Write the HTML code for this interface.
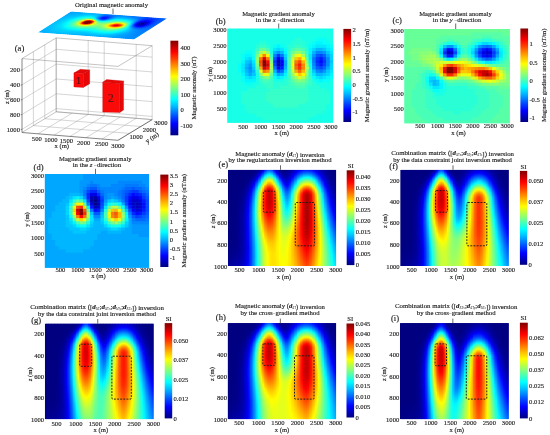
<!DOCTYPE html>
<html lang="en"><head><meta charset="utf-8"><title>Figure</title>
<style>html,body{margin:0;padding:0;background:#fff}svg{display:block}text{stroke:#222;stroke-width:.14px;stroke-linejoin:round}</style></head>
<body>
<svg width="550" height="435" viewBox="0 0 550 435" font-family='"Liberation Serif", "DejaVu Serif", serif' fill="#1a1a1a">
<defs><clipPath id="cp1"><rect x="0" y="0" width="100" height="100"/></clipPath><linearGradient id="g2" x2="0" y2="1"><stop offset="0" stop-color="#00a1ff"/><stop offset=".52" stop-color="#00bfff"/><stop offset=".72" stop-color="#00bbff"/><stop offset="1" stop-color="#00aaff"/></linearGradient><linearGradient id="g3" x2="0" y2="1"><stop offset="0" stop-color="#00a2ff"/><stop offset=".36" stop-color="#00beff"/><stop offset=".51" stop-color="#00c4ff"/><stop offset=".71" stop-color="#00bfff"/><stop offset="1" stop-color="#00acff"/></linearGradient><linearGradient id="g4" x2="0" y2="1"><stop offset="0" stop-color="#00a3ff"/><stop offset=".35" stop-color="#00c4ff"/><stop offset=".49" stop-color="#00caff"/><stop offset=".68" stop-color="#00c6ff"/><stop offset="1" stop-color="#00aeff"/></linearGradient><linearGradient id="g5" x2="0" y2="1"><stop offset="0" stop-color="#00a4ff"/><stop offset=".35" stop-color="#00cbff"/><stop offset=".48" stop-color="#00d3ff"/><stop offset=".65" stop-color="#00cdff"/><stop offset="1" stop-color="#00b0ff"/></linearGradient><linearGradient id="g6" x2="0" y2="1"><stop offset="0" stop-color="#00a5ff"/><stop offset=".35" stop-color="#00d5ff"/><stop offset=".47" stop-color="#00ddff"/><stop offset=".59" stop-color="#00d8ff"/><stop offset="1" stop-color="#00b2ff"/></linearGradient><linearGradient id="g7" x2="0" y2="1"><stop offset="0" stop-color="#00a6ff"/><stop offset=".14" stop-color="#00b8ff"/><stop offset=".35" stop-color="#00e2ff"/><stop offset=".46" stop-color="#00ebff"/><stop offset=".56" stop-color="#00e6ff"/><stop offset="1" stop-color="#00b4ff"/></linearGradient><linearGradient id="g8" x2="0" y2="1"><stop offset="0" stop-color="#00a7ff"/><stop offset=".14" stop-color="#00bcff"/><stop offset=".35" stop-color="#00f3ff"/><stop offset=".45" stop-color="#00fdff"/><stop offset=".54" stop-color="#00f7ff"/><stop offset=".78" stop-color="#00ceff"/><stop offset="1" stop-color="#00b5ff"/></linearGradient><linearGradient id="g9" x2="0" y2="1"><stop offset="0" stop-color="#00a8ff"/><stop offset=".14" stop-color="#00c2ff"/><stop offset=".33" stop-color="#03fffc"/><stop offset=".4" stop-color="#11ffee"/><stop offset=".46" stop-color="#15ffea"/><stop offset=".59" stop-color="#00feff"/><stop offset=".78" stop-color="#00d2ff"/><stop offset="1" stop-color="#00b6ff"/></linearGradient><linearGradient id="g10" x2="0" y2="1"><stop offset="0" stop-color="#00a9ff"/><stop offset=".12" stop-color="#00c4ff"/><stop offset=".27" stop-color="#00ffff"/><stop offset=".36" stop-color="#24ffdb"/><stop offset=".45" stop-color="#31ffce"/><stop offset=".52" stop-color="#27ffd8"/><stop offset=".65" stop-color="#00feff"/><stop offset=".8" stop-color="#00d2ff"/><stop offset="1" stop-color="#00b7ff"/></linearGradient><linearGradient id="g11" x2="0" y2="1"><stop offset="0" stop-color="#00aaff"/><stop offset=".11" stop-color="#00c6ff"/><stop offset=".24" stop-color="#03fffc"/><stop offset=".35" stop-color="#3fffc0"/><stop offset=".4" stop-color="#4cffb3"/><stop offset=".44" stop-color="#52ffad"/><stop offset=".52" stop-color="#43ffbc"/><stop offset=".68" stop-color="#00ffff"/><stop offset=".81" stop-color="#00d4ff"/><stop offset="1" stop-color="#00b7ff"/></linearGradient><linearGradient id="g12" x2="0" y2="1"><stop offset="0" stop-color="#00abff"/><stop offset=".1" stop-color="#00c7ff"/><stop offset=".21" stop-color="#00ffff"/><stop offset=".35" stop-color="#64ff9b"/><stop offset=".4" stop-color="#77ff88"/><stop offset=".44" stop-color="#7cff83"/><stop offset=".48" stop-color="#74ff8b"/><stop offset=".52" stop-color="#64ff9b"/><stop offset=".7" stop-color="#02fffd"/><stop offset=".82" stop-color="#00d4ff"/><stop offset="1" stop-color="#00b8ff"/></linearGradient><linearGradient id="g13" x2="0" y2="1"><stop offset="0" stop-color="#00abff"/><stop offset=".09" stop-color="#00c7ff"/><stop offset=".19" stop-color="#00fdff"/><stop offset=".25" stop-color="#32ffcd"/><stop offset=".36" stop-color="#a4ff5b"/><stop offset=".4" stop-color="#b8ff47"/><stop offset=".43" stop-color="#beff41"/><stop offset=".48" stop-color="#aaff55"/><stop offset=".64" stop-color="#34ffcb"/><stop offset=".72" stop-color="#00ffff"/><stop offset=".83" stop-color="#00d4ff"/><stop offset="1" stop-color="#00b7ff"/></linearGradient><linearGradient id="g14" x2="0" y2="1"><stop offset="0" stop-color="#00aaff"/><stop offset=".08" stop-color="#00c4ff"/><stop offset=".14" stop-color="#00e0ff"/><stop offset=".18" stop-color="#00fdff"/><stop offset=".19" stop-color="#07fff8"/><stop offset=".23" stop-color="#2fffd0"/><stop offset=".27" stop-color="#63ff9c"/><stop offset=".3" stop-color="#95ff6a"/><stop offset=".35" stop-color="#f3ff0c"/><stop offset=".36" stop-color="#fffa00"/><stop offset=".4" stop-color="#ffd500"/><stop offset=".42" stop-color="#ffce00"/><stop offset=".45" stop-color="#ffdc00"/><stop offset=".48" stop-color="#fcff03"/><stop offset=".54" stop-color="#a4ff5b"/><stop offset=".58" stop-color="#75ff8a"/><stop offset=".66" stop-color="#34ffcb"/><stop offset=".73" stop-color="#02fffd"/><stop offset=".84" stop-color="#00d2ff"/><stop offset="1" stop-color="#00b7ff"/></linearGradient><linearGradient id="g15" x2="0" y2="1"><stop offset="0" stop-color="#00a9ff"/><stop offset=".09" stop-color="#00c8ff"/><stop offset=".14" stop-color="#00dfff"/><stop offset=".18" stop-color="#00ffff"/><stop offset=".22" stop-color="#2cffd3"/><stop offset=".25" stop-color="#5bffa4"/><stop offset=".28" stop-color="#9cff63"/><stop offset=".31" stop-color="#f3ff0c"/><stop offset=".32" stop-color="#ffe900"/><stop offset=".35" stop-color="#ff8400"/><stop offset=".38" stop-color="#ff4a00"/><stop offset=".4" stop-color="#ff2400"/><stop offset=".42" stop-color="#ff1900"/><stop offset=".43" stop-color="#ff1e00"/><stop offset=".45" stop-color="#ff3b00"/><stop offset=".47" stop-color="#ff6b00"/><stop offset=".52" stop-color="#fff900"/><stop offset=".53" stop-color="#ecff13"/><stop offset=".55" stop-color="#c1ff3e"/><stop offset=".57" stop-color="#9fff60"/><stop offset=".61" stop-color="#69ff96"/><stop offset=".68" stop-color="#2effd1"/><stop offset=".74" stop-color="#01fffe"/><stop offset=".8" stop-color="#00e1ff"/><stop offset=".85" stop-color="#00d0ff"/><stop offset="1" stop-color="#00b6ff"/></linearGradient><linearGradient id="g16" x2="0" y2="1"><stop offset="0" stop-color="#00a6ff"/><stop offset=".1" stop-color="#00c6ff"/><stop offset=".15" stop-color="#00deff"/><stop offset=".19" stop-color="#02fffd"/><stop offset=".22" stop-color="#29ffd6"/><stop offset=".25" stop-color="#65ff9a"/><stop offset=".27" stop-color="#9dff62"/><stop offset=".29" stop-color="#e7ff18"/><stop offset=".3" stop-color="#ffeb00"/><stop offset=".34" stop-color="#ff1e00"/><stop offset=".35" stop-color="#ea0000"/><stop offset=".38" stop-color="#8f0000"/><stop offset=".39" stop-color="#800000"/><stop offset=".45" stop-color="#800000"/><stop offset=".46" stop-color="#a40000"/><stop offset=".48" stop-color="#fc0000"/><stop offset=".51" stop-color="#ff8600"/><stop offset=".53" stop-color="#ffd400"/><stop offset=".54" stop-color="#fff600"/><stop offset=".55" stop-color="#ebff14"/><stop offset=".58" stop-color="#a7ff58"/><stop offset=".62" stop-color="#6bff94"/><stop offset=".68" stop-color="#36ffc9"/><stop offset=".74" stop-color="#05fffa"/><stop offset=".75" stop-color="#00fdff"/><stop offset=".8" stop-color="#00e3ff"/><stop offset=".85" stop-color="#00d0ff"/><stop offset="1" stop-color="#00b5ff"/></linearGradient><linearGradient id="g17" x2="0" y2="1"><stop offset="0" stop-color="#00a2ff"/><stop offset=".07" stop-color="#00aeff"/><stop offset=".12" stop-color="#00beff"/><stop offset=".17" stop-color="#00d6ff"/><stop offset=".21" stop-color="#03fffc"/><stop offset=".23" stop-color="#27ffd8"/><stop offset=".25" stop-color="#59ffa6"/><stop offset=".27" stop-color="#9dff62"/><stop offset=".29" stop-color="#f9ff06"/><stop offset=".3" stop-color="#ffcf00"/><stop offset=".33" stop-color="#ff1000"/><stop offset=".34" stop-color="#cb0000"/><stop offset=".35" stop-color="#890000"/><stop offset=".36" stop-color="#800000"/><stop offset=".47" stop-color="#800000"/><stop offset=".48" stop-color="#9e0000"/><stop offset=".49" stop-color="#d90000"/><stop offset=".5" stop-color="#ff1400"/><stop offset=".52" stop-color="#ff7e00"/><stop offset=".54" stop-color="#ffd400"/><stop offset=".55" stop-color="#fff800"/><stop offset=".56" stop-color="#e8ff17"/><stop offset=".59" stop-color="#a3ff5c"/><stop offset=".64" stop-color="#67ff98"/><stop offset=".69" stop-color="#31ffce"/><stop offset=".75" stop-color="#00ffff"/><stop offset=".8" stop-color="#00e3ff"/><stop offset=".85" stop-color="#00d0ff"/><stop offset="1" stop-color="#00b4ff"/></linearGradient><linearGradient id="g18" x2="0" y2="1"><stop offset="0" stop-color="#009cff"/><stop offset=".1" stop-color="#009eff"/><stop offset=".16" stop-color="#00a9ff"/><stop offset=".2" stop-color="#00c8ff"/><stop offset=".23" stop-color="#00f9ff"/><stop offset=".24" stop-color="#11ffee"/><stop offset=".26" stop-color="#4effb1"/><stop offset=".28" stop-color="#a1ff5e"/><stop offset=".29" stop-color="#d3ff2c"/><stop offset=".3" stop-color="#fff200"/><stop offset=".33" stop-color="#ff2e00"/><stop offset=".34" stop-color="#e80000"/><stop offset=".35" stop-color="#a50000"/><stop offset=".36" stop-color="#800000"/><stop offset=".47" stop-color="#800000"/><stop offset=".48" stop-color="#a70000"/><stop offset=".49" stop-color="#e00000"/><stop offset=".5" stop-color="#ff1900"/><stop offset=".52" stop-color="#ff8000"/><stop offset=".54" stop-color="#ffd400"/><stop offset=".55" stop-color="#fff700"/><stop offset=".56" stop-color="#e9ff16"/><stop offset=".59" stop-color="#a4ff5b"/><stop offset=".64" stop-color="#69ff96"/><stop offset=".69" stop-color="#32ffcd"/><stop offset=".75" stop-color="#01fffe"/><stop offset=".8" stop-color="#00e3ff"/><stop offset=".85" stop-color="#00cfff"/><stop offset="1" stop-color="#00b3ff"/></linearGradient><linearGradient id="g19" x2="0" y2="1"><stop offset="0" stop-color="#0093ff"/><stop offset=".14" stop-color="#0077ff"/><stop offset=".18" stop-color="#007dff"/><stop offset=".2" stop-color="#008cff"/><stop offset=".22" stop-color="#00a5ff"/><stop offset=".24" stop-color="#00ccff"/><stop offset=".26" stop-color="#05fffa"/><stop offset=".28" stop-color="#50ffaf"/><stop offset=".29" stop-color="#7dff82"/><stop offset=".31" stop-color="#e4ff1b"/><stop offset=".32" stop-color="#ffe100"/><stop offset=".35" stop-color="#ff3400"/><stop offset=".36" stop-color="#fe0000"/><stop offset=".38" stop-color="#d00000"/><stop offset=".39" stop-color="#a90000"/><stop offset=".4" stop-color="#8c0000"/><stop offset=".41" stop-color="#800000"/><stop offset=".43" stop-color="#800000"/><stop offset=".44" stop-color="#870000"/><stop offset=".45" stop-color="#9f0000"/><stop offset=".47" stop-color="#e50000"/><stop offset=".48" stop-color="#ff0e00"/><stop offset=".51" stop-color="#ff8b00"/><stop offset=".53" stop-color="#ffd400"/><stop offset=".54" stop-color="#fff300"/><stop offset=".55" stop-color="#efff10"/><stop offset=".58" stop-color="#aeff51"/><stop offset=".62" stop-color="#72ff8d"/><stop offset=".69" stop-color="#31ffce"/><stop offset=".75" stop-color="#00ffff"/><stop offset=".8" stop-color="#00e2ff"/><stop offset=".85" stop-color="#00ceff"/><stop offset="1" stop-color="#00b2ff"/></linearGradient><linearGradient id="g20" x2="0" y2="1"><stop offset="0" stop-color="#008bff"/><stop offset=".05" stop-color="#007aff"/><stop offset=".15" stop-color="#0046ff"/><stop offset=".17" stop-color="#0042ff"/><stop offset=".19" stop-color="#0046ff"/><stop offset=".22" stop-color="#0061ff"/><stop offset=".24" stop-color="#0083ff"/><stop offset=".26" stop-color="#00b4ff"/><stop offset=".28" stop-color="#00f3ff"/><stop offset=".29" stop-color="#19ffe6"/><stop offset=".3" stop-color="#41ffbe"/><stop offset=".34" stop-color="#f0ff0f"/><stop offset=".35" stop-color="#ffe300"/><stop offset=".38" stop-color="#ff9800"/><stop offset=".4" stop-color="#ff6300"/><stop offset=".41" stop-color="#ff5200"/><stop offset=".43" stop-color="#ff4700"/><stop offset=".44" stop-color="#ff4c00"/><stop offset=".46" stop-color="#ff6800"/><stop offset=".52" stop-color="#fff400"/><stop offset=".53" stop-color="#f4ff0b"/><stop offset=".57" stop-color="#acff53"/><stop offset=".61" stop-color="#76ff89"/><stop offset=".68" stop-color="#37ffc8"/><stop offset=".74" stop-color="#05fffa"/><stop offset=".75" stop-color="#00fdff"/><stop offset=".8" stop-color="#00e1ff"/><stop offset=".85" stop-color="#00cdff"/><stop offset="1" stop-color="#00b0ff"/></linearGradient><linearGradient id="g21" x2="0" y2="1"><stop offset="0" stop-color="#0084ff"/><stop offset=".05" stop-color="#006bff"/><stop offset=".15" stop-color="#0022ff"/><stop offset=".17" stop-color="#0019ff"/><stop offset=".19" stop-color="#0018ff"/><stop offset=".22" stop-color="#002cff"/><stop offset=".24" stop-color="#004aff"/><stop offset=".27" stop-color="#008fff"/><stop offset=".3" stop-color="#00ebff"/><stop offset=".31" stop-color="#0dfff2"/><stop offset=".35" stop-color="#94ff6b"/><stop offset=".38" stop-color="#ccff33"/><stop offset=".4" stop-color="#f7ff08"/><stop offset=".41" stop-color="#fff800"/><stop offset=".42" stop-color="#ffed00"/><stop offset=".44" stop-color="#ffe400"/><stop offset=".46" stop-color="#ffea00"/><stop offset=".48" stop-color="#fffb00"/><stop offset=".49" stop-color="#f8ff07"/><stop offset=".56" stop-color="#a2ff5d"/><stop offset=".61" stop-color="#6cff93"/><stop offset=".68" stop-color="#32ffcd"/><stop offset=".74" stop-color="#03fffc"/><stop offset=".85" stop-color="#00ccff"/><stop offset="1" stop-color="#00afff"/></linearGradient><linearGradient id="g22" x2="0" y2="1"><stop offset="0" stop-color="#007fff"/><stop offset=".05" stop-color="#0065ff"/><stop offset=".16" stop-color="#000eff"/><stop offset=".18" stop-color="#0007ff"/><stop offset=".2" stop-color="#0009ff"/><stop offset=".22" stop-color="#0018ff"/><stop offset=".25" stop-color="#0044ff"/><stop offset=".28" stop-color="#0089ff"/><stop offset=".32" stop-color="#00f8ff"/><stop offset=".33" stop-color="#15ffea"/><stop offset=".36" stop-color="#62ff9d"/><stop offset=".4" stop-color="#9cff63"/><stop offset=".43" stop-color="#beff41"/><stop offset=".46" stop-color="#c8ff37"/><stop offset=".49" stop-color="#c1ff3e"/><stop offset=".52" stop-color="#afff50"/><stop offset=".68" stop-color="#2effd1"/><stop offset=".74" stop-color="#01fffe"/><stop offset=".85" stop-color="#00cbff"/><stop offset="1" stop-color="#00aeff"/></linearGradient><linearGradient id="g23" x2="0" y2="1"><stop offset="0" stop-color="#007eff"/><stop offset=".05" stop-color="#0066ff"/><stop offset=".16" stop-color="#001bff"/><stop offset=".18" stop-color="#0016ff"/><stop offset=".2" stop-color="#0019ff"/><stop offset=".22" stop-color="#0026ff"/><stop offset=".25" stop-color="#004eff"/><stop offset=".28" stop-color="#008bff"/><stop offset=".33" stop-color="#03fffc"/><stop offset=".38" stop-color="#57ffa8"/><stop offset=".41" stop-color="#83ff7c"/><stop offset=".44" stop-color="#9cff63"/><stop offset=".47" stop-color="#a5ff5a"/><stop offset=".51" stop-color="#9dff62"/><stop offset=".55" stop-color="#88ff77"/><stop offset=".74" stop-color="#01fffe"/><stop offset=".85" stop-color="#00cbff"/><stop offset="1" stop-color="#00adff"/></linearGradient><linearGradient id="g24" x2="0" y2="1"><stop offset="0" stop-color="#007eff"/><stop offset=".05" stop-color="#006eff"/><stop offset=".15" stop-color="#0041ff"/><stop offset=".19" stop-color="#003eff"/><stop offset=".22" stop-color="#0050ff"/><stop offset=".24" stop-color="#0066ff"/><stop offset=".27" stop-color="#0095ff"/><stop offset=".32" stop-color="#00f7ff"/><stop offset=".33" stop-color="#0cfff3"/><stop offset=".38" stop-color="#51ffae"/><stop offset=".41" stop-color="#75ff8a"/><stop offset=".44" stop-color="#8cff73"/><stop offset=".48" stop-color="#95ff6a"/><stop offset=".52" stop-color="#8dff72"/><stop offset=".56" stop-color="#78ff87"/><stop offset=".74" stop-color="#02fffd"/><stop offset=".86" stop-color="#00c9ff"/><stop offset="1" stop-color="#00acff"/></linearGradient><linearGradient id="g25" x2="0" y2="1"><stop offset="0" stop-color="#0080ff"/><stop offset=".14" stop-color="#006aff"/><stop offset=".19" stop-color="#0071ff"/><stop offset=".21" stop-color="#007cff"/><stop offset=".24" stop-color="#0098ff"/><stop offset=".27" stop-color="#00c0ff"/><stop offset=".31" stop-color="#01fffe"/><stop offset=".35" stop-color="#3effc1"/><stop offset=".4" stop-color="#6dff92"/><stop offset=".44" stop-color="#88ff77"/><stop offset=".48" stop-color="#90ff6f"/><stop offset=".52" stop-color="#88ff77"/><stop offset=".56" stop-color="#75ff8a"/><stop offset=".75" stop-color="#00fdff"/><stop offset=".86" stop-color="#00caff"/><stop offset="1" stop-color="#00abff"/></linearGradient><linearGradient id="g26" x2="0" y2="1"><stop offset="0" stop-color="#0082ff"/><stop offset=".1" stop-color="#0086ff"/><stop offset=".17" stop-color="#0095ff"/><stop offset=".22" stop-color="#00b5ff"/><stop offset=".28" stop-color="#00f7ff"/><stop offset=".29" stop-color="#04fffb"/><stop offset=".35" stop-color="#50ffaf"/><stop offset=".4" stop-color="#78ff87"/><stop offset=".44" stop-color="#90ff6f"/><stop offset=".47" stop-color="#96ff69"/><stop offset=".51" stop-color="#90ff6f"/><stop offset=".55" stop-color="#7eff81"/><stop offset=".75" stop-color="#02fffd"/><stop offset=".88" stop-color="#00c8ff"/><stop offset="1" stop-color="#00abff"/></linearGradient><linearGradient id="g27" x2="0" y2="1"><stop offset="0" stop-color="#0082ff"/><stop offset=".07" stop-color="#008eff"/><stop offset=".14" stop-color="#00a5ff"/><stop offset=".2" stop-color="#00caff"/><stop offset=".26" stop-color="#02fffd"/><stop offset=".35" stop-color="#66ff99"/><stop offset=".4" stop-color="#8dff72"/><stop offset=".44" stop-color="#a5ff5a"/><stop offset=".47" stop-color="#abff54"/><stop offset=".5" stop-color="#a5ff5a"/><stop offset=".54" stop-color="#90ff6f"/><stop offset=".76" stop-color="#00ffff"/><stop offset=".88" stop-color="#00c9ff"/><stop offset="1" stop-color="#00aaff"/></linearGradient><linearGradient id="g28" x2="0" y2="1"><stop offset="0" stop-color="#0082ff"/><stop offset=".05" stop-color="#008dff"/><stop offset=".1" stop-color="#00a2ff"/><stop offset=".17" stop-color="#00c9ff"/><stop offset=".23" stop-color="#00fbff"/><stop offset=".28" stop-color="#2effd1"/><stop offset=".41" stop-color="#b8ff47"/><stop offset=".44" stop-color="#cdff32"/><stop offset=".46" stop-color="#d3ff2c"/><stop offset=".48" stop-color="#d0ff2f"/><stop offset=".51" stop-color="#c1ff3e"/><stop offset=".65" stop-color="#53ffac"/><stop offset=".77" stop-color="#00feff"/><stop offset=".89" stop-color="#00c7ff"/><stop offset="1" stop-color="#00aaff"/></linearGradient><linearGradient id="g29" x2="0" y2="1"><stop offset="0" stop-color="#0081ff"/><stop offset=".04" stop-color="#008aff"/><stop offset=".09" stop-color="#00a1ff"/><stop offset=".15" stop-color="#00c4ff"/><stop offset=".22" stop-color="#01fffe"/><stop offset=".3" stop-color="#57ffa8"/><stop offset=".4" stop-color="#e0ff1f"/><stop offset=".42" stop-color="#faff05"/><stop offset=".43" stop-color="#fffa00"/><stop offset=".46" stop-color="#ffec00"/><stop offset=".48" stop-color="#fff000"/><stop offset=".5" stop-color="#feff01"/><stop offset=".58" stop-color="#99ff66"/><stop offset=".62" stop-color="#6fff90"/><stop offset=".69" stop-color="#3dffc2"/><stop offset=".77" stop-color="#04fffb"/><stop offset=".89" stop-color="#00c9ff"/><stop offset="1" stop-color="#00aaff"/></linearGradient><linearGradient id="g30" x2="0" y2="1"><stop offset="0" stop-color="#007fff"/><stop offset=".04" stop-color="#0089ff"/><stop offset=".09" stop-color="#00a2ff"/><stop offset=".15" stop-color="#00c7ff"/><stop offset=".21" stop-color="#00feff"/><stop offset=".26" stop-color="#33ffcc"/><stop offset=".3" stop-color="#68ff97"/><stop offset=".33" stop-color="#9dff62"/><stop offset=".38" stop-color="#f3ff0c"/><stop offset=".39" stop-color="#fff500"/><stop offset=".41" stop-color="#ffcb00"/><stop offset=".43" stop-color="#ffab00"/><stop offset=".45" stop-color="#ff9a00"/><stop offset=".46" stop-color="#ff9700"/><stop offset=".47" stop-color="#ff9a00"/><stop offset=".49" stop-color="#ffaa00"/><stop offset=".51" stop-color="#ffc800"/><stop offset=".54" stop-color="#fdff02"/><stop offset=".59" stop-color="#a3ff5c"/><stop offset=".64" stop-color="#71ff8e"/><stop offset=".7" stop-color="#3bffc4"/><stop offset=".78" stop-color="#01fffe"/><stop offset=".89" stop-color="#00caff"/><stop offset="1" stop-color="#00aaff"/></linearGradient><linearGradient id="g31" x2="0" y2="1"><stop offset="0" stop-color="#007cff"/><stop offset=".04" stop-color="#0087ff"/><stop offset=".09" stop-color="#00a1ff"/><stop offset=".21" stop-color="#01fffe"/><stop offset=".26" stop-color="#39ffc6"/><stop offset=".29" stop-color="#65ff9a"/><stop offset=".32" stop-color="#a0ff5f"/><stop offset=".35" stop-color="#edff12"/><stop offset=".36" stop-color="#fff400"/><stop offset=".4" stop-color="#ff9c00"/><stop offset=".42" stop-color="#ff6a00"/><stop offset=".44" stop-color="#ff4800"/><stop offset=".46" stop-color="#ff3d00"/><stop offset=".48" stop-color="#ff4900"/><stop offset=".5" stop-color="#ff6b00"/><stop offset=".55" stop-color="#ffea00"/><stop offset=".56" stop-color="#faff05"/><stop offset=".59" stop-color="#b8ff47"/><stop offset=".64" stop-color="#7bff84"/><stop offset=".69" stop-color="#48ffb7"/><stop offset=".78" stop-color="#03fffc"/><stop offset=".9" stop-color="#00c6ff"/><stop offset="1" stop-color="#00a9ff"/></linearGradient><linearGradient id="g32" x2="0" y2="1"><stop offset="0" stop-color="#0079ff"/><stop offset=".04" stop-color="#0084ff"/><stop offset=".09" stop-color="#009fff"/><stop offset=".15" stop-color="#00c6ff"/><stop offset=".21" stop-color="#01fffe"/><stop offset=".26" stop-color="#3cffc3"/><stop offset=".29" stop-color="#6cff93"/><stop offset=".32" stop-color="#afff50"/><stop offset=".34" stop-color="#eaff15"/><stop offset=".35" stop-color="#fff300"/><stop offset=".41" stop-color="#ff4600"/><stop offset=".43" stop-color="#ff1200"/><stop offset=".44" stop-color="#ff0100"/><stop offset=".46" stop-color="#f20000"/><stop offset=".48" stop-color="#ff0300"/><stop offset=".49" stop-color="#ff1500"/><stop offset=".51" stop-color="#ff4900"/><stop offset=".56" stop-color="#ffe800"/><stop offset=".57" stop-color="#f9ff06"/><stop offset=".6" stop-color="#b2ff4d"/><stop offset=".65" stop-color="#74ff8b"/><stop offset=".7" stop-color="#42ffbd"/><stop offset=".78" stop-color="#04fffb"/><stop offset=".9" stop-color="#00c6ff"/><stop offset="1" stop-color="#00a9ff"/></linearGradient><linearGradient id="g33" x2="0" y2="1"><stop offset="0" stop-color="#0076ff"/><stop offset=".04" stop-color="#0081ff"/><stop offset=".09" stop-color="#009bff"/><stop offset=".15" stop-color="#00c3ff"/><stop offset=".21" stop-color="#00fcff"/><stop offset=".25" stop-color="#2bffd4"/><stop offset=".28" stop-color="#59ffa6"/><stop offset=".31" stop-color="#98ff67"/><stop offset=".34" stop-color="#f2ff0d"/><stop offset=".35" stop-color="#ffe900"/><stop offset=".41" stop-color="#ff2e00"/><stop offset=".42" stop-color="#ff0f00"/><stop offset=".43" stop-color="#f40000"/><stop offset=".45" stop-color="#d60000"/><stop offset=".46" stop-color="#d30000"/><stop offset=".47" stop-color="#d80000"/><stop offset=".49" stop-color="#f80000"/><stop offset=".5" stop-color="#ff1300"/><stop offset=".51" stop-color="#ff3100"/><stop offset=".57" stop-color="#fffd00"/><stop offset=".6" stop-color="#b5ff4a"/><stop offset=".62" stop-color="#90ff6f"/><stop offset=".65" stop-color="#74ff8b"/><stop offset=".7" stop-color="#41ffbe"/><stop offset=".78" stop-color="#03fffc"/><stop offset=".9" stop-color="#00c5ff"/><stop offset="1" stop-color="#00a8ff"/></linearGradient><linearGradient id="g34" x2="0" y2="1"><stop offset="0" stop-color="#0073ff"/><stop offset=".04" stop-color="#007cff"/><stop offset=".09" stop-color="#0096ff"/><stop offset=".15" stop-color="#00bdff"/><stop offset=".22" stop-color="#01fffe"/><stop offset=".26" stop-color="#31ffce"/><stop offset=".29" stop-color="#62ff9d"/><stop offset=".32" stop-color="#a7ff58"/><stop offset=".34" stop-color="#e4ff1b"/><stop offset=".35" stop-color="#fff800"/><stop offset=".41" stop-color="#ff4300"/><stop offset=".43" stop-color="#ff0c00"/><stop offset=".44" stop-color="#f90000"/><stop offset=".46" stop-color="#eb0000"/><stop offset=".48" stop-color="#fb0000"/><stop offset=".49" stop-color="#ff0f00"/><stop offset=".51" stop-color="#ff4400"/><stop offset=".56" stop-color="#ffea00"/><stop offset=".57" stop-color="#f6ff09"/><stop offset=".6" stop-color="#adff52"/><stop offset=".62" stop-color="#89ff76"/><stop offset=".65" stop-color="#6eff91"/><stop offset=".7" stop-color="#3cffc3"/><stop offset=".78" stop-color="#00ffff"/><stop offset=".89" stop-color="#00c7ff"/><stop offset="1" stop-color="#00a7ff"/></linearGradient><linearGradient id="g35" x2="0" y2="1"><stop offset="0" stop-color="#006fff"/><stop offset=".05" stop-color="#007bff"/><stop offset=".1" stop-color="#0097ff"/><stop offset=".17" stop-color="#00c6ff"/><stop offset=".23" stop-color="#00ffff"/><stop offset=".26" stop-color="#23ffdc"/><stop offset=".29" stop-color="#4fffb0"/><stop offset=".32" stop-color="#8dff72"/><stop offset=".34" stop-color="#c2ff3d"/><stop offset=".36" stop-color="#ffff00"/><stop offset=".38" stop-color="#ffdf00"/><stop offset=".41" stop-color="#ff8200"/><stop offset=".43" stop-color="#ff5300"/><stop offset=".45" stop-color="#ff3900"/><stop offset=".46" stop-color="#ff3600"/><stop offset=".47" stop-color="#ff3900"/><stop offset=".49" stop-color="#ff5200"/><stop offset=".51" stop-color="#ff7f00"/><stop offset=".55" stop-color="#fff100"/><stop offset=".56" stop-color="#f2ff0d"/><stop offset=".59" stop-color="#acff53"/><stop offset=".64" stop-color="#6dff92"/><stop offset=".69" stop-color="#3cffc3"/><stop offset=".77" stop-color="#01fffe"/><stop offset=".89" stop-color="#00c4ff"/><stop offset="1" stop-color="#00a5ff"/></linearGradient><linearGradient id="g36" x2="0" y2="1"><stop offset="0" stop-color="#006bff"/><stop offset=".05" stop-color="#0076ff"/><stop offset=".1" stop-color="#008fff"/><stop offset=".17" stop-color="#00baff"/><stop offset=".25" stop-color="#03fffc"/><stop offset=".28" stop-color="#26ffd9"/><stop offset=".31" stop-color="#53ffac"/><stop offset=".34" stop-color="#90ff6f"/><stop offset=".39" stop-color="#f3ff0c"/><stop offset=".4" stop-color="#fff200"/><stop offset=".43" stop-color="#ffb600"/><stop offset=".45" stop-color="#ffa100"/><stop offset=".46" stop-color="#ff9e00"/><stop offset=".47" stop-color="#ffa000"/><stop offset=".49" stop-color="#ffb200"/><stop offset=".51" stop-color="#ffd200"/><stop offset=".53" stop-color="#fffb00"/><stop offset=".58" stop-color="#9eff61"/><stop offset=".62" stop-color="#65ff9a"/><stop offset=".68" stop-color="#37ffc8"/><stop offset=".76" stop-color="#00feff"/><stop offset=".88" stop-color="#00c4ff"/><stop offset="1" stop-color="#00a4ff"/></linearGradient><linearGradient id="g37" x2="0" y2="1"><stop offset="0" stop-color="#0066ff"/><stop offset=".05" stop-color="#006fff"/><stop offset=".11" stop-color="#008aff"/><stop offset=".2" stop-color="#00c0ff"/><stop offset=".28" stop-color="#04fffb"/><stop offset=".33" stop-color="#45ffba"/><stop offset=".42" stop-color="#cfff30"/><stop offset=".45" stop-color="#ecff13"/><stop offset=".47" stop-color="#f0ff0f"/><stop offset=".49" stop-color="#e7ff18"/><stop offset=".51" stop-color="#d3ff2c"/><stop offset=".57" stop-color="#82ff7d"/><stop offset=".61" stop-color="#56ffa9"/><stop offset=".67" stop-color="#2effd1"/><stop offset=".74" stop-color="#01fffe"/><stop offset=".88" stop-color="#00c0ff"/><stop offset="1" stop-color="#00a2ff"/></linearGradient><linearGradient id="g38" x2="0" y2="1"><stop offset="0" stop-color="#0061ff"/><stop offset=".06" stop-color="#006aff"/><stop offset=".14" stop-color="#0086ff"/><stop offset=".26" stop-color="#00c8ff"/><stop offset=".32" stop-color="#00faff"/><stop offset=".33" stop-color="#06fff9"/><stop offset=".43" stop-color="#75ff8a"/><stop offset=".46" stop-color="#88ff77"/><stop offset=".48" stop-color="#8aff75"/><stop offset=".51" stop-color="#80ff7f"/><stop offset=".61" stop-color="#38ffc7"/><stop offset=".72" stop-color="#00feff"/><stop offset=".86" stop-color="#00bdff"/><stop offset="1" stop-color="#00a0ff"/></linearGradient><linearGradient id="g39" x2="0" y2="1"><stop offset="0" stop-color="#005cff"/><stop offset=".08" stop-color="#0064ff"/><stop offset=".27" stop-color="#0099ff"/><stop offset=".32" stop-color="#00b6ff"/><stop offset=".41" stop-color="#04fffb"/><stop offset=".46" stop-color="#2cffd3"/><stop offset=".51" stop-color="#38ffc7"/><stop offset=".56" stop-color="#2dffd2"/><stop offset=".69" stop-color="#00fcff"/><stop offset=".85" stop-color="#00baff"/><stop offset="1" stop-color="#009eff"/></linearGradient><linearGradient id="g40" x2="0" y2="1"><stop offset="0" stop-color="#0057ff"/><stop offset=".25" stop-color="#0056ff"/><stop offset=".3" stop-color="#005eff"/><stop offset=".35" stop-color="#007bff"/><stop offset=".47" stop-color="#00e2ff"/><stop offset=".51" stop-color="#00f8ff"/><stop offset=".54" stop-color="#01fffe"/><stop offset=".62" stop-color="#00fbff"/><stop offset=".85" stop-color="#00b3ff"/><stop offset="1" stop-color="#009cff"/></linearGradient><linearGradient id="g41" x2="0" y2="1"><stop offset="0" stop-color="#0053ff"/><stop offset=".14" stop-color="#0040ff"/><stop offset=".27" stop-color="#0011ff"/><stop offset=".31" stop-color="#0012ff"/><stop offset=".34" stop-color="#0020ff"/><stop offset=".38" stop-color="#0038ff"/><stop offset=".47" stop-color="#009eff"/><stop offset=".51" stop-color="#00c1ff"/><stop offset=".55" stop-color="#00d7ff"/><stop offset=".59" stop-color="#00e0ff"/><stop offset=".66" stop-color="#00ddff"/><stop offset=".85" stop-color="#00acff"/><stop offset="1" stop-color="#009aff"/></linearGradient><linearGradient id="g42" x2="0" y2="1"><stop offset="0" stop-color="#004fff"/><stop offset=".11" stop-color="#0033ff"/><stop offset=".2" stop-color="#0003ff"/><stop offset=".26" stop-color="#0000d8"/><stop offset=".3" stop-color="#0000cb"/><stop offset=".34" stop-color="#0000d7"/><stop offset=".39" stop-color="#0000fa"/><stop offset=".4" stop-color="#0007ff"/><stop offset=".47" stop-color="#0065ff"/><stop offset=".51" stop-color="#0094ff"/><stop offset=".55" stop-color="#00b3ff"/><stop offset=".59" stop-color="#00c4ff"/><stop offset=".67" stop-color="#00c7ff"/><stop offset=".86" stop-color="#00a4ff"/><stop offset="1" stop-color="#0098ff"/></linearGradient><linearGradient id="g43" x2="0" y2="1"><stop offset="0" stop-color="#004dff"/><stop offset=".09" stop-color="#0032ff"/><stop offset=".17" stop-color="#0005ff"/><stop offset=".18" stop-color="#0000fb"/><stop offset=".26" stop-color="#0000b3"/><stop offset=".29" stop-color="#0000a3"/><stop offset=".31" stop-color="#0000a0"/><stop offset=".33" stop-color="#0000a4"/><stop offset=".36" stop-color="#0000b7"/><stop offset=".42" stop-color="#0000f4"/><stop offset=".43" stop-color="#0003ff"/><stop offset=".48" stop-color="#004dff"/><stop offset=".52" stop-color="#007dff"/><stop offset=".56" stop-color="#009dff"/><stop offset=".6" stop-color="#00afff"/><stop offset=".68" stop-color="#00b5ff"/><stop offset=".88" stop-color="#009eff"/><stop offset="1" stop-color="#0096ff"/></linearGradient><linearGradient id="g44" x2="0" y2="1"><stop offset="0" stop-color="#004cff"/><stop offset=".09" stop-color="#002fff"/><stop offset=".17" stop-color="#0000ff"/><stop offset=".26" stop-color="#0000ac"/><stop offset=".29" stop-color="#00009b"/><stop offset=".31" stop-color="#000097"/><stop offset=".33" stop-color="#00009a"/><stop offset=".36" stop-color="#0000ab"/><stop offset=".4" stop-color="#0000ca"/><stop offset=".43" stop-color="#0000f2"/><stop offset=".44" stop-color="#0001ff"/><stop offset=".49" stop-color="#0047ff"/><stop offset=".53" stop-color="#0073ff"/><stop offset=".57" stop-color="#0090ff"/><stop offset=".61" stop-color="#00a0ff"/><stop offset=".7" stop-color="#00a6ff"/><stop offset="1" stop-color="#0095ff"/></linearGradient><linearGradient id="g45" x2="0" y2="1"><stop offset="0" stop-color="#004eff"/><stop offset=".1" stop-color="#002dff"/><stop offset=".18" stop-color="#0001ff"/><stop offset=".26" stop-color="#0000bf"/><stop offset=".31" stop-color="#0000ad"/><stop offset=".33" stop-color="#0000af"/><stop offset=".36" stop-color="#0000be"/><stop offset=".43" stop-color="#0000fa"/><stop offset=".44" stop-color="#0008ff"/><stop offset=".49" stop-color="#0044ff"/><stop offset=".53" stop-color="#006aff"/><stop offset=".57" stop-color="#0084ff"/><stop offset=".61" stop-color="#0093ff"/><stop offset=".7" stop-color="#009bff"/><stop offset="1" stop-color="#0094ff"/></linearGradient><linearGradient id="g46" x2="0" y2="1"><stop offset="0" stop-color="#0050ff"/><stop offset=".11" stop-color="#0032ff"/><stop offset=".21" stop-color="#0001ff"/><stop offset=".27" stop-color="#0000df"/><stop offset=".31" stop-color="#0000d6"/><stop offset=".35" stop-color="#0000df"/><stop offset=".4" stop-color="#0000f8"/><stop offset=".41" stop-color="#0001ff"/><stop offset=".52" stop-color="#0062ff"/><stop offset=".56" stop-color="#0079ff"/><stop offset=".6" stop-color="#0088ff"/><stop offset=".71" stop-color="#0093ff"/><stop offset="1" stop-color="#0093ff"/></linearGradient><linearGradient id="g47" x2="0" y2="1"><stop offset="0" stop-color="#0054ff"/><stop offset=".12" stop-color="#003aff"/><stop offset=".27" stop-color="#0009ff"/><stop offset=".32" stop-color="#0005ff"/><stop offset=".39" stop-color="#0018ff"/><stop offset=".53" stop-color="#006bff"/><stop offset=".6" stop-color="#0082ff"/><stop offset=".72" stop-color="#008eff"/><stop offset="1" stop-color="#0092ff"/></linearGradient><linearGradient id="g48" x2="0" y2="1"><stop offset="0" stop-color="#0059ff"/><stop offset=".25" stop-color="#002fff"/><stop offset=".31" stop-color="#002aff"/><stop offset=".38" stop-color="#0035ff"/><stop offset=".52" stop-color="#006bff"/><stop offset=".61" stop-color="#0080ff"/><stop offset=".74" stop-color="#008aff"/><stop offset="1" stop-color="#0092ff"/></linearGradient><linearGradient id="g49" x2="0" y2="1"><stop offset="0" stop-color="#005eff"/><stop offset=".22" stop-color="#0048ff"/><stop offset=".31" stop-color="#0045ff"/><stop offset=".38" stop-color="#004cff"/><stop offset=".53" stop-color="#0071ff"/><stop offset=".62" stop-color="#007fff"/><stop offset="1" stop-color="#0091ff"/></linearGradient><linearGradient id="g50" x2="0" y2="1"><stop offset="0" stop-color="#0063ff"/><stop offset=".12" stop-color="#0058ff"/><stop offset=".31" stop-color="#0055ff"/><stop offset=".66" stop-color="#0081ff"/><stop offset="1" stop-color="#0091ff"/></linearGradient><linearGradient id="g51" x2="0" y2="1"><stop offset="0" stop-color="#0068ff"/><stop offset=".12" stop-color="#005fff"/><stop offset=".31" stop-color="#0060ff"/><stop offset=".7" stop-color="#0084ff"/><stop offset="1" stop-color="#0091ff"/></linearGradient><linearGradient id="cb52" x1="0" y1="0" x2="0" y2="1"><stop offset="0" stop-color="#800000"/><stop offset="0.06" stop-color="#bf0000"/><stop offset="0.12" stop-color="#ff0000"/><stop offset="0.19" stop-color="#ff4000"/><stop offset="0.25" stop-color="#ff8000"/><stop offset="0.31" stop-color="#ffbf00"/><stop offset="0.38" stop-color="#ffff00"/><stop offset="0.44" stop-color="#bfff40"/><stop offset="0.5" stop-color="#80ff80"/><stop offset="0.56" stop-color="#40ffbf"/><stop offset="0.62" stop-color="#00ffff"/><stop offset="0.69" stop-color="#00bfff"/><stop offset="0.75" stop-color="#0080ff"/><stop offset="0.81" stop-color="#0040ff"/><stop offset="0.88" stop-color="#0000ff"/><stop offset="0.94" stop-color="#0000bf"/><stop offset="1" stop-color="#000080"/></linearGradient><clipPath id="cp53"><rect x="227.2" y="28.5" width="106.1" height="94.4"/></clipPath><linearGradient id="cb54" x1="0" y1="0" x2="0" y2="1"><stop offset="0" stop-color="#800000"/><stop offset="0.06" stop-color="#bf0000"/><stop offset="0.12" stop-color="#ff0000"/><stop offset="0.19" stop-color="#ff4000"/><stop offset="0.25" stop-color="#ff8000"/><stop offset="0.31" stop-color="#ffbf00"/><stop offset="0.38" stop-color="#ffff00"/><stop offset="0.44" stop-color="#bfff40"/><stop offset="0.5" stop-color="#80ff80"/><stop offset="0.56" stop-color="#40ffbf"/><stop offset="0.62" stop-color="#00ffff"/><stop offset="0.69" stop-color="#00bfff"/><stop offset="0.75" stop-color="#0080ff"/><stop offset="0.81" stop-color="#0040ff"/><stop offset="0.88" stop-color="#0000ff"/><stop offset="0.94" stop-color="#0000bf"/><stop offset="1" stop-color="#000080"/></linearGradient><clipPath id="cp55"><rect x="404.4" y="29" width="105.3" height="94.3"/></clipPath><linearGradient id="cb56" x1="0" y1="0" x2="0" y2="1"><stop offset="0" stop-color="#800000"/><stop offset="0.06" stop-color="#bf0000"/><stop offset="0.12" stop-color="#ff0000"/><stop offset="0.19" stop-color="#ff4000"/><stop offset="0.25" stop-color="#ff8000"/><stop offset="0.31" stop-color="#ffbf00"/><stop offset="0.38" stop-color="#ffff00"/><stop offset="0.44" stop-color="#bfff40"/><stop offset="0.5" stop-color="#80ff80"/><stop offset="0.56" stop-color="#40ffbf"/><stop offset="0.62" stop-color="#00ffff"/><stop offset="0.69" stop-color="#00bfff"/><stop offset="0.75" stop-color="#0080ff"/><stop offset="0.81" stop-color="#0040ff"/><stop offset="0.88" stop-color="#0000ff"/><stop offset="0.94" stop-color="#0000bf"/><stop offset="1" stop-color="#000080"/></linearGradient><clipPath id="cp57"><rect x="44.8" y="174" width="104.3" height="93.9"/></clipPath><linearGradient id="cb58" x1="0" y1="0" x2="0" y2="1"><stop offset="0" stop-color="#800000"/><stop offset="0.06" stop-color="#bf0000"/><stop offset="0.12" stop-color="#ff0000"/><stop offset="0.19" stop-color="#ff4000"/><stop offset="0.25" stop-color="#ff8000"/><stop offset="0.31" stop-color="#ffbf00"/><stop offset="0.38" stop-color="#ffff00"/><stop offset="0.44" stop-color="#bfff40"/><stop offset="0.5" stop-color="#80ff80"/><stop offset="0.56" stop-color="#40ffbf"/><stop offset="0.62" stop-color="#00ffff"/><stop offset="0.69" stop-color="#00bfff"/><stop offset="0.75" stop-color="#0080ff"/><stop offset="0.81" stop-color="#0040ff"/><stop offset="0.88" stop-color="#0000ff"/><stop offset="0.94" stop-color="#0000bf"/><stop offset="1" stop-color="#000080"/></linearGradient><clipPath id="cp59"><rect x="227.9" y="169.8" width="108.2" height="96.3"/></clipPath><linearGradient id="g60" x2="0" y2="1"><stop offset="0" stop-color="#000080"/><stop offset=".75" stop-color="#000081"/><stop offset=".89" stop-color="#00008a"/><stop offset="1" stop-color="#00009b"/></linearGradient><linearGradient id="g61" x2="0" y2="1"><stop offset="0" stop-color="#000080"/><stop offset=".75" stop-color="#000082"/><stop offset=".89" stop-color="#00008b"/><stop offset="1" stop-color="#00009e"/></linearGradient><linearGradient id="g62" x2="0" y2="1"><stop offset="0" stop-color="#000080"/><stop offset=".76" stop-color="#000083"/><stop offset=".89" stop-color="#00008d"/><stop offset="1" stop-color="#0000a1"/></linearGradient><linearGradient id="g63" x2="0" y2="1"><stop offset="0" stop-color="#000080"/><stop offset=".76" stop-color="#000084"/><stop offset=".89" stop-color="#00008f"/><stop offset="1" stop-color="#0000a4"/></linearGradient><linearGradient id="g64" x2="0" y2="1"><stop offset="0" stop-color="#000080"/><stop offset=".77" stop-color="#000086"/><stop offset=".89" stop-color="#000091"/><stop offset="1" stop-color="#0000a7"/></linearGradient><linearGradient id="g65" x2="0" y2="1"><stop offset="0" stop-color="#000080"/><stop offset=".78" stop-color="#000089"/><stop offset=".89" stop-color="#000094"/><stop offset="1" stop-color="#0000ab"/></linearGradient><linearGradient id="g66" x2="0" y2="1"><stop offset="0" stop-color="#000080"/><stop offset=".79" stop-color="#00008e"/><stop offset=".9" stop-color="#000099"/><stop offset="1" stop-color="#0000b0"/></linearGradient><linearGradient id="g67" x2="0" y2="1"><stop offset="0" stop-color="#000080"/><stop offset=".18" stop-color="#000081"/><stop offset=".49" stop-color="#000091"/><stop offset=".8" stop-color="#000094"/><stop offset=".9" stop-color="#00009e"/><stop offset="1" stop-color="#0000b5"/></linearGradient><linearGradient id="g68" x2="0" y2="1"><stop offset="0" stop-color="#000080"/><stop offset=".17" stop-color="#000081"/><stop offset=".48" stop-color="#000099"/><stop offset=".81" stop-color="#00009c"/><stop offset=".91" stop-color="#0000a7"/><stop offset="1" stop-color="#0000bc"/></linearGradient><linearGradient id="g69" x2="0" y2="1"><stop offset="0" stop-color="#000080"/><stop offset=".16" stop-color="#000082"/><stop offset=".48" stop-color="#0000a4"/><stop offset=".83" stop-color="#0000a8"/><stop offset=".92" stop-color="#0000b2"/><stop offset="1" stop-color="#0000c5"/></linearGradient><linearGradient id="g70" x2="0" y2="1"><stop offset="0" stop-color="#000080"/><stop offset=".15" stop-color="#000083"/><stop offset=".45" stop-color="#0000b2"/><stop offset=".83" stop-color="#0000b5"/><stop offset=".92" stop-color="#0000be"/><stop offset="1" stop-color="#0000d0"/></linearGradient><linearGradient id="g71" x2="0" y2="1"><stop offset="0" stop-color="#000080"/><stop offset=".14" stop-color="#000085"/><stop offset=".34" stop-color="#0000b7"/><stop offset=".45" stop-color="#0000c7"/><stop offset=".55" stop-color="#0000cb"/><stop offset=".83" stop-color="#0000c7"/><stop offset=".92" stop-color="#0000ce"/><stop offset="1" stop-color="#0000df"/></linearGradient><linearGradient id="g72" x2="0" y2="1"><stop offset="0" stop-color="#000080"/><stop offset=".12" stop-color="#000087"/><stop offset=".33" stop-color="#0000cb"/><stop offset=".45" stop-color="#0000e1"/><stop offset=".55" stop-color="#0000e6"/><stop offset=".83" stop-color="#0000dd"/><stop offset=".92" stop-color="#0000e3"/><stop offset="1" stop-color="#0000f2"/></linearGradient><linearGradient id="g73" x2="0" y2="1"><stop offset="0" stop-color="#000080"/><stop offset=".06" stop-color="#000081"/><stop offset=".11" stop-color="#00008a"/><stop offset=".29" stop-color="#0000da"/><stop offset=".42" stop-color="#0000ff"/><stop offset=".53" stop-color="#0008ff"/><stop offset=".81" stop-color="#0000f8"/><stop offset=".93" stop-color="#0000fe"/><stop offset="1" stop-color="#000bff"/></linearGradient><linearGradient id="g74" x2="0" y2="1"><stop offset="0" stop-color="#000080"/><stop offset=".06" stop-color="#000083"/><stop offset=".11" stop-color="#000092"/><stop offset=".24" stop-color="#0000e3"/><stop offset=".3" stop-color="#0003ff"/><stop offset=".39" stop-color="#0022ff"/><stop offset=".48" stop-color="#0031ff"/><stop offset=".56" stop-color="#0030ff"/><stop offset=".82" stop-color="#001aff"/><stop offset=".91" stop-color="#001cff"/><stop offset="1" stop-color="#0029ff"/></linearGradient><linearGradient id="g75" x2="0" y2="1"><stop offset="0" stop-color="#000080"/><stop offset=".06" stop-color="#000086"/><stop offset=".1" stop-color="#000098"/><stop offset=".15" stop-color="#0000b7"/><stop offset=".22" stop-color="#0000fb"/><stop offset=".23" stop-color="#0004ff"/><stop offset=".34" stop-color="#0045ff"/><stop offset=".4" stop-color="#0057ff"/><stop offset=".46" stop-color="#0061ff"/><stop offset=".55" stop-color="#0060ff"/><stop offset=".82" stop-color="#0040ff"/><stop offset=".91" stop-color="#0041ff"/><stop offset="1" stop-color="#004cff"/></linearGradient><linearGradient id="g76" x2="0" y2="1"><stop offset="0" stop-color="#000080"/><stop offset=".04" stop-color="#000085"/><stop offset=".08" stop-color="#000098"/><stop offset=".12" stop-color="#0000bc"/><stop offset=".18" stop-color="#0000fa"/><stop offset=".19" stop-color="#0008ff"/><stop offset=".24" stop-color="#003fff"/><stop offset=".3" stop-color="#0069ff"/><stop offset=".36" stop-color="#0088ff"/><stop offset=".44" stop-color="#0099ff"/><stop offset=".54" stop-color="#0097ff"/><stop offset=".81" stop-color="#006cff"/><stop offset=".91" stop-color="#006aff"/><stop offset="1" stop-color="#0073ff"/></linearGradient><linearGradient id="g77" x2="0" y2="1"><stop offset="0" stop-color="#000081"/><stop offset=".04" stop-color="#00008b"/><stop offset=".07" stop-color="#00009f"/><stop offset=".1" stop-color="#0000c0"/><stop offset=".15" stop-color="#0000fb"/><stop offset=".16" stop-color="#000cff"/><stop offset=".21" stop-color="#005aff"/><stop offset=".25" stop-color="#0086ff"/><stop offset=".33" stop-color="#00bdff"/><stop offset=".42" stop-color="#00d9ff"/><stop offset=".47" stop-color="#00dcff"/><stop offset=".52" stop-color="#00d8ff"/><stop offset=".73" stop-color="#00a8ff"/><stop offset=".81" stop-color="#009bff"/><stop offset=".91" stop-color="#0098ff"/><stop offset="1" stop-color="#009fff"/></linearGradient><linearGradient id="g78" x2="0" y2="1"><stop offset="0" stop-color="#000082"/><stop offset=".03" stop-color="#00008e"/><stop offset=".06" stop-color="#0000a8"/><stop offset=".08" stop-color="#0000c2"/><stop offset=".11" stop-color="#0000f4"/><stop offset=".12" stop-color="#0007ff"/><stop offset=".19" stop-color="#007eff"/><stop offset=".23" stop-color="#00bcff"/><stop offset=".28" stop-color="#00e8ff"/><stop offset=".32" stop-color="#04fffb"/><stop offset=".39" stop-color="#1effe1"/><stop offset=".45" stop-color="#25ffda"/><stop offset=".52" stop-color="#1cffe3"/><stop offset=".62" stop-color="#00fdff"/><stop offset=".73" stop-color="#00deff"/><stop offset=".81" stop-color="#00ceff"/><stop offset=".91" stop-color="#00c8ff"/><stop offset="1" stop-color="#00ceff"/></linearGradient><linearGradient id="g79" x2="0" y2="1"><stop offset="0" stop-color="#000087"/><stop offset=".04" stop-color="#0000a6"/><stop offset=".06" stop-color="#0000c2"/><stop offset=".09" stop-color="#0000f9"/><stop offset=".1" stop-color="#000fff"/><stop offset=".19" stop-color="#00caff"/><stop offset=".22" stop-color="#02fffd"/><stop offset=".25" stop-color="#24ffdb"/><stop offset=".32" stop-color="#56ffa9"/><stop offset=".38" stop-color="#6bff94"/><stop offset=".43" stop-color="#72ff8d"/><stop offset=".52" stop-color="#63ff9c"/><stop offset=".7" stop-color="#21ffde"/><stop offset=".79" stop-color="#06fff9"/><stop offset=".83" stop-color="#00ffff"/><stop offset=".92" stop-color="#00faff"/><stop offset="1" stop-color="#00feff"/></linearGradient><linearGradient id="g80" x2="0" y2="1"><stop offset="0" stop-color="#00008f"/><stop offset=".03" stop-color="#0000b0"/><stop offset=".05" stop-color="#0000d1"/><stop offset=".07" stop-color="#0000fb"/><stop offset=".08" stop-color="#0014ff"/><stop offset=".1" stop-color="#0047ff"/><stop offset=".17" stop-color="#00eeff"/><stop offset=".18" stop-color="#09fff6"/><stop offset=".2" stop-color="#37ffc8"/><stop offset=".22" stop-color="#5cffa3"/><stop offset=".25" stop-color="#7fff80"/><stop offset=".33" stop-color="#b1ff4e"/><stop offset=".41" stop-color="#c2ff3d"/><stop offset=".45" stop-color="#bfff40"/><stop offset=".5" stop-color="#b2ff4d"/><stop offset=".7" stop-color="#5affa5"/><stop offset=".79" stop-color="#3bffc4"/><stop offset=".89" stop-color="#2dffd2"/><stop offset="1" stop-color="#30ffcf"/></linearGradient><linearGradient id="g81" x2="0" y2="1"><stop offset="0" stop-color="#00009e"/><stop offset=".02" stop-color="#0000bc"/><stop offset=".05" stop-color="#0000fa"/><stop offset=".06" stop-color="#0014ff"/><stop offset=".08" stop-color="#004cff"/><stop offset=".14" stop-color="#00e9ff"/><stop offset=".15" stop-color="#0afff5"/><stop offset=".19" stop-color="#7dff82"/><stop offset=".22" stop-color="#bbff44"/><stop offset=".25" stop-color="#dcff23"/><stop offset=".31" stop-color="#ffff00"/><stop offset=".35" stop-color="#fff000"/><stop offset=".4" stop-color="#ffeb00"/><stop offset=".44" stop-color="#fff000"/><stop offset=".49" stop-color="#fdff02"/><stop offset=".69" stop-color="#96ff69"/><stop offset=".77" stop-color="#74ff8b"/><stop offset=".88" stop-color="#5effa1"/><stop offset="1" stop-color="#5effa1"/></linearGradient><linearGradient id="g82" x2="0" y2="1"><stop offset="0" stop-color="#0000b7"/><stop offset=".03" stop-color="#0000f6"/><stop offset=".04" stop-color="#0011ff"/><stop offset=".07" stop-color="#006aff"/><stop offset=".11" stop-color="#00f4ff"/><stop offset=".12" stop-color="#19ffe6"/><stop offset=".16" stop-color="#80ff7f"/><stop offset=".18" stop-color="#beff41"/><stop offset=".2" stop-color="#f2ff0d"/><stop offset=".21" stop-color="#fff700"/><stop offset=".23" stop-color="#ffd700"/><stop offset=".25" stop-color="#ffc700"/><stop offset=".32" stop-color="#ffa700"/><stop offset=".38" stop-color="#ff9e00"/><stop offset=".42" stop-color="#ffa200"/><stop offset=".47" stop-color="#ffb300"/><stop offset=".6" stop-color="#fcff03"/><stop offset=".71" stop-color="#bfff40"/><stop offset=".8" stop-color="#9aff65"/><stop offset=".9" stop-color="#89ff76"/><stop offset="1" stop-color="#89ff76"/></linearGradient><linearGradient id="g83" x2="0" y2="1"><stop offset="0" stop-color="#0000d9"/><stop offset=".01" stop-color="#0000f0"/><stop offset=".02" stop-color="#000bff"/><stop offset=".05" stop-color="#0064ff"/><stop offset=".09" stop-color="#00f3ff"/><stop offset=".1" stop-color="#1bffe4"/><stop offset=".15" stop-color="#b2ff4d"/><stop offset=".17" stop-color="#f7ff08"/><stop offset=".18" stop-color="#ffe800"/><stop offset=".21" stop-color="#ff9e00"/><stop offset=".23" stop-color="#ff8000"/><stop offset=".24" stop-color="#ff7800"/><stop offset=".31" stop-color="#ff5f00"/><stop offset=".36" stop-color="#ff5700"/><stop offset=".42" stop-color="#ff6000"/><stop offset=".47" stop-color="#ff7600"/><stop offset=".68" stop-color="#feff01"/><stop offset=".76" stop-color="#d2ff2d"/><stop offset=".83" stop-color="#baff45"/><stop offset=".91" stop-color="#afff50"/><stop offset="1" stop-color="#afff50"/></linearGradient><linearGradient id="g84" x2="0" y2="1"><stop offset="0" stop-color="#0003ff"/><stop offset=".03" stop-color="#0059ff"/><stop offset=".07" stop-color="#00e6ff"/><stop offset=".08" stop-color="#0efff1"/><stop offset=".15" stop-color="#fcff03"/><stop offset=".17" stop-color="#ffbb00"/><stop offset=".19" stop-color="#ff7f00"/><stop offset=".21" stop-color="#ff5200"/><stop offset=".22" stop-color="#ff4100"/><stop offset=".24" stop-color="#ff2e00"/><stop offset=".34" stop-color="#ff1b00"/><stop offset=".4" stop-color="#ff2200"/><stop offset=".46" stop-color="#ff3d00"/><stop offset=".66" stop-color="#ffcc00"/><stop offset=".74" stop-color="#ffff00"/><stop offset=".79" stop-color="#e8ff17"/><stop offset=".85" stop-color="#d7ff28"/><stop offset=".93" stop-color="#ceff31"/><stop offset="1" stop-color="#cfff30"/></linearGradient><linearGradient id="g85" x2="0" y2="1"><stop offset="0" stop-color="#002bff"/><stop offset=".03" stop-color="#0086ff"/><stop offset=".06" stop-color="#00f2ff"/><stop offset=".07" stop-color="#1affe5"/><stop offset=".12" stop-color="#e8ff17"/><stop offset=".14" stop-color="#ffee00"/><stop offset=".16" stop-color="#ffa200"/><stop offset=".18" stop-color="#ff6000"/><stop offset=".2" stop-color="#ff2b00"/><stop offset=".22" stop-color="#ff0700"/><stop offset=".23" stop-color="#fb0000"/><stop offset=".25" stop-color="#f30000"/><stop offset=".33" stop-color="#ec0000"/><stop offset=".41" stop-color="#fb0000"/><stop offset=".42" stop-color="#ff0000"/><stop offset=".47" stop-color="#ff1e00"/><stop offset=".67" stop-color="#ffb600"/><stop offset=".77" stop-color="#fff200"/><stop offset=".8" stop-color="#ffff00"/><stop offset=".9" stop-color="#ebff14"/><stop offset="1" stop-color="#e8ff17"/></linearGradient><linearGradient id="g86" x2="0" y2="1"><stop offset="0" stop-color="#004aff"/><stop offset=".02" stop-color="#0085ff"/><stop offset=".05" stop-color="#00edff"/><stop offset=".06" stop-color="#14ffeb"/><stop offset=".11" stop-color="#e4ff1b"/><stop offset=".12" stop-color="#fff100"/><stop offset=".15" stop-color="#ffa100"/><stop offset=".17" stop-color="#ff5900"/><stop offset=".2" stop-color="#ff0500"/><stop offset=".22" stop-color="#e10000"/><stop offset=".24" stop-color="#d20000"/><stop offset=".32" stop-color="#cf0000"/><stop offset=".39" stop-color="#d90000"/><stop offset=".46" stop-color="#ff0000"/><stop offset=".66" stop-color="#ff9b00"/><stop offset=".76" stop-color="#ffda00"/><stop offset=".81" stop-color="#ffef00"/><stop offset=".88" stop-color="#fffd00"/><stop offset="1" stop-color="#fcff03"/></linearGradient><linearGradient id="g87" x2="0" y2="1"><stop offset="0" stop-color="#0056ff"/><stop offset=".02" stop-color="#0091ff"/><stop offset=".05" stop-color="#00faff"/><stop offset=".07" stop-color="#49ffb6"/><stop offset=".11" stop-color="#f1ff0e"/><stop offset=".12" stop-color="#ffe300"/><stop offset=".15" stop-color="#ff9300"/><stop offset=".17" stop-color="#ff4b00"/><stop offset=".19" stop-color="#ff1000"/><stop offset=".2" stop-color="#f70000"/><stop offset=".22" stop-color="#d40000"/><stop offset=".24" stop-color="#c50000"/><stop offset=".32" stop-color="#c40000"/><stop offset=".4" stop-color="#d40000"/><stop offset=".47" stop-color="#fe0000"/><stop offset=".66" stop-color="#ff9100"/><stop offset=".76" stop-color="#ffce00"/><stop offset=".86" stop-color="#ffee00"/><stop offset="1" stop-color="#fff400"/></linearGradient><linearGradient id="g88" x2="0" y2="1"><stop offset="0" stop-color="#004cff"/><stop offset=".02" stop-color="#0087ff"/><stop offset=".05" stop-color="#00f0ff"/><stop offset=".06" stop-color="#17ffe8"/><stop offset=".11" stop-color="#e7ff18"/><stop offset=".12" stop-color="#ffed00"/><stop offset=".16" stop-color="#ff7800"/><stop offset=".18" stop-color="#ff3600"/><stop offset=".2" stop-color="#ff0200"/><stop offset=".21" stop-color="#ed0000"/><stop offset=".23" stop-color="#d40000"/><stop offset=".24" stop-color="#cf0000"/><stop offset=".33" stop-color="#cc0000"/><stop offset=".4" stop-color="#db0000"/><stop offset=".46" stop-color="#fc0000"/><stop offset=".65" stop-color="#ff8700"/><stop offset=".76" stop-color="#ffc800"/><stop offset=".86" stop-color="#ffe500"/><stop offset="1" stop-color="#ffe900"/></linearGradient><linearGradient id="g89" x2="0" y2="1"><stop offset="0" stop-color="#0030ff"/><stop offset=".03" stop-color="#008bff"/><stop offset=".06" stop-color="#00f7ff"/><stop offset=".07" stop-color="#20ffdf"/><stop offset=".12" stop-color="#eeff11"/><stop offset=".14" stop-color="#ffe700"/><stop offset=".17" stop-color="#ff7900"/><stop offset=".19" stop-color="#ff3d00"/><stop offset=".21" stop-color="#ff1100"/><stop offset=".22" stop-color="#ff0100"/><stop offset=".23" stop-color="#f50000"/><stop offset=".25" stop-color="#ed0000"/><stop offset=".34" stop-color="#e70000"/><stop offset=".39" stop-color="#ef0000"/><stop offset=".43" stop-color="#ff0000"/><stop offset=".65" stop-color="#ff8d00"/><stop offset=".76" stop-color="#ffc700"/><stop offset=".86" stop-color="#ffe100"/><stop offset="1" stop-color="#ffe300"/></linearGradient><linearGradient id="g90" x2="0" y2="1"><stop offset="0" stop-color="#0008ff"/><stop offset=".03" stop-color="#005fff"/><stop offset=".07" stop-color="#00edff"/><stop offset=".08" stop-color="#16ffe9"/><stop offset=".14" stop-color="#dfff20"/><stop offset=".15" stop-color="#fff900"/><stop offset=".17" stop-color="#ffb200"/><stop offset=".19" stop-color="#ff7600"/><stop offset=".21" stop-color="#ff4900"/><stop offset=".22" stop-color="#ff3900"/><stop offset=".24" stop-color="#ff2600"/><stop offset=".34" stop-color="#ff1400"/><stop offset=".39" stop-color="#ff1800"/><stop offset=".44" stop-color="#ff2a00"/><stop offset=".64" stop-color="#ff9700"/><stop offset=".77" stop-color="#ffd000"/><stop offset=".88" stop-color="#ffe300"/><stop offset="1" stop-color="#ffe100"/></linearGradient><linearGradient id="g91" x2="0" y2="1"><stop offset="0" stop-color="#0000de"/><stop offset=".01" stop-color="#0000f6"/><stop offset=".02" stop-color="#0011ff"/><stop offset=".05" stop-color="#006cff"/><stop offset=".09" stop-color="#00fcff"/><stop offset=".1" stop-color="#24ffdb"/><stop offset=".15" stop-color="#bcff43"/><stop offset=".17" stop-color="#fffd00"/><stop offset=".2" stop-color="#ffa900"/><stop offset=".22" stop-color="#ff8200"/><stop offset=".23" stop-color="#ff7600"/><stop offset=".28" stop-color="#ff5e00"/><stop offset=".35" stop-color="#ff4e00"/><stop offset=".4" stop-color="#ff5100"/><stop offset=".44" stop-color="#ff5b00"/><stop offset=".61" stop-color="#ffa600"/><stop offset=".77" stop-color="#ffdb00"/><stop offset=".88" stop-color="#ffe800"/><stop offset="1" stop-color="#ffe400"/></linearGradient><linearGradient id="g92" x2="0" y2="1"><stop offset="0" stop-color="#0000bb"/><stop offset=".03" stop-color="#0000fc"/><stop offset=".06" stop-color="#0052ff"/><stop offset=".11" stop-color="#00feff"/><stop offset=".17" stop-color="#acff53"/><stop offset=".2" stop-color="#feff01"/><stop offset=".22" stop-color="#ffd900"/><stop offset=".24" stop-color="#ffc100"/><stop offset=".32" stop-color="#ff9c00"/><stop offset=".38" stop-color="#ff9200"/><stop offset=".44" stop-color="#ff9800"/><stop offset=".58" stop-color="#ffc000"/><stop offset=".78" stop-color="#ffea00"/><stop offset=".88" stop-color="#fff000"/><stop offset="1" stop-color="#ffe900"/></linearGradient><linearGradient id="g93" x2="0" y2="1"><stop offset="0" stop-color="#0000a1"/><stop offset=".02" stop-color="#0000c0"/><stop offset=".05" stop-color="#0001ff"/><stop offset=".08" stop-color="#0054ff"/><stop offset=".14" stop-color="#00f4ff"/><stop offset=".15" stop-color="#15ffea"/><stop offset=".19" stop-color="#89ff76"/><stop offset=".22" stop-color="#c8ff37"/><stop offset=".24" stop-color="#e1ff1e"/><stop offset=".29" stop-color="#fffd00"/><stop offset=".35" stop-color="#ffe200"/><stop offset=".41" stop-color="#ffdc00"/><stop offset=".81" stop-color="#fffa00"/><stop offset="1" stop-color="#fff000"/></linearGradient><linearGradient id="g94" x2="0" y2="1"><stop offset="0" stop-color="#000091"/><stop offset=".03" stop-color="#0000b3"/><stop offset=".07" stop-color="#0002ff"/><stop offset=".1" stop-color="#004fff"/><stop offset=".17" stop-color="#00f9ff"/><stop offset=".18" stop-color="#15ffea"/><stop offset=".21" stop-color="#58ffa7"/><stop offset=".24" stop-color="#84ff7b"/><stop offset=".31" stop-color="#b6ff49"/><stop offset=".38" stop-color="#d0ff2f"/><stop offset=".69" stop-color="#fbff04"/><stop offset=".8" stop-color="#f9ff06"/><stop offset=".91" stop-color="#ffff00"/><stop offset="1" stop-color="#fff700"/></linearGradient><linearGradient id="g95" x2="0" y2="1"><stop offset="0" stop-color="#000088"/><stop offset=".02" stop-color="#000094"/><stop offset=".04" stop-color="#0000a9"/><stop offset=".06" stop-color="#0000c6"/><stop offset=".09" stop-color="#0000ff"/><stop offset=".18" stop-color="#00c0ff"/><stop offset=".21" stop-color="#00feff"/><stop offset=".23" stop-color="#1fffe0"/><stop offset=".25" stop-color="#34ffcb"/><stop offset=".34" stop-color="#75ff8a"/><stop offset=".4" stop-color="#8aff75"/><stop offset=".53" stop-color="#b1ff4e"/><stop offset=".66" stop-color="#e0ff1f"/><stop offset=".71" stop-color="#ebff14"/><stop offset="1" stop-color="#fffc00"/></linearGradient><linearGradient id="g96" x2="0" y2="1"><stop offset="0" stop-color="#000084"/><stop offset=".03" stop-color="#000091"/><stop offset=".05" stop-color="#0000a1"/><stop offset=".08" stop-color="#0000c7"/><stop offset=".11" stop-color="#0000fb"/><stop offset=".21" stop-color="#00b0ff"/><stop offset=".24" stop-color="#00daff"/><stop offset=".28" stop-color="#00ffff"/><stop offset=".35" stop-color="#32ffcd"/><stop offset=".5" stop-color="#75ff8a"/><stop offset=".68" stop-color="#d8ff27"/><stop offset=".72" stop-color="#e2ff1d"/><stop offset="1" stop-color="#ffff00"/></linearGradient><linearGradient id="g97" x2="0" y2="1"><stop offset="0" stop-color="#000085"/><stop offset=".04" stop-color="#000090"/><stop offset=".07" stop-color="#0000a6"/><stop offset=".1" stop-color="#0000ca"/><stop offset=".14" stop-color="#0000f8"/><stop offset=".15" stop-color="#000aff"/><stop offset=".2" stop-color="#0062ff"/><stop offset=".24" stop-color="#009aff"/><stop offset=".3" stop-color="#00d1ff"/><stop offset=".36" stop-color="#00fdff"/><stop offset=".47" stop-color="#3cffc3"/><stop offset=".62" stop-color="#b1ff4e"/><stop offset=".69" stop-color="#d5ff2a"/><stop offset=".81" stop-color="#ecff13"/><stop offset="1" stop-color="#ffff00"/></linearGradient><linearGradient id="g98" x2="0" y2="1"><stop offset="0" stop-color="#000088"/><stop offset=".04" stop-color="#000092"/><stop offset=".08" stop-color="#0000a9"/><stop offset=".11" stop-color="#0000c7"/><stop offset=".16" stop-color="#0000fd"/><stop offset=".22" stop-color="#0058ff"/><stop offset=".26" stop-color="#0086ff"/><stop offset=".33" stop-color="#00c2ff"/><stop offset=".42" stop-color="#00fcff"/><stop offset=".48" stop-color="#2cffd3"/><stop offset=".62" stop-color="#aeff51"/><stop offset=".69" stop-color="#d7ff28"/><stop offset=".72" stop-color="#e2ff1d"/><stop offset=".83" stop-color="#f4ff0b"/><stop offset="1" stop-color="#fffc00"/></linearGradient><linearGradient id="g99" x2="0" y2="1"><stop offset="0" stop-color="#00008d"/><stop offset=".04" stop-color="#000099"/><stop offset=".08" stop-color="#0000af"/><stop offset=".11" stop-color="#0000c9"/><stop offset=".16" stop-color="#0000f9"/><stop offset=".17" stop-color="#0008ff"/><stop offset=".22" stop-color="#004eff"/><stop offset=".26" stop-color="#007cff"/><stop offset=".43" stop-color="#00fdff"/><stop offset=".48" stop-color="#2affd5"/><stop offset=".61" stop-color="#adff52"/><stop offset=".69" stop-color="#e0ff1f"/><stop offset=".73" stop-color="#edff12"/><stop offset=".84" stop-color="#ffff00"/><stop offset="1" stop-color="#fff700"/></linearGradient><linearGradient id="g100" x2="0" y2="1"><stop offset="0" stop-color="#000093"/><stop offset=".07" stop-color="#0000b8"/><stop offset=".1" stop-color="#0000d2"/><stop offset=".15" stop-color="#0001ff"/><stop offset=".22" stop-color="#0063ff"/><stop offset=".26" stop-color="#0091ff"/><stop offset=".41" stop-color="#00feff"/><stop offset=".48" stop-color="#3cffc3"/><stop offset=".61" stop-color="#beff41"/><stop offset=".69" stop-color="#efff10"/><stop offset=".75" stop-color="#fffe00"/><stop offset=".86" stop-color="#fff100"/><stop offset="1" stop-color="#ffef00"/></linearGradient><linearGradient id="g101" x2="0" y2="1"><stop offset="0" stop-color="#00009b"/><stop offset=".05" stop-color="#0000ba"/><stop offset=".11" stop-color="#0000f9"/><stop offset=".12" stop-color="#0007ff"/><stop offset=".22" stop-color="#008eff"/><stop offset=".25" stop-color="#00b3ff"/><stop offset=".35" stop-color="#00feff"/><stop offset=".46" stop-color="#4bffb4"/><stop offset=".61" stop-color="#d7ff28"/><stop offset=".68" stop-color="#fffe00"/><stop offset=".72" stop-color="#fff000"/><stop offset=".8" stop-color="#ffe500"/><stop offset="1" stop-color="#ffe500"/></linearGradient><linearGradient id="g102" x2="0" y2="1"><stop offset="0" stop-color="#0000a6"/><stop offset=".05" stop-color="#0000ce"/><stop offset=".09" stop-color="#0000ff"/><stop offset=".12" stop-color="#002eff"/><stop offset=".22" stop-color="#00c8ff"/><stop offset=".25" stop-color="#00f0ff"/><stop offset=".27" stop-color="#03fffc"/><stop offset=".44" stop-color="#6bff94"/><stop offset=".62" stop-color="#feff01"/><stop offset=".69" stop-color="#ffe000"/><stop offset=".75" stop-color="#ffd400"/><stop offset=".86" stop-color="#ffd100"/><stop offset="1" stop-color="#ffda00"/></linearGradient><linearGradient id="g103" x2="0" y2="1"><stop offset="0" stop-color="#0000b2"/><stop offset=".03" stop-color="#0000ce"/><stop offset=".07" stop-color="#0002ff"/><stop offset=".11" stop-color="#0047ff"/><stop offset=".21" stop-color="#00faff"/><stop offset=".22" stop-color="#0dfff2"/><stop offset=".25" stop-color="#37ffc8"/><stop offset=".27" stop-color="#49ffb6"/><stop offset=".44" stop-color="#a5ff5a"/><stop offset=".57" stop-color="#fffd00"/><stop offset=".66" stop-color="#ffce00"/><stop offset=".72" stop-color="#ffbd00"/><stop offset=".84" stop-color="#ffbc00"/><stop offset="1" stop-color="#ffce00"/></linearGradient><linearGradient id="g104" x2="0" y2="1"><stop offset="0" stop-color="#0000c0"/><stop offset=".05" stop-color="#0000ff"/><stop offset=".1" stop-color="#005fff"/><stop offset=".18" stop-color="#03fffc"/><stop offset=".22" stop-color="#57ffa8"/><stop offset=".24" stop-color="#77ff88"/><stop offset=".26" stop-color="#8eff71"/><stop offset=".49" stop-color="#ffff00"/><stop offset=".61" stop-color="#ffbb00"/><stop offset=".7" stop-color="#ffa100"/><stop offset=".82" stop-color="#ffa400"/><stop offset="1" stop-color="#ffc000"/></linearGradient><linearGradient id="g105" x2="0" y2="1"><stop offset="0" stop-color="#0000cf"/><stop offset=".03" stop-color="#0000f9"/><stop offset=".04" stop-color="#000aff"/><stop offset=".08" stop-color="#005bff"/><stop offset=".15" stop-color="#00f5ff"/><stop offset=".16" stop-color="#12ffed"/><stop offset=".21" stop-color="#8fff70"/><stop offset=".24" stop-color="#c6ff39"/><stop offset=".27" stop-color="#e5ff1a"/><stop offset=".33" stop-color="#fcff03"/><stop offset=".44" stop-color="#ffdb00"/><stop offset=".59" stop-color="#ff9800"/><stop offset=".68" stop-color="#ff8200"/><stop offset=".72" stop-color="#ff8000"/><stop offset=".8" stop-color="#ff8800"/><stop offset="1" stop-color="#ffb100"/></linearGradient><linearGradient id="g106" x2="0" y2="1"><stop offset="0" stop-color="#0000df"/><stop offset=".02" stop-color="#0000fe"/><stop offset=".04" stop-color="#0024ff"/><stop offset=".08" stop-color="#0081ff"/><stop offset=".12" stop-color="#00f3ff"/><stop offset=".14" stop-color="#13ffec"/><stop offset=".2" stop-color="#c2ff3d"/><stop offset=".22" stop-color="#f1ff0e"/><stop offset=".23" stop-color="#fffa00"/><stop offset=".25" stop-color="#ffdb00"/><stop offset=".27" stop-color="#ffca00"/><stop offset=".57" stop-color="#ff7000"/><stop offset=".65" stop-color="#ff6100"/><stop offset=".71" stop-color="#ff5f00"/><stop offset=".77" stop-color="#ff6800"/><stop offset="1" stop-color="#ffa100"/></linearGradient><linearGradient id="g107" x2="0" y2="1"><stop offset="0" stop-color="#0000ee"/><stop offset=".01" stop-color="#0000ff"/><stop offset=".04" stop-color="#003cff"/><stop offset=".07" stop-color="#0089ff"/><stop offset=".11" stop-color="#05fffa"/><stop offset=".18" stop-color="#cdff32"/><stop offset=".19" stop-color="#ebff14"/><stop offset=".2" stop-color="#fff600"/><stop offset=".22" stop-color="#ffc400"/><stop offset=".24" stop-color="#ff9e00"/><stop offset=".27" stop-color="#ff7f00"/><stop offset=".59" stop-color="#ff3f00"/><stop offset=".67" stop-color="#ff3a00"/><stop offset=".73" stop-color="#ff4100"/><stop offset=".83" stop-color="#ff5c00"/><stop offset="1" stop-color="#ff9100"/></linearGradient><linearGradient id="g108" x2="0" y2="1"><stop offset="0" stop-color="#0000fc"/><stop offset=".02" stop-color="#0024ff"/><stop offset=".04" stop-color="#0053ff"/><stop offset=".06" stop-color="#0089ff"/><stop offset=".09" stop-color="#00e8ff"/><stop offset=".1" stop-color="#0cfff3"/><stop offset=".17" stop-color="#e5ff1a"/><stop offset=".18" stop-color="#fff600"/><stop offset=".21" stop-color="#ff9b00"/><stop offset=".23" stop-color="#ff6c00"/><stop offset=".25" stop-color="#ff4b00"/><stop offset=".26" stop-color="#ff4100"/><stop offset=".28" stop-color="#ff3a00"/><stop offset=".56" stop-color="#ff1700"/><stop offset=".67" stop-color="#ff1800"/><stop offset=".78" stop-color="#ff3200"/><stop offset="1" stop-color="#ff7f00"/></linearGradient><linearGradient id="g109" x2="0" y2="1"><stop offset="0" stop-color="#0008ff"/><stop offset=".02" stop-color="#0032ff"/><stop offset=".04" stop-color="#0065ff"/><stop offset=".08" stop-color="#00e3ff"/><stop offset=".09" stop-color="#07fff8"/><stop offset=".16" stop-color="#efff10"/><stop offset=".17" stop-color="#ffe900"/><stop offset=".2" stop-color="#ff8200"/><stop offset=".22" stop-color="#ff4a00"/><stop offset=".24" stop-color="#ff2000"/><stop offset=".25" stop-color="#ff1200"/><stop offset=".27" stop-color="#ff0200"/><stop offset=".57" stop-color="#ef0000"/><stop offset=".71" stop-color="#ff0100"/><stop offset=".81" stop-color="#ff2300"/><stop offset="1" stop-color="#ff6e00"/></linearGradient><linearGradient id="g110" x2="0" y2="1"><stop offset="0" stop-color="#0010ff"/><stop offset=".02" stop-color="#003dff"/><stop offset=".04" stop-color="#0073ff"/><stop offset=".08" stop-color="#00f7ff"/><stop offset=".09" stop-color="#1effe1"/><stop offset=".15" stop-color="#e8ff17"/><stop offset=".16" stop-color="#ffed00"/><stop offset=".19" stop-color="#ff7b00"/><stop offset=".21" stop-color="#ff3b00"/><stop offset=".23" stop-color="#ff0800"/><stop offset=".24" stop-color="#f30000"/><stop offset=".26" stop-color="#da0000"/><stop offset=".27" stop-color="#d50000"/><stop offset=".55" stop-color="#ce0000"/><stop offset=".66" stop-color="#da0000"/><stop offset=".77" stop-color="#fc0000"/><stop offset="1" stop-color="#ff5e00"/></linearGradient><linearGradient id="g111" x2="0" y2="1"><stop offset="0" stop-color="#0015ff"/><stop offset=".02" stop-color="#0043ff"/><stop offset=".04" stop-color="#007aff"/><stop offset=".08" stop-color="#04fffb"/><stop offset=".15" stop-color="#fcff03"/><stop offset=".16" stop-color="#ffd800"/><stop offset=".19" stop-color="#ff6300"/><stop offset=".21" stop-color="#ff2000"/><stop offset=".22" stop-color="#ff0400"/><stop offset=".23" stop-color="#eb0000"/><stop offset=".25" stop-color="#c80000"/><stop offset=".27" stop-color="#b80000"/><stop offset=".54" stop-color="#b70000"/><stop offset=".67" stop-color="#c80000"/><stop offset=".82" stop-color="#ff0100"/><stop offset="1" stop-color="#ff4f00"/></linearGradient><linearGradient id="g112" x2="0" y2="1"><stop offset="0" stop-color="#0016ff"/><stop offset=".03" stop-color="#0060ff"/><stop offset=".05" stop-color="#009cff"/><stop offset=".07" stop-color="#00e2ff"/><stop offset=".08" stop-color="#08fff7"/><stop offset=".15" stop-color="#fffb00"/><stop offset=".19" stop-color="#ff5a00"/><stop offset=".21" stop-color="#ff1700"/><stop offset=".22" stop-color="#fa0000"/><stop offset=".24" stop-color="#cd0000"/><stop offset=".25" stop-color="#be0000"/><stop offset=".27" stop-color="#ae0000"/><stop offset=".52" stop-color="#ac0000"/><stop offset=".59" stop-color="#b00000"/><stop offset=".67" stop-color="#bf0000"/><stop offset=".84" stop-color="#ff0100"/><stop offset="1" stop-color="#ff4600"/></linearGradient><linearGradient id="g113" x2="0" y2="1"><stop offset="0" stop-color="#0015ff"/><stop offset=".02" stop-color="#0044ff"/><stop offset=".04" stop-color="#007bff"/><stop offset=".07" stop-color="#00dfff"/><stop offset=".08" stop-color="#05fffa"/><stop offset=".15" stop-color="#feff01"/><stop offset=".19" stop-color="#ff6000"/><stop offset=".22" stop-color="#ff0100"/><stop offset=".24" stop-color="#d40000"/><stop offset=".25" stop-color="#c50000"/><stop offset=".27" stop-color="#b50000"/><stop offset=".51" stop-color="#b40000"/><stop offset=".58" stop-color="#b90000"/><stop offset=".66" stop-color="#c60000"/><stop offset=".81" stop-color="#fd0000"/><stop offset="1" stop-color="#ff5100"/></linearGradient><linearGradient id="g114" x2="0" y2="1"><stop offset="0" stop-color="#0011ff"/><stop offset=".02" stop-color="#003eff"/><stop offset=".04" stop-color="#0074ff"/><stop offset=".06" stop-color="#00b3ff"/><stop offset=".08" stop-color="#00faff"/><stop offset=".09" stop-color="#21ffde"/><stop offset=".15" stop-color="#edff12"/><stop offset=".16" stop-color="#ffe900"/><stop offset=".19" stop-color="#ff7600"/><stop offset=".21" stop-color="#ff3500"/><stop offset=".23" stop-color="#ff0200"/><stop offset=".24" stop-color="#ed0000"/><stop offset=".26" stop-color="#d40000"/><stop offset=".27" stop-color="#cf0000"/><stop offset=".53" stop-color="#cc0000"/><stop offset=".65" stop-color="#da0000"/><stop offset=".76" stop-color="#fd0000"/><stop offset="1" stop-color="#ff6300"/></linearGradient><linearGradient id="g115" x2="0" y2="1"><stop offset="0" stop-color="#000aff"/><stop offset=".02" stop-color="#0034ff"/><stop offset=".04" stop-color="#0068ff"/><stop offset=".08" stop-color="#00e7ff"/><stop offset=".09" stop-color="#0cfff3"/><stop offset=".16" stop-color="#f6ff09"/><stop offset=".17" stop-color="#ffe200"/><stop offset=".2" stop-color="#ff7a00"/><stop offset=".22" stop-color="#ff4100"/><stop offset=".24" stop-color="#ff1800"/><stop offset=".26" stop-color="#fe0000"/><stop offset=".28" stop-color="#f70000"/><stop offset=".53" stop-color="#ed0000"/><stop offset=".6" stop-color="#f20000"/><stop offset=".68" stop-color="#ff0000"/><stop offset=".79" stop-color="#ff2400"/><stop offset="1" stop-color="#ff7900"/></linearGradient><linearGradient id="g116" x2="0" y2="1"><stop offset="0" stop-color="#0000fe"/><stop offset=".02" stop-color="#0027ff"/><stop offset=".04" stop-color="#0056ff"/><stop offset=".06" stop-color="#008eff"/><stop offset=".09" stop-color="#00eeff"/><stop offset=".1" stop-color="#12ffed"/><stop offset=".17" stop-color="#eeff11"/><stop offset=".18" stop-color="#ffed00"/><stop offset=".21" stop-color="#ff9100"/><stop offset=".23" stop-color="#ff6100"/><stop offset=".25" stop-color="#ff4100"/><stop offset=".26" stop-color="#ff3700"/><stop offset=".28" stop-color="#ff2f00"/><stop offset=".53" stop-color="#ff1900"/><stop offset=".64" stop-color="#ff1d00"/><stop offset=".77" stop-color="#ff3d00"/><stop offset="1" stop-color="#ff9100"/></linearGradient><linearGradient id="g117" x2="0" y2="1"><stop offset="0" stop-color="#0000f1"/><stop offset=".01" stop-color="#0003ff"/><stop offset=".04" stop-color="#0040ff"/><stop offset=".07" stop-color="#008fff"/><stop offset=".1" stop-color="#00ebff"/><stop offset=".11" stop-color="#0dfff2"/><stop offset=".19" stop-color="#f6ff09"/><stop offset=".2" stop-color="#ffeb00"/><stop offset=".22" stop-color="#ffb800"/><stop offset=".24" stop-color="#ff9100"/><stop offset=".27" stop-color="#ff7300"/><stop offset=".54" stop-color="#ff4900"/><stop offset=".64" stop-color="#ff4800"/><stop offset=".73" stop-color="#ff5600"/><stop offset=".83" stop-color="#ff7200"/><stop offset="1" stop-color="#ffaa00"/></linearGradient><linearGradient id="g118" x2="0" y2="1"><stop offset="0" stop-color="#0000e2"/><stop offset=".02" stop-color="#0002ff"/><stop offset=".03" stop-color="#0014ff"/><stop offset=".07" stop-color="#006dff"/><stop offset=".12" stop-color="#00fcff"/><stop offset=".14" stop-color="#1cffe3"/><stop offset=".19" stop-color="#b3ff4c"/><stop offset=".22" stop-color="#feff01"/><stop offset=".25" stop-color="#ffce00"/><stop offset=".27" stop-color="#ffbd00"/><stop offset=".48" stop-color="#ff8a00"/><stop offset=".58" stop-color="#ff7800"/><stop offset=".67" stop-color="#ff7800"/><stop offset=".75" stop-color="#ff8200"/><stop offset="1" stop-color="#ffc400"/></linearGradient><linearGradient id="g119" x2="0" y2="1"><stop offset="0" stop-color="#0000d2"/><stop offset=".03" stop-color="#0000fd"/><stop offset=".04" stop-color="#000fff"/><stop offset=".08" stop-color="#0062ff"/><stop offset=".15" stop-color="#00ffff"/><stop offset=".2" stop-color="#85ff7a"/><stop offset=".23" stop-color="#c4ff3b"/><stop offset=".26" stop-color="#ebff14"/><stop offset=".3" stop-color="#feff01"/><stop offset=".53" stop-color="#ffb800"/><stop offset=".65" stop-color="#ffa700"/><stop offset=".79" stop-color="#ffb000"/><stop offset="1" stop-color="#ffdf00"/></linearGradient><linearGradient id="g120" x2="0" y2="1"><stop offset="0" stop-color="#0000c3"/><stop offset=".04" stop-color="#0000f4"/><stop offset=".05" stop-color="#0005ff"/><stop offset=".1" stop-color="#0066ff"/><stop offset=".17" stop-color="#00f5ff"/><stop offset=".18" stop-color="#0efff1"/><stop offset=".22" stop-color="#63ff9c"/><stop offset=".24" stop-color="#84ff7b"/><stop offset=".26" stop-color="#9bff64"/><stop offset=".49" stop-color="#fcff03"/><stop offset=".61" stop-color="#ffde00"/><stop offset=".72" stop-color="#ffd400"/><stop offset=".83" stop-color="#ffdc00"/><stop offset="1" stop-color="#fffb00"/></linearGradient><linearGradient id="g121" x2="0" y2="1"><stop offset="0" stop-color="#0000b4"/><stop offset=".03" stop-color="#0000d1"/><stop offset=".06" stop-color="#0000f7"/><stop offset=".07" stop-color="#0008ff"/><stop offset=".11" stop-color="#004eff"/><stop offset=".2" stop-color="#00f3ff"/><stop offset=".21" stop-color="#07fff8"/><stop offset=".24" stop-color="#36ffc9"/><stop offset=".27" stop-color="#55ffaa"/><stop offset=".49" stop-color="#beff41"/><stop offset=".6" stop-color="#e9ff16"/><stop offset=".7" stop-color="#fbff04"/><stop offset=".79" stop-color="#ffff00"/><stop offset="1" stop-color="#e8ff17"/></linearGradient><linearGradient id="g122" x2="0" y2="1"><stop offset="0" stop-color="#0000a8"/><stop offset=".04" stop-color="#0000c7"/><stop offset=".08" stop-color="#0000f6"/><stop offset=".09" stop-color="#0005ff"/><stop offset=".22" stop-color="#00d1ff"/><stop offset=".24" stop-color="#00ecff"/><stop offset=".26" stop-color="#03fffc"/><stop offset=".52" stop-color="#91ff6e"/><stop offset=".65" stop-color="#c1ff3e"/><stop offset=".72" stop-color="#d0ff2f"/><stop offset=".8" stop-color="#d8ff27"/><stop offset="1" stop-color="#ccff33"/></linearGradient><linearGradient id="g123" x2="0" y2="1"><stop offset="0" stop-color="#00009d"/><stop offset=".06" stop-color="#0000c6"/><stop offset=".11" stop-color="#0000fe"/><stop offset=".21" stop-color="#0083ff"/><stop offset=".25" stop-color="#00b4ff"/><stop offset=".36" stop-color="#00fdff"/><stop offset=".56" stop-color="#6dff92"/><stop offset=".69" stop-color="#9cff63"/><stop offset=".82" stop-color="#b3ff4c"/><stop offset="1" stop-color="#b1ff4e"/></linearGradient><linearGradient id="g124" x2="0" y2="1"><stop offset="0" stop-color="#000094"/><stop offset=".07" stop-color="#0000bb"/><stop offset=".15" stop-color="#0002ff"/><stop offset=".22" stop-color="#0059ff"/><stop offset=".26" stop-color="#0081ff"/><stop offset=".47" stop-color="#02fffd"/><stop offset=".6" stop-color="#4dffb2"/><stop offset=".72" stop-color="#78ff87"/><stop offset=".84" stop-color="#90ff6f"/><stop offset="1" stop-color="#96ff69"/></linearGradient><linearGradient id="g125" x2="0" y2="1"><stop offset="0" stop-color="#00008e"/><stop offset=".08" stop-color="#0000b0"/><stop offset=".12" stop-color="#0000ce"/><stop offset=".18" stop-color="#0000fe"/><stop offset=".26" stop-color="#004cff"/><stop offset=".54" stop-color="#00f9ff"/><stop offset=".55" stop-color="#00ffff"/><stop offset=".68" stop-color="#3fffc0"/><stop offset=".77" stop-color="#5effa1"/><stop offset=".88" stop-color="#72ff8d"/><stop offset="1" stop-color="#7bff84"/></linearGradient><linearGradient id="g126" x2="0" y2="1"><stop offset="0" stop-color="#000089"/><stop offset=".05" stop-color="#000095"/><stop offset=".1" stop-color="#0000ab"/><stop offset=".16" stop-color="#0000cd"/><stop offset=".22" stop-color="#0000ff"/><stop offset=".26" stop-color="#001fff"/><stop offset=".64" stop-color="#00ffff"/><stop offset=".72" stop-color="#26ffd9"/><stop offset=".8" stop-color="#42ffbd"/><stop offset=".9" stop-color="#56ffa9"/><stop offset="1" stop-color="#61ff9e"/></linearGradient><linearGradient id="g127" x2="0" y2="1"><stop offset="0" stop-color="#000085"/><stop offset=".06" stop-color="#000090"/><stop offset=".11" stop-color="#0000a2"/><stop offset=".26" stop-color="#0000f9"/><stop offset=".28" stop-color="#0004ff"/><stop offset=".4" stop-color="#0043ff"/><stop offset=".61" stop-color="#00caff"/><stop offset=".72" stop-color="#00ffff"/><stop offset=".85" stop-color="#2effd1"/><stop offset="1" stop-color="#48ffb7"/></linearGradient><linearGradient id="g128" x2="0" y2="1"><stop offset="0" stop-color="#000083"/><stop offset=".07" stop-color="#00008c"/><stop offset=".14" stop-color="#00009e"/><stop offset=".34" stop-color="#0003ff"/><stop offset=".65" stop-color="#00b5ff"/><stop offset=".78" stop-color="#00f6ff"/><stop offset=".81" stop-color="#02fffd"/><stop offset=".91" stop-color="#1dffe2"/><stop offset="1" stop-color="#2fffd0"/></linearGradient><linearGradient id="g129" x2="0" y2="1"><stop offset="0" stop-color="#000082"/><stop offset=".08" stop-color="#000089"/><stop offset=".16" stop-color="#00009a"/><stop offset=".31" stop-color="#0000d7"/><stop offset=".4" stop-color="#0000fe"/><stop offset=".67" stop-color="#009dff"/><stop offset=".78" stop-color="#00d5ff"/><stop offset=".9" stop-color="#00feff"/><stop offset="1" stop-color="#17ffe8"/></linearGradient><linearGradient id="g130" x2="0" y2="1"><stop offset="0" stop-color="#000081"/><stop offset=".1" stop-color="#000088"/><stop offset=".19" stop-color="#000099"/><stop offset=".33" stop-color="#0000c9"/><stop offset=".45" stop-color="#0000fe"/><stop offset=".68" stop-color="#0083ff"/><stop offset=".77" stop-color="#00b2ff"/><stop offset=".89" stop-color="#00e0ff"/><stop offset="1" stop-color="#00ffff"/></linearGradient><linearGradient id="g131" x2="0" y2="1"><stop offset="0" stop-color="#000080"/><stop offset=".12" stop-color="#000087"/><stop offset=".23" stop-color="#00009a"/><stop offset=".36" stop-color="#0000c2"/><stop offset=".5" stop-color="#0001ff"/><stop offset=".79" stop-color="#009fff"/><stop offset=".9" stop-color="#00caff"/><stop offset="1" stop-color="#00e9ff"/></linearGradient><linearGradient id="cb132" x1="0" y1="0" x2="0" y2="1"><stop offset="0" stop-color="#800000"/><stop offset="0.06" stop-color="#bf0000"/><stop offset="0.12" stop-color="#ff0000"/><stop offset="0.19" stop-color="#ff4000"/><stop offset="0.25" stop-color="#ff8000"/><stop offset="0.31" stop-color="#ffbf00"/><stop offset="0.38" stop-color="#ffff00"/><stop offset="0.44" stop-color="#bfff40"/><stop offset="0.5" stop-color="#80ff80"/><stop offset="0.56" stop-color="#40ffbf"/><stop offset="0.62" stop-color="#00ffff"/><stop offset="0.69" stop-color="#00bfff"/><stop offset="0.75" stop-color="#0080ff"/><stop offset="0.81" stop-color="#0040ff"/><stop offset="0.88" stop-color="#0000ff"/><stop offset="0.94" stop-color="#0000bf"/><stop offset="1" stop-color="#000080"/></linearGradient><clipPath id="cp133"><rect x="400.2" y="169.8" width="108.6" height="96.3"/></clipPath><linearGradient id="g134" x2="0" y2="1"><stop offset="0" stop-color="#000080"/><stop offset=".78" stop-color="#000080"/><stop offset="1" stop-color="#00008e"/></linearGradient><linearGradient id="g135" x2="0" y2="1"><stop offset="0" stop-color="#000080"/><stop offset=".77" stop-color="#000080"/><stop offset="1" stop-color="#000090"/></linearGradient><linearGradient id="g136" x2="0" y2="1"><stop offset="0" stop-color="#000080"/><stop offset=".77" stop-color="#000081"/><stop offset="1" stop-color="#000092"/></linearGradient><linearGradient id="g137" x2="0" y2="1"><stop offset="0" stop-color="#000080"/><stop offset=".77" stop-color="#000081"/><stop offset=".9" stop-color="#000087"/><stop offset="1" stop-color="#000094"/></linearGradient><linearGradient id="g138" x2="0" y2="1"><stop offset="0" stop-color="#000080"/><stop offset=".77" stop-color="#000082"/><stop offset=".9" stop-color="#000088"/><stop offset="1" stop-color="#000096"/></linearGradient><linearGradient id="g139" x2="0" y2="1"><stop offset="0" stop-color="#000080"/><stop offset=".78" stop-color="#000083"/><stop offset=".9" stop-color="#00008a"/><stop offset="1" stop-color="#000098"/></linearGradient><linearGradient id="g140" x2="0" y2="1"><stop offset="0" stop-color="#000080"/><stop offset=".79" stop-color="#000084"/><stop offset=".9" stop-color="#00008b"/><stop offset="1" stop-color="#00009b"/></linearGradient><linearGradient id="g141" x2="0" y2="1"><stop offset="0" stop-color="#000080"/><stop offset=".8" stop-color="#000087"/><stop offset=".91" stop-color="#00008f"/><stop offset="1" stop-color="#00009e"/></linearGradient><linearGradient id="g142" x2="0" y2="1"><stop offset="0" stop-color="#000080"/><stop offset=".81" stop-color="#00008b"/><stop offset=".91" stop-color="#000092"/><stop offset="1" stop-color="#0000a2"/></linearGradient><linearGradient id="g143" x2="0" y2="1"><stop offset="0" stop-color="#000080"/><stop offset=".19" stop-color="#000081"/><stop offset=".49" stop-color="#000091"/><stop offset=".83" stop-color="#000091"/><stop offset="1" stop-color="#0000a7"/></linearGradient><linearGradient id="g144" x2="0" y2="1"><stop offset="0" stop-color="#000080"/><stop offset=".17" stop-color="#000081"/><stop offset=".48" stop-color="#00009a"/><stop offset=".85" stop-color="#00009a"/><stop offset="1" stop-color="#0000ad"/></linearGradient><linearGradient id="g145" x2="0" y2="1"><stop offset="0" stop-color="#000080"/><stop offset=".16" stop-color="#000082"/><stop offset=".46" stop-color="#0000a8"/><stop offset=".84" stop-color="#0000a4"/><stop offset="1" stop-color="#0000b6"/></linearGradient><linearGradient id="g146" x2="0" y2="1"><stop offset="0" stop-color="#000080"/><stop offset=".15" stop-color="#000083"/><stop offset=".34" stop-color="#0000ad"/><stop offset=".45" stop-color="#0000bb"/><stop offset=".55" stop-color="#0000bd"/><stop offset=".84" stop-color="#0000b3"/><stop offset="1" stop-color="#0000c3"/></linearGradient><linearGradient id="g147" x2="0" y2="1"><stop offset="0" stop-color="#000080"/><stop offset=".14" stop-color="#000085"/><stop offset=".33" stop-color="#0000c1"/><stop offset=".45" stop-color="#0000d5"/><stop offset=".55" stop-color="#0000d7"/><stop offset=".84" stop-color="#0000c8"/><stop offset="1" stop-color="#0000d4"/></linearGradient><linearGradient id="g148" x2="0" y2="1"><stop offset="0" stop-color="#000080"/><stop offset=".08" stop-color="#000081"/><stop offset=".12" stop-color="#000088"/><stop offset=".32" stop-color="#0000dd"/><stop offset=".44" stop-color="#0000f7"/><stop offset=".54" stop-color="#0000f9"/><stop offset=".84" stop-color="#0000e1"/><stop offset="1" stop-color="#0000eb"/></linearGradient><linearGradient id="g149" x2="0" y2="1"><stop offset="0" stop-color="#000080"/><stop offset=".07" stop-color="#000082"/><stop offset=".11" stop-color="#00008c"/><stop offset=".16" stop-color="#0000a2"/><stop offset=".24" stop-color="#0000db"/><stop offset=".31" stop-color="#0002ff"/><stop offset=".4" stop-color="#001eff"/><stop offset=".48" stop-color="#0027ff"/><stop offset=".56" stop-color="#0023ff"/><stop offset=".82" stop-color="#0003ff"/><stop offset=".92" stop-color="#0002ff"/><stop offset="1" stop-color="#0009ff"/></linearGradient><linearGradient id="g150" x2="0" y2="1"><stop offset="0" stop-color="#000080"/><stop offset=".06" stop-color="#000082"/><stop offset=".1" stop-color="#000091"/><stop offset=".15" stop-color="#0000af"/><stop offset=".23" stop-color="#0000ff"/><stop offset=".29" stop-color="#002aff"/><stop offset=".34" stop-color="#0045ff"/><stop offset=".4" stop-color="#0055ff"/><stop offset=".45" stop-color="#005cff"/><stop offset=".54" stop-color="#0058ff"/><stop offset=".82" stop-color="#002aff"/><stop offset=".91" stop-color="#0027ff"/><stop offset="1" stop-color="#002cff"/></linearGradient><linearGradient id="g151" x2="0" y2="1"><stop offset="0" stop-color="#000080"/><stop offset=".05" stop-color="#000083"/><stop offset=".09" stop-color="#000097"/><stop offset=".12" stop-color="#0000b5"/><stop offset=".18" stop-color="#0000f8"/><stop offset=".19" stop-color="#0007ff"/><stop offset=".23" stop-color="#0038ff"/><stop offset=".3" stop-color="#0070ff"/><stop offset=".36" stop-color="#008fff"/><stop offset=".43" stop-color="#009cff"/><stop offset=".53" stop-color="#0096ff"/><stop offset=".72" stop-color="#0068ff"/><stop offset=".81" stop-color="#0058ff"/><stop offset=".91" stop-color="#0051ff"/><stop offset="1" stop-color="#0055ff"/></linearGradient><linearGradient id="g152" x2="0" y2="1"><stop offset="0" stop-color="#000080"/><stop offset=".04" stop-color="#000085"/><stop offset=".07" stop-color="#000096"/><stop offset=".1" stop-color="#0000b8"/><stop offset=".15" stop-color="#0000fa"/><stop offset=".16" stop-color="#000dff"/><stop offset=".21" stop-color="#0065ff"/><stop offset=".25" stop-color="#0094ff"/><stop offset=".33" stop-color="#00cfff"/><stop offset=".41" stop-color="#00e6ff"/><stop offset=".46" stop-color="#00e7ff"/><stop offset=".51" stop-color="#00dfff"/><stop offset=".72" stop-color="#009eff"/><stop offset=".81" stop-color="#0089ff"/><stop offset=".91" stop-color="#0080ff"/><stop offset="1" stop-color="#0082ff"/></linearGradient><linearGradient id="g153" x2="0" y2="1"><stop offset="0" stop-color="#000080"/><stop offset=".03" stop-color="#000087"/><stop offset=".06" stop-color="#00009f"/><stop offset=".08" stop-color="#0000ba"/><stop offset=".11" stop-color="#0000f2"/><stop offset=".12" stop-color="#0009ff"/><stop offset=".18" stop-color="#007cff"/><stop offset=".21" stop-color="#00b8ff"/><stop offset=".24" stop-color="#00e1ff"/><stop offset=".27" stop-color="#00fcff"/><stop offset=".28" stop-color="#06fff9"/><stop offset=".35" stop-color="#30ffcf"/><stop offset=".43" stop-color="#3cffc3"/><stop offset=".5" stop-color="#2fffd0"/><stop offset=".62" stop-color="#00fdff"/><stop offset=".73" stop-color="#00d4ff"/><stop offset=".81" stop-color="#00beff"/><stop offset=".91" stop-color="#00b2ff"/><stop offset="1" stop-color="#00b3ff"/></linearGradient><linearGradient id="g154" x2="0" y2="1"><stop offset="0" stop-color="#000081"/><stop offset=".02" stop-color="#000089"/><stop offset=".04" stop-color="#00009c"/><stop offset=".06" stop-color="#0000ba"/><stop offset=".09" stop-color="#0000f9"/><stop offset=".1" stop-color="#0013ff"/><stop offset=".18" stop-color="#00d5ff"/><stop offset=".2" stop-color="#05fffa"/><stop offset=".23" stop-color="#39ffc6"/><stop offset=".29" stop-color="#6eff91"/><stop offset=".34" stop-color="#8aff75"/><stop offset=".41" stop-color="#95ff6a"/><stop offset=".45" stop-color="#90ff6f"/><stop offset=".5" stop-color="#7fff80"/><stop offset=".69" stop-color="#22ffdd"/><stop offset=".77" stop-color="#01fffe"/><stop offset=".89" stop-color="#00e7ff"/><stop offset="1" stop-color="#00e5ff"/></linearGradient><linearGradient id="g155" x2="0" y2="1"><stop offset="0" stop-color="#000086"/><stop offset=".03" stop-color="#0000a6"/><stop offset=".05" stop-color="#0000cc"/><stop offset=".07" stop-color="#0000fd"/><stop offset=".1" stop-color="#0057ff"/><stop offset=".16" stop-color="#00fdff"/><stop offset=".2" stop-color="#6eff91"/><stop offset=".23" stop-color="#a3ff5c"/><stop offset=".26" stop-color="#beff41"/><stop offset=".31" stop-color="#deff21"/><stop offset=".34" stop-color="#eaff15"/><stop offset=".39" stop-color="#f0ff0f"/><stop offset=".44" stop-color="#e8ff17"/><stop offset=".49" stop-color="#d4ff2b"/><stop offset=".68" stop-color="#64ff9b"/><stop offset=".78" stop-color="#34ffcb"/><stop offset=".89" stop-color="#1bffe4"/><stop offset="1" stop-color="#17ffe8"/></linearGradient><linearGradient id="g156" x2="0" y2="1"><stop offset="0" stop-color="#000093"/><stop offset=".02" stop-color="#0000b3"/><stop offset=".05" stop-color="#0000fd"/><stop offset=".08" stop-color="#005fff"/><stop offset=".12" stop-color="#00f4ff"/><stop offset=".14" stop-color="#1affe5"/><stop offset=".17" stop-color="#85ff7a"/><stop offset=".19" stop-color="#c1ff3e"/><stop offset=".21" stop-color="#f0ff0f"/><stop offset=".22" stop-color="#fffd00"/><stop offset=".24" stop-color="#ffe700"/><stop offset=".28" stop-color="#ffce00"/><stop offset=".32" stop-color="#ffbc00"/><stop offset=".36" stop-color="#ffb400"/><stop offset=".44" stop-color="#ffc300"/><stop offset=".54" stop-color="#fdff02"/><stop offset=".68" stop-color="#9dff62"/><stop offset=".78" stop-color="#66ff99"/><stop offset=".89" stop-color="#4affb5"/><stop offset="1" stop-color="#44ffbb"/></linearGradient><linearGradient id="g157" x2="0" y2="1"><stop offset="0" stop-color="#0000ae"/><stop offset=".03" stop-color="#0000fb"/><stop offset=".04" stop-color="#001bff"/><stop offset=".06" stop-color="#0060ff"/><stop offset=".1" stop-color="#00feff"/><stop offset=".16" stop-color="#c8ff37"/><stop offset=".17" stop-color="#ebff14"/><stop offset=".18" stop-color="#fff200"/><stop offset=".2" stop-color="#ffbc00"/><stop offset=".21" stop-color="#ffa700"/><stop offset=".23" stop-color="#ff8a00"/><stop offset=".3" stop-color="#ff6a00"/><stop offset=".35" stop-color="#ff6200"/><stop offset=".41" stop-color="#ff6c00"/><stop offset=".46" stop-color="#ff8600"/><stop offset=".61" stop-color="#feff01"/><stop offset=".72" stop-color="#b3ff4c"/><stop offset=".8" stop-color="#8aff75"/><stop offset=".9" stop-color="#71ff8e"/><stop offset="1" stop-color="#6cff93"/></linearGradient><linearGradient id="g158" x2="0" y2="1"><stop offset="0" stop-color="#0000da"/><stop offset=".01" stop-color="#0000f7"/><stop offset=".02" stop-color="#0017ff"/><stop offset=".05" stop-color="#0080ff"/><stop offset=".08" stop-color="#00f9ff"/><stop offset=".09" stop-color="#25ffda"/><stop offset=".15" stop-color="#fbff04"/><stop offset=".16" stop-color="#ffdd00"/><stop offset=".19" stop-color="#ff7b00"/><stop offset=".21" stop-color="#ff4d00"/><stop offset=".22" stop-color="#ff3e00"/><stop offset=".23" stop-color="#ff3400"/><stop offset=".25" stop-color="#ff2c00"/><stop offset=".34" stop-color="#ff1d00"/><stop offset=".4" stop-color="#ff2900"/><stop offset=".46" stop-color="#ff4d00"/><stop offset=".67" stop-color="#ffff00"/><stop offset=".75" stop-color="#c6ff39"/><stop offset=".82" stop-color="#a5ff5a"/><stop offset=".91" stop-color="#91ff6e"/><stop offset="1" stop-color="#8dff72"/></linearGradient><linearGradient id="g159" x2="0" y2="1"><stop offset="0" stop-color="#0010ff"/><stop offset=".03" stop-color="#0071ff"/><stop offset=".06" stop-color="#00e4ff"/><stop offset=".07" stop-color="#0ffff0"/><stop offset=".12" stop-color="#ebff14"/><stop offset=".14" stop-color="#ffe800"/><stop offset=".16" stop-color="#ff9800"/><stop offset=".18" stop-color="#ff5300"/><stop offset=".2" stop-color="#ff1e00"/><stop offset=".21" stop-color="#ff0a00"/><stop offset=".22" stop-color="#fb0000"/><stop offset=".24" stop-color="#ef0000"/><stop offset=".32" stop-color="#e80000"/><stop offset=".35" stop-color="#ec0000"/><stop offset=".4" stop-color="#fb0000"/><stop offset=".42" stop-color="#ff0700"/><stop offset=".46" stop-color="#ff2500"/><stop offset=".64" stop-color="#ffc800"/><stop offset=".71" stop-color="#fdff02"/><stop offset=".78" stop-color="#d1ff2e"/><stop offset=".84" stop-color="#b8ff47"/><stop offset=".92" stop-color="#aaff55"/><stop offset="1" stop-color="#a6ff59"/></linearGradient><linearGradient id="g160" x2="0" y2="1"><stop offset="0" stop-color="#0039ff"/><stop offset=".02" stop-color="#0076ff"/><stop offset=".05" stop-color="#00e2ff"/><stop offset=".06" stop-color="#0bfff4"/><stop offset=".11" stop-color="#e6ff19"/><stop offset=".12" stop-color="#ffeb00"/><stop offset=".15" stop-color="#ff9700"/><stop offset=".17" stop-color="#ff4c00"/><stop offset=".19" stop-color="#ff0f00"/><stop offset=".2" stop-color="#f60000"/><stop offset=".22" stop-color="#d60000"/><stop offset=".23" stop-color="#ce0000"/><stop offset=".31" stop-color="#cb0000"/><stop offset=".38" stop-color="#d80000"/><stop offset=".44" stop-color="#fd0000"/><stop offset=".49" stop-color="#ff2b00"/><stop offset=".64" stop-color="#ffb600"/><stop offset=".73" stop-color="#fffe00"/><stop offset=".79" stop-color="#ddff22"/><stop offset=".85" stop-color="#c7ff38"/><stop offset=".93" stop-color="#baff45"/><stop offset="1" stop-color="#b7ff48"/></linearGradient><linearGradient id="g161" x2="0" y2="1"><stop offset="0" stop-color="#0042ff"/><stop offset=".02" stop-color="#007dff"/><stop offset=".05" stop-color="#00e9ff"/><stop offset=".06" stop-color="#12ffed"/><stop offset=".11" stop-color="#edff12"/><stop offset=".12" stop-color="#ffe500"/><stop offset=".15" stop-color="#ff9000"/><stop offset=".17" stop-color="#ff4500"/><stop offset=".19" stop-color="#ff0900"/><stop offset=".2" stop-color="#f00000"/><stop offset=".22" stop-color="#d00000"/><stop offset=".23" stop-color="#c80000"/><stop offset=".31" stop-color="#c60000"/><stop offset=".38" stop-color="#d40000"/><stop offset=".44" stop-color="#fa0000"/><stop offset=".47" stop-color="#ff1500"/><stop offset=".64" stop-color="#ffb000"/><stop offset=".74" stop-color="#fffc00"/><stop offset=".81" stop-color="#deff21"/><stop offset=".86" stop-color="#ceff31"/><stop offset=".93" stop-color="#c5ff3a"/><stop offset="1" stop-color="#c3ff3c"/></linearGradient><linearGradient id="g162" x2="0" y2="1"><stop offset="0" stop-color="#0024ff"/><stop offset=".03" stop-color="#0084ff"/><stop offset=".06" stop-color="#00f7ff"/><stop offset=".07" stop-color="#22ffdd"/><stop offset=".12" stop-color="#ffff00"/><stop offset=".16" stop-color="#ff8400"/><stop offset=".18" stop-color="#ff3f00"/><stop offset=".2" stop-color="#ff0a00"/><stop offset=".21" stop-color="#f60000"/><stop offset=".23" stop-color="#e00000"/><stop offset=".24" stop-color="#dd0000"/><stop offset=".32" stop-color="#d90000"/><stop offset=".38" stop-color="#e50000"/><stop offset=".43" stop-color="#ff0200"/><stop offset=".62" stop-color="#ffad00"/><stop offset=".69" stop-color="#ffda00"/><stop offset=".75" stop-color="#fdff02"/><stop offset=".8" stop-color="#e5ff1a"/><stop offset=".86" stop-color="#d3ff2c"/><stop offset=".93" stop-color="#cbff34"/><stop offset="1" stop-color="#cbff34"/></linearGradient><linearGradient id="g163" x2="0" y2="1"><stop offset="0" stop-color="#0000f0"/><stop offset=".01" stop-color="#000fff"/><stop offset=".02" stop-color="#002fff"/><stop offset=".04" stop-color="#0074ff"/><stop offset=".07" stop-color="#00ebff"/><stop offset=".08" stop-color="#17ffe8"/><stop offset=".14" stop-color="#f1ff0e"/><stop offset=".15" stop-color="#ffe400"/><stop offset=".17" stop-color="#ff9900"/><stop offset=".19" stop-color="#ff5b00"/><stop offset=".21" stop-color="#ff2f00"/><stop offset=".22" stop-color="#ff2000"/><stop offset=".24" stop-color="#ff1200"/><stop offset=".33" stop-color="#ff0500"/><stop offset=".38" stop-color="#ff0c00"/><stop offset=".43" stop-color="#ff2500"/><stop offset=".61" stop-color="#ffb700"/><stop offset=".73" stop-color="#fffc00"/><stop offset=".8" stop-color="#e1ff1e"/><stop offset=".85" stop-color="#d3ff2c"/><stop offset=".92" stop-color="#ccff33"/><stop offset="1" stop-color="#ccff33"/></linearGradient><linearGradient id="g164" x2="0" y2="1"><stop offset="0" stop-color="#0000be"/><stop offset=".02" stop-color="#0000f4"/><stop offset=".03" stop-color="#0014ff"/><stop offset=".06" stop-color="#007eff"/><stop offset=".09" stop-color="#00f7ff"/><stop offset=".1" stop-color="#22ffdd"/><stop offset=".16" stop-color="#eeff11"/><stop offset=".17" stop-color="#ffec00"/><stop offset=".2" stop-color="#ff9400"/><stop offset=".22" stop-color="#ff6f00"/><stop offset=".23" stop-color="#ff6400"/><stop offset=".29" stop-color="#ff4c00"/><stop offset=".34" stop-color="#ff4300"/><stop offset=".39" stop-color="#ff4900"/><stop offset=".43" stop-color="#ff5a00"/><stop offset=".59" stop-color="#ffc900"/><stop offset=".7" stop-color="#fffe00"/><stop offset=".78" stop-color="#dcff23"/><stop offset=".84" stop-color="#cdff32"/><stop offset=".92" stop-color="#c6ff39"/><stop offset="1" stop-color="#c9ff36"/></linearGradient><linearGradient id="g165" x2="0" y2="1"><stop offset="0" stop-color="#00009c"/><stop offset=".02" stop-color="#0000c3"/><stop offset=".04" stop-color="#0000f7"/><stop offset=".05" stop-color="#0017ff"/><stop offset=".06" stop-color="#0037ff"/><stop offset=".11" stop-color="#00f3ff"/><stop offset=".12" stop-color="#1bffe4"/><stop offset=".17" stop-color="#b0ff4f"/><stop offset=".19" stop-color="#edff12"/><stop offset=".2" stop-color="#fff800"/><stop offset=".22" stop-color="#ffd100"/><stop offset=".24" stop-color="#ffbc00"/><stop offset=".31" stop-color="#ff9a00"/><stop offset=".36" stop-color="#ff9100"/><stop offset=".44" stop-color="#ffa300"/><stop offset=".61" stop-color="#fffe00"/><stop offset=".82" stop-color="#c2ff3d"/><stop offset=".91" stop-color="#bcff43"/><stop offset="1" stop-color="#c1ff3e"/></linearGradient><linearGradient id="g166" x2="0" y2="1"><stop offset="0" stop-color="#00008a"/><stop offset=".03" stop-color="#0000b2"/><stop offset=".06" stop-color="#0000f8"/><stop offset=".07" stop-color="#0016ff"/><stop offset=".08" stop-color="#0035ff"/><stop offset=".14" stop-color="#00e1ff"/><stop offset=".15" stop-color="#05fffa"/><stop offset=".17" stop-color="#47ffb8"/><stop offset=".19" stop-color="#81ff7e"/><stop offset=".22" stop-color="#c2ff3d"/><stop offset=".25" stop-color="#e1ff1e"/><stop offset=".3" stop-color="#fffd00"/><stop offset=".33" stop-color="#ffef00"/><stop offset=".38" stop-color="#ffe800"/><stop offset=".42" stop-color="#ffec00"/><stop offset=".47" stop-color="#fffd00"/><stop offset=".58" stop-color="#d8ff27"/><stop offset=".81" stop-color="#b3ff4c"/><stop offset=".9" stop-color="#b0ff4f"/><stop offset="1" stop-color="#b9ff46"/></linearGradient><linearGradient id="g167" x2="0" y2="1"><stop offset="0" stop-color="#000083"/><stop offset=".02" stop-color="#00008e"/><stop offset=".04" stop-color="#0000a6"/><stop offset=".06" stop-color="#0000c9"/><stop offset=".08" stop-color="#0000f7"/><stop offset=".09" stop-color="#0012ff"/><stop offset=".1" stop-color="#002eff"/><stop offset=".18" stop-color="#00fdff"/><stop offset=".21" stop-color="#44ffbb"/><stop offset=".24" stop-color="#6fff90"/><stop offset=".31" stop-color="#a4ff5b"/><stop offset=".36" stop-color="#b8ff47"/><stop offset=".43" stop-color="#baff45"/><stop offset=".57" stop-color="#a1ff5e"/><stop offset=".71" stop-color="#adff52"/><stop offset=".86" stop-color="#a3ff5c"/><stop offset="1" stop-color="#b0ff4f"/></linearGradient><linearGradient id="g168" x2="0" y2="1"><stop offset="0" stop-color="#000080"/><stop offset=".03" stop-color="#00008a"/><stop offset=".05" stop-color="#00009c"/><stop offset=".07" stop-color="#0000b7"/><stop offset=".1" stop-color="#0000f2"/><stop offset=".11" stop-color="#0009ff"/><stop offset=".19" stop-color="#00b6ff"/><stop offset=".21" stop-color="#00deff"/><stop offset=".23" stop-color="#00fdff"/><stop offset=".31" stop-color="#43ffbc"/><stop offset=".38" stop-color="#5effa1"/><stop offset=".42" stop-color="#64ff9b"/><stop offset=".54" stop-color="#62ff9d"/><stop offset=".71" stop-color="#96ff69"/><stop offset=".84" stop-color="#98ff67"/><stop offset="1" stop-color="#abff54"/></linearGradient><linearGradient id="g169" x2="0" y2="1"><stop offset="0" stop-color="#000080"/><stop offset=".04" stop-color="#000087"/><stop offset=".07" stop-color="#00009e"/><stop offset=".1" stop-color="#0000c6"/><stop offset=".14" stop-color="#0000fd"/><stop offset=".2" stop-color="#0075ff"/><stop offset=".23" stop-color="#00a2ff"/><stop offset=".29" stop-color="#00daff"/><stop offset=".35" stop-color="#00ffff"/><stop offset=".4" stop-color="#0efff1"/><stop offset=".5" stop-color="#1cffe3"/><stop offset=".54" stop-color="#28ffd7"/><stop offset=".67" stop-color="#73ff8c"/><stop offset=".71" stop-color="#85ff7a"/><stop offset="1" stop-color="#a9ff56"/></linearGradient><linearGradient id="g170" x2="0" y2="1"><stop offset="0" stop-color="#000080"/><stop offset=".05" stop-color="#000086"/><stop offset=".08" stop-color="#000096"/><stop offset=".12" stop-color="#0000c2"/><stop offset=".17" stop-color="#0000ff"/><stop offset=".23" stop-color="#0057ff"/><stop offset=".31" stop-color="#009bff"/><stop offset=".38" stop-color="#00bdff"/><stop offset=".49" stop-color="#00deff"/><stop offset=".54" stop-color="#00f9ff"/><stop offset=".55" stop-color="#01fffe"/><stop offset=".66" stop-color="#5cffa3"/><stop offset=".71" stop-color="#7dff82"/><stop offset="1" stop-color="#acff53"/></linearGradient><linearGradient id="g171" x2="0" y2="1"><stop offset="0" stop-color="#000081"/><stop offset=".06" stop-color="#000086"/><stop offset=".1" stop-color="#000098"/><stop offset=".15" stop-color="#0000bd"/><stop offset=".2" stop-color="#0000fb"/><stop offset=".26" stop-color="#0039ff"/><stop offset=".31" stop-color="#0060ff"/><stop offset=".38" stop-color="#0084ff"/><stop offset=".49" stop-color="#00b4ff"/><stop offset=".53" stop-color="#00d2ff"/><stop offset=".57" stop-color="#00faff"/><stop offset=".58" stop-color="#07fff8"/><stop offset=".67" stop-color="#5fffa0"/><stop offset=".72" stop-color="#81ff7e"/><stop offset="1" stop-color="#b2ff4d"/></linearGradient><linearGradient id="g172" x2="0" y2="1"><stop offset="0" stop-color="#000082"/><stop offset=".07" stop-color="#00008a"/><stop offset=".11" stop-color="#000098"/><stop offset=".16" stop-color="#0000b5"/><stop offset=".23" stop-color="#0000fb"/><stop offset=".33" stop-color="#004bff"/><stop offset=".49" stop-color="#00a1ff"/><stop offset=".53" stop-color="#00c6ff"/><stop offset=".57" stop-color="#00f5ff"/><stop offset=".58" stop-color="#03fffc"/><stop offset=".67" stop-color="#63ff9c"/><stop offset=".72" stop-color="#88ff77"/><stop offset=".85" stop-color="#a5ff5a"/><stop offset="1" stop-color="#bbff44"/></linearGradient><linearGradient id="g173" x2="0" y2="1"><stop offset="0" stop-color="#000084"/><stop offset=".07" stop-color="#00008f"/><stop offset=".12" stop-color="#0000a3"/><stop offset=".17" stop-color="#0000be"/><stop offset=".24" stop-color="#0000ff"/><stop offset=".3" stop-color="#0033ff"/><stop offset=".48" stop-color="#009eff"/><stop offset=".52" stop-color="#00c3ff"/><stop offset=".57" stop-color="#00ffff"/><stop offset=".66" stop-color="#65ff9a"/><stop offset=".69" stop-color="#82ff7d"/><stop offset=".72" stop-color="#95ff6a"/><stop offset=".84" stop-color="#b0ff4f"/><stop offset="1" stop-color="#c6ff39"/></linearGradient><linearGradient id="g174" x2="0" y2="1"><stop offset="0" stop-color="#000087"/><stop offset=".06" stop-color="#000094"/><stop offset=".11" stop-color="#0000aa"/><stop offset=".16" stop-color="#0000c7"/><stop offset=".22" stop-color="#0001ff"/><stop offset=".3" stop-color="#004cff"/><stop offset=".48" stop-color="#00b7ff"/><stop offset=".55" stop-color="#00fdff"/><stop offset=".66" stop-color="#77ff88"/><stop offset=".69" stop-color="#93ff6c"/><stop offset=".72" stop-color="#a6ff59"/><stop offset=".84" stop-color="#c0ff3f"/><stop offset="1" stop-color="#d1ff2e"/></linearGradient><linearGradient id="g175" x2="0" y2="1"><stop offset="0" stop-color="#00008a"/><stop offset=".05" stop-color="#000099"/><stop offset=".09" stop-color="#0000ae"/><stop offset=".14" stop-color="#0000cd"/><stop offset=".19" stop-color="#0002ff"/><stop offset=".25" stop-color="#0049ff"/><stop offset=".29" stop-color="#0070ff"/><stop offset=".45" stop-color="#00caff"/><stop offset=".51" stop-color="#00f8ff"/><stop offset=".53" stop-color="#0cfff3"/><stop offset=".66" stop-color="#8fff70"/><stop offset=".71" stop-color="#b5ff4a"/><stop offset=".83" stop-color="#cfff30"/><stop offset="1" stop-color="#ddff22"/></linearGradient><linearGradient id="g176" x2="0" y2="1"><stop offset="0" stop-color="#000090"/><stop offset=".04" stop-color="#00009f"/><stop offset=".08" stop-color="#0000b8"/><stop offset=".16" stop-color="#0002ff"/><stop offset=".24" stop-color="#0071ff"/><stop offset=".28" stop-color="#00a0ff"/><stop offset=".31" stop-color="#00b7ff"/><stop offset=".45" stop-color="#00feff"/><stop offset=".51" stop-color="#28ffd7"/><stop offset=".65" stop-color="#a2ff5d"/><stop offset=".71" stop-color="#ccff33"/><stop offset=".82" stop-color="#e0ff1f"/><stop offset="1" stop-color="#e9ff16"/></linearGradient><linearGradient id="g177" x2="0" y2="1"><stop offset="0" stop-color="#000096"/><stop offset=".06" stop-color="#0000ba"/><stop offset=".09" stop-color="#0000d6"/><stop offset=".12" stop-color="#0000fb"/><stop offset=".15" stop-color="#0019ff"/><stop offset=".26" stop-color="#00caff"/><stop offset=".29" stop-color="#00eaff"/><stop offset=".32" stop-color="#00fdff"/><stop offset=".49" stop-color="#4fffb0"/><stop offset=".66" stop-color="#caff35"/><stop offset=".71" stop-color="#e6ff19"/><stop offset=".82" stop-color="#f4ff0b"/><stop offset="1" stop-color="#f6ff09"/></linearGradient><linearGradient id="g178" x2="0" y2="1"><stop offset="0" stop-color="#00009e"/><stop offset=".05" stop-color="#0000c2"/><stop offset=".1" stop-color="#0000fe"/><stop offset=".15" stop-color="#0042ff"/><stop offset=".22" stop-color="#00cbff"/><stop offset=".25" stop-color="#01fffe"/><stop offset=".28" stop-color="#29ffd6"/><stop offset=".3" stop-color="#3affc5"/><stop offset=".49" stop-color="#89ff76"/><stop offset=".65" stop-color="#e7ff18"/><stop offset=".7" stop-color="#ffff00"/><stop offset=".81" stop-color="#fff400"/><stop offset="1" stop-color="#fffb00"/></linearGradient><linearGradient id="g179" x2="0" y2="1"><stop offset="0" stop-color="#0000a7"/><stop offset=".04" stop-color="#0000c8"/><stop offset=".08" stop-color="#0000fc"/><stop offset=".1" stop-color="#001eff"/><stop offset=".14" stop-color="#0059ff"/><stop offset=".21" stop-color="#00f7ff"/><stop offset=".22" stop-color="#0efff1"/><stop offset=".26" stop-color="#59ffa6"/><stop offset=".28" stop-color="#74ff8b"/><stop offset=".3" stop-color="#85ff7a"/><stop offset=".49" stop-color="#c5ff3a"/><stop offset=".61" stop-color="#feff01"/><stop offset=".68" stop-color="#ffe600"/><stop offset=".73" stop-color="#ffdc00"/><stop offset=".84" stop-color="#ffde00"/><stop offset="1" stop-color="#ffed00"/></linearGradient><linearGradient id="g180" x2="0" y2="1"><stop offset="0" stop-color="#0000b0"/><stop offset=".03" stop-color="#0000cd"/><stop offset=".06" stop-color="#0000f5"/><stop offset=".07" stop-color="#0006ff"/><stop offset=".11" stop-color="#0054ff"/><stop offset=".19" stop-color="#04fffb"/><stop offset=".23" stop-color="#67ff98"/><stop offset=".26" stop-color="#a3ff5c"/><stop offset=".29" stop-color="#c9ff36"/><stop offset=".31" stop-color="#d3ff2c"/><stop offset=".49" stop-color="#fffe00"/><stop offset=".65" stop-color="#ffcb00"/><stop offset=".72" stop-color="#ffbf00"/><stop offset=".83" stop-color="#ffc600"/><stop offset="1" stop-color="#ffdd00"/></linearGradient><linearGradient id="g181" x2="0" y2="1"><stop offset="0" stop-color="#0000b9"/><stop offset=".03" stop-color="#0000db"/><stop offset=".05" stop-color="#0000f8"/><stop offset=".06" stop-color="#000aff"/><stop offset=".1" stop-color="#005dff"/><stop offset=".17" stop-color="#02fffd"/><stop offset=".21" stop-color="#75ff8a"/><stop offset=".24" stop-color="#c1ff3e"/><stop offset=".27" stop-color="#f9ff06"/><stop offset=".28" stop-color="#fff700"/><stop offset=".31" stop-color="#ffe400"/><stop offset=".69" stop-color="#ffa100"/><stop offset=".79" stop-color="#ffa800"/><stop offset="1" stop-color="#ffcd00"/></linearGradient><linearGradient id="g182" x2="0" y2="1"><stop offset="0" stop-color="#0000c1"/><stop offset=".04" stop-color="#0000f7"/><stop offset=".05" stop-color="#0009ff"/><stop offset=".09" stop-color="#0060ff"/><stop offset=".15" stop-color="#00eeff"/><stop offset=".16" stop-color="#0ffff0"/><stop offset=".21" stop-color="#acff53"/><stop offset=".24" stop-color="#feff01"/><stop offset=".27" stop-color="#ffc400"/><stop offset=".3" stop-color="#ffa700"/><stop offset=".62" stop-color="#ff8300"/><stop offset=".74" stop-color="#ff8600"/><stop offset="1" stop-color="#ffbc00"/></linearGradient><linearGradient id="g183" x2="0" y2="1"><stop offset="0" stop-color="#0000c8"/><stop offset=".04" stop-color="#0003ff"/><stop offset=".08" stop-color="#005aff"/><stop offset=".1" stop-color="#0090ff"/><stop offset=".14" stop-color="#00edff"/><stop offset=".15" stop-color="#0ffff0"/><stop offset=".22" stop-color="#f9ff06"/><stop offset=".23" stop-color="#ffe800"/><stop offset=".25" stop-color="#ffb500"/><stop offset=".27" stop-color="#ff8f00"/><stop offset=".29" stop-color="#ff7700"/><stop offset=".31" stop-color="#ff6f00"/><stop offset=".59" stop-color="#ff6200"/><stop offset=".69" stop-color="#ff6400"/><stop offset=".79" stop-color="#ff7700"/><stop offset="1" stop-color="#ffab00"/></linearGradient><linearGradient id="g184" x2="0" y2="1"><stop offset="0" stop-color="#0000cc"/><stop offset=".03" stop-color="#0000f8"/><stop offset=".04" stop-color="#000bff"/><stop offset=".08" stop-color="#0067ff"/><stop offset=".14" stop-color="#03fffc"/><stop offset=".21" stop-color="#fbff04"/><stop offset=".22" stop-color="#ffe300"/><stop offset=".25" stop-color="#ff9000"/><stop offset=".27" stop-color="#ff6800"/><stop offset=".29" stop-color="#ff4f00"/><stop offset=".31" stop-color="#ff4800"/><stop offset=".57" stop-color="#ff4500"/><stop offset=".68" stop-color="#ff4b00"/><stop offset=".78" stop-color="#ff6000"/><stop offset="1" stop-color="#ff9b00"/></linearGradient><linearGradient id="g185" x2="0" y2="1"><stop offset="0" stop-color="#0000cf"/><stop offset=".03" stop-color="#0000fc"/><stop offset=".04" stop-color="#000fff"/><stop offset=".08" stop-color="#006eff"/><stop offset=".12" stop-color="#00eaff"/><stop offset=".14" stop-color="#0efff1"/><stop offset=".2" stop-color="#eaff15"/><stop offset=".21" stop-color="#fff100"/><stop offset=".24" stop-color="#ff9400"/><stop offset=".26" stop-color="#ff6500"/><stop offset=".28" stop-color="#ff4300"/><stop offset=".29" stop-color="#ff3900"/><stop offset=".31" stop-color="#ff3100"/><stop offset=".55" stop-color="#ff3100"/><stop offset=".67" stop-color="#ff3a00"/><stop offset=".78" stop-color="#ff5100"/><stop offset="1" stop-color="#ff8f00"/></linearGradient><linearGradient id="g186" x2="0" y2="1"><stop offset="0" stop-color="#0000cf"/><stop offset=".03" stop-color="#0000fc"/><stop offset=".04" stop-color="#0010ff"/><stop offset=".08" stop-color="#006fff"/><stop offset=".12" stop-color="#00ebff"/><stop offset=".14" stop-color="#0ffff0"/><stop offset=".2" stop-color="#ecff13"/><stop offset=".21" stop-color="#ffef00"/><stop offset=".24" stop-color="#ff9200"/><stop offset=".26" stop-color="#ff6200"/><stop offset=".28" stop-color="#ff4000"/><stop offset=".29" stop-color="#ff3600"/><stop offset=".31" stop-color="#ff2e00"/><stop offset=".55" stop-color="#ff2e00"/><stop offset=".66" stop-color="#ff3700"/><stop offset=".77" stop-color="#ff4e00"/><stop offset="1" stop-color="#ff8e00"/></linearGradient><linearGradient id="g187" x2="0" y2="1"><stop offset="0" stop-color="#0000cd"/><stop offset=".03" stop-color="#0000fa"/><stop offset=".04" stop-color="#000dff"/><stop offset=".08" stop-color="#006aff"/><stop offset=".12" stop-color="#00e4ff"/><stop offset=".14" stop-color="#07fff8"/><stop offset=".2" stop-color="#e0ff1f"/><stop offset=".21" stop-color="#fffc00"/><stop offset=".24" stop-color="#ffa100"/><stop offset=".26" stop-color="#ff7200"/><stop offset=".28" stop-color="#ff5100"/><stop offset=".29" stop-color="#ff4700"/><stop offset=".31" stop-color="#ff3f00"/><stop offset=".54" stop-color="#ff3f00"/><stop offset=".66" stop-color="#ff4800"/><stop offset=".77" stop-color="#ff5f00"/><stop offset="1" stop-color="#ff9f00"/></linearGradient><linearGradient id="g188" x2="0" y2="1"><stop offset="0" stop-color="#0000c9"/><stop offset=".03" stop-color="#0000f4"/><stop offset=".04" stop-color="#0006ff"/><stop offset=".08" stop-color="#005fff"/><stop offset=".1" stop-color="#0096ff"/><stop offset=".14" stop-color="#00f4ff"/><stop offset=".15" stop-color="#17ffe8"/><stop offset=".2" stop-color="#c4ff3b"/><stop offset=".22" stop-color="#fff900"/><stop offset=".25" stop-color="#ffa900"/><stop offset=".27" stop-color="#ff8200"/><stop offset=".29" stop-color="#ff6a00"/><stop offset=".31" stop-color="#ff6200"/><stop offset=".54" stop-color="#ff5c00"/><stop offset=".66" stop-color="#ff6400"/><stop offset=".78" stop-color="#ff7b00"/><stop offset="1" stop-color="#ffb400"/></linearGradient><linearGradient id="g189" x2="0" y2="1"><stop offset="0" stop-color="#0000c3"/><stop offset=".04" stop-color="#0000fb"/><stop offset=".05" stop-color="#000dff"/><stop offset=".09" stop-color="#0066ff"/><stop offset=".15" stop-color="#00f8ff"/><stop offset=".16" stop-color="#1affe5"/><stop offset=".22" stop-color="#d9ff26"/><stop offset=".23" stop-color="#f5ff0a"/><stop offset=".24" stop-color="#fff000"/><stop offset=".27" stop-color="#ffb300"/><stop offset=".3" stop-color="#ff9500"/><stop offset=".53" stop-color="#ff8400"/><stop offset=".62" stop-color="#ff8400"/><stop offset=".72" stop-color="#ff8e00"/><stop offset="1" stop-color="#ffcd00"/></linearGradient><linearGradient id="g190" x2="0" y2="1"><stop offset="0" stop-color="#0000bc"/><stop offset=".03" stop-color="#0000df"/><stop offset=".05" stop-color="#0000fd"/><stop offset=".06" stop-color="#0010ff"/><stop offset=".1" stop-color="#0066ff"/><stop offset=".16" stop-color="#00f1ff"/><stop offset=".17" stop-color="#10ffef"/><stop offset=".22" stop-color="#a2ff5d"/><stop offset=".24" stop-color="#d4ff2b"/><stop offset=".26" stop-color="#fdff02"/><stop offset=".29" stop-color="#ffd900"/><stop offset=".31" stop-color="#ffd000"/><stop offset=".59" stop-color="#ffaf00"/><stop offset=".76" stop-color="#ffb900"/><stop offset="1" stop-color="#ffe700"/></linearGradient><linearGradient id="g191" x2="0" y2="1"><stop offset="0" stop-color="#0000b3"/><stop offset=".03" stop-color="#0000d1"/><stop offset=".06" stop-color="#0000fb"/><stop offset=".07" stop-color="#000dff"/><stop offset=".11" stop-color="#005eff"/><stop offset=".18" stop-color="#00f9ff"/><stop offset=".19" stop-color="#15ffea"/><stop offset=".23" stop-color="#7bff84"/><stop offset=".26" stop-color="#b8ff47"/><stop offset=".29" stop-color="#dfff20"/><stop offset=".31" stop-color="#e9ff16"/><stop offset=".42" stop-color="#fffe00"/><stop offset=".56" stop-color="#ffe300"/><stop offset=".68" stop-color="#ffdc00"/><stop offset=".79" stop-color="#ffe200"/><stop offset="1" stop-color="#fcff03"/></linearGradient><linearGradient id="g192" x2="0" y2="1"><stop offset="0" stop-color="#0000a9"/><stop offset=".04" stop-color="#0000cd"/><stop offset=".08" stop-color="#0005ff"/><stop offset=".14" stop-color="#0065ff"/><stop offset=".2" stop-color="#00f2ff"/><stop offset=".21" stop-color="#0bfff4"/><stop offset=".25" stop-color="#5effa1"/><stop offset=".27" stop-color="#7eff81"/><stop offset=".29" stop-color="#94ff6b"/><stop offset=".31" stop-color="#a0ff5f"/><stop offset=".49" stop-color="#d4ff2b"/><stop offset=".6" stop-color="#edff12"/><stop offset=".72" stop-color="#f7ff08"/><stop offset=".83" stop-color="#f3ff0c"/><stop offset="1" stop-color="#e0ff1f"/></linearGradient><linearGradient id="g193" x2="0" y2="1"><stop offset="0" stop-color="#0000a0"/><stop offset=".04" stop-color="#0000bd"/><stop offset=".09" stop-color="#0000f8"/><stop offset=".1" stop-color="#0008ff"/><stop offset=".15" stop-color="#004fff"/><stop offset=".23" stop-color="#00f1ff"/><stop offset=".24" stop-color="#05fffa"/><stop offset=".27" stop-color="#33ffcc"/><stop offset=".3" stop-color="#50ffaf"/><stop offset=".47" stop-color="#90ff6f"/><stop offset=".58" stop-color="#b4ff4b"/><stop offset=".68" stop-color="#c6ff39"/><stop offset=".77" stop-color="#ceff31"/><stop offset="1" stop-color="#c4ff3b"/></linearGradient><linearGradient id="g194" x2="0" y2="1"><stop offset="0" stop-color="#000098"/><stop offset=".06" stop-color="#0000bf"/><stop offset=".11" stop-color="#0000f7"/><stop offset=".12" stop-color="#0006ff"/><stop offset=".24" stop-color="#00c0ff"/><stop offset=".27" stop-color="#00eaff"/><stop offset=".29" stop-color="#00ffff"/><stop offset=".51" stop-color="#63ff9c"/><stop offset=".65" stop-color="#90ff6f"/><stop offset=".8" stop-color="#a7ff58"/><stop offset="1" stop-color="#a8ff57"/></linearGradient><linearGradient id="g195" x2="0" y2="1"><stop offset="0" stop-color="#000091"/><stop offset=".07" stop-color="#0000b6"/><stop offset=".1" stop-color="#0000d0"/><stop offset=".15" stop-color="#0000ff"/><stop offset=".24" stop-color="#0082ff"/><stop offset=".28" stop-color="#00b2ff"/><stop offset=".31" stop-color="#00c8ff"/><stop offset=".43" stop-color="#02fffd"/><stop offset=".57" stop-color="#45ffba"/><stop offset=".7" stop-color="#6dff92"/><stop offset=".83" stop-color="#84ff7b"/><stop offset="1" stop-color="#8bff74"/></linearGradient><linearGradient id="g196" x2="0" y2="1"><stop offset="0" stop-color="#00008c"/><stop offset=".05" stop-color="#00009c"/><stop offset=".09" stop-color="#0000b3"/><stop offset=".14" stop-color="#0000d5"/><stop offset=".18" stop-color="#0001ff"/><stop offset=".25" stop-color="#0056ff"/><stop offset=".29" stop-color="#007dff"/><stop offset=".53" stop-color="#00fdff"/><stop offset=".66" stop-color="#33ffcc"/><stop offset=".76" stop-color="#52ffad"/><stop offset=".88" stop-color="#66ff99"/><stop offset="1" stop-color="#70ff8f"/></linearGradient><linearGradient id="g197" x2="0" y2="1"><stop offset="0" stop-color="#000088"/><stop offset=".05" stop-color="#000093"/><stop offset=".1" stop-color="#0000a9"/><stop offset=".16" stop-color="#0000cd"/><stop offset=".21" stop-color="#0000fc"/><stop offset=".22" stop-color="#0007ff"/><stop offset=".27" stop-color="#0038ff"/><stop offset=".3" stop-color="#004fff"/><stop offset=".54" stop-color="#00d0ff"/><stop offset=".64" stop-color="#00fcff"/><stop offset=".81" stop-color="#38ffc7"/><stop offset="1" stop-color="#54ffab"/></linearGradient><linearGradient id="g198" x2="0" y2="1"><stop offset="0" stop-color="#000085"/><stop offset=".06" stop-color="#00008f"/><stop offset=".12" stop-color="#0000a5"/><stop offset=".18" stop-color="#0000c4"/><stop offset=".25" stop-color="#0000fb"/><stop offset=".26" stop-color="#0004ff"/><stop offset=".3" stop-color="#0020ff"/><stop offset=".58" stop-color="#00b7ff"/><stop offset=".74" stop-color="#00fcff"/><stop offset=".88" stop-color="#24ffdb"/><stop offset="1" stop-color="#39ffc6"/></linearGradient><linearGradient id="g199" x2="0" y2="1"><stop offset="0" stop-color="#000083"/><stop offset=".07" stop-color="#00008b"/><stop offset=".14" stop-color="#00009c"/><stop offset=".19" stop-color="#0000b4"/><stop offset=".29" stop-color="#0000f4"/><stop offset=".32" stop-color="#0004ff"/><stop offset=".64" stop-color="#00a8ff"/><stop offset=".77" stop-color="#00e3ff"/><stop offset=".85" stop-color="#00feff"/><stop offset="1" stop-color="#1fffe0"/></linearGradient><linearGradient id="g200" x2="0" y2="1"><stop offset="0" stop-color="#000081"/><stop offset=".08" stop-color="#000088"/><stop offset=".16" stop-color="#000098"/><stop offset=".39" stop-color="#0000fe"/><stop offset=".65" stop-color="#0088ff"/><stop offset=".76" stop-color="#00bdff"/><stop offset=".91" stop-color="#00efff"/><stop offset=".97" stop-color="#00feff"/><stop offset="1" stop-color="#06fff9"/></linearGradient><linearGradient id="g201" x2="0" y2="1"><stop offset="0" stop-color="#000080"/><stop offset=".1" stop-color="#000087"/><stop offset=".19" stop-color="#000097"/><stop offset=".35" stop-color="#0000d5"/><stop offset=".45" stop-color="#0000fe"/><stop offset=".77" stop-color="#00a1ff"/><stop offset=".89" stop-color="#00cdff"/><stop offset="1" stop-color="#00edff"/></linearGradient><linearGradient id="g202" x2="0" y2="1"><stop offset="0" stop-color="#000080"/><stop offset=".12" stop-color="#000086"/><stop offset=".22" stop-color="#000096"/><stop offset=".38" stop-color="#0000c6"/><stop offset=".51" stop-color="#0002ff"/><stop offset=".79" stop-color="#008dff"/><stop offset=".9" stop-color="#00b5ff"/><stop offset="1" stop-color="#00d5ff"/></linearGradient><linearGradient id="g203" x2="0" y2="1"><stop offset="0" stop-color="#000080"/><stop offset=".15" stop-color="#000085"/><stop offset=".26" stop-color="#000097"/><stop offset=".41" stop-color="#0000be"/><stop offset=".56" stop-color="#0002ff"/><stop offset=".81" stop-color="#007bff"/><stop offset="1" stop-color="#00bfff"/></linearGradient><linearGradient id="g204" x2="0" y2="1"><stop offset="0" stop-color="#000080"/><stop offset=".19" stop-color="#000085"/><stop offset=".33" stop-color="#00009c"/><stop offset=".46" stop-color="#0000bf"/><stop offset=".6" stop-color="#0000fd"/><stop offset=".84" stop-color="#006fff"/><stop offset="1" stop-color="#00aaff"/></linearGradient><linearGradient id="g205" x2="0" y2="1"><stop offset="0" stop-color="#000080"/><stop offset=".21" stop-color="#000084"/><stop offset=".36" stop-color="#000099"/><stop offset=".5" stop-color="#0000be"/><stop offset=".66" stop-color="#0001ff"/><stop offset=".85" stop-color="#005dff"/><stop offset="1" stop-color="#0095ff"/></linearGradient><linearGradient id="cb206" x1="0" y1="0" x2="0" y2="1"><stop offset="0" stop-color="#800000"/><stop offset="0.06" stop-color="#bf0000"/><stop offset="0.12" stop-color="#ff0000"/><stop offset="0.19" stop-color="#ff4000"/><stop offset="0.25" stop-color="#ff8000"/><stop offset="0.31" stop-color="#ffbf00"/><stop offset="0.38" stop-color="#ffff00"/><stop offset="0.44" stop-color="#bfff40"/><stop offset="0.5" stop-color="#80ff80"/><stop offset="0.56" stop-color="#40ffbf"/><stop offset="0.62" stop-color="#00ffff"/><stop offset="0.69" stop-color="#00bfff"/><stop offset="0.75" stop-color="#0080ff"/><stop offset="0.81" stop-color="#0040ff"/><stop offset="0.88" stop-color="#0000ff"/><stop offset="0.94" stop-color="#0000bf"/><stop offset="1" stop-color="#000080"/></linearGradient><clipPath id="cp207"><rect x="44.8" y="323.5" width="108.9" height="95.8"/></clipPath><linearGradient id="g208" x2="0" y2="1"><stop offset="0" stop-color="#000080"/><stop offset=".77" stop-color="#000080"/><stop offset="1" stop-color="#00008d"/></linearGradient><linearGradient id="g209" x2="0" y2="1"><stop offset="0" stop-color="#000080"/><stop offset=".77" stop-color="#000080"/><stop offset="1" stop-color="#00008f"/></linearGradient><linearGradient id="g210" x2="0" y2="1"><stop offset="0" stop-color="#000080"/><stop offset=".77" stop-color="#000081"/><stop offset="1" stop-color="#000091"/></linearGradient><linearGradient id="g211" x2="0" y2="1"><stop offset="0" stop-color="#000080"/><stop offset=".77" stop-color="#000081"/><stop offset="1" stop-color="#000092"/></linearGradient><linearGradient id="g212" x2="0" y2="1"><stop offset="0" stop-color="#000080"/><stop offset=".77" stop-color="#000082"/><stop offset=".89" stop-color="#000087"/><stop offset="1" stop-color="#000094"/></linearGradient><linearGradient id="g213" x2="0" y2="1"><stop offset="0" stop-color="#000080"/><stop offset=".78" stop-color="#000083"/><stop offset=".9" stop-color="#000089"/><stop offset="1" stop-color="#000097"/></linearGradient><linearGradient id="g214" x2="0" y2="1"><stop offset="0" stop-color="#000080"/><stop offset=".79" stop-color="#000084"/><stop offset=".9" stop-color="#00008b"/><stop offset="1" stop-color="#000099"/></linearGradient><linearGradient id="g215" x2="0" y2="1"><stop offset="0" stop-color="#000080"/><stop offset=".8" stop-color="#000087"/><stop offset=".9" stop-color="#00008d"/><stop offset="1" stop-color="#00009c"/></linearGradient><linearGradient id="g216" x2="0" y2="1"><stop offset="0" stop-color="#000080"/><stop offset=".82" stop-color="#00008b"/><stop offset="1" stop-color="#0000a0"/></linearGradient><linearGradient id="g217" x2="0" y2="1"><stop offset="0" stop-color="#000080"/><stop offset=".19" stop-color="#000081"/><stop offset=".51" stop-color="#000091"/><stop offset=".84" stop-color="#000091"/><stop offset="1" stop-color="#0000a4"/></linearGradient><linearGradient id="g218" x2="0" y2="1"><stop offset="0" stop-color="#000080"/><stop offset=".18" stop-color="#000082"/><stop offset=".5" stop-color="#00009a"/><stop offset=".86" stop-color="#000099"/><stop offset="1" stop-color="#0000a9"/></linearGradient><linearGradient id="g219" x2="0" y2="1"><stop offset="0" stop-color="#000080"/><stop offset=".17" stop-color="#000083"/><stop offset=".48" stop-color="#0000a7"/><stop offset=".85" stop-color="#0000a3"/><stop offset="1" stop-color="#0000b1"/></linearGradient><linearGradient id="g220" x2="0" y2="1"><stop offset="0" stop-color="#000080"/><stop offset=".16" stop-color="#000084"/><stop offset=".36" stop-color="#0000ae"/><stop offset=".48" stop-color="#0000ba"/><stop offset=".6" stop-color="#0000bc"/><stop offset=".86" stop-color="#0000b2"/><stop offset="1" stop-color="#0000bc"/></linearGradient><linearGradient id="g221" x2="0" y2="1"><stop offset="0" stop-color="#000080"/><stop offset=".14" stop-color="#000085"/><stop offset=".34" stop-color="#0000bf"/><stop offset=".48" stop-color="#0000d4"/><stop offset=".6" stop-color="#0000d5"/><stop offset=".88" stop-color="#0000c4"/><stop offset="1" stop-color="#0000cb"/></linearGradient><linearGradient id="g222" x2="0" y2="1"><stop offset="0" stop-color="#000080"/><stop offset=".12" stop-color="#000087"/><stop offset=".33" stop-color="#0000da"/><stop offset=".47" stop-color="#0000f5"/><stop offset=".6" stop-color="#0000f6"/><stop offset=".89" stop-color="#0000dc"/><stop offset="1" stop-color="#0000de"/></linearGradient><linearGradient id="g223" x2="0" y2="1"><stop offset="0" stop-color="#000080"/><stop offset=".07" stop-color="#000081"/><stop offset=".12" stop-color="#00008e"/><stop offset=".25" stop-color="#0000da"/><stop offset=".33" stop-color="#0001ff"/><stop offset=".43" stop-color="#001bff"/><stop offset=".52" stop-color="#0023ff"/><stop offset=".62" stop-color="#001dff"/><stop offset=".82" stop-color="#0000ff"/><stop offset="1" stop-color="#0000f7"/></linearGradient><linearGradient id="g224" x2="0" y2="1"><stop offset="0" stop-color="#000080"/><stop offset=".06" stop-color="#000082"/><stop offset=".1" stop-color="#00008e"/><stop offset=".15" stop-color="#0000a9"/><stop offset=".23" stop-color="#0000f4"/><stop offset=".25" stop-color="#0004ff"/><stop offset=".31" stop-color="#0029ff"/><stop offset=".38" stop-color="#0043ff"/><stop offset=".44" stop-color="#0052ff"/><stop offset=".5" stop-color="#0057ff"/><stop offset=".61" stop-color="#004eff"/><stop offset=".88" stop-color="#001eff"/><stop offset="1" stop-color="#0016ff"/></linearGradient><linearGradient id="g225" x2="0" y2="1"><stop offset="0" stop-color="#000080"/><stop offset=".05" stop-color="#000082"/><stop offset=".09" stop-color="#000093"/><stop offset=".12" stop-color="#0000ad"/><stop offset=".19" stop-color="#0000f8"/><stop offset=".2" stop-color="#0006ff"/><stop offset=".24" stop-color="#0033ff"/><stop offset=".32" stop-color="#006bff"/><stop offset=".4" stop-color="#0088ff"/><stop offset=".47" stop-color="#0094ff"/><stop offset=".58" stop-color="#008cff"/><stop offset=".86" stop-color="#0049ff"/><stop offset="1" stop-color="#003aff"/></linearGradient><linearGradient id="g226" x2="0" y2="1"><stop offset="0" stop-color="#000080"/><stop offset=".04" stop-color="#000083"/><stop offset=".07" stop-color="#000092"/><stop offset=".11" stop-color="#0000bc"/><stop offset=".16" stop-color="#0000fb"/><stop offset=".17" stop-color="#000dff"/><stop offset=".22" stop-color="#005eff"/><stop offset=".27" stop-color="#0090ff"/><stop offset=".35" stop-color="#00c3ff"/><stop offset=".44" stop-color="#00d9ff"/><stop offset=".5" stop-color="#00daff"/><stop offset=".57" stop-color="#00cfff"/><stop offset=".85" stop-color="#007aff"/><stop offset="1" stop-color="#0062ff"/></linearGradient><linearGradient id="g227" x2="0" y2="1"><stop offset="0" stop-color="#000080"/><stop offset=".03" stop-color="#000085"/><stop offset=".06" stop-color="#000098"/><stop offset=".09" stop-color="#0000be"/><stop offset=".12" stop-color="#0000f5"/><stop offset=".14" stop-color="#000aff"/><stop offset=".2" stop-color="#008aff"/><stop offset=".23" stop-color="#00bbff"/><stop offset=".27" stop-color="#00e2ff"/><stop offset=".31" stop-color="#01fffe"/><stop offset=".39" stop-color="#21ffde"/><stop offset=".46" stop-color="#2affd5"/><stop offset=".54" stop-color="#1fffe0"/><stop offset=".64" stop-color="#02fffd"/><stop offset=".85" stop-color="#00adff"/><stop offset="1" stop-color="#008dff"/></linearGradient><linearGradient id="g228" x2="0" y2="1"><stop offset="0" stop-color="#000081"/><stop offset=".03" stop-color="#00008d"/><stop offset=".05" stop-color="#0000a1"/><stop offset=".07" stop-color="#0000be"/><stop offset=".1" stop-color="#0000fc"/><stop offset=".11" stop-color="#0015ff"/><stop offset=".19" stop-color="#00caff"/><stop offset=".21" stop-color="#00f5ff"/><stop offset=".22" stop-color="#09fff6"/><stop offset=".25" stop-color="#2effd1"/><stop offset=".32" stop-color="#62ff9d"/><stop offset=".38" stop-color="#77ff88"/><stop offset=".44" stop-color="#7fff80"/><stop offset=".5" stop-color="#77ff88"/><stop offset=".56" stop-color="#65ff9a"/><stop offset=".78" stop-color="#00ffff"/><stop offset=".9" stop-color="#00d2ff"/><stop offset="1" stop-color="#00b9ff"/></linearGradient><linearGradient id="g229" x2="0" y2="1"><stop offset="0" stop-color="#000084"/><stop offset=".02" stop-color="#000091"/><stop offset=".04" stop-color="#0000ab"/><stop offset=".06" stop-color="#0000d0"/><stop offset=".08" stop-color="#0001ff"/><stop offset=".11" stop-color="#0056ff"/><stop offset=".17" stop-color="#00f2ff"/><stop offset=".18" stop-color="#10ffef"/><stop offset=".2" stop-color="#44ffbb"/><stop offset=".22" stop-color="#6dff92"/><stop offset=".25" stop-color="#93ff6c"/><stop offset=".33" stop-color="#c5ff3a"/><stop offset=".38" stop-color="#d2ff2d"/><stop offset=".42" stop-color="#d6ff29"/><stop offset=".48" stop-color="#ceff31"/><stop offset=".55" stop-color="#b4ff4b"/><stop offset=".8" stop-color="#2dffd2"/><stop offset=".9" stop-color="#03fffc"/><stop offset="1" stop-color="#00e4ff"/></linearGradient><linearGradient id="g230" x2="0" y2="1"><stop offset="0" stop-color="#00008d"/><stop offset=".03" stop-color="#0000b9"/><stop offset=".06" stop-color="#0001ff"/><stop offset=".09" stop-color="#005eff"/><stop offset=".14" stop-color="#00ebff"/><stop offset=".15" stop-color="#10ffef"/><stop offset=".18" stop-color="#74ff8b"/><stop offset=".21" stop-color="#c2ff3d"/><stop offset=".23" stop-color="#e5ff1a"/><stop offset=".26" stop-color="#ffff00"/><stop offset=".33" stop-color="#ffdc00"/><stop offset=".4" stop-color="#ffd200"/><stop offset=".47" stop-color="#ffde00"/><stop offset=".55" stop-color="#fcff03"/><stop offset=".83" stop-color="#4fffb0"/><stop offset=".92" stop-color="#28ffd7"/><stop offset="1" stop-color="#0efff1"/></linearGradient><linearGradient id="g231" x2="0" y2="1"><stop offset="0" stop-color="#0000a1"/><stop offset=".02" stop-color="#0000c9"/><stop offset=".04" stop-color="#0000fd"/><stop offset=".07" stop-color="#005fff"/><stop offset=".11" stop-color="#00f6ff"/><stop offset=".12" stop-color="#1fffe0"/><stop offset=".16" stop-color="#92ff6d"/><stop offset=".18" stop-color="#d7ff28"/><stop offset=".19" stop-color="#f5ff0a"/><stop offset=".2" stop-color="#ffee00"/><stop offset=".22" stop-color="#ffc300"/><stop offset=".24" stop-color="#ffaa00"/><stop offset=".31" stop-color="#ff8b00"/><stop offset=".38" stop-color="#ff8200"/><stop offset=".43" stop-color="#ff8900"/><stop offset=".49" stop-color="#ff9f00"/><stop offset=".55" stop-color="#ffc100"/><stop offset=".64" stop-color="#fffa00"/><stop offset=".65" stop-color="#fcff03"/><stop offset=".77" stop-color="#a2ff5d"/><stop offset=".85" stop-color="#6eff91"/><stop offset=".93" stop-color="#4bffb4"/><stop offset="1" stop-color="#33ffcc"/></linearGradient><linearGradient id="g232" x2="0" y2="1"><stop offset="0" stop-color="#0000c4"/><stop offset=".02" stop-color="#0000f8"/><stop offset=".03" stop-color="#0017ff"/><stop offset=".06" stop-color="#007dff"/><stop offset=".09" stop-color="#00f3ff"/><stop offset=".1" stop-color="#1dffe2"/><stop offset=".16" stop-color="#eaff15"/><stop offset=".17" stop-color="#ffef00"/><stop offset=".2" stop-color="#ff9300"/><stop offset=".22" stop-color="#ff6a00"/><stop offset=".23" stop-color="#ff5c00"/><stop offset=".24" stop-color="#ff5400"/><stop offset=".28" stop-color="#ff4700"/><stop offset=".35" stop-color="#ff3c00"/><stop offset=".42" stop-color="#ff4600"/><stop offset=".49" stop-color="#ff6500"/><stop offset=".57" stop-color="#ff9b00"/><stop offset=".7" stop-color="#fffd00"/><stop offset=".86" stop-color="#8bff74"/><stop offset=".93" stop-color="#6cff93"/><stop offset="1" stop-color="#51ffae"/></linearGradient><linearGradient id="g233" x2="0" y2="1"><stop offset="0" stop-color="#0000f2"/><stop offset=".01" stop-color="#000fff"/><stop offset=".03" stop-color="#004dff"/><stop offset=".07" stop-color="#00e0ff"/><stop offset=".08" stop-color="#0afff5"/><stop offset=".14" stop-color="#e0ff1f"/><stop offset=".15" stop-color="#fff400"/><stop offset=".17" stop-color="#ffa700"/><stop offset=".19" stop-color="#ff6600"/><stop offset=".21" stop-color="#ff3500"/><stop offset=".22" stop-color="#ff2400"/><stop offset=".24" stop-color="#ff1000"/><stop offset=".33" stop-color="#ff0600"/><stop offset=".41" stop-color="#ff1200"/><stop offset=".49" stop-color="#ff3a00"/><stop offset=".57" stop-color="#ff7600"/><stop offset=".74" stop-color="#feff01"/><stop offset=".81" stop-color="#c7ff38"/><stop offset=".88" stop-color="#9fff60"/><stop offset=".94" stop-color="#80ff7f"/><stop offset="1" stop-color="#69ff96"/></linearGradient><linearGradient id="g234" x2="0" y2="1"><stop offset="0" stop-color="#001dff"/><stop offset=".03" stop-color="#0076ff"/><stop offset=".06" stop-color="#00e2ff"/><stop offset=".07" stop-color="#0bfff4"/><stop offset=".12" stop-color="#e3ff1c"/><stop offset=".14" stop-color="#fff000"/><stop offset=".16" stop-color="#ff9e00"/><stop offset=".18" stop-color="#ff5700"/><stop offset=".2" stop-color="#ff1e00"/><stop offset=".21" stop-color="#ff0800"/><stop offset=".22" stop-color="#f60000"/><stop offset=".24" stop-color="#e50000"/><stop offset=".31" stop-color="#e20000"/><stop offset=".36" stop-color="#e70000"/><stop offset=".43" stop-color="#fc0000"/><stop offset=".47" stop-color="#ff1300"/><stop offset=".53" stop-color="#ff3e00"/><stop offset=".76" stop-color="#fffd00"/><stop offset=".89" stop-color="#aaff55"/><stop offset="1" stop-color="#79ff86"/></linearGradient><linearGradient id="g235" x2="0" y2="1"><stop offset="0" stop-color="#002fff"/><stop offset=".03" stop-color="#0086ff"/><stop offset=".06" stop-color="#00f2ff"/><stop offset=".07" stop-color="#1bffe4"/><stop offset=".12" stop-color="#f3ff0c"/><stop offset=".14" stop-color="#ffdf00"/><stop offset=".16" stop-color="#ff8e00"/><stop offset=".18" stop-color="#ff4600"/><stop offset=".2" stop-color="#ff0e00"/><stop offset=".21" stop-color="#f70000"/><stop offset=".23" stop-color="#dc0000"/><stop offset=".24" stop-color="#d70000"/><stop offset=".31" stop-color="#d60000"/><stop offset=".38" stop-color="#df0000"/><stop offset=".45" stop-color="#fd0000"/><stop offset=".54" stop-color="#ff3e00"/><stop offset=".77" stop-color="#fffd00"/><stop offset=".89" stop-color="#b4ff4b"/><stop offset="1" stop-color="#83ff7c"/></linearGradient><linearGradient id="g236" x2="0" y2="1"><stop offset="0" stop-color="#001fff"/><stop offset=".03" stop-color="#0077ff"/><stop offset=".06" stop-color="#00e4ff"/><stop offset=".07" stop-color="#0dfff2"/><stop offset=".12" stop-color="#e5ff1a"/><stop offset=".14" stop-color="#ffee00"/><stop offset=".16" stop-color="#ff9c00"/><stop offset=".18" stop-color="#ff5500"/><stop offset=".2" stop-color="#ff1c00"/><stop offset=".21" stop-color="#ff0600"/><stop offset=".22" stop-color="#f40000"/><stop offset=".24" stop-color="#e30000"/><stop offset=".31" stop-color="#e00000"/><stop offset=".36" stop-color="#e50000"/><stop offset=".43" stop-color="#fb0000"/><stop offset=".46" stop-color="#ff0c00"/><stop offset=".52" stop-color="#ff3500"/><stop offset=".77" stop-color="#fffc00"/><stop offset=".9" stop-color="#b2ff4d"/><stop offset="1" stop-color="#89ff76"/></linearGradient><linearGradient id="g237" x2="0" y2="1"><stop offset="0" stop-color="#0000f5"/><stop offset=".01" stop-color="#0012ff"/><stop offset=".03" stop-color="#0050ff"/><stop offset=".07" stop-color="#00e3ff"/><stop offset=".08" stop-color="#0dfff2"/><stop offset=".14" stop-color="#e4ff1b"/><stop offset=".15" stop-color="#fff000"/><stop offset=".17" stop-color="#ffa300"/><stop offset=".19" stop-color="#ff6200"/><stop offset=".21" stop-color="#ff3100"/><stop offset=".22" stop-color="#ff2000"/><stop offset=".24" stop-color="#ff0d00"/><stop offset=".33" stop-color="#ff0300"/><stop offset=".41" stop-color="#ff0f00"/><stop offset=".48" stop-color="#ff3100"/><stop offset=".55" stop-color="#ff6200"/><stop offset=".76" stop-color="#fffd00"/><stop offset=".89" stop-color="#b4ff4b"/><stop offset="1" stop-color="#8aff75"/></linearGradient><linearGradient id="g238" x2="0" y2="1"><stop offset="0" stop-color="#0000c7"/><stop offset=".02" stop-color="#0000fc"/><stop offset=".03" stop-color="#001bff"/><stop offset=".06" stop-color="#0081ff"/><stop offset=".09" stop-color="#00f7ff"/><stop offset=".1" stop-color="#22ffdd"/><stop offset=".16" stop-color="#efff10"/><stop offset=".17" stop-color="#ffea00"/><stop offset=".2" stop-color="#ff8e00"/><stop offset=".22" stop-color="#ff6500"/><stop offset=".23" stop-color="#ff5700"/><stop offset=".24" stop-color="#ff4f00"/><stop offset=".28" stop-color="#ff4200"/><stop offset=".35" stop-color="#ff3800"/><stop offset=".42" stop-color="#ff4200"/><stop offset=".48" stop-color="#ff5c00"/><stop offset=".74" stop-color="#fcff03"/><stop offset=".88" stop-color="#afff50"/><stop offset="1" stop-color="#85ff7a"/></linearGradient><linearGradient id="g239" x2="0" y2="1"><stop offset="0" stop-color="#0000a3"/><stop offset=".02" stop-color="#0000cc"/><stop offset=".04" stop-color="#0002ff"/><stop offset=".07" stop-color="#0063ff"/><stop offset=".11" stop-color="#00fbff"/><stop offset=".16" stop-color="#98ff67"/><stop offset=".18" stop-color="#ddff22"/><stop offset=".19" stop-color="#fcff03"/><stop offset=".2" stop-color="#ffe700"/><stop offset=".22" stop-color="#ffbd00"/><stop offset=".24" stop-color="#ffa400"/><stop offset=".31" stop-color="#ff8600"/><stop offset=".38" stop-color="#ff7d00"/><stop offset=".43" stop-color="#ff8400"/><stop offset=".48" stop-color="#ff9500"/><stop offset=".68" stop-color="#fffe00"/><stop offset=".86" stop-color="#a3ff5c"/><stop offset="1" stop-color="#7cff83"/></linearGradient><linearGradient id="g240" x2="0" y2="1"><stop offset="0" stop-color="#00008e"/><stop offset=".03" stop-color="#0000bb"/><stop offset=".06" stop-color="#0005ff"/><stop offset=".09" stop-color="#0062ff"/><stop offset=".14" stop-color="#00f1ff"/><stop offset=".15" stop-color="#16ffe9"/><stop offset=".18" stop-color="#7aff85"/><stop offset=".2" stop-color="#b2ff4d"/><stop offset=".23" stop-color="#ecff13"/><stop offset=".25" stop-color="#ffff00"/><stop offset=".32" stop-color="#ffd900"/><stop offset=".4" stop-color="#ffcd00"/><stop offset=".47" stop-color="#ffd800"/><stop offset=".57" stop-color="#ffff00"/><stop offset=".85" stop-color="#91ff6e"/><stop offset="1" stop-color="#70ff8f"/></linearGradient><linearGradient id="g241" x2="0" y2="1"><stop offset="0" stop-color="#000084"/><stop offset=".02" stop-color="#000092"/><stop offset=".04" stop-color="#0000ad"/><stop offset=".08" stop-color="#0004ff"/><stop offset=".11" stop-color="#005bff"/><stop offset=".17" stop-color="#00f8ff"/><stop offset=".18" stop-color="#16ffe9"/><stop offset=".21" stop-color="#61ff9e"/><stop offset=".24" stop-color="#90ff6f"/><stop offset=".32" stop-color="#c7ff38"/><stop offset=".4" stop-color="#dbff24"/><stop offset=".48" stop-color="#d6ff29"/><stop offset=".86" stop-color="#78ff87"/><stop offset="1" stop-color="#63ff9c"/></linearGradient><linearGradient id="g242" x2="0" y2="1"><stop offset="0" stop-color="#000081"/><stop offset=".03" stop-color="#00008e"/><stop offset=".05" stop-color="#0000a2"/><stop offset=".07" stop-color="#0000c1"/><stop offset=".1" stop-color="#0000ff"/><stop offset=".19" stop-color="#00d0ff"/><stop offset=".21" stop-color="#00fcff"/><stop offset=".22" stop-color="#0ffff0"/><stop offset=".25" stop-color="#35ffca"/><stop offset=".31" stop-color="#63ff9c"/><stop offset=".36" stop-color="#7bff84"/><stop offset=".42" stop-color="#86ff79"/><stop offset=".47" stop-color="#87ff78"/><stop offset=".61" stop-color="#79ff86"/><stop offset=".74" stop-color="#78ff87"/><stop offset=".89" stop-color="#62ff9d"/><stop offset="1" stop-color="#59ffa6"/></linearGradient><linearGradient id="g243" x2="0" y2="1"><stop offset="0" stop-color="#000080"/><stop offset=".03" stop-color="#000085"/><stop offset=".06" stop-color="#000099"/><stop offset=".09" stop-color="#0000c0"/><stop offset=".12" stop-color="#0000f8"/><stop offset=".14" stop-color="#000eff"/><stop offset=".19" stop-color="#007bff"/><stop offset=".22" stop-color="#00b2ff"/><stop offset=".25" stop-color="#00d7ff"/><stop offset=".3" stop-color="#01fffe"/><stop offset=".35" stop-color="#1fffe0"/><stop offset=".42" stop-color="#33ffcc"/><stop offset=".59" stop-color="#41ffbe"/><stop offset=".73" stop-color="#5affa5"/><stop offset="1" stop-color="#52ffad"/></linearGradient><linearGradient id="g244" x2="0" y2="1"><stop offset="0" stop-color="#000080"/><stop offset=".04" stop-color="#000084"/><stop offset=".08" stop-color="#00009b"/><stop offset=".11" stop-color="#0000be"/><stop offset=".16" stop-color="#0000ff"/><stop offset=".22" stop-color="#0064ff"/><stop offset=".26" stop-color="#008fff"/><stop offset=".34" stop-color="#00caff"/><stop offset=".43" stop-color="#00eaff"/><stop offset=".54" stop-color="#02fffd"/><stop offset=".6" stop-color="#14ffeb"/><stop offset=".71" stop-color="#3effc1"/><stop offset=".76" stop-color="#4bffb4"/><stop offset="1" stop-color="#50ffaf"/></linearGradient><linearGradient id="g245" x2="0" y2="1"><stop offset="0" stop-color="#000080"/><stop offset=".05" stop-color="#000084"/><stop offset=".09" stop-color="#000095"/><stop offset=".14" stop-color="#0000bb"/><stop offset=".19" stop-color="#0000fd"/><stop offset=".2" stop-color="#000cff"/><stop offset=".25" stop-color="#0045ff"/><stop offset=".34" stop-color="#0089ff"/><stop offset=".42" stop-color="#00abff"/><stop offset=".54" stop-color="#00d6ff"/><stop offset=".62" stop-color="#01fffe"/><stop offset=".71" stop-color="#31ffce"/><stop offset=".76" stop-color="#44ffbb"/><stop offset="1" stop-color="#53ffac"/></linearGradient><linearGradient id="g246" x2="0" y2="1"><stop offset="0" stop-color="#000081"/><stop offset=".07" stop-color="#000088"/><stop offset=".11" stop-color="#000098"/><stop offset=".16" stop-color="#0000b9"/><stop offset=".22" stop-color="#0000fa"/><stop offset=".23" stop-color="#0006ff"/><stop offset=".29" stop-color="#003aff"/><stop offset=".34" stop-color="#005dff"/><stop offset=".53" stop-color="#00b9ff"/><stop offset=".64" stop-color="#00feff"/><stop offset=".71" stop-color="#30ffcf"/><stop offset=".76" stop-color="#47ffb8"/><stop offset="1" stop-color="#5bffa4"/></linearGradient><linearGradient id="g247" x2="0" y2="1"><stop offset="0" stop-color="#000082"/><stop offset=".07" stop-color="#00008b"/><stop offset=".12" stop-color="#00009d"/><stop offset=".17" stop-color="#0000b9"/><stop offset=".24" stop-color="#0000fc"/><stop offset=".25" stop-color="#0006ff"/><stop offset=".32" stop-color="#0040ff"/><stop offset=".52" stop-color="#00b1ff"/><stop offset=".62" stop-color="#00fcff"/><stop offset=".71" stop-color="#3affc5"/><stop offset=".76" stop-color="#52ffad"/><stop offset=".86" stop-color="#5fffa0"/><stop offset="1" stop-color="#66ff99"/></linearGradient><linearGradient id="g248" x2="0" y2="1"><stop offset="0" stop-color="#000084"/><stop offset=".07" stop-color="#000091"/><stop offset=".12" stop-color="#0000a6"/><stop offset=".17" stop-color="#0000c1"/><stop offset=".23" stop-color="#0000fb"/><stop offset=".24" stop-color="#0006ff"/><stop offset=".31" stop-color="#0046ff"/><stop offset=".51" stop-color="#00bdff"/><stop offset=".6" stop-color="#01fffe"/><stop offset=".7" stop-color="#46ffb9"/><stop offset=".76" stop-color="#64ff9b"/><stop offset=".86" stop-color="#70ff8f"/><stop offset="1" stop-color="#73ff8c"/></linearGradient><linearGradient id="g249" x2="0" y2="1"><stop offset="0" stop-color="#000087"/><stop offset=".05" stop-color="#000092"/><stop offset=".1" stop-color="#0000a8"/><stop offset=".15" stop-color="#0000c5"/><stop offset=".21" stop-color="#0002ff"/><stop offset=".27" stop-color="#0047ff"/><stop offset=".31" stop-color="#006bff"/><stop offset=".55" stop-color="#00fbff"/><stop offset=".56" stop-color="#03fffc"/><stop offset=".69" stop-color="#5affa5"/><stop offset=".75" stop-color="#77ff88"/><stop offset=".84" stop-color="#82ff7d"/><stop offset="1" stop-color="#82ff7d"/></linearGradient><linearGradient id="g250" x2="0" y2="1"><stop offset="0" stop-color="#00008b"/><stop offset=".05" stop-color="#00009b"/><stop offset=".09" stop-color="#0000b1"/><stop offset=".14" stop-color="#0000d3"/><stop offset=".18" stop-color="#0001ff"/><stop offset=".26" stop-color="#006cff"/><stop offset=".3" stop-color="#0097ff"/><stop offset=".48" stop-color="#00fbff"/><stop offset=".51" stop-color="#0efff1"/><stop offset=".68" stop-color="#74ff8b"/><stop offset=".74" stop-color="#90ff6f"/><stop offset=".83" stop-color="#99ff66"/><stop offset="1" stop-color="#91ff6e"/></linearGradient><linearGradient id="g251" x2="0" y2="1"><stop offset="0" stop-color="#000090"/><stop offset=".07" stop-color="#0000b3"/><stop offset=".1" stop-color="#0000cd"/><stop offset=".15" stop-color="#0000fc"/><stop offset=".17" stop-color="#0019ff"/><stop offset=".25" stop-color="#0097ff"/><stop offset=".28" stop-color="#00c0ff"/><stop offset=".31" stop-color="#00dcff"/><stop offset=".38" stop-color="#00fdff"/><stop offset=".66" stop-color="#90ff6f"/><stop offset=".73" stop-color="#acff53"/><stop offset=".82" stop-color="#b2ff4d"/><stop offset="1" stop-color="#a2ff5d"/></linearGradient><linearGradient id="g252" x2="0" y2="1"><stop offset="0" stop-color="#000096"/><stop offset=".06" stop-color="#0000bb"/><stop offset=".09" stop-color="#0000d9"/><stop offset=".12" stop-color="#0001ff"/><stop offset=".17" stop-color="#0043ff"/><stop offset=".25" stop-color="#00d7ff"/><stop offset=".27" stop-color="#00f6ff"/><stop offset=".28" stop-color="#05fffa"/><stop offset=".31" stop-color="#22ffdd"/><stop offset=".35" stop-color="#37ffc8"/><stop offset=".6" stop-color="#a5ff5a"/><stop offset=".71" stop-color="#c9ff36"/><stop offset=".75" stop-color="#d0ff2f"/><stop offset=".8" stop-color="#cfff30"/><stop offset="1" stop-color="#b3ff4c"/></linearGradient><linearGradient id="g253" x2="0" y2="1"><stop offset="0" stop-color="#00009d"/><stop offset=".05" stop-color="#0000c1"/><stop offset=".1" stop-color="#0001ff"/><stop offset=".16" stop-color="#005bff"/><stop offset=".23" stop-color="#00f3ff"/><stop offset=".24" stop-color="#09fff6"/><stop offset=".28" stop-color="#4dffb2"/><stop offset=".31" stop-color="#6cff93"/><stop offset=".53" stop-color="#bfff40"/><stop offset=".65" stop-color="#e2ff1d"/><stop offset=".71" stop-color="#efff10"/><stop offset=".77" stop-color="#f0ff0f"/><stop offset="1" stop-color="#c5ff3a"/></linearGradient><linearGradient id="g254" x2="0" y2="1"><stop offset="0" stop-color="#0000a5"/><stop offset=".04" stop-color="#0000c6"/><stop offset=".08" stop-color="#0000fa"/><stop offset=".09" stop-color="#000cff"/><stop offset=".14" stop-color="#005aff"/><stop offset=".2" stop-color="#00ecff"/><stop offset=".21" stop-color="#06fff9"/><stop offset=".26" stop-color="#77ff88"/><stop offset=".28" stop-color="#98ff67"/><stop offset=".3" stop-color="#afff50"/><stop offset=".32" stop-color="#bcff43"/><stop offset=".53" stop-color="#f8ff07"/><stop offset=".56" stop-color="#fffe00"/><stop offset=".71" stop-color="#ffe900"/><stop offset=".76" stop-color="#ffec00"/><stop offset=".84" stop-color="#fffe00"/><stop offset="1" stop-color="#d8ff27"/></linearGradient><linearGradient id="g255" x2="0" y2="1"><stop offset="0" stop-color="#0000ad"/><stop offset=".04" stop-color="#0000d4"/><stop offset=".07" stop-color="#0001ff"/><stop offset=".11" stop-color="#0050ff"/><stop offset=".15" stop-color="#009aff"/><stop offset=".18" stop-color="#00edff"/><stop offset=".19" stop-color="#0afff5"/><stop offset=".23" stop-color="#79ff86"/><stop offset=".26" stop-color="#beff41"/><stop offset=".29" stop-color="#efff10"/><stop offset=".31" stop-color="#fffd00"/><stop offset=".54" stop-color="#ffcc00"/><stop offset=".67" stop-color="#ffc200"/><stop offset=".76" stop-color="#ffcb00"/><stop offset=".93" stop-color="#fffd00"/><stop offset="1" stop-color="#ebff14"/></linearGradient><linearGradient id="g256" x2="0" y2="1"><stop offset="0" stop-color="#0000b4"/><stop offset=".03" stop-color="#0000d4"/><stop offset=".06" stop-color="#0002ff"/><stop offset=".08" stop-color="#0029ff"/><stop offset=".11" stop-color="#006eff"/><stop offset=".17" stop-color="#00feff"/><stop offset=".23" stop-color="#b7ff48"/><stop offset=".26" stop-color="#fffc00"/><stop offset=".29" stop-color="#ffc900"/><stop offset=".32" stop-color="#ffb500"/><stop offset=".52" stop-color="#ff9a00"/><stop offset=".6" stop-color="#ff9600"/><stop offset=".68" stop-color="#ff9b00"/><stop offset=".75" stop-color="#ffa900"/><stop offset="1" stop-color="#feff01"/></linearGradient><linearGradient id="g257" x2="0" y2="1"><stop offset="0" stop-color="#0000bb"/><stop offset=".03" stop-color="#0000de"/><stop offset=".05" stop-color="#0000fe"/><stop offset=".07" stop-color="#0026ff"/><stop offset=".09" stop-color="#0054ff"/><stop offset=".11" stop-color="#0088ff"/><stop offset=".15" stop-color="#00e3ff"/><stop offset=".16" stop-color="#05fffa"/><stop offset=".22" stop-color="#ceff31"/><stop offset=".23" stop-color="#edff12"/><stop offset=".24" stop-color="#fff400"/><stop offset=".26" stop-color="#ffc100"/><stop offset=".28" stop-color="#ff9a00"/><stop offset=".31" stop-color="#ff7b00"/><stop offset=".54" stop-color="#ff6a00"/><stop offset=".64" stop-color="#ff7000"/><stop offset=".73" stop-color="#ff8400"/><stop offset="1" stop-color="#ffee00"/></linearGradient><linearGradient id="g258" x2="0" y2="1"><stop offset="0" stop-color="#0000c0"/><stop offset=".04" stop-color="#0000f6"/><stop offset=".05" stop-color="#0009ff"/><stop offset=".09" stop-color="#0064ff"/><stop offset=".11" stop-color="#009dff"/><stop offset=".15" stop-color="#00feff"/><stop offset=".22" stop-color="#f7ff08"/><stop offset=".23" stop-color="#ffe600"/><stop offset=".25" stop-color="#ffac00"/><stop offset=".27" stop-color="#ff7c00"/><stop offset=".29" stop-color="#ff5b00"/><stop offset=".31" stop-color="#ff4a00"/><stop offset=".52" stop-color="#ff4300"/><stop offset=".61" stop-color="#ff4a00"/><stop offset=".71" stop-color="#ff6100"/><stop offset="1" stop-color="#ffdc00"/></linearGradient><linearGradient id="g259" x2="0" y2="1"><stop offset="0" stop-color="#0000c3"/><stop offset=".04" stop-color="#0000fc"/><stop offset=".05" stop-color="#0010ff"/><stop offset=".07" stop-color="#003bff"/><stop offset=".09" stop-color="#006fff"/><stop offset=".14" stop-color="#00edff"/><stop offset=".15" stop-color="#11ffee"/><stop offset=".21" stop-color="#f0ff0f"/><stop offset=".22" stop-color="#ffeb00"/><stop offset=".25" stop-color="#ff8c00"/><stop offset=".27" stop-color="#ff5b00"/><stop offset=".29" stop-color="#ff3900"/><stop offset=".3" stop-color="#ff2e00"/><stop offset=".32" stop-color="#ff2600"/><stop offset=".54" stop-color="#ff2600"/><stop offset=".65" stop-color="#ff3700"/><stop offset=".76" stop-color="#ff5e00"/><stop offset="1" stop-color="#ffcc00"/></linearGradient><linearGradient id="g260" x2="0" y2="1"><stop offset="0" stop-color="#0000c4"/><stop offset=".04" stop-color="#0000ff"/><stop offset=".06" stop-color="#0028ff"/><stop offset=".08" stop-color="#0058ff"/><stop offset=".1" stop-color="#0091ff"/><stop offset=".14" stop-color="#00f4ff"/><stop offset=".15" stop-color="#19ffe6"/><stop offset=".21" stop-color="#fcff03"/><stop offset=".24" stop-color="#ff9b00"/><stop offset=".27" stop-color="#ff4c00"/><stop offset=".29" stop-color="#ff2900"/><stop offset=".3" stop-color="#ff1e00"/><stop offset=".32" stop-color="#ff1500"/><stop offset=".53" stop-color="#ff1600"/><stop offset=".64" stop-color="#ff2500"/><stop offset=".75" stop-color="#ff4c00"/><stop offset="1" stop-color="#ffc100"/></linearGradient><linearGradient id="g261" x2="0" y2="1"><stop offset="0" stop-color="#0000c4"/><stop offset=".04" stop-color="#0000fe"/><stop offset=".06" stop-color="#0027ff"/><stop offset=".08" stop-color="#0057ff"/><stop offset=".1" stop-color="#0090ff"/><stop offset=".14" stop-color="#00f2ff"/><stop offset=".15" stop-color="#17ffe8"/><stop offset=".21" stop-color="#f9ff06"/><stop offset=".22" stop-color="#ffe100"/><stop offset=".25" stop-color="#ff8100"/><stop offset=".27" stop-color="#ff4f00"/><stop offset=".29" stop-color="#ff2d00"/><stop offset=".3" stop-color="#ff2200"/><stop offset=".32" stop-color="#ff1900"/><stop offset=".53" stop-color="#ff1a00"/><stop offset=".64" stop-color="#ff2a00"/><stop offset=".75" stop-color="#ff5100"/><stop offset="1" stop-color="#ffc600"/></linearGradient><linearGradient id="g262" x2="0" y2="1"><stop offset="0" stop-color="#0000c2"/><stop offset=".04" stop-color="#0000fb"/><stop offset=".05" stop-color="#000eff"/><stop offset=".09" stop-color="#006cff"/><stop offset=".14" stop-color="#00e8ff"/><stop offset=".15" stop-color="#0cfff3"/><stop offset=".21" stop-color="#e8ff17"/><stop offset=".22" stop-color="#fff300"/><stop offset=".25" stop-color="#ff9600"/><stop offset=".27" stop-color="#ff6500"/><stop offset=".29" stop-color="#ff4300"/><stop offset=".3" stop-color="#ff3900"/><stop offset=".32" stop-color="#ff3000"/><stop offset=".53" stop-color="#ff2f00"/><stop offset=".64" stop-color="#ff3e00"/><stop offset=".75" stop-color="#ff6500"/><stop offset="1" stop-color="#ffd700"/></linearGradient><linearGradient id="g263" x2="0" y2="1"><stop offset="0" stop-color="#0000be"/><stop offset=".04" stop-color="#0000f4"/><stop offset=".05" stop-color="#0006ff"/><stop offset=".09" stop-color="#005fff"/><stop offset=".11" stop-color="#0096ff"/><stop offset=".15" stop-color="#00f6ff"/><stop offset=".16" stop-color="#19ffe6"/><stop offset=".22" stop-color="#eaff15"/><stop offset=".23" stop-color="#fff400"/><stop offset=".25" stop-color="#ffbb00"/><stop offset=".27" stop-color="#ff8c00"/><stop offset=".29" stop-color="#ff6b00"/><stop offset=".31" stop-color="#ff5a00"/><stop offset=".52" stop-color="#ff5100"/><stop offset=".6" stop-color="#ff5700"/><stop offset=".7" stop-color="#ff6d00"/><stop offset="1" stop-color="#ffeb00"/></linearGradient><linearGradient id="g264" x2="0" y2="1"><stop offset="0" stop-color="#0000b9"/><stop offset=".03" stop-color="#0000db"/><stop offset=".05" stop-color="#0000fa"/><stop offset=".06" stop-color="#000cff"/><stop offset=".1" stop-color="#0065ff"/><stop offset=".12" stop-color="#009cff"/><stop offset=".16" stop-color="#00f8ff"/><stop offset=".17" stop-color="#19ffe6"/><stop offset=".23" stop-color="#daff25"/><stop offset=".24" stop-color="#f7ff08"/><stop offset=".25" stop-color="#ffed00"/><stop offset=".28" stop-color="#ffaf00"/><stop offset=".31" stop-color="#ff9000"/><stop offset=".56" stop-color="#ff7b00"/><stop offset=".64" stop-color="#ff8200"/><stop offset=".72" stop-color="#ff9600"/><stop offset="1" stop-color="#fdff02"/></linearGradient><linearGradient id="g265" x2="0" y2="1"><stop offset="0" stop-color="#0000b2"/><stop offset=".03" stop-color="#0000d0"/><stop offset=".06" stop-color="#0000fb"/><stop offset=".07" stop-color="#000eff"/><stop offset=".11" stop-color="#0064ff"/><stop offset=".17" stop-color="#00eeff"/><stop offset=".18" stop-color="#0dfff2"/><stop offset=".23" stop-color="#a1ff5e"/><stop offset=".25" stop-color="#d4ff2b"/><stop offset=".27" stop-color="#feff01"/><stop offset=".3" stop-color="#ffd700"/><stop offset=".32" stop-color="#ffcd00"/><stop offset=".52" stop-color="#ffae00"/><stop offset=".58" stop-color="#ffaa00"/><stop offset=".65" stop-color="#ffae00"/><stop offset=".72" stop-color="#ffbb00"/><stop offset=".92" stop-color="#fffc00"/><stop offset="1" stop-color="#e5ff1a"/></linearGradient><linearGradient id="g266" x2="0" y2="1"><stop offset="0" stop-color="#0000aa"/><stop offset=".04" stop-color="#0000cf"/><stop offset=".07" stop-color="#0000f9"/><stop offset=".08" stop-color="#000aff"/><stop offset=".12" stop-color="#005bff"/><stop offset=".19" stop-color="#00f6ff"/><stop offset=".2" stop-color="#12ffed"/><stop offset=".25" stop-color="#90ff6f"/><stop offset=".27" stop-color="#b8ff47"/><stop offset=".29" stop-color="#d5ff2a"/><stop offset=".32" stop-color="#ebff14"/><stop offset=".4" stop-color="#fdff02"/><stop offset=".53" stop-color="#ffe300"/><stop offset=".61" stop-color="#ffdb00"/><stop offset=".71" stop-color="#ffe300"/><stop offset=".83" stop-color="#feff01"/><stop offset="1" stop-color="#cbff34"/></linearGradient><linearGradient id="g267" x2="0" y2="1"><stop offset="0" stop-color="#0000a2"/><stop offset=".04" stop-color="#0000c1"/><stop offset=".09" stop-color="#0002ff"/><stop offset=".14" stop-color="#004cff"/><stop offset=".21" stop-color="#00efff"/><stop offset=".22" stop-color="#08fff7"/><stop offset=".25" stop-color="#4affb5"/><stop offset=".27" stop-color="#6eff91"/><stop offset=".29" stop-color="#8aff75"/><stop offset=".31" stop-color="#9cff63"/><stop offset=".55" stop-color="#e7ff18"/><stop offset=".64" stop-color="#f1ff0e"/><stop offset=".73" stop-color="#eeff11"/><stop offset=".83" stop-color="#dcff23"/><stop offset="1" stop-color="#b2ff4d"/></linearGradient><linearGradient id="g268" x2="0" y2="1"><stop offset="0" stop-color="#00009a"/><stop offset=".05" stop-color="#0000bc"/><stop offset=".1" stop-color="#0000f6"/><stop offset=".11" stop-color="#0006ff"/><stop offset=".16" stop-color="#004cff"/><stop offset=".23" stop-color="#00dcff"/><stop offset=".25" stop-color="#03fffc"/><stop offset=".28" stop-color="#33ffcc"/><stop offset=".31" stop-color="#51ffae"/><stop offset=".5" stop-color="#9dff62"/><stop offset=".59" stop-color="#b8ff47"/><stop offset=".68" stop-color="#c3ff3c"/><stop offset=".76" stop-color="#c1ff3e"/><stop offset="1" stop-color="#98ff67"/></linearGradient><linearGradient id="g269" x2="0" y2="1"><stop offset="0" stop-color="#000094"/><stop offset=".06" stop-color="#0000b5"/><stop offset=".09" stop-color="#0000d1"/><stop offset=".14" stop-color="#0004ff"/><stop offset=".25" stop-color="#00bfff"/><stop offset=".28" stop-color="#00eaff"/><stop offset=".3" stop-color="#01fffe"/><stop offset=".52" stop-color="#69ff96"/><stop offset=".65" stop-color="#8fff70"/><stop offset=".72" stop-color="#97ff68"/><stop offset=".79" stop-color="#98ff67"/><stop offset="1" stop-color="#7eff81"/></linearGradient><linearGradient id="g270" x2="0" y2="1"><stop offset="0" stop-color="#00008e"/><stop offset=".04" stop-color="#00009c"/><stop offset=".08" stop-color="#0000b5"/><stop offset=".11" stop-color="#0000cf"/><stop offset=".16" stop-color="#0000fd"/><stop offset=".25" stop-color="#0082ff"/><stop offset=".29" stop-color="#00b3ff"/><stop offset=".32" stop-color="#00caff"/><stop offset=".43" stop-color="#01fffe"/><stop offset=".57" stop-color="#47ffb8"/><stop offset=".7" stop-color="#69ff96"/><stop offset=".82" stop-color="#71ff8e"/><stop offset="1" stop-color="#64ff9b"/></linearGradient><linearGradient id="g271" x2="0" y2="1"><stop offset="0" stop-color="#000089"/><stop offset=".05" stop-color="#000097"/><stop offset=".09" stop-color="#0000ac"/><stop offset=".14" stop-color="#0000ca"/><stop offset=".19" stop-color="#0000ff"/><stop offset=".26" stop-color="#0057ff"/><stop offset=".3" stop-color="#007fff"/><stop offset=".53" stop-color="#00feff"/><stop offset=".64" stop-color="#2bffd4"/><stop offset=".74" stop-color="#45ffba"/><stop offset=".85" stop-color="#4fffb0"/><stop offset="1" stop-color="#4affb5"/></linearGradient><linearGradient id="g272" x2="0" y2="1"><stop offset="0" stop-color="#000086"/><stop offset=".06" stop-color="#000093"/><stop offset=".11" stop-color="#0000a9"/><stop offset=".17" stop-color="#0000cd"/><stop offset=".22" stop-color="#0000fc"/><stop offset=".23" stop-color="#0008ff"/><stop offset=".31" stop-color="#0051ff"/><stop offset=".54" stop-color="#00d1ff"/><stop offset=".64" stop-color="#00fcff"/><stop offset=".73" stop-color="#1bffe4"/><stop offset=".8" stop-color="#29ffd6"/><stop offset="1" stop-color="#31ffce"/></linearGradient><linearGradient id="g273" x2="0" y2="1"><stop offset="0" stop-color="#000084"/><stop offset=".07" stop-color="#00008f"/><stop offset=".12" stop-color="#0000a0"/><stop offset=".19" stop-color="#0000c4"/><stop offset=".26" stop-color="#0000fd"/><stop offset=".27" stop-color="#0007ff"/><stop offset=".31" stop-color="#0023ff"/><stop offset=".56" stop-color="#00aeff"/><stop offset=".7" stop-color="#00e9ff"/><stop offset=".77" stop-color="#00feff"/><stop offset=".88" stop-color="#11ffee"/><stop offset="1" stop-color="#19ffe6"/></linearGradient><linearGradient id="g274" x2="0" y2="1"><stop offset="0" stop-color="#000082"/><stop offset=".08" stop-color="#00008b"/><stop offset=".15" stop-color="#00009d"/><stop offset=".2" stop-color="#0000b5"/><stop offset=".32" stop-color="#0002ff"/><stop offset=".59" stop-color="#0094ff"/><stop offset=".71" stop-color="#00c7ff"/><stop offset=".84" stop-color="#00edff"/><stop offset="1" stop-color="#01fffe"/></linearGradient><linearGradient id="g275" x2="0" y2="1"><stop offset="0" stop-color="#000081"/><stop offset=".09" stop-color="#000088"/><stop offset=".17" stop-color="#000099"/><stop offset=".39" stop-color="#0000fe"/><stop offset=".62" stop-color="#007eff"/><stop offset=".73" stop-color="#00acff"/><stop offset=".85" stop-color="#00d1ff"/><stop offset="1" stop-color="#00e9ff"/></linearGradient><linearGradient id="g276" x2="0" y2="1"><stop offset="0" stop-color="#000080"/><stop offset=".1" stop-color="#000086"/><stop offset=".19" stop-color="#000095"/><stop offset=".35" stop-color="#0000d4"/><stop offset=".45" stop-color="#0000fe"/><stop offset=".65" stop-color="#0067ff"/><stop offset=".75" stop-color="#0094ff"/><stop offset=".86" stop-color="#00b8ff"/><stop offset="1" stop-color="#00d2ff"/></linearGradient><linearGradient id="g277" x2="0" y2="1"><stop offset="0" stop-color="#000080"/><stop offset=".12" stop-color="#000085"/><stop offset=".22" stop-color="#000095"/><stop offset=".38" stop-color="#0000c6"/><stop offset=".5" stop-color="#0000fd"/><stop offset=".77" stop-color="#007fff"/><stop offset=".88" stop-color="#00a1ff"/><stop offset="1" stop-color="#00bdff"/></linearGradient><linearGradient id="g278" x2="0" y2="1"><stop offset="0" stop-color="#000080"/><stop offset=".15" stop-color="#000084"/><stop offset=".25" stop-color="#000093"/><stop offset=".41" stop-color="#0000bf"/><stop offset=".55" stop-color="#0000fd"/><stop offset=".8" stop-color="#0070ff"/><stop offset=".9" stop-color="#008fff"/><stop offset="1" stop-color="#00a8ff"/></linearGradient><linearGradient id="g279" x2="0" y2="1"><stop offset="0" stop-color="#000080"/><stop offset=".19" stop-color="#000085"/><stop offset=".33" stop-color="#00009c"/><stop offset=".46" stop-color="#0000c0"/><stop offset=".6" stop-color="#0000ff"/><stop offset=".81" stop-color="#005cff"/><stop offset="1" stop-color="#0095ff"/></linearGradient><linearGradient id="g280" x2="0" y2="1"><stop offset="0" stop-color="#000080"/><stop offset=".2" stop-color="#000083"/><stop offset=".35" stop-color="#000097"/><stop offset=".49" stop-color="#0000bc"/><stop offset=".65" stop-color="#0000fc"/><stop offset=".84" stop-color="#0052ff"/><stop offset="1" stop-color="#0082ff"/></linearGradient><linearGradient id="cb281" x1="0" y1="0" x2="0" y2="1"><stop offset="0" stop-color="#800000"/><stop offset="0.06" stop-color="#bf0000"/><stop offset="0.12" stop-color="#ff0000"/><stop offset="0.19" stop-color="#ff4000"/><stop offset="0.25" stop-color="#ff8000"/><stop offset="0.31" stop-color="#ffbf00"/><stop offset="0.38" stop-color="#ffff00"/><stop offset="0.44" stop-color="#bfff40"/><stop offset="0.5" stop-color="#80ff80"/><stop offset="0.56" stop-color="#40ffbf"/><stop offset="0.62" stop-color="#00ffff"/><stop offset="0.69" stop-color="#00bfff"/><stop offset="0.75" stop-color="#0080ff"/><stop offset="0.81" stop-color="#0040ff"/><stop offset="0.88" stop-color="#0000ff"/><stop offset="0.94" stop-color="#0000bf"/><stop offset="1" stop-color="#000080"/></linearGradient><clipPath id="cp282"><rect x="227.6" y="323.1" width="108.5" height="96.2"/></clipPath><linearGradient id="g283" x2="0" y2="1"><stop offset="0" stop-color="#000080"/><stop offset=".75" stop-color="#000081"/><stop offset=".89" stop-color="#000089"/><stop offset="1" stop-color="#000099"/></linearGradient><linearGradient id="g284" x2="0" y2="1"><stop offset="0" stop-color="#000080"/><stop offset=".75" stop-color="#000082"/><stop offset=".88" stop-color="#00008a"/><stop offset="1" stop-color="#00009c"/></linearGradient><linearGradient id="g285" x2="0" y2="1"><stop offset="0" stop-color="#000080"/><stop offset=".75" stop-color="#000083"/><stop offset=".88" stop-color="#00008b"/><stop offset="1" stop-color="#00009e"/></linearGradient><linearGradient id="g286" x2="0" y2="1"><stop offset="0" stop-color="#000080"/><stop offset=".75" stop-color="#000084"/><stop offset=".88" stop-color="#00008d"/><stop offset="1" stop-color="#0000a1"/></linearGradient><linearGradient id="g287" x2="0" y2="1"><stop offset="0" stop-color="#000080"/><stop offset=".76" stop-color="#000086"/><stop offset=".88" stop-color="#00008f"/><stop offset="1" stop-color="#0000a4"/></linearGradient><linearGradient id="g288" x2="0" y2="1"><stop offset="0" stop-color="#000080"/><stop offset=".77" stop-color="#000089"/><stop offset=".89" stop-color="#000093"/><stop offset="1" stop-color="#0000a8"/></linearGradient><linearGradient id="g289" x2="0" y2="1"><stop offset="0" stop-color="#000080"/><stop offset=".78" stop-color="#00008d"/><stop offset=".89" stop-color="#000096"/><stop offset="1" stop-color="#0000ac"/></linearGradient><linearGradient id="g290" x2="0" y2="1"><stop offset="0" stop-color="#000080"/><stop offset=".18" stop-color="#000081"/><stop offset=".49" stop-color="#000091"/><stop offset=".79" stop-color="#000092"/><stop offset=".9" stop-color="#00009c"/><stop offset="1" stop-color="#0000b1"/></linearGradient><linearGradient id="g291" x2="0" y2="1"><stop offset="0" stop-color="#000080"/><stop offset=".17" stop-color="#000081"/><stop offset=".48" stop-color="#000099"/><stop offset=".81" stop-color="#00009b"/><stop offset=".91" stop-color="#0000a4"/><stop offset="1" stop-color="#0000b7"/></linearGradient><linearGradient id="g292" x2="0" y2="1"><stop offset="0" stop-color="#000080"/><stop offset=".16" stop-color="#000082"/><stop offset=".47" stop-color="#0000a4"/><stop offset=".83" stop-color="#0000a5"/><stop offset="1" stop-color="#0000be"/></linearGradient><linearGradient id="g293" x2="0" y2="1"><stop offset="0" stop-color="#000080"/><stop offset=".15" stop-color="#000084"/><stop offset=".45" stop-color="#0000b2"/><stop offset=".82" stop-color="#0000b1"/><stop offset=".91" stop-color="#0000b8"/><stop offset="1" stop-color="#0000c8"/></linearGradient><linearGradient id="g294" x2="0" y2="1"><stop offset="0" stop-color="#000080"/><stop offset=".14" stop-color="#000085"/><stop offset=".34" stop-color="#0000b7"/><stop offset=".45" stop-color="#0000c7"/><stop offset=".55" stop-color="#0000ca"/><stop offset=".83" stop-color="#0000c2"/><stop offset="1" stop-color="#0000d6"/></linearGradient><linearGradient id="g295" x2="0" y2="1"><stop offset="0" stop-color="#000080"/><stop offset=".12" stop-color="#000087"/><stop offset=".33" stop-color="#0000cc"/><stop offset=".45" stop-color="#0000e2"/><stop offset=".55" stop-color="#0000e5"/><stop offset=".83" stop-color="#0000d6"/><stop offset="1" stop-color="#0000e7"/></linearGradient><linearGradient id="g296" x2="0" y2="1"><stop offset="0" stop-color="#000080"/><stop offset=".06" stop-color="#000081"/><stop offset=".11" stop-color="#00008a"/><stop offset=".29" stop-color="#0000dc"/><stop offset=".41" stop-color="#0000fe"/><stop offset=".51" stop-color="#0008ff"/><stop offset=".62" stop-color="#0001ff"/><stop offset=".84" stop-color="#0000ef"/><stop offset="1" stop-color="#0000fc"/></linearGradient><linearGradient id="g297" x2="0" y2="1"><stop offset="0" stop-color="#000080"/><stop offset=".06" stop-color="#000083"/><stop offset=".11" stop-color="#000092"/><stop offset=".23" stop-color="#0000de"/><stop offset=".29" stop-color="#0001ff"/><stop offset=".39" stop-color="#0024ff"/><stop offset=".48" stop-color="#0030ff"/><stop offset=".56" stop-color="#002dff"/><stop offset=".82" stop-color="#000fff"/><stop offset=".91" stop-color="#000fff"/><stop offset="1" stop-color="#0017ff"/></linearGradient><linearGradient id="g298" x2="0" y2="1"><stop offset="0" stop-color="#000080"/><stop offset=".05" stop-color="#000084"/><stop offset=".09" stop-color="#000093"/><stop offset=".14" stop-color="#0000af"/><stop offset=".22" stop-color="#0000fd"/><stop offset=".23" stop-color="#0007ff"/><stop offset=".28" stop-color="#0028ff"/><stop offset=".34" stop-color="#0048ff"/><stop offset=".4" stop-color="#0058ff"/><stop offset=".46" stop-color="#0061ff"/><stop offset=".55" stop-color="#005cff"/><stop offset=".82" stop-color="#0032ff"/><stop offset=".91" stop-color="#0030ff"/><stop offset="1" stop-color="#0036ff"/></linearGradient><linearGradient id="g299" x2="0" y2="1"><stop offset="0" stop-color="#000080"/><stop offset=".04" stop-color="#000085"/><stop offset=".08" stop-color="#000099"/><stop offset=".12" stop-color="#0000be"/><stop offset=".18" stop-color="#0000fd"/><stop offset=".24" stop-color="#0042ff"/><stop offset=".3" stop-color="#006cff"/><stop offset=".36" stop-color="#008aff"/><stop offset=".44" stop-color="#0099ff"/><stop offset=".54" stop-color="#0093ff"/><stop offset=".81" stop-color="#005aff"/><stop offset=".91" stop-color="#0055ff"/><stop offset="1" stop-color="#005aff"/></linearGradient><linearGradient id="g300" x2="0" y2="1"><stop offset="0" stop-color="#000081"/><stop offset=".04" stop-color="#00008b"/><stop offset=".07" stop-color="#0000a0"/><stop offset=".1" stop-color="#0000c2"/><stop offset=".15" stop-color="#0000fe"/><stop offset=".21" stop-color="#005eff"/><stop offset=".25" stop-color="#008aff"/><stop offset=".33" stop-color="#00c1ff"/><stop offset=".42" stop-color="#00daff"/><stop offset=".47" stop-color="#00dbff"/><stop offset=".53" stop-color="#00d2ff"/><stop offset=".73" stop-color="#0098ff"/><stop offset=".81" stop-color="#0086ff"/><stop offset=".91" stop-color="#007eff"/><stop offset="1" stop-color="#0080ff"/></linearGradient><linearGradient id="g301" x2="0" y2="1"><stop offset="0" stop-color="#000082"/><stop offset=".03" stop-color="#00008f"/><stop offset=".05" stop-color="#00009f"/><stop offset=".08" stop-color="#0000c3"/><stop offset=".11" stop-color="#0000f6"/><stop offset=".12" stop-color="#000aff"/><stop offset=".19" stop-color="#0082ff"/><stop offset=".22" stop-color="#00b3ff"/><stop offset=".26" stop-color="#00ddff"/><stop offset=".31" stop-color="#02fffd"/><stop offset=".38" stop-color="#1dffe2"/><stop offset=".44" stop-color="#24ffdb"/><stop offset=".5" stop-color="#1cffe3"/><stop offset=".59" stop-color="#00fdff"/><stop offset=".72" stop-color="#00ceff"/><stop offset=".81" stop-color="#00b5ff"/><stop offset=".91" stop-color="#00a9ff"/><stop offset="1" stop-color="#00aaff"/></linearGradient><linearGradient id="g302" x2="0" y2="1"><stop offset="0" stop-color="#000087"/><stop offset=".04" stop-color="#0000a7"/><stop offset=".06" stop-color="#0000c3"/><stop offset=".09" stop-color="#0000fb"/><stop offset=".11" stop-color="#0029ff"/><stop offset=".19" stop-color="#00ceff"/><stop offset=".21" stop-color="#00f5ff"/><stop offset=".22" stop-color="#07fff8"/><stop offset=".25" stop-color="#29ffd6"/><stop offset=".32" stop-color="#5bffa4"/><stop offset=".36" stop-color="#6bff94"/><stop offset=".42" stop-color="#72ff8d"/><stop offset=".47" stop-color="#6cff93"/><stop offset=".52" stop-color="#5cffa3"/><stop offset=".73" stop-color="#00ffff"/><stop offset=".85" stop-color="#00dcff"/><stop offset="1" stop-color="#00d5ff"/></linearGradient><linearGradient id="g303" x2="0" y2="1"><stop offset="0" stop-color="#000090"/><stop offset=".03" stop-color="#0000b1"/><stop offset=".05" stop-color="#0000d3"/><stop offset=".07" stop-color="#0000fd"/><stop offset=".1" stop-color="#004aff"/><stop offset=".17" stop-color="#00f3ff"/><stop offset=".18" stop-color="#0dfff2"/><stop offset=".2" stop-color="#3cffc3"/><stop offset=".22" stop-color="#61ff9e"/><stop offset=".25" stop-color="#84ff7b"/><stop offset=".33" stop-color="#b6ff49"/><stop offset=".41" stop-color="#c2ff3d"/><stop offset=".46" stop-color="#baff45"/><stop offset=".51" stop-color="#a7ff58"/><stop offset=".7" stop-color="#43ffbc"/><stop offset=".79" stop-color="#1cffe3"/><stop offset=".89" stop-color="#06fff9"/><stop offset="1" stop-color="#01fffe"/></linearGradient><linearGradient id="g304" x2="0" y2="1"><stop offset="0" stop-color="#00009f"/><stop offset=".02" stop-color="#0000bd"/><stop offset=".05" stop-color="#0000fc"/><stop offset=".08" stop-color="#004fff"/><stop offset=".14" stop-color="#00edff"/><stop offset=".15" stop-color="#0efff1"/><stop offset=".19" stop-color="#82ff7d"/><stop offset=".22" stop-color="#c0ff3f"/><stop offset=".24" stop-color="#d9ff26"/><stop offset=".3" stop-color="#ffff00"/><stop offset=".34" stop-color="#ffef00"/><stop offset=".39" stop-color="#ffeb00"/><stop offset=".43" stop-color="#fff000"/><stop offset=".47" stop-color="#fffe00"/><stop offset=".53" stop-color="#e0ff1f"/><stop offset=".7" stop-color="#77ff88"/><stop offset=".78" stop-color="#4fffb0"/><stop offset=".89" stop-color="#32ffcd"/><stop offset="1" stop-color="#2affd5"/></linearGradient><linearGradient id="g305" x2="0" y2="1"><stop offset="0" stop-color="#0000b9"/><stop offset=".03" stop-color="#0000f9"/><stop offset=".04" stop-color="#0014ff"/><stop offset=".07" stop-color="#006eff"/><stop offset=".11" stop-color="#00f8ff"/><stop offset=".12" stop-color="#1dffe2"/><stop offset=".16" stop-color="#85ff7a"/><stop offset=".18" stop-color="#c3ff3c"/><stop offset=".2" stop-color="#f7ff08"/><stop offset=".21" stop-color="#fff100"/><stop offset=".23" stop-color="#ffd200"/><stop offset=".25" stop-color="#ffc200"/><stop offset=".31" stop-color="#ffa600"/><stop offset=".36" stop-color="#ff9d00"/><stop offset=".41" stop-color="#ffa100"/><stop offset=".45" stop-color="#ffaf00"/><stop offset=".5" stop-color="#ffcb00"/><stop offset=".57" stop-color="#fffd00"/><stop offset=".58" stop-color="#faff05"/><stop offset=".7" stop-color="#a8ff57"/><stop offset=".79" stop-color="#76ff89"/><stop offset=".89" stop-color="#5affa5"/><stop offset="1" stop-color="#50ffaf"/></linearGradient><linearGradient id="g306" x2="0" y2="1"><stop offset="0" stop-color="#0000db"/><stop offset=".01" stop-color="#0000f3"/><stop offset=".02" stop-color="#000eff"/><stop offset=".05" stop-color="#0068ff"/><stop offset=".09" stop-color="#00f7ff"/><stop offset=".1" stop-color="#1fffe0"/><stop offset=".15" stop-color="#b7ff48"/><stop offset=".17" stop-color="#fcff03"/><stop offset=".18" stop-color="#ffe300"/><stop offset=".21" stop-color="#ff9900"/><stop offset=".23" stop-color="#ff7b00"/><stop offset=".24" stop-color="#ff7300"/><stop offset=".31" stop-color="#ff5a00"/><stop offset=".35" stop-color="#ff5500"/><stop offset=".41" stop-color="#ff5f00"/><stop offset=".46" stop-color="#ff7700"/><stop offset=".52" stop-color="#ffa100"/><stop offset=".64" stop-color="#fffc00"/><stop offset=".65" stop-color="#f9ff06"/><stop offset=".73" stop-color="#beff41"/><stop offset=".81" stop-color="#94ff6b"/><stop offset=".9" stop-color="#7cff83"/><stop offset="1" stop-color="#72ff8d"/></linearGradient><linearGradient id="g307" x2="0" y2="1"><stop offset="0" stop-color="#0005ff"/><stop offset=".03" stop-color="#005bff"/><stop offset=".07" stop-color="#00e9ff"/><stop offset=".08" stop-color="#11ffee"/><stop offset=".15" stop-color="#fffe00"/><stop offset=".17" stop-color="#ffb700"/><stop offset=".19" stop-color="#ff7b00"/><stop offset=".21" stop-color="#ff4e00"/><stop offset=".22" stop-color="#ff3d00"/><stop offset=".24" stop-color="#ff2a00"/><stop offset=".33" stop-color="#ff1900"/><stop offset=".4" stop-color="#ff2400"/><stop offset=".46" stop-color="#ff4500"/><stop offset=".52" stop-color="#ff7300"/><stop offset=".69" stop-color="#feff01"/><stop offset=".76" stop-color="#cdff32"/><stop offset=".83" stop-color="#acff53"/><stop offset=".91" stop-color="#99ff66"/><stop offset="1" stop-color="#90ff6f"/></linearGradient><linearGradient id="g308" x2="0" y2="1"><stop offset="0" stop-color="#002dff"/><stop offset=".03" stop-color="#0088ff"/><stop offset=".06" stop-color="#00f4ff"/><stop offset=".07" stop-color="#1dffe2"/><stop offset=".12" stop-color="#ebff14"/><stop offset=".14" stop-color="#ffea00"/><stop offset=".16" stop-color="#ff9e00"/><stop offset=".18" stop-color="#ff5c00"/><stop offset=".2" stop-color="#ff2800"/><stop offset=".22" stop-color="#ff0400"/><stop offset=".24" stop-color="#f20000"/><stop offset=".32" stop-color="#ea0000"/><stop offset=".36" stop-color="#ef0000"/><stop offset=".41" stop-color="#ff0000"/><stop offset=".49" stop-color="#ff3700"/><stop offset=".66" stop-color="#ffca00"/><stop offset=".72" stop-color="#fffb00"/><stop offset=".79" stop-color="#d7ff28"/><stop offset=".85" stop-color="#beff41"/><stop offset=".93" stop-color="#aeff51"/><stop offset="1" stop-color="#a8ff57"/></linearGradient><linearGradient id="g309" x2="0" y2="1"><stop offset="0" stop-color="#004bff"/><stop offset=".02" stop-color="#0086ff"/><stop offset=".05" stop-color="#00eeff"/><stop offset=".06" stop-color="#16ffe9"/><stop offset=".11" stop-color="#e6ff19"/><stop offset=".12" stop-color="#ffef00"/><stop offset=".15" stop-color="#ff9f00"/><stop offset=".17" stop-color="#ff5700"/><stop offset=".2" stop-color="#ff0300"/><stop offset=".23" stop-color="#d50000"/><stop offset=".24" stop-color="#cf0000"/><stop offset=".29" stop-color="#cd0000"/><stop offset=".36" stop-color="#d50000"/><stop offset=".44" stop-color="#f90000"/><stop offset=".45" stop-color="#ff0100"/><stop offset=".49" stop-color="#ff2100"/><stop offset=".68" stop-color="#ffc800"/><stop offset=".75" stop-color="#fffd00"/><stop offset=".86" stop-color="#ceff31"/><stop offset=".93" stop-color="#c1ff3e"/><stop offset="1" stop-color="#bbff44"/></linearGradient><linearGradient id="g310" x2="0" y2="1"><stop offset="0" stop-color="#0056ff"/><stop offset=".02" stop-color="#0091ff"/><stop offset=".05" stop-color="#00faff"/><stop offset=".07" stop-color="#4affb5"/><stop offset=".11" stop-color="#f2ff0d"/><stop offset=".12" stop-color="#ffe200"/><stop offset=".15" stop-color="#ff9200"/><stop offset=".17" stop-color="#ff4a00"/><stop offset=".19" stop-color="#ff0f00"/><stop offset=".2" stop-color="#f60000"/><stop offset=".22" stop-color="#d30000"/><stop offset=".24" stop-color="#c40000"/><stop offset=".31" stop-color="#c30000"/><stop offset=".38" stop-color="#d00000"/><stop offset=".45" stop-color="#f80000"/><stop offset=".46" stop-color="#ff0100"/><stop offset=".5" stop-color="#ff2100"/><stop offset=".69" stop-color="#ffc400"/><stop offset=".77" stop-color="#fffc00"/><stop offset=".89" stop-color="#d7ff28"/><stop offset="1" stop-color="#c9ff36"/></linearGradient><linearGradient id="g311" x2="0" y2="1"><stop offset="0" stop-color="#004cff"/><stop offset=".02" stop-color="#0087ff"/><stop offset=".05" stop-color="#00efff"/><stop offset=".06" stop-color="#17ffe8"/><stop offset=".11" stop-color="#e6ff19"/><stop offset=".12" stop-color="#ffee00"/><stop offset=".15" stop-color="#ff9e00"/><stop offset=".17" stop-color="#ff5600"/><stop offset=".2" stop-color="#ff0200"/><stop offset=".22" stop-color="#de0000"/><stop offset=".24" stop-color="#cf0000"/><stop offset=".31" stop-color="#cc0000"/><stop offset=".38" stop-color="#d80000"/><stop offset=".45" stop-color="#fe0000"/><stop offset=".52" stop-color="#ff3500"/><stop offset=".7" stop-color="#ffc600"/><stop offset=".79" stop-color="#fffd00"/><stop offset=".9" stop-color="#e0ff1f"/><stop offset="1" stop-color="#d6ff29"/></linearGradient><linearGradient id="g312" x2="0" y2="1"><stop offset="0" stop-color="#002eff"/><stop offset=".03" stop-color="#0089ff"/><stop offset=".06" stop-color="#00f5ff"/><stop offset=".07" stop-color="#1effe1"/><stop offset=".12" stop-color="#edff12"/><stop offset=".14" stop-color="#ffe900"/><stop offset=".16" stop-color="#ff9d00"/><stop offset=".18" stop-color="#ff5b00"/><stop offset=".2" stop-color="#ff2600"/><stop offset=".22" stop-color="#ff0200"/><stop offset=".24" stop-color="#f00000"/><stop offset=".32" stop-color="#e80000"/><stop offset=".36" stop-color="#ee0000"/><stop offset=".41" stop-color="#fc0000"/><stop offset=".48" stop-color="#ff2600"/><stop offset=".7" stop-color="#ffc500"/><stop offset=".78" stop-color="#fff400"/><stop offset=".81" stop-color="#fdff02"/><stop offset=".9" stop-color="#e8ff17"/><stop offset="1" stop-color="#dfff20"/></linearGradient><linearGradient id="g313" x2="0" y2="1"><stop offset="0" stop-color="#0006ff"/><stop offset=".03" stop-color="#005dff"/><stop offset=".07" stop-color="#00ebff"/><stop offset=".08" stop-color="#13ffec"/><stop offset=".14" stop-color="#dcff23"/><stop offset=".15" stop-color="#fffc00"/><stop offset=".17" stop-color="#ffb500"/><stop offset=".19" stop-color="#ff7900"/><stop offset=".21" stop-color="#ff4c00"/><stop offset=".22" stop-color="#ff3b00"/><stop offset=".24" stop-color="#ff2800"/><stop offset=".33" stop-color="#ff1700"/><stop offset=".39" stop-color="#ff1e00"/><stop offset=".46" stop-color="#ff3b00"/><stop offset=".58" stop-color="#ff8000"/><stop offset=".72" stop-color="#ffd800"/><stop offset=".8" stop-color="#fffd00"/><stop offset=".9" stop-color="#ebff14"/><stop offset="1" stop-color="#e4ff1b"/></linearGradient><linearGradient id="g314" x2="0" y2="1"><stop offset="0" stop-color="#0000dc"/><stop offset=".01" stop-color="#0000f4"/><stop offset=".02" stop-color="#000fff"/><stop offset=".05" stop-color="#0069ff"/><stop offset=".09" stop-color="#00f9ff"/><stop offset=".1" stop-color="#21ffde"/><stop offset=".15" stop-color="#b9ff46"/><stop offset=".17" stop-color="#feff01"/><stop offset=".2" stop-color="#ffac00"/><stop offset=".22" stop-color="#ff8600"/><stop offset=".23" stop-color="#ff7900"/><stop offset=".25" stop-color="#ff6c00"/><stop offset=".29" stop-color="#ff5d00"/><stop offset=".35" stop-color="#ff5200"/><stop offset=".43" stop-color="#ff5f00"/><stop offset=".54" stop-color="#ff8700"/><stop offset=".61" stop-color="#ffa700"/><stop offset=".72" stop-color="#ffe100"/><stop offset=".79" stop-color="#fffd00"/><stop offset=".9" stop-color="#ebff14"/><stop offset="1" stop-color="#e6ff19"/></linearGradient><linearGradient id="g315" x2="0" y2="1"><stop offset="0" stop-color="#0000b9"/><stop offset=".03" stop-color="#0000fa"/><stop offset=".04" stop-color="#0015ff"/><stop offset=".07" stop-color="#006fff"/><stop offset=".11" stop-color="#00fbff"/><stop offset=".12" stop-color="#20ffdf"/><stop offset=".16" stop-color="#88ff77"/><stop offset=".18" stop-color="#c6ff39"/><stop offset=".2" stop-color="#faff05"/><stop offset=".21" stop-color="#ffef00"/><stop offset=".24" stop-color="#ffc500"/><stop offset=".27" stop-color="#ffb400"/><stop offset=".33" stop-color="#ff9c00"/><stop offset=".39" stop-color="#ff9800"/><stop offset=".59" stop-color="#ffba00"/><stop offset=".77" stop-color="#ffff00"/><stop offset=".88" stop-color="#ebff14"/><stop offset="1" stop-color="#e6ff19"/></linearGradient><linearGradient id="g316" x2="0" y2="1"><stop offset="0" stop-color="#0000a0"/><stop offset=".02" stop-color="#0000be"/><stop offset=".05" stop-color="#0000fe"/><stop offset=".08" stop-color="#0051ff"/><stop offset=".14" stop-color="#00f0ff"/><stop offset=".15" stop-color="#11ffee"/><stop offset=".19" stop-color="#85ff7a"/><stop offset=".22" stop-color="#c4ff3b"/><stop offset=".24" stop-color="#ddff22"/><stop offset=".29" stop-color="#feff01"/><stop offset=".33" stop-color="#ffed00"/><stop offset=".38" stop-color="#ffe300"/><stop offset=".57" stop-color="#ffd800"/><stop offset=".62" stop-color="#ffdd00"/><stop offset=".73" stop-color="#ffff00"/><stop offset=".85" stop-color="#e9ff16"/><stop offset="1" stop-color="#e4ff1b"/></linearGradient><linearGradient id="g317" x2="0" y2="1"><stop offset="0" stop-color="#000090"/><stop offset=".03" stop-color="#0000b2"/><stop offset=".05" stop-color="#0000d4"/><stop offset=".07" stop-color="#0000ff"/><stop offset=".1" stop-color="#004cff"/><stop offset=".17" stop-color="#00f6ff"/><stop offset=".18" stop-color="#11ffee"/><stop offset=".21" stop-color="#54ffab"/><stop offset=".23" stop-color="#74ff8b"/><stop offset=".29" stop-color="#a7ff58"/><stop offset=".35" stop-color="#c6ff39"/><stop offset=".55" stop-color="#feff01"/><stop offset=".61" stop-color="#fff500"/><stop offset=".68" stop-color="#fdff02"/><stop offset=".83" stop-color="#e6ff19"/><stop offset="1" stop-color="#e3ff1c"/></linearGradient><linearGradient id="g318" x2="0" y2="1"><stop offset="0" stop-color="#000087"/><stop offset=".04" stop-color="#0000a8"/><stop offset=".06" stop-color="#0000c5"/><stop offset=".09" stop-color="#0000fd"/><stop offset=".19" stop-color="#00d3ff"/><stop offset=".21" stop-color="#00fbff"/><stop offset=".22" stop-color="#0dfff2"/><stop offset=".25" stop-color="#31ffce"/><stop offset=".32" stop-color="#67ff98"/><stop offset=".6" stop-color="#f0ff0f"/><stop offset=".64" stop-color="#f4ff0b"/><stop offset=".8" stop-color="#e5ff1a"/><stop offset="1" stop-color="#e2ff1d"/></linearGradient><linearGradient id="g319" x2="0" y2="1"><stop offset="0" stop-color="#000085"/><stop offset=".03" stop-color="#000091"/><stop offset=".05" stop-color="#0000a1"/><stop offset=".08" stop-color="#0000c7"/><stop offset=".11" stop-color="#0000fa"/><stop offset=".12" stop-color="#000fff"/><stop offset=".19" stop-color="#008bff"/><stop offset=".22" stop-color="#00bfff"/><stop offset=".24" stop-color="#00d9ff"/><stop offset=".28" stop-color="#00feff"/><stop offset=".45" stop-color="#6bff94"/><stop offset=".57" stop-color="#cdff32"/><stop offset=".61" stop-color="#e2ff1d"/><stop offset=".65" stop-color="#e7ff18"/><stop offset="1" stop-color="#e2ff1d"/></linearGradient><linearGradient id="g320" x2="0" y2="1"><stop offset="0" stop-color="#000087"/><stop offset=".04" stop-color="#000093"/><stop offset=".07" stop-color="#0000a8"/><stop offset=".1" stop-color="#0000cb"/><stop offset=".14" stop-color="#0000fa"/><stop offset=".15" stop-color="#000cff"/><stop offset=".21" stop-color="#0074ff"/><stop offset=".24" stop-color="#009dff"/><stop offset=".3" stop-color="#00d4ff"/><stop offset=".36" stop-color="#02fffd"/><stop offset=".45" stop-color="#43ffbc"/><stop offset=".57" stop-color="#beff41"/><stop offset=".62" stop-color="#ddff22"/><stop offset=".75" stop-color="#e5ff1a"/><stop offset="1" stop-color="#e3ff1c"/></linearGradient><linearGradient id="g321" x2="0" y2="1"><stop offset="0" stop-color="#00008b"/><stop offset=".04" stop-color="#000097"/><stop offset=".08" stop-color="#0000af"/><stop offset=".11" stop-color="#0000cd"/><stop offset=".15" stop-color="#0000f6"/><stop offset=".16" stop-color="#0006ff"/><stop offset=".22" stop-color="#0061ff"/><stop offset=".25" stop-color="#0084ff"/><stop offset=".4" stop-color="#00faff"/><stop offset=".41" stop-color="#04fffb"/><stop offset=".45" stop-color="#2dffd2"/><stop offset=".56" stop-color="#b0ff4f"/><stop offset=".59" stop-color="#cbff34"/><stop offset=".62" stop-color="#ddff22"/><stop offset=".76" stop-color="#eaff15"/><stop offset="1" stop-color="#e6ff19"/></linearGradient><linearGradient id="g322" x2="0" y2="1"><stop offset="0" stop-color="#000091"/><stop offset=".07" stop-color="#0000b2"/><stop offset=".1" stop-color="#0000cc"/><stop offset=".15" stop-color="#0000fa"/><stop offset=".16" stop-color="#0009ff"/><stop offset=".22" stop-color="#005eff"/><stop offset=".25" stop-color="#0081ff"/><stop offset=".41" stop-color="#01fffe"/><stop offset=".45" stop-color="#2cffd3"/><stop offset=".56" stop-color="#b6ff49"/><stop offset=".59" stop-color="#d2ff2d"/><stop offset=".62" stop-color="#e5ff1a"/><stop offset=".68" stop-color="#eeff11"/><stop offset=".77" stop-color="#f3ff0c"/><stop offset="1" stop-color="#eaff15"/></linearGradient><linearGradient id="g323" x2="0" y2="1"><stop offset="0" stop-color="#000099"/><stop offset=".06" stop-color="#0000bc"/><stop offset=".12" stop-color="#0000fa"/><stop offset=".14" stop-color="#0008ff"/><stop offset=".21" stop-color="#006bff"/><stop offset=".25" stop-color="#009bff"/><stop offset=".39" stop-color="#02fffd"/><stop offset=".45" stop-color="#3fffc0"/><stop offset=".56" stop-color="#c5ff3a"/><stop offset=".59" stop-color="#e0ff1f"/><stop offset=".62" stop-color="#f2ff0d"/><stop offset=".68" stop-color="#fbff04"/><stop offset=".76" stop-color="#ffff00"/><stop offset="1" stop-color="#eeff11"/></linearGradient><linearGradient id="g324" x2="0" y2="1"><stop offset="0" stop-color="#0000a2"/><stop offset=".05" stop-color="#0000c7"/><stop offset=".1" stop-color="#0001ff"/><stop offset=".23" stop-color="#00b5ff"/><stop offset=".26" stop-color="#00d4ff"/><stop offset=".32" stop-color="#00fdff"/><stop offset=".36" stop-color="#19ffe6"/><stop offset=".42" stop-color="#43ffbc"/><stop offset=".55" stop-color="#d3ff2c"/><stop offset=".6" stop-color="#fcff03"/><stop offset=".65" stop-color="#fff300"/><stop offset=".72" stop-color="#fff000"/><stop offset=".91" stop-color="#ffff00"/><stop offset="1" stop-color="#f3ff0c"/></linearGradient><linearGradient id="g325" x2="0" y2="1"><stop offset="0" stop-color="#0000af"/><stop offset=".04" stop-color="#0000d2"/><stop offset=".07" stop-color="#0000f7"/><stop offset=".08" stop-color="#0006ff"/><stop offset=".12" stop-color="#0048ff"/><stop offset=".2" stop-color="#00c6ff"/><stop offset=".24" stop-color="#00ffff"/><stop offset=".26" stop-color="#13ffec"/><stop offset=".41" stop-color="#6cff93"/><stop offset=".54" stop-color="#e9ff16"/><stop offset=".57" stop-color="#fffb00"/><stop offset=".62" stop-color="#ffe000"/><stop offset=".69" stop-color="#ffdb00"/><stop offset=".79" stop-color="#ffe300"/><stop offset=".96" stop-color="#ffff00"/><stop offset="1" stop-color="#f8ff07"/></linearGradient><linearGradient id="g326" x2="0" y2="1"><stop offset="0" stop-color="#0000bd"/><stop offset=".05" stop-color="#0000f7"/><stop offset=".06" stop-color="#0008ff"/><stop offset=".1" stop-color="#004fff"/><stop offset=".19" stop-color="#00f5ff"/><stop offset=".2" stop-color="#09fff6"/><stop offset=".23" stop-color="#3affc5"/><stop offset=".26" stop-color="#5affa5"/><stop offset=".41" stop-color="#a6ff59"/><stop offset=".52" stop-color="#ffff00"/><stop offset=".59" stop-color="#ffce00"/><stop offset=".65" stop-color="#ffc200"/><stop offset=".76" stop-color="#ffcd00"/><stop offset="1" stop-color="#feff01"/></linearGradient><linearGradient id="g327" x2="0" y2="1"><stop offset="0" stop-color="#0000cc"/><stop offset=".04" stop-color="#0004ff"/><stop offset=".09" stop-color="#0065ff"/><stop offset=".16" stop-color="#00f4ff"/><stop offset=".17" stop-color="#0dfff2"/><stop offset=".21" stop-color="#64ff9b"/><stop offset=".23" stop-color="#85ff7a"/><stop offset=".25" stop-color="#9dff62"/><stop offset=".39" stop-color="#daff25"/><stop offset=".45" stop-color="#fdff02"/><stop offset=".56" stop-color="#ffb900"/><stop offset=".6" stop-color="#ffa900"/><stop offset=".64" stop-color="#ffa500"/><stop offset=".75" stop-color="#ffb600"/><stop offset="1" stop-color="#fff900"/></linearGradient><linearGradient id="g328" x2="0" y2="1"><stop offset="0" stop-color="#0000dd"/><stop offset=".02" stop-color="#0000fa"/><stop offset=".03" stop-color="#000cff"/><stop offset=".07" stop-color="#005fff"/><stop offset=".14" stop-color="#00fcff"/><stop offset=".15" stop-color="#19ffe6"/><stop offset=".2" stop-color="#9aff65"/><stop offset=".23" stop-color="#d2ff2d"/><stop offset=".26" stop-color="#f3ff0c"/><stop offset=".29" stop-color="#feff01"/><stop offset=".41" stop-color="#ffd900"/><stop offset=".55" stop-color="#ff9500"/><stop offset=".62" stop-color="#ff8500"/><stop offset=".74" stop-color="#ff9d00"/><stop offset="1" stop-color="#fff200"/></linearGradient><linearGradient id="g329" x2="0" y2="1"><stop offset="0" stop-color="#0000ee"/><stop offset=".01" stop-color="#0000fe"/><stop offset=".04" stop-color="#0039ff"/><stop offset=".07" stop-color="#0083ff"/><stop offset=".11" stop-color="#00f6ff"/><stop offset=".12" stop-color="#16ffe9"/><stop offset=".19" stop-color="#c8ff37"/><stop offset=".21" stop-color="#f8ff07"/><stop offset=".22" stop-color="#fff100"/><stop offset=".24" stop-color="#ffd200"/><stop offset=".26" stop-color="#ffc000"/><stop offset=".41" stop-color="#ff9b00"/><stop offset=".54" stop-color="#ff6d00"/><stop offset=".6" stop-color="#ff6300"/><stop offset=".65" stop-color="#ff6800"/><stop offset=".72" stop-color="#ff7d00"/><stop offset="1" stop-color="#ffea00"/></linearGradient><linearGradient id="g330" x2="0" y2="1"><stop offset="0" stop-color="#0000fd"/><stop offset=".02" stop-color="#0025ff"/><stop offset=".04" stop-color="#0053ff"/><stop offset=".06" stop-color="#0087ff"/><stop offset=".1" stop-color="#04fffb"/><stop offset=".17" stop-color="#ceff31"/><stop offset=".18" stop-color="#edff12"/><stop offset=".19" stop-color="#fff400"/><stop offset=".21" stop-color="#ffc100"/><stop offset=".23" stop-color="#ff9900"/><stop offset=".26" stop-color="#ff7900"/><stop offset=".57" stop-color="#ff4000"/><stop offset=".62" stop-color="#ff4400"/><stop offset=".69" stop-color="#ff5800"/><stop offset="1" stop-color="#ffe000"/></linearGradient><linearGradient id="g331" x2="0" y2="1"><stop offset="0" stop-color="#000cff"/><stop offset=".04" stop-color="#0069ff"/><stop offset=".08" stop-color="#00e3ff"/><stop offset=".09" stop-color="#06fff9"/><stop offset=".16" stop-color="#e0ff1f"/><stop offset=".17" stop-color="#fffb00"/><stop offset=".2" stop-color="#ff9e00"/><stop offset=".22" stop-color="#ff6e00"/><stop offset=".24" stop-color="#ff4c00"/><stop offset=".26" stop-color="#ff3a00"/><stop offset=".53" stop-color="#ff1b00"/><stop offset=".59" stop-color="#ff1e00"/><stop offset=".66" stop-color="#ff3000"/><stop offset="1" stop-color="#ffd600"/></linearGradient><linearGradient id="g332" x2="0" y2="1"><stop offset="0" stop-color="#0017ff"/><stop offset=".02" stop-color="#0044ff"/><stop offset=".04" stop-color="#007aff"/><stop offset=".08" stop-color="#00fdff"/><stop offset=".15" stop-color="#e4ff1b"/><stop offset=".16" stop-color="#fff400"/><stop offset=".19" stop-color="#ff8c00"/><stop offset=".22" stop-color="#ff3b00"/><stop offset=".24" stop-color="#ff1800"/><stop offset=".25" stop-color="#ff0d00"/><stop offset=".27" stop-color="#ff0500"/><stop offset=".4" stop-color="#ff0000"/><stop offset=".51" stop-color="#f70000"/><stop offset=".6" stop-color="#ff0300"/><stop offset=".7" stop-color="#ff2a00"/><stop offset=".91" stop-color="#ff9e00"/><stop offset="1" stop-color="#ffcb00"/></linearGradient><linearGradient id="g333" x2="0" y2="1"><stop offset="0" stop-color="#001eff"/><stop offset=".03" stop-color="#0069ff"/><stop offset=".05" stop-color="#00a6ff"/><stop offset=".07" stop-color="#00eaff"/><stop offset=".08" stop-color="#10ffef"/><stop offset=".15" stop-color="#fffe00"/><stop offset=".18" stop-color="#ff8c00"/><stop offset=".2" stop-color="#ff4b00"/><stop offset=".23" stop-color="#ff0200"/><stop offset=".24" stop-color="#f20000"/><stop offset=".26" stop-color="#e00000"/><stop offset=".27" stop-color="#de0000"/><stop offset=".5" stop-color="#da0000"/><stop offset=".57" stop-color="#e30000"/><stop offset=".66" stop-color="#ff0200"/><stop offset=".91" stop-color="#ff9100"/><stop offset="1" stop-color="#ffc100"/></linearGradient><linearGradient id="g334" x2="0" y2="1"><stop offset="0" stop-color="#0022ff"/><stop offset=".03" stop-color="#006fff"/><stop offset=".05" stop-color="#00adff"/><stop offset=".07" stop-color="#00f3ff"/><stop offset=".08" stop-color="#1affe5"/><stop offset=".14" stop-color="#e6ff19"/><stop offset=".15" stop-color="#ffee00"/><stop offset=".18" stop-color="#ff7a00"/><stop offset=".2" stop-color="#ff3700"/><stop offset=".22" stop-color="#ff0200"/><stop offset=".23" stop-color="#ec0000"/><stop offset=".25" stop-color="#d10000"/><stop offset=".27" stop-color="#c90000"/><stop offset=".49" stop-color="#c70000"/><stop offset=".58" stop-color="#d50000"/><stop offset=".68" stop-color="#fd0000"/><stop offset=".91" stop-color="#ff8700"/><stop offset="1" stop-color="#ffb900"/></linearGradient><linearGradient id="g335" x2="0" y2="1"><stop offset="0" stop-color="#0023ff"/><stop offset=".03" stop-color="#0070ff"/><stop offset=".05" stop-color="#00aeff"/><stop offset=".07" stop-color="#00f5ff"/><stop offset=".08" stop-color="#1cffe3"/><stop offset=".14" stop-color="#e9ff16"/><stop offset=".15" stop-color="#ffeb00"/><stop offset=".19" stop-color="#ff5300"/><stop offset=".21" stop-color="#ff1700"/><stop offset=".22" stop-color="#fd0000"/><stop offset=".24" stop-color="#d80000"/><stop offset=".26" stop-color="#c60000"/><stop offset=".48" stop-color="#c30000"/><stop offset=".57" stop-color="#d00000"/><stop offset=".69" stop-color="#ff0200"/><stop offset=".9" stop-color="#ff8000"/><stop offset="1" stop-color="#ffb800"/></linearGradient><linearGradient id="g336" x2="0" y2="1"><stop offset="0" stop-color="#0021ff"/><stop offset=".03" stop-color="#006dff"/><stop offset=".05" stop-color="#00aaff"/><stop offset=".07" stop-color="#00f0ff"/><stop offset=".08" stop-color="#16ffe9"/><stop offset=".14" stop-color="#e1ff1e"/><stop offset=".15" stop-color="#fff400"/><stop offset=".18" stop-color="#ff8100"/><stop offset=".2" stop-color="#ff3f00"/><stop offset=".22" stop-color="#ff0a00"/><stop offset=".23" stop-color="#f50000"/><stop offset=".25" stop-color="#d90000"/><stop offset=".27" stop-color="#d10000"/><stop offset=".48" stop-color="#d00000"/><stop offset=".56" stop-color="#dc0000"/><stop offset=".66" stop-color="#ff0100"/><stop offset=".91" stop-color="#ff9400"/><stop offset="1" stop-color="#ffc600"/></linearGradient><linearGradient id="g337" x2="0" y2="1"><stop offset="0" stop-color="#001bff"/><stop offset=".03" stop-color="#0064ff"/><stop offset=".07" stop-color="#00e3ff"/><stop offset=".08" stop-color="#08fff7"/><stop offset=".15" stop-color="#f4ff0b"/><stop offset=".16" stop-color="#ffe300"/><stop offset=".19" stop-color="#ff7900"/><stop offset=".21" stop-color="#ff3f00"/><stop offset=".23" stop-color="#ff1300"/><stop offset=".24" stop-color="#ff0300"/><stop offset=".25" stop-color="#f70000"/><stop offset=".27" stop-color="#ef0000"/><stop offset=".48" stop-color="#eb0000"/><stop offset=".53" stop-color="#f00000"/><stop offset=".59" stop-color="#ff0000"/><stop offset=".7" stop-color="#ff2e00"/><stop offset=".91" stop-color="#ffa700"/><stop offset="1" stop-color="#ffd700"/></linearGradient><linearGradient id="g338" x2="0" y2="1"><stop offset="0" stop-color="#0012ff"/><stop offset=".02" stop-color="#003eff"/><stop offset=".04" stop-color="#0072ff"/><stop offset=".08" stop-color="#00f1ff"/><stop offset=".09" stop-color="#16ffe9"/><stop offset=".16" stop-color="#f7ff08"/><stop offset=".17" stop-color="#ffe300"/><stop offset=".19" stop-color="#ffa100"/><stop offset=".21" stop-color="#ff6a00"/><stop offset=".23" stop-color="#ff3f00"/><stop offset=".25" stop-color="#ff2500"/><stop offset=".27" stop-color="#ff1c00"/><stop offset=".48" stop-color="#ff1100"/><stop offset=".56" stop-color="#ff1900"/><stop offset=".65" stop-color="#ff3300"/><stop offset="1" stop-color="#ffeb00"/></linearGradient><linearGradient id="g339" x2="0" y2="1"><stop offset="0" stop-color="#0006ff"/><stop offset=".04" stop-color="#005eff"/><stop offset=".06" stop-color="#0096ff"/><stop offset=".09" stop-color="#00f5ff"/><stop offset=".1" stop-color="#18ffe7"/><stop offset=".17" stop-color="#eaff15"/><stop offset=".18" stop-color="#fff400"/><stop offset=".2" stop-color="#ffba00"/><stop offset=".22" stop-color="#ff8b00"/><stop offset=".24" stop-color="#ff6a00"/><stop offset=".26" stop-color="#ff5800"/><stop offset=".51" stop-color="#ff3e00"/><stop offset=".58" stop-color="#ff4600"/><stop offset=".67" stop-color="#ff6000"/><stop offset="1" stop-color="#feff01"/></linearGradient><linearGradient id="g340" x2="0" y2="1"><stop offset="0" stop-color="#0000f6"/><stop offset=".01" stop-color="#0008ff"/><stop offset=".04" stop-color="#0046ff"/><stop offset=".07" stop-color="#0094ff"/><stop offset=".1" stop-color="#00eeff"/><stop offset=".11" stop-color="#0ffff0"/><stop offset=".17" stop-color="#b0ff4f"/><stop offset=".19" stop-color="#eaff15"/><stop offset=".2" stop-color="#fffa00"/><stop offset=".23" stop-color="#ffbc00"/><stop offset=".26" stop-color="#ff9b00"/><stop offset=".47" stop-color="#ff7400"/><stop offset=".53" stop-color="#ff6f00"/><stop offset=".6" stop-color="#ff7700"/><stop offset=".68" stop-color="#ff8b00"/><stop offset=".94" stop-color="#fffd00"/><stop offset="1" stop-color="#e8ff17"/></linearGradient><linearGradient id="g341" x2="0" y2="1"><stop offset="0" stop-color="#0000e5"/><stop offset=".02" stop-color="#0006ff"/><stop offset=".03" stop-color="#0018ff"/><stop offset=".07" stop-color="#0071ff"/><stop offset=".12" stop-color="#00fbff"/><stop offset=".14" stop-color="#19ffe6"/><stop offset=".17" stop-color="#70ff8f"/><stop offset=".2" stop-color="#beff41"/><stop offset=".23" stop-color="#f9ff06"/><stop offset=".24" stop-color="#fff700"/><stop offset=".27" stop-color="#ffe100"/><stop offset=".38" stop-color="#ffc500"/><stop offset=".49" stop-color="#ffa900"/><stop offset=".56" stop-color="#ffa300"/><stop offset=".62" stop-color="#ffa900"/><stop offset=".69" stop-color="#ffb700"/><stop offset=".88" stop-color="#fffd00"/><stop offset="1" stop-color="#d1ff2e"/></linearGradient><linearGradient id="g342" x2="0" y2="1"><stop offset="0" stop-color="#0000d5"/><stop offset=".03" stop-color="#0000ff"/><stop offset=".04" stop-color="#0011ff"/><stop offset=".08" stop-color="#0063ff"/><stop offset=".15" stop-color="#00faff"/><stop offset=".16" stop-color="#15ffea"/><stop offset=".21" stop-color="#89ff76"/><stop offset=".23" stop-color="#acff53"/><stop offset=".25" stop-color="#c4ff3b"/><stop offset=".27" stop-color="#d1ff2e"/><stop offset=".41" stop-color="#fffe00"/><stop offset=".51" stop-color="#ffdf00"/><stop offset=".59" stop-color="#ffd700"/><stop offset=".69" stop-color="#ffe100"/><stop offset=".79" stop-color="#fffe00"/><stop offset="1" stop-color="#baff45"/></linearGradient><linearGradient id="g343" x2="0" y2="1"><stop offset="0" stop-color="#0000c4"/><stop offset=".04" stop-color="#0000f6"/><stop offset=".05" stop-color="#0006ff"/><stop offset=".09" stop-color="#0050ff"/><stop offset=".18" stop-color="#03fffc"/><stop offset=".22" stop-color="#50ffaf"/><stop offset=".24" stop-color="#6cff93"/><stop offset=".26" stop-color="#7eff81"/><stop offset=".47" stop-color="#d7ff28"/><stop offset=".55" stop-color="#eeff11"/><stop offset=".64" stop-color="#f5ff0a"/><stop offset=".72" stop-color="#edff12"/><stop offset="1" stop-color="#a2ff5d"/></linearGradient><linearGradient id="g344" x2="0" y2="1"><stop offset="0" stop-color="#0000b5"/><stop offset=".03" stop-color="#0000d2"/><stop offset=".06" stop-color="#0000f8"/><stop offset=".07" stop-color="#0008ff"/><stop offset=".11" stop-color="#004cff"/><stop offset=".2" stop-color="#00e5ff"/><stop offset=".22" stop-color="#07fff8"/><stop offset=".26" stop-color="#33ffcc"/><stop offset=".34" stop-color="#5effa1"/><stop offset=".5" stop-color="#a6ff59"/><stop offset=".59" stop-color="#c0ff3f"/><stop offset=".67" stop-color="#c6ff39"/><stop offset=".75" stop-color="#c0ff3f"/><stop offset="1" stop-color="#8bff74"/></linearGradient><linearGradient id="g345" x2="0" y2="1"><stop offset="0" stop-color="#0000a8"/><stop offset=".04" stop-color="#0000c8"/><stop offset=".09" stop-color="#0004ff"/><stop offset=".22" stop-color="#00c2ff"/><stop offset=".25" stop-color="#00e3ff"/><stop offset=".29" stop-color="#00fdff"/><stop offset=".5" stop-color="#6dff92"/><stop offset=".56" stop-color="#84ff7b"/><stop offset=".62" stop-color="#93ff6c"/><stop offset=".7" stop-color="#9aff65"/><stop offset=".77" stop-color="#98ff67"/><stop offset="1" stop-color="#73ff8c"/></linearGradient><linearGradient id="g346" x2="0" y2="1"><stop offset="0" stop-color="#00009d"/><stop offset=".06" stop-color="#0000c6"/><stop offset=".11" stop-color="#0000fc"/><stop offset=".21" stop-color="#0078ff"/><stop offset=".25" stop-color="#00a3ff"/><stop offset=".41" stop-color="#00ffff"/><stop offset=".54" stop-color="#48ffb7"/><stop offset=".6" stop-color="#5effa1"/><stop offset=".67" stop-color="#6cff93"/><stop offset=".79" stop-color="#72ff8d"/><stop offset="1" stop-color="#5cffa3"/></linearGradient><linearGradient id="g347" x2="0" y2="1"><stop offset="0" stop-color="#000094"/><stop offset=".07" stop-color="#0000ba"/><stop offset=".15" stop-color="#0000fd"/><stop offset=".25" stop-color="#006aff"/><stop offset=".5" stop-color="#00ffff"/><stop offset=".61" stop-color="#33ffcc"/><stop offset=".72" stop-color="#4bffb4"/><stop offset=".83" stop-color="#50ffaf"/><stop offset="1" stop-color="#45ffba"/></linearGradient><linearGradient id="g348" x2="0" y2="1"><stop offset="0" stop-color="#00008e"/><stop offset=".08" stop-color="#0000af"/><stop offset=".19" stop-color="#0004ff"/><stop offset=".26" stop-color="#003fff"/><stop offset=".51" stop-color="#00d4ff"/><stop offset=".59" stop-color="#00fdff"/><stop offset=".69" stop-color="#1effe1"/><stop offset=".77" stop-color="#2cffd3"/><stop offset=".86" stop-color="#32ffcd"/><stop offset="1" stop-color="#2fffd0"/></linearGradient><linearGradient id="g349" x2="0" y2="1"><stop offset="0" stop-color="#000089"/><stop offset=".05" stop-color="#000095"/><stop offset=".1" stop-color="#0000ab"/><stop offset=".23" stop-color="#0001ff"/><stop offset=".54" stop-color="#00b8ff"/><stop offset=".68" stop-color="#00f3ff"/><stop offset=".72" stop-color="#00ffff"/><stop offset=".83" stop-color="#13ffec"/><stop offset="1" stop-color="#19ffe6"/></linearGradient><linearGradient id="g350" x2="0" y2="1"><stop offset="0" stop-color="#000085"/><stop offset=".06" stop-color="#000090"/><stop offset=".11" stop-color="#0000a1"/><stop offset=".29" stop-color="#0001ff"/><stop offset=".56" stop-color="#009aff"/><stop offset=".68" stop-color="#00ceff"/><stop offset=".82" stop-color="#00f3ff"/><stop offset=".93" stop-color="#00feff"/><stop offset="1" stop-color="#03fffc"/></linearGradient><linearGradient id="g351" x2="0" y2="1"><stop offset="0" stop-color="#000083"/><stop offset=".07" stop-color="#00008c"/><stop offset=".14" stop-color="#00009d"/><stop offset=".35" stop-color="#0000ff"/><stop offset=".58" stop-color="#0080ff"/><stop offset=".7" stop-color="#00b4ff"/><stop offset=".83" stop-color="#00d9ff"/><stop offset="1" stop-color="#00edff"/></linearGradient><linearGradient id="g352" x2="0" y2="1"><stop offset="0" stop-color="#000082"/><stop offset=".08" stop-color="#000089"/><stop offset=".16" stop-color="#000099"/><stop offset=".31" stop-color="#0000d2"/><stop offset=".41" stop-color="#0000fc"/><stop offset=".61" stop-color="#006fff"/><stop offset=".72" stop-color="#009cff"/><stop offset=".84" stop-color="#00c1ff"/><stop offset="1" stop-color="#00d9ff"/></linearGradient><linearGradient id="g353" x2="0" y2="1"><stop offset="0" stop-color="#000081"/><stop offset=".1" stop-color="#000088"/><stop offset=".2" stop-color="#00009b"/><stop offset=".33" stop-color="#0000c5"/><stop offset=".46" stop-color="#0000fd"/><stop offset=".65" stop-color="#0060ff"/><stop offset=".75" stop-color="#008bff"/><stop offset=".86" stop-color="#00adff"/><stop offset="1" stop-color="#00c6ff"/></linearGradient><linearGradient id="g354" x2="0" y2="1"><stop offset="0" stop-color="#000080"/><stop offset=".15" stop-color="#000089"/><stop offset=".28" stop-color="#0000a5"/><stop offset=".4" stop-color="#0000ca"/><stop offset=".51" stop-color="#0000ff"/><stop offset=".66" stop-color="#0049ff"/><stop offset=".76" stop-color="#0075ff"/><stop offset=".88" stop-color="#0099ff"/><stop offset="1" stop-color="#00b3ff"/></linearGradient><linearGradient id="cb355" x1="0" y1="0" x2="0" y2="1"><stop offset="0" stop-color="#800000"/><stop offset="0.06" stop-color="#bf0000"/><stop offset="0.12" stop-color="#ff0000"/><stop offset="0.19" stop-color="#ff4000"/><stop offset="0.25" stop-color="#ff8000"/><stop offset="0.31" stop-color="#ffbf00"/><stop offset="0.38" stop-color="#ffff00"/><stop offset="0.44" stop-color="#bfff40"/><stop offset="0.5" stop-color="#80ff80"/><stop offset="0.56" stop-color="#40ffbf"/><stop offset="0.62" stop-color="#00ffff"/><stop offset="0.69" stop-color="#00bfff"/><stop offset="0.75" stop-color="#0080ff"/><stop offset="0.81" stop-color="#0040ff"/><stop offset="0.88" stop-color="#0000ff"/><stop offset="0.94" stop-color="#0000bf"/><stop offset="1" stop-color="#000080"/></linearGradient><clipPath id="cp356"><rect x="399.9" y="323.1" width="108.9" height="96.2"/></clipPath><linearGradient id="g357" x2="0" y2="1"><stop offset="0" stop-color="#000080"/><stop offset=".81" stop-color="#000080"/><stop offset="1" stop-color="#000085"/></linearGradient><linearGradient id="g358" x2="0" y2="1"><stop offset="0" stop-color="#000080"/><stop offset=".81" stop-color="#000080"/><stop offset="1" stop-color="#000086"/></linearGradient><linearGradient id="g359" x2="0" y2="1"><stop offset="0" stop-color="#000080"/><stop offset=".8" stop-color="#000080"/><stop offset="1" stop-color="#000087"/></linearGradient><linearGradient id="g360" x2="0" y2="1"><stop offset="0" stop-color="#000080"/><stop offset=".8" stop-color="#000080"/><stop offset="1" stop-color="#000088"/></linearGradient><linearGradient id="g361" x2="0" y2="1"><stop offset="0" stop-color="#000080"/><stop offset=".79" stop-color="#000080"/><stop offset="1" stop-color="#000089"/></linearGradient><linearGradient id="g362" x2="0" y2="1"><stop offset="0" stop-color="#000080"/><stop offset=".79" stop-color="#000080"/><stop offset="1" stop-color="#00008b"/></linearGradient><linearGradient id="g363" x2="0" y2="1"><stop offset="0" stop-color="#000080"/><stop offset=".79" stop-color="#000080"/><stop offset="1" stop-color="#00008c"/></linearGradient><linearGradient id="g364" x2="0" y2="1"><stop offset="0" stop-color="#000080"/><stop offset=".8" stop-color="#000081"/><stop offset="1" stop-color="#00008e"/></linearGradient><linearGradient id="g365" x2="0" y2="1"><stop offset="0" stop-color="#000080"/><stop offset=".81" stop-color="#000082"/><stop offset="1" stop-color="#000090"/></linearGradient><linearGradient id="g366" x2="0" y2="1"><stop offset="0" stop-color="#000080"/><stop offset=".82" stop-color="#000083"/><stop offset="1" stop-color="#000092"/></linearGradient><linearGradient id="g367" x2="0" y2="1"><stop offset="0" stop-color="#000080"/><stop offset=".83" stop-color="#000086"/><stop offset="1" stop-color="#000095"/></linearGradient><linearGradient id="g368" x2="0" y2="1"><stop offset="0" stop-color="#000080"/><stop offset=".53" stop-color="#00008b"/><stop offset=".85" stop-color="#00008b"/><stop offset="1" stop-color="#000098"/></linearGradient><linearGradient id="g369" x2="0" y2="1"><stop offset="0" stop-color="#000080"/><stop offset=".19" stop-color="#000081"/><stop offset=".52" stop-color="#000093"/><stop offset=".89" stop-color="#000092"/><stop offset="1" stop-color="#00009d"/></linearGradient><linearGradient id="g370" x2="0" y2="1"><stop offset="0" stop-color="#000080"/><stop offset=".18" stop-color="#000082"/><stop offset=".5" stop-color="#0000a0"/><stop offset=".89" stop-color="#00009c"/><stop offset="1" stop-color="#0000a5"/></linearGradient><linearGradient id="g371" x2="0" y2="1"><stop offset="0" stop-color="#000080"/><stop offset=".17" stop-color="#000083"/><stop offset=".38" stop-color="#0000a7"/><stop offset=".5" stop-color="#0000b3"/><stop offset=".64" stop-color="#0000b5"/><stop offset=".9" stop-color="#0000ab"/><stop offset="1" stop-color="#0000b1"/></linearGradient><linearGradient id="g372" x2="0" y2="1"><stop offset="0" stop-color="#000080"/><stop offset=".16" stop-color="#000085"/><stop offset=".35" stop-color="#0000bb"/><stop offset=".5" stop-color="#0000d0"/><stop offset=".64" stop-color="#0000d1"/><stop offset=".91" stop-color="#0000c0"/><stop offset="1" stop-color="#0000c2"/></linearGradient><linearGradient id="g373" x2="0" y2="1"><stop offset="0" stop-color="#000080"/><stop offset=".09" stop-color="#000081"/><stop offset=".15" stop-color="#000089"/><stop offset=".33" stop-color="#0000d7"/><stop offset=".41" stop-color="#0000eb"/><stop offset=".48" stop-color="#0000f6"/><stop offset=".61" stop-color="#0000f9"/><stop offset=".9" stop-color="#0000dd"/><stop offset="1" stop-color="#0000db"/></linearGradient><linearGradient id="g374" x2="0" y2="1"><stop offset="0" stop-color="#000080"/><stop offset=".08" stop-color="#000081"/><stop offset=".14" stop-color="#00008e"/><stop offset=".18" stop-color="#0000a4"/><stop offset=".27" stop-color="#0000e8"/><stop offset=".32" stop-color="#0003ff"/><stop offset=".43" stop-color="#0024ff"/><stop offset=".54" stop-color="#002fff"/><stop offset=".66" stop-color="#0028ff"/><stop offset=".92" stop-color="#0002ff"/><stop offset="1" stop-color="#0000fc"/></linearGradient><linearGradient id="g375" x2="0" y2="1"><stop offset="0" stop-color="#000080"/><stop offset=".07" stop-color="#000083"/><stop offset=".11" stop-color="#000090"/><stop offset=".16" stop-color="#0000ad"/><stop offset=".23" stop-color="#0000f9"/><stop offset=".24" stop-color="#0005ff"/><stop offset=".28" stop-color="#0028ff"/><stop offset=".36" stop-color="#0054ff"/><stop offset=".43" stop-color="#0067ff"/><stop offset=".5" stop-color="#0071ff"/><stop offset=".62" stop-color="#006aff"/><stop offset=".89" stop-color="#0035ff"/><stop offset="1" stop-color="#0026ff"/></linearGradient><linearGradient id="g376" x2="0" y2="1"><stop offset="0" stop-color="#000080"/><stop offset=".06" stop-color="#000084"/><stop offset=".1" stop-color="#000098"/><stop offset=".15" stop-color="#0000c1"/><stop offset=".19" stop-color="#0000fa"/><stop offset=".25" stop-color="#0055ff"/><stop offset=".29" stop-color="#007cff"/><stop offset=".38" stop-color="#00a9ff"/><stop offset=".47" stop-color="#00c0ff"/><stop offset=".54" stop-color="#00c0ff"/><stop offset=".61" stop-color="#00b6ff"/><stop offset=".89" stop-color="#006cff"/><stop offset="1" stop-color="#0057ff"/></linearGradient><linearGradient id="g377" x2="0" y2="1"><stop offset="0" stop-color="#000080"/><stop offset=".04" stop-color="#000084"/><stop offset=".08" stop-color="#00009a"/><stop offset=".11" stop-color="#0000bb"/><stop offset=".16" stop-color="#0000ff"/><stop offset=".23" stop-color="#008dff"/><stop offset=".26" stop-color="#00bdff"/><stop offset=".3" stop-color="#00e2ff"/><stop offset=".35" stop-color="#01fffe"/><stop offset=".42" stop-color="#17ffe8"/><stop offset=".49" stop-color="#1fffe0"/><stop offset=".56" stop-color="#17ffe8"/><stop offset=".65" stop-color="#01fffe"/><stop offset=".89" stop-color="#00aaff"/><stop offset="1" stop-color="#008dff"/></linearGradient><linearGradient id="g378" x2="0" y2="1"><stop offset="0" stop-color="#000080"/><stop offset=".03" stop-color="#000086"/><stop offset=".06" stop-color="#00009a"/><stop offset=".09" stop-color="#0000c1"/><stop offset=".12" stop-color="#0000fa"/><stop offset=".15" stop-color="#0029ff"/><stop offset=".22" stop-color="#00dbff"/><stop offset=".23" stop-color="#00f2ff"/><stop offset=".24" stop-color="#08fff7"/><stop offset=".27" stop-color="#37ffc8"/><stop offset=".33" stop-color="#63ff9c"/><stop offset=".4" stop-color="#7cff83"/><stop offset=".47" stop-color="#84ff7b"/><stop offset=".53" stop-color="#7dff82"/><stop offset=".6" stop-color="#67ff98"/><stop offset=".83" stop-color="#01fffe"/><stop offset="1" stop-color="#00c6ff"/></linearGradient><linearGradient id="g379" x2="0" y2="1"><stop offset="0" stop-color="#000082"/><stop offset=".03" stop-color="#000091"/><stop offset=".05" stop-color="#0000a6"/><stop offset=".07" stop-color="#0000c5"/><stop offset=".1" stop-color="#0005ff"/><stop offset=".14" stop-color="#0056ff"/><stop offset=".19" stop-color="#00f2ff"/><stop offset=".2" stop-color="#12ffed"/><stop offset=".22" stop-color="#4bffb4"/><stop offset=".24" stop-color="#7cff83"/><stop offset=".27" stop-color="#aeff51"/><stop offset=".3" stop-color="#c5ff3a"/><stop offset=".35" stop-color="#deff21"/><stop offset=".44" stop-color="#edff12"/><stop offset=".51" stop-color="#e4ff1b"/><stop offset=".58" stop-color="#cbff34"/><stop offset=".88" stop-color="#30ffcf"/><stop offset="1" stop-color="#00feff"/></linearGradient><linearGradient id="g380" x2="0" y2="1"><stop offset="0" stop-color="#000088"/><stop offset=".03" stop-color="#0000a6"/><stop offset=".05" stop-color="#0000c7"/><stop offset=".07" stop-color="#0000f1"/><stop offset=".08" stop-color="#000bff"/><stop offset=".11" stop-color="#0063ff"/><stop offset=".16" stop-color="#00efff"/><stop offset=".17" stop-color="#14ffeb"/><stop offset=".2" stop-color="#7fff80"/><stop offset=".22" stop-color="#beff41"/><stop offset=".24" stop-color="#f3ff0c"/><stop offset=".25" stop-color="#fff600"/><stop offset=".27" stop-color="#ffd800"/><stop offset=".3" stop-color="#ffc500"/><stop offset=".36" stop-color="#ffaf00"/><stop offset=".42" stop-color="#ffaa00"/><stop offset=".47" stop-color="#ffb000"/><stop offset=".52" stop-color="#ffc000"/><stop offset=".65" stop-color="#fdff02"/><stop offset=".86" stop-color="#71ff8e"/><stop offset="1" stop-color="#32ffcd"/></linearGradient><linearGradient id="g381" x2="0" y2="1"><stop offset="0" stop-color="#000099"/><stop offset=".02" stop-color="#0000b6"/><stop offset=".05" stop-color="#0000f3"/><stop offset=".06" stop-color="#000dff"/><stop offset=".09" stop-color="#0066ff"/><stop offset=".14" stop-color="#00f9ff"/><stop offset=".15" stop-color="#22ffdd"/><stop offset=".2" stop-color="#e7ff18"/><stop offset=".21" stop-color="#fff300"/><stop offset=".24" stop-color="#ff9c00"/><stop offset=".26" stop-color="#ff7600"/><stop offset=".27" stop-color="#ff6a00"/><stop offset=".33" stop-color="#ff5400"/><stop offset=".39" stop-color="#ff4d00"/><stop offset=".46" stop-color="#ff5800"/><stop offset=".53" stop-color="#ff7500"/><stop offset=".61" stop-color="#ffa800"/><stop offset=".73" stop-color="#fffb00"/><stop offset=".89" stop-color="#96ff69"/><stop offset="1" stop-color="#5effa1"/></linearGradient><linearGradient id="g382" x2="0" y2="1"><stop offset="0" stop-color="#0000b6"/><stop offset=".03" stop-color="#0000f0"/><stop offset=".04" stop-color="#0008ff"/><stop offset=".07" stop-color="#005dff"/><stop offset=".09" stop-color="#00a2ff"/><stop offset=".11" stop-color="#00efff"/><stop offset=".12" stop-color="#18ffe7"/><stop offset=".18" stop-color="#eeff11"/><stop offset=".19" stop-color="#ffe700"/><stop offset=".21" stop-color="#ff9b00"/><stop offset=".23" stop-color="#ff5c00"/><stop offset=".25" stop-color="#ff2d00"/><stop offset=".26" stop-color="#ff1d00"/><stop offset=".28" stop-color="#ff0d00"/><stop offset=".36" stop-color="#ff0300"/><stop offset=".45" stop-color="#ff1200"/><stop offset=".53" stop-color="#ff3a00"/><stop offset=".61" stop-color="#ff7300"/><stop offset=".79" stop-color="#feff01"/><stop offset=".91" stop-color="#aeff51"/><stop offset="1" stop-color="#7eff81"/></linearGradient><linearGradient id="g383" x2="0" y2="1"><stop offset="0" stop-color="#0000d5"/><stop offset=".02" stop-color="#0000fc"/><stop offset=".03" stop-color="#0013ff"/><stop offset=".06" stop-color="#0065ff"/><stop offset=".08" stop-color="#00a8ff"/><stop offset=".1" stop-color="#00f4ff"/><stop offset=".11" stop-color="#1effe1"/><stop offset=".17" stop-color="#faff05"/><stop offset=".18" stop-color="#ffd900"/><stop offset=".2" stop-color="#ff8700"/><stop offset=".22" stop-color="#ff4000"/><stop offset=".24" stop-color="#ff0800"/><stop offset=".25" stop-color="#f30000"/><stop offset=".27" stop-color="#d90000"/><stop offset=".28" stop-color="#d40000"/><stop offset=".35" stop-color="#d20000"/><stop offset=".42" stop-color="#dd0000"/><stop offset=".49" stop-color="#fc0000"/><stop offset=".52" stop-color="#ff0f00"/><stop offset=".58" stop-color="#ff3a00"/><stop offset=".82" stop-color="#ffff00"/><stop offset=".92" stop-color="#beff41"/><stop offset="1" stop-color="#93ff6c"/></linearGradient><linearGradient id="g384" x2="0" y2="1"><stop offset="0" stop-color="#0000e4"/><stop offset=".01" stop-color="#0000f6"/><stop offset=".02" stop-color="#000bff"/><stop offset=".04" stop-color="#003aff"/><stop offset=".07" stop-color="#0094ff"/><stop offset=".1" stop-color="#06fff9"/><stop offset=".16" stop-color="#e0ff1f"/><stop offset=".17" stop-color="#fff100"/><stop offset=".19" stop-color="#ff9b00"/><stop offset=".21" stop-color="#ff4e00"/><stop offset=".23" stop-color="#ff0e00"/><stop offset=".24" stop-color="#f30000"/><stop offset=".26" stop-color="#cf0000"/><stop offset=".27" stop-color="#c60000"/><stop offset=".34" stop-color="#c20000"/><stop offset=".43" stop-color="#d20000"/><stop offset=".51" stop-color="#fb0000"/><stop offset=".52" stop-color="#ff0300"/><stop offset=".58" stop-color="#ff3000"/><stop offset=".83" stop-color="#fffe00"/><stop offset=".93" stop-color="#c1ff3e"/><stop offset="1" stop-color="#9dff62"/></linearGradient><linearGradient id="g385" x2="0" y2="1"><stop offset="0" stop-color="#0000d7"/><stop offset=".02" stop-color="#0000fd"/><stop offset=".03" stop-color="#0015ff"/><stop offset=".06" stop-color="#0067ff"/><stop offset=".08" stop-color="#00aaff"/><stop offset=".1" stop-color="#00f6ff"/><stop offset=".11" stop-color="#20ffdf"/><stop offset=".17" stop-color="#fcff03"/><stop offset=".18" stop-color="#ffd600"/><stop offset=".21" stop-color="#ff5f00"/><stop offset=".23" stop-color="#ff2000"/><stop offset=".24" stop-color="#ff0600"/><stop offset=".25" stop-color="#f00000"/><stop offset=".27" stop-color="#d70000"/><stop offset=".33" stop-color="#d00000"/><stop offset=".41" stop-color="#d90000"/><stop offset=".49" stop-color="#fa0000"/><stop offset=".51" stop-color="#ff0700"/><stop offset=".57" stop-color="#ff3100"/><stop offset=".76" stop-color="#ffca00"/><stop offset=".83" stop-color="#fdff02"/><stop offset=".92" stop-color="#c7ff38"/><stop offset="1" stop-color="#9fff60"/></linearGradient><linearGradient id="g386" x2="0" y2="1"><stop offset="0" stop-color="#0000b8"/><stop offset=".03" stop-color="#0000f2"/><stop offset=".04" stop-color="#000bff"/><stop offset=".07" stop-color="#0060ff"/><stop offset=".09" stop-color="#00a5ff"/><stop offset=".11" stop-color="#00f2ff"/><stop offset=".12" stop-color="#1cffe3"/><stop offset=".18" stop-color="#f2ff0d"/><stop offset=".19" stop-color="#ffe300"/><stop offset=".21" stop-color="#ff9700"/><stop offset=".23" stop-color="#ff5800"/><stop offset=".25" stop-color="#ff2900"/><stop offset=".26" stop-color="#ff1900"/><stop offset=".28" stop-color="#ff0800"/><stop offset=".38" stop-color="#ff0000"/><stop offset=".45" stop-color="#ff0f00"/><stop offset=".53" stop-color="#ff3700"/><stop offset=".59" stop-color="#ff6000"/><stop offset=".8" stop-color="#fffd00"/><stop offset=".92" stop-color="#baff45"/><stop offset="1" stop-color="#96ff69"/></linearGradient><linearGradient id="g387" x2="0" y2="1"><stop offset="0" stop-color="#00009a"/><stop offset=".03" stop-color="#0000ca"/><stop offset=".05" stop-color="#0000f6"/><stop offset=".06" stop-color="#0010ff"/><stop offset=".09" stop-color="#006aff"/><stop offset=".14" stop-color="#00feff"/><stop offset=".2" stop-color="#eeff11"/><stop offset=".21" stop-color="#ffed00"/><stop offset=".24" stop-color="#ff9600"/><stop offset=".26" stop-color="#ff7000"/><stop offset=".27" stop-color="#ff6400"/><stop offset=".33" stop-color="#ff4e00"/><stop offset=".39" stop-color="#ff4800"/><stop offset=".46" stop-color="#ff5300"/><stop offset=".53" stop-color="#ff7100"/><stop offset=".59" stop-color="#ff9500"/><stop offset=".75" stop-color="#feff01"/><stop offset=".9" stop-color="#acff53"/><stop offset="1" stop-color="#84ff7b"/></linearGradient><linearGradient id="g388" x2="0" y2="1"><stop offset="0" stop-color="#000089"/><stop offset=".03" stop-color="#0000a8"/><stop offset=".05" stop-color="#0000c9"/><stop offset=".07" stop-color="#0000f5"/><stop offset=".08" stop-color="#000fff"/><stop offset=".11" stop-color="#0068ff"/><stop offset=".16" stop-color="#00f5ff"/><stop offset=".17" stop-color="#1affe5"/><stop offset=".2" stop-color="#86ff79"/><stop offset=".22" stop-color="#c6ff39"/><stop offset=".24" stop-color="#faff05"/><stop offset=".25" stop-color="#ffee00"/><stop offset=".27" stop-color="#ffd000"/><stop offset=".3" stop-color="#ffbe00"/><stop offset=".36" stop-color="#ffa800"/><stop offset=".42" stop-color="#ffa400"/><stop offset=".47" stop-color="#ffaa00"/><stop offset=".52" stop-color="#ffba00"/><stop offset=".66" stop-color="#fdff02"/><stop offset=".75" stop-color="#c9ff36"/><stop offset=".88" stop-color="#92ff6d"/><stop offset="1" stop-color="#6bff94"/></linearGradient><linearGradient id="g389" x2="0" y2="1"><stop offset="0" stop-color="#000082"/><stop offset=".03" stop-color="#000092"/><stop offset=".05" stop-color="#0000a8"/><stop offset=".07" stop-color="#0000c7"/><stop offset=".09" stop-color="#0000f0"/><stop offset=".1" stop-color="#0009ff"/><stop offset=".14" stop-color="#005bff"/><stop offset=".19" stop-color="#00f9ff"/><stop offset=".2" stop-color="#18ffe7"/><stop offset=".22" stop-color="#52ffad"/><stop offset=".24" stop-color="#83ff7c"/><stop offset=".27" stop-color="#b6ff49"/><stop offset=".34" stop-color="#e1ff1e"/><stop offset=".42" stop-color="#f3ff0c"/><stop offset=".47" stop-color="#f2ff0d"/><stop offset=".52" stop-color="#e8ff17"/><stop offset=".75" stop-color="#8cff73"/><stop offset=".92" stop-color="#5dffa2"/><stop offset="1" stop-color="#4effb1"/></linearGradient><linearGradient id="g390" x2="0" y2="1"><stop offset="0" stop-color="#000080"/><stop offset=".03" stop-color="#000087"/><stop offset=".06" stop-color="#00009c"/><stop offset=".09" stop-color="#0000c3"/><stop offset=".12" stop-color="#0000fd"/><stop offset=".15" stop-color="#002dff"/><stop offset=".22" stop-color="#00e2ff"/><stop offset=".23" stop-color="#00f9ff"/><stop offset=".24" stop-color="#0ffff0"/><stop offset=".27" stop-color="#3effc1"/><stop offset=".32" stop-color="#64ff9b"/><stop offset=".39" stop-color="#80ff7f"/><stop offset=".45" stop-color="#8bff74"/><stop offset=".54" stop-color="#82ff7d"/><stop offset=".73" stop-color="#4effb1"/><stop offset="1" stop-color="#34ffcb"/></linearGradient><linearGradient id="g391" x2="0" y2="1"><stop offset="0" stop-color="#000080"/><stop offset=".04" stop-color="#000084"/><stop offset=".08" stop-color="#00009b"/><stop offset=".11" stop-color="#0000be"/><stop offset=".16" stop-color="#0003ff"/><stop offset=".23" stop-color="#0093ff"/><stop offset=".26" stop-color="#00c3ff"/><stop offset=".29" stop-color="#00e1ff"/><stop offset=".34" stop-color="#03fffc"/><stop offset=".41" stop-color="#1cffe3"/><stop offset=".48" stop-color="#27ffd8"/><stop offset=".54" stop-color="#24ffdb"/><stop offset=".71" stop-color="#0dfff2"/><stop offset=".84" stop-color="#1cffe3"/><stop offset="1" stop-color="#20ffdf"/></linearGradient><linearGradient id="g392" x2="0" y2="1"><stop offset="0" stop-color="#000080"/><stop offset=".05" stop-color="#000082"/><stop offset=".09" stop-color="#000092"/><stop offset=".14" stop-color="#0000b6"/><stop offset=".19" stop-color="#0000fe"/><stop offset=".24" stop-color="#004dff"/><stop offset=".27" stop-color="#0071ff"/><stop offset=".34" stop-color="#00a1ff"/><stop offset=".41" stop-color="#00bbff"/><stop offset=".5" stop-color="#00ccff"/><stop offset=".69" stop-color="#00cdff"/><stop offset=".84" stop-color="#01fffe"/><stop offset="1" stop-color="#16ffe9"/></linearGradient><linearGradient id="g393" x2="0" y2="1"><stop offset="0" stop-color="#000080"/><stop offset=".07" stop-color="#000083"/><stop offset=".11" stop-color="#000091"/><stop offset=".17" stop-color="#0000b8"/><stop offset=".23" stop-color="#0000fc"/><stop offset=".24" stop-color="#0009ff"/><stop offset=".27" stop-color="#0026ff"/><stop offset=".3" stop-color="#003aff"/><stop offset=".41" stop-color="#006bff"/><stop offset=".49" stop-color="#007fff"/><stop offset=".68" stop-color="#009bff"/><stop offset=".73" stop-color="#00b3ff"/><stop offset=".82" stop-color="#00eaff"/><stop offset=".86" stop-color="#00f9ff"/><stop offset=".9" stop-color="#01fffe"/><stop offset="1" stop-color="#17ffe8"/></linearGradient><linearGradient id="g394" x2="0" y2="1"><stop offset="0" stop-color="#000080"/><stop offset=".08" stop-color="#000082"/><stop offset=".14" stop-color="#00008f"/><stop offset=".18" stop-color="#0000a6"/><stop offset=".26" stop-color="#0000e6"/><stop offset=".3" stop-color="#0000fe"/><stop offset=".42" stop-color="#0031ff"/><stop offset=".66" stop-color="#0078ff"/><stop offset=".71" stop-color="#0095ff"/><stop offset=".8" stop-color="#00dcff"/><stop offset=".85" stop-color="#00f9ff"/><stop offset=".88" stop-color="#01fffe"/><stop offset="1" stop-color="#21ffde"/></linearGradient><linearGradient id="g395" x2="0" y2="1"><stop offset="0" stop-color="#000080"/><stop offset=".1" stop-color="#000082"/><stop offset=".16" stop-color="#00008d"/><stop offset=".39" stop-color="#0001ff"/><stop offset=".66" stop-color="#0074ff"/><stop offset=".7" stop-color="#0090ff"/><stop offset=".83" stop-color="#00fcff"/><stop offset="1" stop-color="#31ffce"/></linearGradient><linearGradient id="g396" x2="0" y2="1"><stop offset="0" stop-color="#000080"/><stop offset=".11" stop-color="#000083"/><stop offset=".19" stop-color="#000092"/><stop offset=".25" stop-color="#0000ae"/><stop offset=".4" stop-color="#0000ff"/><stop offset=".66" stop-color="#0086ff"/><stop offset=".71" stop-color="#00acff"/><stop offset=".8" stop-color="#00fcff"/><stop offset=".86" stop-color="#21ffde"/><stop offset="1" stop-color="#45ffba"/></linearGradient><linearGradient id="g397" x2="0" y2="1"><stop offset="0" stop-color="#000080"/><stop offset=".11" stop-color="#000086"/><stop offset=".19" stop-color="#000096"/><stop offset=".25" stop-color="#0000b4"/><stop offset=".36" stop-color="#0003ff"/><stop offset=".65" stop-color="#00a0ff"/><stop offset=".7" stop-color="#00c3ff"/><stop offset=".77" stop-color="#00ffff"/><stop offset=".82" stop-color="#26ffd9"/><stop offset=".85" stop-color="#36ffc9"/><stop offset="1" stop-color="#5cffa3"/></linearGradient><linearGradient id="g398" x2="0" y2="1"><stop offset="0" stop-color="#000080"/><stop offset=".09" stop-color="#000087"/><stop offset=".17" stop-color="#000098"/><stop offset=".23" stop-color="#0000b8"/><stop offset=".31" stop-color="#0000fc"/><stop offset=".32" stop-color="#0007ff"/><stop offset=".39" stop-color="#0036ff"/><stop offset=".65" stop-color="#00caff"/><stop offset=".73" stop-color="#02fffd"/><stop offset=".8" stop-color="#37ffc8"/><stop offset=".84" stop-color="#4fffb0"/><stop offset="1" stop-color="#74ff8b"/></linearGradient><linearGradient id="g399" x2="0" y2="1"><stop offset="0" stop-color="#000081"/><stop offset=".09" stop-color="#00008b"/><stop offset=".16" stop-color="#00009f"/><stop offset=".21" stop-color="#0000bf"/><stop offset=".27" stop-color="#0000fa"/><stop offset=".28" stop-color="#0006ff"/><stop offset=".33" stop-color="#003eff"/><stop offset=".38" stop-color="#0063ff"/><stop offset=".65" stop-color="#00faff"/><stop offset=".67" stop-color="#07fff8"/><stop offset=".79" stop-color="#54ffab"/><stop offset=".84" stop-color="#6eff91"/><stop offset="1" stop-color="#8eff71"/></linearGradient><linearGradient id="g400" x2="0" y2="1"><stop offset="0" stop-color="#000082"/><stop offset=".07" stop-color="#00008c"/><stop offset=".14" stop-color="#0000a2"/><stop offset=".19" stop-color="#0000c6"/><stop offset=".24" stop-color="#0000fc"/><stop offset=".33" stop-color="#0077ff"/><stop offset=".36" stop-color="#0097ff"/><stop offset=".54" stop-color="#00fdff"/><stop offset=".83" stop-color="#8dff72"/><stop offset="1" stop-color="#a8ff57"/></linearGradient><linearGradient id="g401" x2="0" y2="1"><stop offset="0" stop-color="#000084"/><stop offset=".06" stop-color="#00008f"/><stop offset=".11" stop-color="#0000a4"/><stop offset=".17" stop-color="#0000cb"/><stop offset=".21" stop-color="#0000fa"/><stop offset=".23" stop-color="#0018ff"/><stop offset=".31" stop-color="#009bff"/><stop offset=".34" stop-color="#00c6ff"/><stop offset=".38" stop-color="#00e5ff"/><stop offset=".42" stop-color="#00fdff"/><stop offset=".57" stop-color="#4bffb4"/><stop offset=".81" stop-color="#acff53"/><stop offset=".86" stop-color="#b8ff47"/><stop offset="1" stop-color="#c4ff3b"/></linearGradient><linearGradient id="g402" x2="0" y2="1"><stop offset="0" stop-color="#000086"/><stop offset=".05" stop-color="#000091"/><stop offset=".1" stop-color="#0000aa"/><stop offset=".15" stop-color="#0000cd"/><stop offset=".19" stop-color="#0001ff"/><stop offset=".23" stop-color="#0045ff"/><stop offset=".31" stop-color="#00e0ff"/><stop offset=".33" stop-color="#03fffc"/><stop offset=".36" stop-color="#2affd5"/><stop offset=".39" stop-color="#3affc5"/><stop offset=".6" stop-color="#96ff69"/><stop offset=".83" stop-color="#d8ff27"/><stop offset="1" stop-color="#e0ff1f"/></linearGradient><linearGradient id="g403" x2="0" y2="1"><stop offset="0" stop-color="#000089"/><stop offset=".05" stop-color="#000098"/><stop offset=".09" stop-color="#0000b0"/><stop offset=".12" stop-color="#0000cc"/><stop offset=".17" stop-color="#0002ff"/><stop offset=".22" stop-color="#0061ff"/><stop offset=".29" stop-color="#02fffd"/><stop offset=".33" stop-color="#52ffad"/><stop offset=".36" stop-color="#7cff83"/><stop offset=".39" stop-color="#8bff74"/><stop offset=".49" stop-color="#b2ff4d"/><stop offset=".61" stop-color="#d8ff27"/><stop offset=".8" stop-color="#fdff02"/><stop offset="1" stop-color="#feff01"/></linearGradient><linearGradient id="g404" x2="0" y2="1"><stop offset="0" stop-color="#00008c"/><stop offset=".04" stop-color="#00009a"/><stop offset=".08" stop-color="#0000b4"/><stop offset=".11" stop-color="#0000d2"/><stop offset=".15" stop-color="#0000fd"/><stop offset=".17" stop-color="#0021ff"/><stop offset=".2" stop-color="#0061ff"/><stop offset=".26" stop-color="#00fbff"/><stop offset=".27" stop-color="#17ffe8"/><stop offset=".3" stop-color="#63ff9c"/><stop offset=".33" stop-color="#a4ff5b"/><stop offset=".36" stop-color="#cfff30"/><stop offset=".39" stop-color="#deff21"/><stop offset=".51" stop-color="#fffd00"/><stop offset=".62" stop-color="#ffe700"/><stop offset=".79" stop-color="#ffd600"/><stop offset=".86" stop-color="#ffd600"/><stop offset="1" stop-color="#ffe200"/></linearGradient><linearGradient id="g405" x2="0" y2="1"><stop offset="0" stop-color="#00008f"/><stop offset=".04" stop-color="#0000a0"/><stop offset=".07" stop-color="#0000b6"/><stop offset=".1" stop-color="#0000d6"/><stop offset=".14" stop-color="#0004ff"/><stop offset=".16" stop-color="#002aff"/><stop offset=".19" stop-color="#006fff"/><stop offset=".24" stop-color="#00fcff"/><stop offset=".25" stop-color="#1bffe4"/><stop offset=".28" stop-color="#75ff8a"/><stop offset=".31" stop-color="#c6ff39"/><stop offset=".33" stop-color="#f3ff0c"/><stop offset=".34" stop-color="#fff900"/><stop offset=".36" stop-color="#ffde00"/><stop offset=".39" stop-color="#ffd000"/><stop offset=".59" stop-color="#ffaf00"/><stop offset=".81" stop-color="#ffac00"/><stop offset="1" stop-color="#ffc300"/></linearGradient><linearGradient id="g406" x2="0" y2="1"><stop offset="0" stop-color="#000091"/><stop offset=".03" stop-color="#00009f"/><stop offset=".06" stop-color="#0000b5"/><stop offset=".09" stop-color="#0000d6"/><stop offset=".11" stop-color="#0000f3"/><stop offset=".12" stop-color="#0005ff"/><stop offset=".17" stop-color="#005cff"/><stop offset=".19" stop-color="#0091ff"/><stop offset=".22" stop-color="#00edff"/><stop offset=".23" stop-color="#0efff1"/><stop offset=".29" stop-color="#d2ff2d"/><stop offset=".3" stop-color="#f0ff0f"/><stop offset=".31" stop-color="#fff300"/><stop offset=".33" stop-color="#ffc400"/><stop offset=".35" stop-color="#ffa100"/><stop offset=".38" stop-color="#ff8c00"/><stop offset=".4" stop-color="#ff8600"/><stop offset=".55" stop-color="#ff7800"/><stop offset=".67" stop-color="#ff7800"/><stop offset=".82" stop-color="#ff8600"/><stop offset="1" stop-color="#ffa500"/></linearGradient><linearGradient id="g407" x2="0" y2="1"><stop offset="0" stop-color="#000093"/><stop offset=".03" stop-color="#0000a3"/><stop offset=".06" stop-color="#0000bb"/><stop offset=".08" stop-color="#0000d2"/><stop offset=".11" stop-color="#0001ff"/><stop offset=".16" stop-color="#0058ff"/><stop offset=".18" stop-color="#008fff"/><stop offset=".21" stop-color="#00eeff"/><stop offset=".22" stop-color="#11ffee"/><stop offset=".28" stop-color="#e6ff19"/><stop offset=".29" stop-color="#fff600"/><stop offset=".32" stop-color="#ff9f00"/><stop offset=".34" stop-color="#ff7400"/><stop offset=".36" stop-color="#ff5700"/><stop offset=".39" stop-color="#ff4b00"/><stop offset=".54" stop-color="#ff4500"/><stop offset=".66" stop-color="#ff4b00"/><stop offset=".81" stop-color="#ff6100"/><stop offset="1" stop-color="#ff8900"/></linearGradient><linearGradient id="g408" x2="0" y2="1"><stop offset="0" stop-color="#000095"/><stop offset=".05" stop-color="#0000b5"/><stop offset=".08" stop-color="#0000d7"/><stop offset=".1" stop-color="#0000f6"/><stop offset=".11" stop-color="#0009ff"/><stop offset=".14" stop-color="#0033ff"/><stop offset=".16" stop-color="#0066ff"/><stop offset=".2" stop-color="#00e1ff"/><stop offset=".21" stop-color="#05fffa"/><stop offset=".27" stop-color="#e6ff19"/><stop offset=".28" stop-color="#fff400"/><stop offset=".31" stop-color="#ff9200"/><stop offset=".33" stop-color="#ff5e00"/><stop offset=".35" stop-color="#ff3800"/><stop offset=".36" stop-color="#ff2b00"/><stop offset=".39" stop-color="#ff1f00"/><stop offset=".55" stop-color="#ff1f00"/><stop offset=".66" stop-color="#ff2800"/><stop offset=".8" stop-color="#ff4200"/><stop offset="1" stop-color="#ff7100"/></linearGradient><linearGradient id="g409" x2="0" y2="1"><stop offset="0" stop-color="#000095"/><stop offset=".05" stop-color="#0000b7"/><stop offset=".08" stop-color="#0000da"/><stop offset=".1" stop-color="#0000f9"/><stop offset=".11" stop-color="#000dff"/><stop offset=".15" stop-color="#0051ff"/><stop offset=".17" stop-color="#0089ff"/><stop offset=".2" stop-color="#00ebff"/><stop offset=".21" stop-color="#10ffef"/><stop offset=".27" stop-color="#f6ff09"/><stop offset=".28" stop-color="#ffe300"/><stop offset=".31" stop-color="#ff7e00"/><stop offset=".33" stop-color="#ff4900"/><stop offset=".35" stop-color="#ff2200"/><stop offset=".36" stop-color="#ff1500"/><stop offset=".39" stop-color="#ff0900"/><stop offset=".55" stop-color="#ff0a00"/><stop offset=".66" stop-color="#ff1400"/><stop offset=".79" stop-color="#ff2c00"/><stop offset="1" stop-color="#ff5e00"/></linearGradient><linearGradient id="g410" x2="0" y2="1"><stop offset="0" stop-color="#000095"/><stop offset=".05" stop-color="#0000b6"/><stop offset=".08" stop-color="#0000d9"/><stop offset=".1" stop-color="#0000f9"/><stop offset=".11" stop-color="#000cff"/><stop offset=".14" stop-color="#0037ff"/><stop offset=".16" stop-color="#006bff"/><stop offset=".2" stop-color="#00e9ff"/><stop offset=".21" stop-color="#0efff1"/><stop offset=".27" stop-color="#f3ff0c"/><stop offset=".28" stop-color="#ffe600"/><stop offset=".31" stop-color="#ff8300"/><stop offset=".33" stop-color="#ff4e00"/><stop offset=".35" stop-color="#ff2700"/><stop offset=".36" stop-color="#ff1a00"/><stop offset=".39" stop-color="#ff0e00"/><stop offset=".55" stop-color="#ff0f00"/><stop offset=".66" stop-color="#ff1900"/><stop offset=".79" stop-color="#ff3200"/><stop offset="1" stop-color="#ff6500"/></linearGradient><linearGradient id="g411" x2="0" y2="1"><stop offset="0" stop-color="#000094"/><stop offset=".05" stop-color="#0000b4"/><stop offset=".08" stop-color="#0000d6"/><stop offset=".1" stop-color="#0000f4"/><stop offset=".11" stop-color="#0007ff"/><stop offset=".16" stop-color="#0062ff"/><stop offset=".18" stop-color="#009bff"/><stop offset=".21" stop-color="#00feff"/><stop offset=".22" stop-color="#22ffdd"/><stop offset=".28" stop-color="#ffff00"/><stop offset=".31" stop-color="#ff9e00"/><stop offset=".33" stop-color="#ff6b00"/><stop offset=".35" stop-color="#ff4500"/><stop offset=".36" stop-color="#ff3900"/><stop offset=".39" stop-color="#ff2d00"/><stop offset=".55" stop-color="#ff2b00"/><stop offset=".66" stop-color="#ff3400"/><stop offset=".79" stop-color="#ff4b00"/><stop offset="1" stop-color="#ff7b00"/></linearGradient><linearGradient id="g412" x2="0" y2="1"><stop offset="0" stop-color="#000093"/><stop offset=".03" stop-color="#0000a2"/><stop offset=".06" stop-color="#0000b9"/><stop offset=".09" stop-color="#0000dc"/><stop offset=".11" stop-color="#0000fc"/><stop offset=".14" stop-color="#0023ff"/><stop offset=".16" stop-color="#0051ff"/><stop offset=".18" stop-color="#0087ff"/><stop offset=".21" stop-color="#00e3ff"/><stop offset=".22" stop-color="#06fff9"/><stop offset=".29" stop-color="#f6ff09"/><stop offset=".3" stop-color="#ffe900"/><stop offset=".32" stop-color="#ffb300"/><stop offset=".34" stop-color="#ff8800"/><stop offset=".36" stop-color="#ff6b00"/><stop offset=".39" stop-color="#ff5f00"/><stop offset=".54" stop-color="#ff5600"/><stop offset=".66" stop-color="#ff5a00"/><stop offset=".79" stop-color="#ff6d00"/><stop offset="1" stop-color="#ff9700"/></linearGradient><linearGradient id="g413" x2="0" y2="1"><stop offset="0" stop-color="#000090"/><stop offset=".04" stop-color="#0000a3"/><stop offset=".07" stop-color="#0000bb"/><stop offset=".1" stop-color="#0000df"/><stop offset=".12" stop-color="#0000fe"/><stop offset=".15" stop-color="#0025ff"/><stop offset=".18" stop-color="#006bff"/><stop offset=".23" stop-color="#00fdff"/><stop offset=".24" stop-color="#1effe1"/><stop offset=".3" stop-color="#d9ff26"/><stop offset=".31" stop-color="#f4ff0b"/><stop offset=".32" stop-color="#fff200"/><stop offset=".35" stop-color="#ffba00"/><stop offset=".38" stop-color="#ffa500"/><stop offset=".54" stop-color="#ff8d00"/><stop offset=".64" stop-color="#ff8900"/><stop offset=".73" stop-color="#ff8e00"/><stop offset="1" stop-color="#ffb700"/></linearGradient><linearGradient id="g414" x2="0" y2="1"><stop offset="0" stop-color="#00008e"/><stop offset=".04" stop-color="#00009e"/><stop offset=".07" stop-color="#0000b2"/><stop offset=".1" stop-color="#0000d1"/><stop offset=".14" stop-color="#0000fb"/><stop offset=".15" stop-color="#000eff"/><stop offset=".18" stop-color="#004bff"/><stop offset=".21" stop-color="#0095ff"/><stop offset=".24" stop-color="#00e9ff"/><stop offset=".25" stop-color="#07fff8"/><stop offset=".29" stop-color="#79ff86"/><stop offset=".32" stop-color="#c2ff3d"/><stop offset=".34" stop-color="#e9ff16"/><stop offset=".36" stop-color="#fffa00"/><stop offset=".39" stop-color="#ffec00"/><stop offset=".48" stop-color="#ffd700"/><stop offset=".65" stop-color="#ffc000"/><stop offset=".79" stop-color="#ffc100"/><stop offset="1" stop-color="#ffd800"/></linearGradient><linearGradient id="g415" x2="0" y2="1"><stop offset="0" stop-color="#00008b"/><stop offset=".04" stop-color="#000098"/><stop offset=".08" stop-color="#0000b0"/><stop offset=".11" stop-color="#0000cc"/><stop offset=".16" stop-color="#0005ff"/><stop offset=".21" stop-color="#0068ff"/><stop offset=".27" stop-color="#00feff"/><stop offset=".3" stop-color="#48ffb7"/><stop offset=".33" stop-color="#87ff78"/><stop offset=".36" stop-color="#b1ff4e"/><stop offset=".39" stop-color="#c0ff3f"/><stop offset=".53" stop-color="#edff12"/><stop offset=".61" stop-color="#fffe00"/><stop offset=".78" stop-color="#fff000"/><stop offset="1" stop-color="#fffa00"/></linearGradient><linearGradient id="g416" x2="0" y2="1"><stop offset="0" stop-color="#000088"/><stop offset=".05" stop-color="#000095"/><stop offset=".09" stop-color="#0000ab"/><stop offset=".14" stop-color="#0000cf"/><stop offset=".17" stop-color="#0000f6"/><stop offset=".18" stop-color="#0007ff"/><stop offset=".22" stop-color="#0050ff"/><stop offset=".3" stop-color="#00fcff"/><stop offset=".31" stop-color="#11ffee"/><stop offset=".35" stop-color="#53ffac"/><stop offset=".39" stop-color="#6eff91"/><stop offset=".58" stop-color="#b9ff46"/><stop offset=".68" stop-color="#d0ff2f"/><stop offset=".77" stop-color="#ddff22"/><stop offset="1" stop-color="#e1ff1e"/></linearGradient><linearGradient id="g417" x2="0" y2="1"><stop offset="0" stop-color="#000085"/><stop offset=".05" stop-color="#00008f"/><stop offset=".1" stop-color="#0000a6"/><stop offset=".15" stop-color="#0000c5"/><stop offset=".2" stop-color="#0003ff"/><stop offset=".24" stop-color="#0045ff"/><stop offset=".31" stop-color="#00c7ff"/><stop offset=".34" stop-color="#00f5ff"/><stop offset=".35" stop-color="#03fffc"/><stop offset=".39" stop-color="#1effe1"/><stop offset=".48" stop-color="#4bffb4"/><stop offset=".57" stop-color="#74ff8b"/><stop offset=".66" stop-color="#91ff6e"/><stop offset=".81" stop-color="#b1ff4e"/><stop offset="1" stop-color="#beff41"/></linearGradient><linearGradient id="g418" x2="0" y2="1"><stop offset="0" stop-color="#000083"/><stop offset=".07" stop-color="#00008f"/><stop offset=".12" stop-color="#0000a5"/><stop offset=".18" stop-color="#0000cc"/><stop offset=".22" stop-color="#0000fa"/><stop offset=".23" stop-color="#0009ff"/><stop offset=".31" stop-color="#0083ff"/><stop offset=".35" stop-color="#00b8ff"/><stop offset=".39" stop-color="#00d2ff"/><stop offset=".47" stop-color="#00ffff"/><stop offset=".6" stop-color="#42ffbd"/><stop offset=".73" stop-color="#6fff90"/><stop offset=".85" stop-color="#8bff74"/><stop offset="1" stop-color="#9bff64"/></linearGradient><linearGradient id="g419" x2="0" y2="1"><stop offset="0" stop-color="#000082"/><stop offset=".07" stop-color="#00008a"/><stop offset=".14" stop-color="#00009e"/><stop offset=".19" stop-color="#0000be"/><stop offset=".25" stop-color="#0000fb"/><stop offset=".26" stop-color="#0008ff"/><stop offset=".33" stop-color="#0061ff"/><stop offset=".38" stop-color="#0088ff"/><stop offset=".58" stop-color="#00fdff"/><stop offset=".69" stop-color="#2dffd2"/><stop offset=".78" stop-color="#4effb1"/><stop offset=".89" stop-color="#67ff98"/><stop offset="1" stop-color="#79ff86"/></linearGradient><linearGradient id="g420" x2="0" y2="1"><stop offset="0" stop-color="#000081"/><stop offset=".09" stop-color="#000089"/><stop offset=".16" stop-color="#00009b"/><stop offset=".22" stop-color="#0000bf"/><stop offset=".29" stop-color="#0002ff"/><stop offset=".34" stop-color="#0035ff"/><stop offset=".39" stop-color="#0055ff"/><stop offset=".58" stop-color="#00c6ff"/><stop offset=".7" stop-color="#00feff"/><stop offset=".84" stop-color="#35ffca"/><stop offset="1" stop-color="#58ffa7"/></linearGradient><linearGradient id="g421" x2="0" y2="1"><stop offset="0" stop-color="#000080"/><stop offset=".1" stop-color="#000087"/><stop offset=".18" stop-color="#000098"/><stop offset=".25" stop-color="#0000be"/><stop offset=".33" stop-color="#0000ff"/><stop offset=".39" stop-color="#0024ff"/><stop offset=".62" stop-color="#00abff"/><stop offset=".8" stop-color="#00fdff"/><stop offset="1" stop-color="#38ffc7"/></linearGradient><linearGradient id="g422" x2="0" y2="1"><stop offset="0" stop-color="#000080"/><stop offset=".11" stop-color="#000085"/><stop offset=".2" stop-color="#000095"/><stop offset=".26" stop-color="#0000af"/><stop offset=".4" stop-color="#0001ff"/><stop offset=".68" stop-color="#009aff"/><stop offset=".8" stop-color="#00d5ff"/><stop offset=".92" stop-color="#01fffe"/><stop offset="1" stop-color="#19ffe6"/></linearGradient><linearGradient id="g423" x2="0" y2="1"><stop offset="0" stop-color="#000080"/><stop offset=".14" stop-color="#000084"/><stop offset=".22" stop-color="#000092"/><stop offset=".28" stop-color="#0000a8"/><stop offset=".47" stop-color="#0002ff"/><stop offset=".78" stop-color="#00a7ff"/><stop offset=".89" stop-color="#00d3ff"/><stop offset="1" stop-color="#00faff"/></linearGradient><linearGradient id="g424" x2="0" y2="1"><stop offset="0" stop-color="#000080"/><stop offset=".16" stop-color="#000083"/><stop offset=".25" stop-color="#000091"/><stop offset=".42" stop-color="#0000cd"/><stop offset=".53" stop-color="#0002ff"/><stop offset=".81" stop-color="#0093ff"/><stop offset="1" stop-color="#00deff"/></linearGradient><linearGradient id="g425" x2="0" y2="1"><stop offset="0" stop-color="#000080"/><stop offset=".18" stop-color="#000083"/><stop offset=".28" stop-color="#000090"/><stop offset=".45" stop-color="#0000c3"/><stop offset=".58" stop-color="#0000fe"/><stop offset=".83" stop-color="#007eff"/><stop offset="1" stop-color="#00c3ff"/></linearGradient><linearGradient id="g426" x2="0" y2="1"><stop offset="0" stop-color="#000080"/><stop offset=".2" stop-color="#000082"/><stop offset=".31" stop-color="#00008f"/><stop offset=".48" stop-color="#0000bb"/><stop offset=".64" stop-color="#0000fe"/><stop offset=".86" stop-color="#0070ff"/><stop offset="1" stop-color="#00aaff"/></linearGradient><linearGradient id="g427" x2="0" y2="1"><stop offset="0" stop-color="#000080"/><stop offset=".24" stop-color="#000083"/><stop offset=".39" stop-color="#000095"/><stop offset=".53" stop-color="#0000bc"/><stop offset=".69" stop-color="#0000ff"/><stop offset="1" stop-color="#0092ff"/></linearGradient><linearGradient id="g428" x2="0" y2="1"><stop offset="0" stop-color="#000080"/><stop offset=".26" stop-color="#000082"/><stop offset=".42" stop-color="#000093"/><stop offset=".56" stop-color="#0000b8"/><stop offset=".73" stop-color="#0000fd"/><stop offset="1" stop-color="#007bff"/></linearGradient><linearGradient id="g429" x2="0" y2="1"><stop offset="0" stop-color="#000080"/><stop offset=".28" stop-color="#000082"/><stop offset=".45" stop-color="#000091"/><stop offset=".59" stop-color="#0000b4"/><stop offset=".77" stop-color="#0000fc"/><stop offset="1" stop-color="#0066ff"/></linearGradient><linearGradient id="cb430" x1="0" y1="0" x2="0" y2="1"><stop offset="0" stop-color="#800000"/><stop offset="0.06" stop-color="#bf0000"/><stop offset="0.12" stop-color="#ff0000"/><stop offset="0.19" stop-color="#ff4000"/><stop offset="0.25" stop-color="#ff8000"/><stop offset="0.31" stop-color="#ffbf00"/><stop offset="0.38" stop-color="#ffff00"/><stop offset="0.44" stop-color="#bfff40"/><stop offset="0.5" stop-color="#80ff80"/><stop offset="0.56" stop-color="#40ffbf"/><stop offset="0.62" stop-color="#00ffff"/><stop offset="0.69" stop-color="#00bfff"/><stop offset="0.75" stop-color="#0080ff"/><stop offset="0.81" stop-color="#0040ff"/><stop offset="0.88" stop-color="#0000ff"/><stop offset="0.94" stop-color="#0000bf"/><stop offset="1" stop-color="#000080"/></linearGradient></defs>
<rect width="550" height="435" fill="#fff"/>
<g transform="matrix(0.96 0.07 -0.33 0.21 70.8 11.4)"><g clip-path="url(#cp1)">
<rect x="0" y="0" width="3.2" height="100" fill="url(#g2)"/>
<rect x="2" y="0" width="3.2" height="100" fill="url(#g3)"/>
<rect x="4" y="0" width="3.2" height="100" fill="url(#g4)"/>
<rect x="6" y="0" width="3.2" height="100" fill="url(#g5)"/>
<rect x="8" y="0" width="3.2" height="100" fill="url(#g6)"/>
<rect x="10" y="0" width="3.2" height="100" fill="url(#g7)"/>
<rect x="12" y="0" width="3.2" height="100" fill="url(#g8)"/>
<rect x="14" y="0" width="3.2" height="100" fill="url(#g9)"/>
<rect x="16" y="0" width="3.2" height="100" fill="url(#g10)"/>
<rect x="18" y="0" width="3.2" height="100" fill="url(#g11)"/>
<rect x="20" y="0" width="3.2" height="100" fill="url(#g12)"/>
<rect x="22" y="0" width="3.2" height="100" fill="url(#g13)"/>
<rect x="24" y="0" width="3.2" height="100" fill="url(#g14)"/>
<rect x="26" y="0" width="3.2" height="100" fill="url(#g15)"/>
<rect x="28" y="0" width="3.2" height="100" fill="url(#g16)"/>
<rect x="30" y="0" width="3.2" height="100" fill="url(#g17)"/>
<rect x="32" y="0" width="3.2" height="100" fill="url(#g18)"/>
<rect x="34" y="0" width="3.2" height="100" fill="url(#g19)"/>
<rect x="36" y="0" width="3.2" height="100" fill="url(#g20)"/>
<rect x="38" y="0" width="3.2" height="100" fill="url(#g21)"/>
<rect x="40" y="0" width="3.2" height="100" fill="url(#g22)"/>
<rect x="42" y="0" width="3.2" height="100" fill="url(#g23)"/>
<rect x="44" y="0" width="3.2" height="100" fill="url(#g24)"/>
<rect x="46" y="0" width="3.2" height="100" fill="url(#g25)"/>
<rect x="48" y="0" width="3.2" height="100" fill="url(#g26)"/>
<rect x="50" y="0" width="3.2" height="100" fill="url(#g27)"/>
<rect x="52" y="0" width="3.2" height="100" fill="url(#g28)"/>
<rect x="54" y="0" width="3.2" height="100" fill="url(#g29)"/>
<rect x="56" y="0" width="3.2" height="100" fill="url(#g30)"/>
<rect x="58" y="0" width="3.2" height="100" fill="url(#g31)"/>
<rect x="60" y="0" width="3.2" height="100" fill="url(#g32)"/>
<rect x="62" y="0" width="3.2" height="100" fill="url(#g33)"/>
<rect x="64" y="0" width="3.2" height="100" fill="url(#g34)"/>
<rect x="66" y="0" width="3.2" height="100" fill="url(#g35)"/>
<rect x="68" y="0" width="3.2" height="100" fill="url(#g36)"/>
<rect x="70" y="0" width="3.2" height="100" fill="url(#g37)"/>
<rect x="72" y="0" width="3.2" height="100" fill="url(#g38)"/>
<rect x="74" y="0" width="3.2" height="100" fill="url(#g39)"/>
<rect x="76" y="0" width="3.2" height="100" fill="url(#g40)"/>
<rect x="78" y="0" width="3.2" height="100" fill="url(#g41)"/>
<rect x="80" y="0" width="3.2" height="100" fill="url(#g42)"/>
<rect x="82" y="0" width="3.2" height="100" fill="url(#g43)"/>
<rect x="84" y="0" width="3.2" height="100" fill="url(#g44)"/>
<rect x="86" y="0" width="3.2" height="100" fill="url(#g45)"/>
<rect x="88" y="0" width="3.2" height="100" fill="url(#g46)"/>
<rect x="90" y="0" width="3.2" height="100" fill="url(#g47)"/>
<rect x="92" y="0" width="3.2" height="100" fill="url(#g48)"/>
<rect x="94" y="0" width="3.2" height="100" fill="url(#g49)"/>
<rect x="96" y="0" width="3.2" height="100" fill="url(#g50)"/>
<rect x="98" y="0" width="3.2" height="100" fill="url(#g51)"/>
</g></g>
<path d="M33.4 51.7L33.4 125.6" stroke="#a0a0a0" stroke-width="0.45" fill="none"/>
<path d="M33.4 125.6L129.4 133.4" stroke="#a0a0a0" stroke-width="0.45" fill="none"/>
<path d="M44.8 44.8L44.8 118.7" stroke="#a0a0a0" stroke-width="0.45" fill="none"/>
<path d="M44.8 118.7L140.8 126.5" stroke="#a0a0a0" stroke-width="0.45" fill="none"/>
<path d="M56.2 37.9L56.2 111.8" stroke="#a0a0a0" stroke-width="0.45" fill="none"/>
<path d="M56.2 111.8L152.2 119.6" stroke="#a0a0a0" stroke-width="0.45" fill="none"/>
<path d="M38 133.8L72.2 113.1" stroke="#a0a0a0" stroke-width="0.45" fill="none"/>
<path d="M88.2 40.5L88.2 114.4" stroke="#a0a0a0" stroke-width="0.45" fill="none"/>
<path d="M54 135.1L88.2 114.4" stroke="#a0a0a0" stroke-width="0.45" fill="none"/>
<path d="M104.2 41.8L104.2 115.7" stroke="#a0a0a0" stroke-width="0.45" fill="none"/>
<path d="M70 136.4L104.2 115.7" stroke="#a0a0a0" stroke-width="0.45" fill="none"/>
<path d="M86 137.7L120.2 117" stroke="#a0a0a0" stroke-width="0.45" fill="none"/>
<path d="M136.2 44.4L136.2 118.3" stroke="#a0a0a0" stroke-width="0.45" fill="none"/>
<path d="M102 139L136.2 118.3" stroke="#a0a0a0" stroke-width="0.45" fill="none"/>
<path d="M152.2 45.7L152.2 119.6" stroke="#a0a0a0" stroke-width="0.45" fill="none"/>
<path d="M118 140.3L152.2 119.6" stroke="#a0a0a0" stroke-width="0.45" fill="none"/>
<path d="M22 70.01L56.2 49.31" stroke="#a0a0a0" stroke-width="0.45" fill="none"/>
<path d="M56.2 49.31L152.2 57.11" stroke="#a0a0a0" stroke-width="0.45" fill="none"/>
<path d="M22 84.84L56.2 64.14" stroke="#a0a0a0" stroke-width="0.45" fill="none"/>
<path d="M56.2 64.14L152.2 71.94" stroke="#a0a0a0" stroke-width="0.45" fill="none"/>
<path d="M22 99.66L56.2 78.96" stroke="#a0a0a0" stroke-width="0.45" fill="none"/>
<path d="M56.2 78.96L152.2 86.76" stroke="#a0a0a0" stroke-width="0.45" fill="none"/>
<path d="M22 114.49L56.2 93.79" stroke="#a0a0a0" stroke-width="0.45" fill="none"/>
<path d="M56.2 93.79L152.2 101.59" stroke="#a0a0a0" stroke-width="0.45" fill="none"/>
<path d="M22 129.31L56.2 108.61" stroke="#a0a0a0" stroke-width="0.45" fill="none"/>
<path d="M56.2 108.61L152.2 116.41" stroke="#a0a0a0" stroke-width="0.45" fill="none"/>
<path d="M22 58.6L56.2 37.9" stroke="#7a7a7a" stroke-width="0.45" fill="none"/>
<path d="M56.2 37.9L152.2 45.7" stroke="#7a7a7a" stroke-width="0.45" fill="none"/>
<path d="M22 58.6L118 66.4" stroke="#7a7a7a" stroke-width="0.45" fill="none"/>
<path d="M118 66.4L152.2 45.7" stroke="#7a7a7a" stroke-width="0.45" fill="none"/>
<path d="M22 58.6L22 132.5" stroke="#333" stroke-width="0.6" fill="none"/>
<path d="M22 132.5L118 140.3" stroke="#333" stroke-width="0.6" fill="none"/>
<path d="M118 140.3L152.2 119.6" stroke="#333" stroke-width="0.6" fill="none"/>
<path d="M22 132.5L56.2 111.8" stroke="#7a7a7a" stroke-width="0.45" fill="none"/>
<path d="M56.2 111.8L152.2 119.6" stroke="#7a7a7a" stroke-width="0.45" fill="none"/>
<path d="M56.2 37.9L56.2 111.8" stroke="#7a7a7a" stroke-width="0.45" fill="none"/>
<path d="M22 70.01L20.7 70.31" stroke="#333" stroke-width="0.5" fill="none"/>
<path d="M22 84.84L20.7 85.14" stroke="#333" stroke-width="0.5" fill="none"/>
<path d="M22 99.66L20.7 99.96" stroke="#333" stroke-width="0.5" fill="none"/>
<path d="M22 114.49L20.7 114.79" stroke="#333" stroke-width="0.5" fill="none"/>
<path d="M22 129.31L20.7 129.61" stroke="#333" stroke-width="0.5" fill="none"/>
<polygon points="73.9,72.9 80.3,69.3 89.7,69.9 83.3,73.5" fill="#e60808" stroke="#b00" stroke-width="0.3"/>
<polygon points="83.3,73.5 89.7,69.9 89.7,83.8 83.3,87.4" fill="#e60808" stroke="#b00" stroke-width="0.3"/>
<polygon points="73.9,72.9 83.3,73.5 83.3,87.4 73.9,86.9" fill="#fb0a0a" stroke="#b00" stroke-width="0.3"/>
<text x="78.5" y="84" font-size="11" text-anchor="middle" fill="#641414">1</text>
<polygon points="102.7,82.2 106.6,79.6 123.6,81 119.7,83.6" fill="#e60808" stroke="#b00" stroke-width="0.3"/>
<polygon points="119.7,83.6 123.6,81 123.6,110 119.7,112.6" fill="#e60808" stroke="#b00" stroke-width="0.3"/>
<polygon points="102.7,82.2 119.7,83.6 119.7,112.6 102.7,112" fill="#fb0a0a" stroke="#b00" stroke-width="0.3"/>
<text x="110.9" y="102.3" font-size="11.5" text-anchor="middle" fill="#641414">2</text>
<text x="20" y="72.41" font-size="6.65" text-anchor="end" >200</text>
<text x="20" y="87.24" font-size="6.65" text-anchor="end" >400</text>
<text x="20" y="102.06" font-size="6.65" text-anchor="end" >600</text>
<text x="20" y="116.89" font-size="6.65" text-anchor="end" >800</text>
<text x="20" y="131.71" font-size="6.65" text-anchor="end" >1000</text>
<text x="9.4" y="97" font-size="6.65" text-anchor="middle" transform="rotate(-90 9.4 97)" ><tspan font-style="italic">z</tspan> (m)</text>
<text x="36.8" y="140.7" font-size="6.65" text-anchor="middle" >500</text>
<text x="50.9" y="142.2" font-size="6.65" text-anchor="middle" >1000</text>
<text x="66.4" y="143.3" font-size="6.65" text-anchor="middle" >1500</text>
<text x="83.7" y="144.7" font-size="6.65" text-anchor="middle" >2000</text>
<text x="101.6" y="146.1" font-size="6.65" text-anchor="middle" >2500</text>
<text x="118" y="147.5" font-size="6.65" text-anchor="middle" >3000</text>
<text x="61.8" y="148.4" font-size="6.65" text-anchor="middle" >x (m)</text>
<text x="136.2" y="139.4" font-size="6.65" text-anchor="middle" >1000</text>
<text x="149.5" y="132" font-size="6.65" text-anchor="middle" >2000</text>
<text x="160.9" y="125.1" font-size="6.65" text-anchor="middle" >3000</text>
<text x="153.3" y="139.4" font-size="6.65" text-anchor="middle" transform="rotate(-35 153.3 139.4)" >y (m)</text>
<text x="19.5" y="50.6" font-size="8.6" text-anchor="middle" >(a)</text>
<text x="111.5" y="7" font-size="6.65" text-anchor="middle" textLength="73" lengthAdjust="spacingAndGlyphs" >Original magnetic anomaly</text>
<path d="M113 8.6V14" stroke="#2a2a2a" stroke-width="0.7"/>
<rect x="170.4" y="40.7" width="7.9" height="94.6" fill="url(#cb52)"/>
<text x="180.4" y="50.18" font-size="6.65" text-anchor="start" >400</text>
<text x="180.4" y="65.69" font-size="6.65" text-anchor="start" >300</text>
<text x="180.4" y="81.2" font-size="6.65" text-anchor="start" >200</text>
<text x="180.4" y="96.71" font-size="6.65" text-anchor="start" >100</text>
<text x="180.4" y="112.22" font-size="6.65" text-anchor="start" >0</text>
<text x="180.4" y="127.72" font-size="6.65" text-anchor="start" >-100</text>
<text x="195.6" y="88" font-size="6.65" text-anchor="middle" transform="rotate(-90 195.6 88)" >Magnetic anomaly (nT)</text>
<rect x="227.2" y="28.5" width="106.1" height="94.4" fill="#18ffe7"/>
<g clip-path="url(#cp53)">
<rect x="276.71" y="119.75" width="17.98" height="3.45" fill="#28ffd7"/>
<rect x="262.57" y="116.61" width="46.28" height="3.45" fill="#28ffd7"/>
<rect x="255.49" y="113.46" width="60.42" height="3.45" fill="#28ffd7"/>
<rect x="248.42" y="110.31" width="74.57" height="3.45" fill="#28ffd7"/>
<rect x="244.88" y="107.17" width="81.64" height="3.45" fill="#28ffd7"/>
<rect x="244.88" y="104.02" width="28.59" height="3.45" fill="#28ffd7"/>
<rect x="273.18" y="104.02" width="25.06" height="3.45" fill="#38ffc7"/>
<rect x="297.93" y="104.02" width="28.59" height="3.45" fill="#28ffd7"/>
<rect x="241.35" y="100.87" width="28.59" height="3.45" fill="#28ffd7"/>
<rect x="269.64" y="100.87" width="35.67" height="3.45" fill="#38ffc7"/>
<rect x="305.01" y="100.87" width="25.06" height="3.45" fill="#28ffd7"/>
<rect x="241.35" y="97.73" width="25.06" height="3.45" fill="#28ffd7"/>
<rect x="266.1" y="97.73" width="42.74" height="3.45" fill="#38ffc7"/>
<rect x="308.54" y="97.73" width="21.52" height="3.45" fill="#28ffd7"/>
<rect x="241.35" y="94.58" width="25.06" height="3.45" fill="#28ffd7"/>
<rect x="266.1" y="94.58" width="42.74" height="3.45" fill="#38ffc7"/>
<rect x="308.54" y="94.58" width="21.52" height="3.45" fill="#28ffd7"/>
<rect x="241.35" y="91.43" width="25.06" height="3.45" fill="#28ffd7"/>
<rect x="266.1" y="91.43" width="42.74" height="3.45" fill="#38ffc7"/>
<rect x="308.54" y="91.43" width="21.52" height="3.45" fill="#28ffd7"/>
<rect x="248.42" y="88.29" width="21.52" height="3.45" fill="#28ffd7"/>
<rect x="269.64" y="88.29" width="39.2" height="3.45" fill="#38ffc7"/>
<rect x="308.54" y="88.29" width="17.98" height="3.45" fill="#28ffd7"/>
<rect x="255.49" y="85.14" width="10.91" height="3.45" fill="#28ffd7"/>
<rect x="266.1" y="85.14" width="7.37" height="3.45" fill="#38ffc7"/>
<rect x="273.18" y="85.14" width="7.37" height="3.45" fill="#28ffd7"/>
<rect x="280.25" y="85.14" width="14.45" height="3.45" fill="#38ffc7"/>
<rect x="294.4" y="85.14" width="10.91" height="3.45" fill="#48ffb7"/>
<rect x="305.01" y="85.14" width="3.84" height="3.45" fill="#38ffc7"/>
<rect x="308.54" y="85.14" width="10.91" height="3.45" fill="#28ffd7"/>
<rect x="244.88" y="81.99" width="7.37" height="3.45" fill="#08fff7"/>
<rect x="259.03" y="81.99" width="3.84" height="3.45" fill="#28ffd7"/>
<rect x="262.57" y="81.99" width="10.91" height="3.45" fill="#38ffc7"/>
<rect x="273.18" y="81.99" width="14.45" height="3.45" fill="#28ffd7"/>
<rect x="287.32" y="81.99" width="3.84" height="3.45" fill="#38ffc7"/>
<rect x="290.86" y="81.99" width="3.84" height="3.45" fill="#48ffb7"/>
<rect x="294.4" y="81.99" width="10.91" height="3.45" fill="#58ffa7"/>
<rect x="305.01" y="81.99" width="3.84" height="3.45" fill="#48ffb7"/>
<rect x="308.54" y="81.99" width="3.84" height="3.45" fill="#38ffc7"/>
<rect x="312.08" y="81.99" width="3.84" height="3.45" fill="#28ffd7"/>
<rect x="241.35" y="78.85" width="3.84" height="3.45" fill="#08fff7"/>
<rect x="244.88" y="78.85" width="10.91" height="3.45" fill="#00f7ff"/>
<rect x="259.03" y="78.85" width="3.84" height="3.45" fill="#38ffc7"/>
<rect x="262.57" y="78.85" width="7.37" height="3.45" fill="#48ffb7"/>
<rect x="269.64" y="78.85" width="3.84" height="3.45" fill="#38ffc7"/>
<rect x="283.79" y="78.85" width="3.84" height="3.45" fill="#28ffd7"/>
<rect x="287.32" y="78.85" width="3.84" height="3.45" fill="#38ffc7"/>
<rect x="290.86" y="78.85" width="3.84" height="3.45" fill="#58ffa7"/>
<rect x="294.4" y="78.85" width="3.84" height="3.45" fill="#78ff87"/>
<rect x="297.93" y="78.85" width="3.84" height="3.45" fill="#87ff78"/>
<rect x="301.47" y="78.85" width="3.84" height="3.45" fill="#78ff87"/>
<rect x="305.01" y="78.85" width="3.84" height="3.45" fill="#58ffa7"/>
<rect x="308.54" y="78.85" width="3.84" height="3.45" fill="#38ffc7"/>
<rect x="315.62" y="78.85" width="3.84" height="3.45" fill="#08fff7"/>
<rect x="319.15" y="78.85" width="3.84" height="3.45" fill="#00f7ff"/>
<rect x="322.69" y="78.85" width="7.37" height="3.45" fill="#08fff7"/>
<rect x="241.35" y="75.7" width="3.84" height="3.45" fill="#08fff7"/>
<rect x="244.88" y="75.7" width="3.84" height="3.45" fill="#00e7ff"/>
<rect x="248.42" y="75.7" width="3.84" height="3.45" fill="#00d7ff"/>
<rect x="251.96" y="75.7" width="3.84" height="3.45" fill="#00e7ff"/>
<rect x="259.03" y="75.7" width="3.84" height="3.45" fill="#48ffb7"/>
<rect x="262.57" y="75.7" width="3.84" height="3.45" fill="#78ff87"/>
<rect x="266.1" y="75.7" width="3.84" height="3.45" fill="#87ff78"/>
<rect x="269.64" y="75.7" width="3.84" height="3.45" fill="#48ffb7"/>
<rect x="273.18" y="75.7" width="3.84" height="3.45" fill="#08fff7"/>
<rect x="276.71" y="75.7" width="3.84" height="3.45" fill="#00e7ff"/>
<rect x="280.25" y="75.7" width="3.84" height="3.45" fill="#00f7ff"/>
<rect x="287.32" y="75.7" width="3.84" height="3.45" fill="#38ffc7"/>
<rect x="290.86" y="75.7" width="3.84" height="3.45" fill="#78ff87"/>
<rect x="294.4" y="75.7" width="3.84" height="3.45" fill="#a7ff58"/>
<rect x="297.93" y="75.7" width="3.84" height="3.45" fill="#d7ff28"/>
<rect x="301.47" y="75.7" width="3.84" height="3.45" fill="#b7ff48"/>
<rect x="305.01" y="75.7" width="3.84" height="3.45" fill="#78ff87"/>
<rect x="308.54" y="75.7" width="3.84" height="3.45" fill="#38ffc7"/>
<rect x="312.08" y="75.7" width="3.84" height="3.45" fill="#08fff7"/>
<rect x="315.62" y="75.7" width="3.84" height="3.45" fill="#00e7ff"/>
<rect x="319.15" y="75.7" width="3.84" height="3.45" fill="#00d7ff"/>
<rect x="322.69" y="75.7" width="3.84" height="3.45" fill="#00e7ff"/>
<rect x="326.23" y="75.7" width="3.84" height="3.45" fill="#00f7ff"/>
<rect x="329.76" y="75.7" width="3.84" height="3.45" fill="#08fff7"/>
<rect x="241.35" y="72.55" width="3.84" height="3.45" fill="#00f7ff"/>
<rect x="244.88" y="72.55" width="3.84" height="3.45" fill="#00c7ff"/>
<rect x="248.42" y="72.55" width="3.84" height="3.45" fill="#00a7ff"/>
<rect x="251.96" y="72.55" width="3.84" height="3.45" fill="#00c7ff"/>
<rect x="259.03" y="72.55" width="3.84" height="3.45" fill="#87ff78"/>
<rect x="262.57" y="72.55" width="7.37" height="3.45" fill="#e7ff18"/>
<rect x="269.64" y="72.55" width="3.84" height="3.45" fill="#68ff97"/>
<rect x="273.18" y="72.55" width="3.84" height="3.45" fill="#00e7ff"/>
<rect x="276.71" y="72.55" width="3.84" height="3.45" fill="#00a7ff"/>
<rect x="280.25" y="72.55" width="3.84" height="3.45" fill="#00b7ff"/>
<rect x="283.79" y="72.55" width="3.84" height="3.45" fill="#00f7ff"/>
<rect x="287.32" y="72.55" width="3.84" height="3.45" fill="#48ffb7"/>
<rect x="290.86" y="72.55" width="3.84" height="3.45" fill="#97ff68"/>
<rect x="294.4" y="72.55" width="3.84" height="3.45" fill="#f7ff08"/>
<rect x="297.93" y="72.55" width="3.84" height="3.45" fill="#ffc700"/>
<rect x="301.47" y="72.55" width="3.84" height="3.45" fill="#fff700"/>
<rect x="305.01" y="72.55" width="3.84" height="3.45" fill="#97ff68"/>
<rect x="308.54" y="72.55" width="3.84" height="3.45" fill="#28ffd7"/>
<rect x="312.08" y="72.55" width="3.84" height="3.45" fill="#00e7ff"/>
<rect x="315.62" y="72.55" width="7.37" height="3.45" fill="#00b7ff"/>
<rect x="322.69" y="72.55" width="3.84" height="3.45" fill="#00c7ff"/>
<rect x="326.23" y="72.55" width="3.84" height="3.45" fill="#00d7ff"/>
<rect x="329.76" y="72.55" width="3.84" height="3.45" fill="#00f7ff"/>
<rect x="237.81" y="69.41" width="3.84" height="3.45" fill="#08fff7"/>
<rect x="241.35" y="69.41" width="3.84" height="3.45" fill="#00e7ff"/>
<rect x="244.88" y="69.41" width="3.84" height="3.45" fill="#00b7ff"/>
<rect x="248.42" y="69.41" width="3.84" height="3.45" fill="#0097ff"/>
<rect x="251.96" y="69.41" width="3.84" height="3.45" fill="#00b7ff"/>
<rect x="255.49" y="69.41" width="3.84" height="3.45" fill="#28ffd7"/>
<rect x="259.03" y="69.41" width="3.84" height="3.45" fill="#e7ff18"/>
<rect x="262.57" y="69.41" width="3.84" height="3.45" fill="#ff7800"/>
<rect x="266.1" y="69.41" width="3.84" height="3.45" fill="#ff9700"/>
<rect x="269.64" y="69.41" width="3.84" height="3.45" fill="#97ff68"/>
<rect x="273.18" y="69.41" width="3.84" height="3.45" fill="#00b7ff"/>
<rect x="276.71" y="69.41" width="3.84" height="3.45" fill="#0048ff"/>
<rect x="280.25" y="69.41" width="3.84" height="3.45" fill="#0068ff"/>
<rect x="283.79" y="69.41" width="3.84" height="3.45" fill="#00d7ff"/>
<rect x="287.32" y="69.41" width="3.84" height="3.45" fill="#48ffb7"/>
<rect x="290.86" y="69.41" width="3.84" height="3.45" fill="#c7ff38"/>
<rect x="294.4" y="69.41" width="3.84" height="3.45" fill="#ffa700"/>
<rect x="297.93" y="69.41" width="3.84" height="3.45" fill="#ff6800"/>
<rect x="301.47" y="69.41" width="3.84" height="3.45" fill="#ffb700"/>
<rect x="305.01" y="69.41" width="3.84" height="3.45" fill="#a7ff58"/>
<rect x="308.54" y="69.41" width="3.84" height="3.45" fill="#28ffd7"/>
<rect x="312.08" y="69.41" width="3.84" height="3.45" fill="#00c7ff"/>
<rect x="315.62" y="69.41" width="3.84" height="3.45" fill="#0087ff"/>
<rect x="319.15" y="69.41" width="3.84" height="3.45" fill="#0078ff"/>
<rect x="322.69" y="69.41" width="3.84" height="3.45" fill="#0097ff"/>
<rect x="326.23" y="69.41" width="3.84" height="3.45" fill="#00c7ff"/>
<rect x="329.76" y="69.41" width="3.84" height="3.45" fill="#00e7ff"/>
<rect x="237.81" y="66.26" width="3.84" height="3.45" fill="#08fff7"/>
<rect x="241.35" y="66.26" width="3.84" height="3.45" fill="#00e7ff"/>
<rect x="244.88" y="66.26" width="3.84" height="3.45" fill="#00a7ff"/>
<rect x="248.42" y="66.26" width="3.84" height="3.45" fill="#0087ff"/>
<rect x="251.96" y="66.26" width="3.84" height="3.45" fill="#00c7ff"/>
<rect x="255.49" y="66.26" width="3.84" height="3.45" fill="#58ffa7"/>
<rect x="259.03" y="66.26" width="3.84" height="3.45" fill="#ffa700"/>
<rect x="262.57" y="66.26" width="3.84" height="3.45" fill="#d70000"/>
<rect x="266.1" y="66.26" width="3.84" height="3.45" fill="#ff1800"/>
<rect x="269.64" y="66.26" width="3.84" height="3.45" fill="#a7ff58"/>
<rect x="273.18" y="66.26" width="3.84" height="3.45" fill="#0078ff"/>
<rect x="276.71" y="66.26" width="3.84" height="3.45" fill="#0000e7"/>
<rect x="280.25" y="66.26" width="3.84" height="3.45" fill="#0018ff"/>
<rect x="283.79" y="66.26" width="3.84" height="3.45" fill="#00b7ff"/>
<rect x="287.32" y="66.26" width="3.84" height="3.45" fill="#48ffb7"/>
<rect x="290.86" y="66.26" width="3.84" height="3.45" fill="#e7ff18"/>
<rect x="294.4" y="66.26" width="3.84" height="3.45" fill="#ff6800"/>
<rect x="297.93" y="66.26" width="3.84" height="3.45" fill="#ff2800"/>
<rect x="301.47" y="66.26" width="3.84" height="3.45" fill="#ff8700"/>
<rect x="305.01" y="66.26" width="3.84" height="3.45" fill="#b7ff48"/>
<rect x="312.08" y="66.26" width="3.84" height="3.45" fill="#0097ff"/>
<rect x="315.62" y="66.26" width="3.84" height="3.45" fill="#0058ff"/>
<rect x="319.15" y="66.26" width="3.84" height="3.45" fill="#0048ff"/>
<rect x="322.69" y="66.26" width="3.84" height="3.45" fill="#0068ff"/>
<rect x="326.23" y="66.26" width="3.84" height="3.45" fill="#00a7ff"/>
<rect x="329.76" y="66.26" width="3.84" height="3.45" fill="#00d7ff"/>
<rect x="237.81" y="63.11" width="3.84" height="3.45" fill="#08fff7"/>
<rect x="241.35" y="63.11" width="3.84" height="3.45" fill="#00e7ff"/>
<rect x="244.88" y="63.11" width="3.84" height="3.45" fill="#00b7ff"/>
<rect x="248.42" y="63.11" width="3.84" height="3.45" fill="#0097ff"/>
<rect x="251.96" y="63.11" width="3.84" height="3.45" fill="#00d7ff"/>
<rect x="255.49" y="63.11" width="3.84" height="3.45" fill="#78ff87"/>
<rect x="259.03" y="63.11" width="3.84" height="3.45" fill="#ff5800"/>
<rect x="262.57" y="63.11" width="3.84" height="3.45" fill="#870000"/>
<rect x="266.1" y="63.11" width="3.84" height="3.45" fill="#d70000"/>
<rect x="269.64" y="63.11" width="3.84" height="3.45" fill="#a7ff58"/>
<rect x="273.18" y="63.11" width="3.84" height="3.45" fill="#0048ff"/>
<rect x="276.71" y="63.11" width="3.84" height="3.45" fill="#0000a7"/>
<rect x="280.25" y="63.11" width="3.84" height="3.45" fill="#0000f7"/>
<rect x="283.79" y="63.11" width="3.84" height="3.45" fill="#00a7ff"/>
<rect x="287.32" y="63.11" width="3.84" height="3.45" fill="#48ffb7"/>
<rect x="290.86" y="63.11" width="3.84" height="3.45" fill="#f7ff08"/>
<rect x="294.4" y="63.11" width="3.84" height="3.45" fill="#ff5800"/>
<rect x="297.93" y="63.11" width="3.84" height="3.45" fill="#ff1800"/>
<rect x="301.47" y="63.11" width="3.84" height="3.45" fill="#ff8700"/>
<rect x="305.01" y="63.11" width="3.84" height="3.45" fill="#b7ff48"/>
<rect x="308.54" y="63.11" width="3.84" height="3.45" fill="#08fff7"/>
<rect x="312.08" y="63.11" width="3.84" height="3.45" fill="#0087ff"/>
<rect x="315.62" y="63.11" width="3.84" height="3.45" fill="#0038ff"/>
<rect x="319.15" y="63.11" width="3.84" height="3.45" fill="#0018ff"/>
<rect x="322.69" y="63.11" width="3.84" height="3.45" fill="#0048ff"/>
<rect x="326.23" y="63.11" width="3.84" height="3.45" fill="#0087ff"/>
<rect x="329.76" y="63.11" width="3.84" height="3.45" fill="#00d7ff"/>
<rect x="241.35" y="59.97" width="3.84" height="3.45" fill="#00f7ff"/>
<rect x="244.88" y="59.97" width="3.84" height="3.45" fill="#00c7ff"/>
<rect x="248.42" y="59.97" width="3.84" height="3.45" fill="#00b7ff"/>
<rect x="251.96" y="59.97" width="3.84" height="3.45" fill="#00e7ff"/>
<rect x="255.49" y="59.97" width="3.84" height="3.45" fill="#97ff68"/>
<rect x="259.03" y="59.97" width="3.84" height="3.45" fill="#ff4800"/>
<rect x="262.57" y="59.97" width="3.84" height="3.45" fill="#870000"/>
<rect x="266.1" y="59.97" width="3.84" height="3.45" fill="#ff0800"/>
<rect x="269.64" y="59.97" width="3.84" height="3.45" fill="#87ff78"/>
<rect x="273.18" y="59.97" width="3.84" height="3.45" fill="#0038ff"/>
<rect x="276.71" y="59.97" width="3.84" height="3.45" fill="#0000a7"/>
<rect x="280.25" y="59.97" width="3.84" height="3.45" fill="#0000f7"/>
<rect x="283.79" y="59.97" width="3.84" height="3.45" fill="#00a7ff"/>
<rect x="287.32" y="59.97" width="3.84" height="3.45" fill="#48ffb7"/>
<rect x="290.86" y="59.97" width="3.84" height="3.45" fill="#e7ff18"/>
<rect x="294.4" y="59.97" width="3.84" height="3.45" fill="#ff7800"/>
<rect x="297.93" y="59.97" width="3.84" height="3.45" fill="#ff4800"/>
<rect x="301.47" y="59.97" width="3.84" height="3.45" fill="#ffb700"/>
<rect x="305.01" y="59.97" width="3.84" height="3.45" fill="#97ff68"/>
<rect x="308.54" y="59.97" width="3.84" height="3.45" fill="#00f7ff"/>
<rect x="312.08" y="59.97" width="3.84" height="3.45" fill="#0078ff"/>
<rect x="315.62" y="59.97" width="3.84" height="3.45" fill="#0028ff"/>
<rect x="319.15" y="59.97" width="3.84" height="3.45" fill="#0008ff"/>
<rect x="322.69" y="59.97" width="3.84" height="3.45" fill="#0038ff"/>
<rect x="326.23" y="59.97" width="3.84" height="3.45" fill="#0087ff"/>
<rect x="329.76" y="59.97" width="3.84" height="3.45" fill="#00c7ff"/>
<rect x="241.35" y="56.82" width="3.84" height="3.45" fill="#08fff7"/>
<rect x="244.88" y="56.82" width="3.84" height="3.45" fill="#00e7ff"/>
<rect x="248.42" y="56.82" width="3.84" height="3.45" fill="#00d7ff"/>
<rect x="251.96" y="56.82" width="3.84" height="3.45" fill="#08fff7"/>
<rect x="255.49" y="56.82" width="3.84" height="3.45" fill="#97ff68"/>
<rect x="259.03" y="56.82" width="3.84" height="3.45" fill="#ff7800"/>
<rect x="262.57" y="56.82" width="3.84" height="3.45" fill="#e70000"/>
<rect x="266.1" y="56.82" width="3.84" height="3.45" fill="#ff7800"/>
<rect x="269.64" y="56.82" width="3.84" height="3.45" fill="#58ffa7"/>
<rect x="273.18" y="56.82" width="3.84" height="3.45" fill="#0058ff"/>
<rect x="276.71" y="56.82" width="3.84" height="3.45" fill="#0000e7"/>
<rect x="280.25" y="56.82" width="3.84" height="3.45" fill="#0028ff"/>
<rect x="283.79" y="56.82" width="3.84" height="3.45" fill="#00c7ff"/>
<rect x="287.32" y="56.82" width="3.84" height="3.45" fill="#48ffb7"/>
<rect x="290.86" y="56.82" width="3.84" height="3.45" fill="#c7ff38"/>
<rect x="294.4" y="56.82" width="3.84" height="3.45" fill="#ffc700"/>
<rect x="297.93" y="56.82" width="3.84" height="3.45" fill="#ffa700"/>
<rect x="301.47" y="56.82" width="3.84" height="3.45" fill="#f7ff08"/>
<rect x="305.01" y="56.82" width="3.84" height="3.45" fill="#68ff97"/>
<rect x="308.54" y="56.82" width="3.84" height="3.45" fill="#00e7ff"/>
<rect x="312.08" y="56.82" width="3.84" height="3.45" fill="#0078ff"/>
<rect x="315.62" y="56.82" width="3.84" height="3.45" fill="#0038ff"/>
<rect x="319.15" y="56.82" width="3.84" height="3.45" fill="#0018ff"/>
<rect x="322.69" y="56.82" width="3.84" height="3.45" fill="#0048ff"/>
<rect x="326.23" y="56.82" width="3.84" height="3.45" fill="#0087ff"/>
<rect x="329.76" y="56.82" width="3.84" height="3.45" fill="#00d7ff"/>
<rect x="241.35" y="53.67" width="3.84" height="3.45" fill="#08fff7"/>
<rect x="244.88" y="53.67" width="7.37" height="3.45" fill="#00f7ff"/>
<rect x="255.49" y="53.67" width="3.84" height="3.45" fill="#78ff87"/>
<rect x="259.03" y="53.67" width="3.84" height="3.45" fill="#ffe700"/>
<rect x="262.57" y="53.67" width="3.84" height="3.45" fill="#ff8700"/>
<rect x="266.1" y="53.67" width="3.84" height="3.45" fill="#fff700"/>
<rect x="269.64" y="53.67" width="3.84" height="3.45" fill="#38ffc7"/>
<rect x="273.18" y="53.67" width="3.84" height="3.45" fill="#0087ff"/>
<rect x="276.71" y="53.67" width="3.84" height="3.45" fill="#0038ff"/>
<rect x="280.25" y="53.67" width="3.84" height="3.45" fill="#0078ff"/>
<rect x="283.79" y="53.67" width="3.84" height="3.45" fill="#00d7ff"/>
<rect x="287.32" y="53.67" width="3.84" height="3.45" fill="#38ffc7"/>
<rect x="290.86" y="53.67" width="3.84" height="3.45" fill="#97ff68"/>
<rect x="294.4" y="53.67" width="3.84" height="3.45" fill="#e7ff18"/>
<rect x="297.93" y="53.67" width="3.84" height="3.45" fill="#f7ff08"/>
<rect x="301.47" y="53.67" width="3.84" height="3.45" fill="#a7ff58"/>
<rect x="305.01" y="53.67" width="3.84" height="3.45" fill="#48ffb7"/>
<rect x="308.54" y="53.67" width="3.84" height="3.45" fill="#00e7ff"/>
<rect x="312.08" y="53.67" width="3.84" height="3.45" fill="#0097ff"/>
<rect x="315.62" y="53.67" width="3.84" height="3.45" fill="#0058ff"/>
<rect x="319.15" y="53.67" width="3.84" height="3.45" fill="#0048ff"/>
<rect x="322.69" y="53.67" width="3.84" height="3.45" fill="#0068ff"/>
<rect x="326.23" y="53.67" width="3.84" height="3.45" fill="#00a7ff"/>
<rect x="329.76" y="53.67" width="3.84" height="3.45" fill="#00d7ff"/>
<rect x="244.88" y="50.53" width="7.37" height="3.45" fill="#08fff7"/>
<rect x="255.49" y="50.53" width="3.84" height="3.45" fill="#58ffa7"/>
<rect x="259.03" y="50.53" width="3.84" height="3.45" fill="#a7ff58"/>
<rect x="262.57" y="50.53" width="3.84" height="3.45" fill="#d7ff28"/>
<rect x="266.1" y="50.53" width="3.84" height="3.45" fill="#97ff68"/>
<rect x="273.18" y="50.53" width="3.84" height="3.45" fill="#00b7ff"/>
<rect x="276.71" y="50.53" width="3.84" height="3.45" fill="#0097ff"/>
<rect x="280.25" y="50.53" width="3.84" height="3.45" fill="#00b7ff"/>
<rect x="283.79" y="50.53" width="3.84" height="3.45" fill="#00f7ff"/>
<rect x="287.32" y="50.53" width="3.84" height="3.45" fill="#38ffc7"/>
<rect x="290.86" y="50.53" width="3.84" height="3.45" fill="#68ff97"/>
<rect x="294.4" y="50.53" width="7.37" height="3.45" fill="#97ff68"/>
<rect x="301.47" y="50.53" width="3.84" height="3.45" fill="#68ff97"/>
<rect x="305.01" y="50.53" width="3.84" height="3.45" fill="#38ffc7"/>
<rect x="308.54" y="50.53" width="3.84" height="3.45" fill="#00f7ff"/>
<rect x="312.08" y="50.53" width="3.84" height="3.45" fill="#00b7ff"/>
<rect x="315.62" y="50.53" width="7.37" height="3.45" fill="#0087ff"/>
<rect x="322.69" y="50.53" width="3.84" height="3.45" fill="#0097ff"/>
<rect x="326.23" y="50.53" width="3.84" height="3.45" fill="#00c7ff"/>
<rect x="329.76" y="50.53" width="3.84" height="3.45" fill="#00e7ff"/>
<rect x="255.49" y="47.38" width="3.84" height="3.45" fill="#38ffc7"/>
<rect x="259.03" y="47.38" width="7.37" height="3.45" fill="#68ff97"/>
<rect x="266.1" y="47.38" width="3.84" height="3.45" fill="#48ffb7"/>
<rect x="273.18" y="47.38" width="3.84" height="3.45" fill="#00e7ff"/>
<rect x="276.71" y="47.38" width="3.84" height="3.45" fill="#00d7ff"/>
<rect x="280.25" y="47.38" width="3.84" height="3.45" fill="#00e7ff"/>
<rect x="283.79" y="47.38" width="3.84" height="3.45" fill="#08fff7"/>
<rect x="287.32" y="47.38" width="3.84" height="3.45" fill="#28ffd7"/>
<rect x="290.86" y="47.38" width="3.84" height="3.45" fill="#48ffb7"/>
<rect x="294.4" y="47.38" width="7.37" height="3.45" fill="#58ffa7"/>
<rect x="301.47" y="47.38" width="3.84" height="3.45" fill="#48ffb7"/>
<rect x="305.01" y="47.38" width="3.84" height="3.45" fill="#28ffd7"/>
<rect x="308.54" y="47.38" width="3.84" height="3.45" fill="#00f7ff"/>
<rect x="312.08" y="47.38" width="3.84" height="3.45" fill="#00d7ff"/>
<rect x="315.62" y="47.38" width="7.37" height="3.45" fill="#00b7ff"/>
<rect x="322.69" y="47.38" width="3.84" height="3.45" fill="#00c7ff"/>
<rect x="326.23" y="47.38" width="3.84" height="3.45" fill="#00e7ff"/>
<rect x="329.76" y="47.38" width="3.84" height="3.45" fill="#00f7ff"/>
<rect x="255.49" y="44.23" width="3.84" height="3.45" fill="#28ffd7"/>
<rect x="259.03" y="44.23" width="7.37" height="3.45" fill="#38ffc7"/>
<rect x="266.1" y="44.23" width="3.84" height="3.45" fill="#28ffd7"/>
<rect x="273.18" y="44.23" width="3.84" height="3.45" fill="#08fff7"/>
<rect x="276.71" y="44.23" width="3.84" height="3.45" fill="#00f7ff"/>
<rect x="280.25" y="44.23" width="3.84" height="3.45" fill="#08fff7"/>
<rect x="287.32" y="44.23" width="7.37" height="3.45" fill="#28ffd7"/>
<rect x="294.4" y="44.23" width="7.37" height="3.45" fill="#38ffc7"/>
<rect x="301.47" y="44.23" width="3.84" height="3.45" fill="#28ffd7"/>
<rect x="308.54" y="44.23" width="3.84" height="3.45" fill="#08fff7"/>
<rect x="312.08" y="44.23" width="3.84" height="3.45" fill="#00f7ff"/>
<rect x="315.62" y="44.23" width="10.91" height="3.45" fill="#00e7ff"/>
<rect x="326.23" y="44.23" width="3.84" height="3.45" fill="#00f7ff"/>
<rect x="329.76" y="44.23" width="3.84" height="3.45" fill="#08fff7"/>
<rect x="259.03" y="41.09" width="7.37" height="3.45" fill="#28ffd7"/>
<rect x="290.86" y="41.09" width="14.45" height="3.45" fill="#28ffd7"/>
<rect x="312.08" y="41.09" width="3.84" height="3.45" fill="#08fff7"/>
<rect x="315.62" y="41.09" width="7.37" height="3.45" fill="#00f7ff"/>
<rect x="322.69" y="41.09" width="7.37" height="3.45" fill="#08fff7"/>
<rect x="294.4" y="37.94" width="7.37" height="3.45" fill="#28ffd7"/>
<rect x="315.62" y="37.94" width="10.91" height="3.45" fill="#08fff7"/>
</g>
<text x="243.11" y="128.79" font-size="6.65" text-anchor="middle" >500</text>
<text x="260.8" y="128.79" font-size="6.65" text-anchor="middle" >1000</text>
<text x="278.48" y="128.79" font-size="6.65" text-anchor="middle" >1500</text>
<text x="296.16" y="128.79" font-size="6.65" text-anchor="middle" >2000</text>
<text x="313.85" y="128.79" font-size="6.65" text-anchor="middle" >2500</text>
<text x="330.82" y="128.79" font-size="6.65" text-anchor="middle" >3000</text>
<text x="226.6" y="110.93" font-size="6.65" text-anchor="end" >500</text>
<text x="226.6" y="95.2" font-size="6.65" text-anchor="end" >1000</text>
<text x="226.6" y="79.47" font-size="6.65" text-anchor="end" >1500</text>
<text x="226.6" y="63.73" font-size="6.65" text-anchor="end" >2000</text>
<text x="226.6" y="48" font-size="6.65" text-anchor="end" >2500</text>
<text x="226.6" y="32.27" font-size="6.65" text-anchor="end" >3000</text>
<text x="281.75" y="134.7" font-size="6.65" text-anchor="middle" >x (m)</text>
<text x="212.1" y="74.2" font-size="6.65" text-anchor="middle" transform="rotate(-90 212.1 74.2)" >y (m)</text>
<text x="278.5" y="15.6" font-size="6.65" text-anchor="middle" textLength="72.5" lengthAdjust="spacingAndGlyphs" >Magnetic gradient anomaly</text>
<text x="280.1" y="21.7" font-size="6.65" text-anchor="middle" textLength="48.5" lengthAdjust="spacingAndGlyphs" >in the <tspan font-style="italic">x</tspan> <tspan font-size="5">−</tspan>direction</text>
<path d="M278.7 23.5V28.5" stroke="#2a2a2a" stroke-width="0.7"/>
<text x="220.7" y="23.8" font-size="8.6" text-anchor="middle" >(b)</text>
<rect x="343.4" y="28.9" width="7.7" height="93.1" fill="url(#cb54)"/>
<text x="352.4" y="32.46" font-size="6.65" text-anchor="start" >2</text>
<text x="352.4" y="46.07" font-size="6.65" text-anchor="start" >1.5</text>
<text x="352.4" y="59.68" font-size="6.65" text-anchor="start" >1</text>
<text x="352.4" y="73.29" font-size="6.65" text-anchor="start" >0.5</text>
<text x="352.4" y="86.9" font-size="6.65" text-anchor="start" >0</text>
<text x="352.4" y="100.51" font-size="6.65" text-anchor="start" >-0.5</text>
<text x="352.4" y="114.12" font-size="6.65" text-anchor="start" >-1</text>
<text x="369" y="75.45" font-size="6.65" text-anchor="middle" transform="rotate(-90 369 75.45)" >Magnetic gradient anomaly (nT/m)</text>
<rect x="404.4" y="29" width="105.3" height="94.3" fill="#48ffb7"/>
<g clip-path="url(#cp55)">
<rect x="404.4" y="120.16" width="21.36" height="3.44" fill="#58ffa7"/>
<rect x="488.64" y="120.16" width="21.36" height="3.44" fill="#58ffa7"/>
<rect x="404.4" y="117.01" width="17.85" height="3.44" fill="#58ffa7"/>
<rect x="443.01" y="117.01" width="28.38" height="3.44" fill="#38ffc7"/>
<rect x="492.15" y="117.01" width="17.85" height="3.44" fill="#58ffa7"/>
<rect x="404.4" y="113.87" width="14.34" height="3.44" fill="#58ffa7"/>
<rect x="435.99" y="113.87" width="42.42" height="3.44" fill="#38ffc7"/>
<rect x="495.66" y="113.87" width="14.34" height="3.44" fill="#58ffa7"/>
<rect x="404.4" y="110.73" width="10.83" height="3.44" fill="#58ffa7"/>
<rect x="432.48" y="110.73" width="21.36" height="3.44" fill="#38ffc7"/>
<rect x="453.54" y="110.73" width="7.32" height="3.44" fill="#28ffd7"/>
<rect x="460.56" y="110.73" width="21.36" height="3.44" fill="#38ffc7"/>
<rect x="499.17" y="110.73" width="10.83" height="3.44" fill="#58ffa7"/>
<rect x="404.4" y="107.58" width="10.83" height="3.44" fill="#58ffa7"/>
<rect x="428.97" y="107.58" width="14.34" height="3.44" fill="#38ffc7"/>
<rect x="443.01" y="107.58" width="28.38" height="3.44" fill="#28ffd7"/>
<rect x="471.09" y="107.58" width="14.34" height="3.44" fill="#38ffc7"/>
<rect x="499.17" y="107.58" width="10.83" height="3.44" fill="#58ffa7"/>
<rect x="404.4" y="104.44" width="7.32" height="3.44" fill="#58ffa7"/>
<rect x="425.46" y="104.44" width="14.34" height="3.44" fill="#38ffc7"/>
<rect x="439.5" y="104.44" width="35.4" height="3.44" fill="#28ffd7"/>
<rect x="474.6" y="104.44" width="14.34" height="3.44" fill="#38ffc7"/>
<rect x="502.68" y="104.44" width="7.32" height="3.44" fill="#58ffa7"/>
<rect x="404.4" y="101.3" width="7.32" height="3.44" fill="#58ffa7"/>
<rect x="425.46" y="101.3" width="10.83" height="3.44" fill="#38ffc7"/>
<rect x="435.99" y="101.3" width="42.42" height="3.44" fill="#28ffd7"/>
<rect x="478.11" y="101.3" width="10.83" height="3.44" fill="#38ffc7"/>
<rect x="502.68" y="101.3" width="7.32" height="3.44" fill="#58ffa7"/>
<rect x="404.4" y="98.15" width="7.32" height="3.44" fill="#58ffa7"/>
<rect x="425.46" y="98.15" width="10.83" height="3.44" fill="#38ffc7"/>
<rect x="435.99" y="98.15" width="42.42" height="3.44" fill="#28ffd7"/>
<rect x="478.11" y="98.15" width="10.83" height="3.44" fill="#38ffc7"/>
<rect x="502.68" y="98.15" width="7.32" height="3.44" fill="#58ffa7"/>
<rect x="404.4" y="95.01" width="7.32" height="3.44" fill="#58ffa7"/>
<rect x="425.46" y="95.01" width="7.32" height="3.44" fill="#38ffc7"/>
<rect x="432.48" y="95.01" width="45.93" height="3.44" fill="#28ffd7"/>
<rect x="478.11" y="95.01" width="10.83" height="3.44" fill="#38ffc7"/>
<rect x="502.68" y="95.01" width="7.32" height="3.44" fill="#58ffa7"/>
<rect x="404.4" y="91.87" width="7.32" height="3.44" fill="#58ffa7"/>
<rect x="425.46" y="91.87" width="7.32" height="3.44" fill="#38ffc7"/>
<rect x="432.48" y="91.87" width="3.81" height="3.44" fill="#28ffd7"/>
<rect x="435.99" y="91.87" width="7.32" height="3.44" fill="#18ffe7"/>
<rect x="443.01" y="91.87" width="31.89" height="3.44" fill="#28ffd7"/>
<rect x="474.6" y="91.87" width="14.34" height="3.44" fill="#38ffc7"/>
<rect x="499.17" y="91.87" width="10.83" height="3.44" fill="#58ffa7"/>
<rect x="404.4" y="88.72" width="7.32" height="3.44" fill="#58ffa7"/>
<rect x="425.46" y="88.72" width="3.81" height="3.44" fill="#38ffc7"/>
<rect x="428.97" y="88.72" width="3.81" height="3.44" fill="#28ffd7"/>
<rect x="432.48" y="88.72" width="7.32" height="3.44" fill="#08fff7"/>
<rect x="439.5" y="88.72" width="7.32" height="3.44" fill="#18ffe7"/>
<rect x="446.52" y="88.72" width="28.38" height="3.44" fill="#28ffd7"/>
<rect x="474.6" y="88.72" width="10.83" height="3.44" fill="#38ffc7"/>
<rect x="495.66" y="88.72" width="14.34" height="3.44" fill="#58ffa7"/>
<rect x="404.4" y="85.58" width="10.83" height="3.44" fill="#58ffa7"/>
<rect x="421.95" y="85.58" width="3.81" height="3.44" fill="#38ffc7"/>
<rect x="425.46" y="85.58" width="3.81" height="3.44" fill="#28ffd7"/>
<rect x="428.97" y="85.58" width="3.81" height="3.44" fill="#08fff7"/>
<rect x="432.48" y="85.58" width="7.32" height="3.44" fill="#00e7ff"/>
<rect x="439.5" y="85.58" width="3.81" height="3.44" fill="#00f7ff"/>
<rect x="443.01" y="85.58" width="3.81" height="3.44" fill="#18ffe7"/>
<rect x="446.52" y="85.58" width="21.36" height="3.44" fill="#28ffd7"/>
<rect x="467.58" y="85.58" width="10.83" height="3.44" fill="#38ffc7"/>
<rect x="485.13" y="85.58" width="14.34" height="3.44" fill="#58ffa7"/>
<rect x="499.17" y="85.58" width="10.83" height="3.44" fill="#68ff97"/>
<rect x="404.4" y="82.44" width="10.83" height="3.44" fill="#58ffa7"/>
<rect x="421.95" y="82.44" width="3.81" height="3.44" fill="#38ffc7"/>
<rect x="425.46" y="82.44" width="3.81" height="3.44" fill="#18ffe7"/>
<rect x="428.97" y="82.44" width="3.81" height="3.44" fill="#00e7ff"/>
<rect x="432.48" y="82.44" width="3.81" height="3.44" fill="#00b7ff"/>
<rect x="435.99" y="82.44" width="3.81" height="3.44" fill="#00c7ff"/>
<rect x="439.5" y="82.44" width="3.81" height="3.44" fill="#00f7ff"/>
<rect x="443.01" y="82.44" width="3.81" height="3.44" fill="#18ffe7"/>
<rect x="446.52" y="82.44" width="21.36" height="3.44" fill="#38ffc7"/>
<rect x="474.6" y="82.44" width="3.81" height="3.44" fill="#58ffa7"/>
<rect x="478.11" y="82.44" width="3.81" height="3.44" fill="#68ff97"/>
<rect x="481.62" y="82.44" width="7.32" height="3.44" fill="#78ff87"/>
<rect x="488.64" y="82.44" width="10.83" height="3.44" fill="#87ff78"/>
<rect x="499.17" y="82.44" width="10.83" height="3.44" fill="#78ff87"/>
<rect x="404.4" y="79.29" width="14.34" height="3.44" fill="#58ffa7"/>
<rect x="421.95" y="79.29" width="3.81" height="3.44" fill="#38ffc7"/>
<rect x="425.46" y="79.29" width="3.81" height="3.44" fill="#08fff7"/>
<rect x="428.97" y="79.29" width="3.81" height="3.44" fill="#00c7ff"/>
<rect x="432.48" y="79.29" width="3.81" height="3.44" fill="#00b7ff"/>
<rect x="435.99" y="79.29" width="3.81" height="3.44" fill="#00c7ff"/>
<rect x="439.5" y="79.29" width="3.81" height="3.44" fill="#08fff7"/>
<rect x="446.52" y="79.29" width="3.81" height="3.44" fill="#58ffa7"/>
<rect x="450.03" y="79.29" width="3.81" height="3.44" fill="#68ff97"/>
<rect x="453.54" y="79.29" width="14.34" height="3.44" fill="#58ffa7"/>
<rect x="467.58" y="79.29" width="3.81" height="3.44" fill="#68ff97"/>
<rect x="471.09" y="79.29" width="3.81" height="3.44" fill="#78ff87"/>
<rect x="474.6" y="79.29" width="3.81" height="3.44" fill="#97ff68"/>
<rect x="478.11" y="79.29" width="3.81" height="3.44" fill="#b7ff48"/>
<rect x="481.62" y="79.29" width="3.81" height="3.44" fill="#d7ff28"/>
<rect x="485.13" y="79.29" width="3.81" height="3.44" fill="#e7ff18"/>
<rect x="488.64" y="79.29" width="3.81" height="3.44" fill="#f7ff08"/>
<rect x="492.15" y="79.29" width="3.81" height="3.44" fill="#e7ff18"/>
<rect x="495.66" y="79.29" width="3.81" height="3.44" fill="#c7ff38"/>
<rect x="499.17" y="79.29" width="3.81" height="3.44" fill="#a7ff58"/>
<rect x="502.68" y="79.29" width="3.81" height="3.44" fill="#97ff68"/>
<rect x="506.19" y="79.29" width="3.81" height="3.44" fill="#87ff78"/>
<rect x="404.4" y="76.15" width="14.34" height="3.44" fill="#58ffa7"/>
<rect x="421.95" y="76.15" width="3.81" height="3.44" fill="#38ffc7"/>
<rect x="425.46" y="76.15" width="3.81" height="3.44" fill="#08fff7"/>
<rect x="428.97" y="76.15" width="7.32" height="3.44" fill="#00d7ff"/>
<rect x="435.99" y="76.15" width="3.81" height="3.44" fill="#08fff7"/>
<rect x="439.5" y="76.15" width="3.81" height="3.44" fill="#58ffa7"/>
<rect x="443.01" y="76.15" width="3.81" height="3.44" fill="#a7ff58"/>
<rect x="446.52" y="76.15" width="7.32" height="3.44" fill="#e7ff18"/>
<rect x="453.54" y="76.15" width="3.81" height="3.44" fill="#c7ff38"/>
<rect x="457.05" y="76.15" width="3.81" height="3.44" fill="#97ff68"/>
<rect x="460.56" y="76.15" width="3.81" height="3.44" fill="#87ff78"/>
<rect x="464.07" y="76.15" width="3.81" height="3.44" fill="#97ff68"/>
<rect x="467.58" y="76.15" width="3.81" height="3.44" fill="#a7ff58"/>
<rect x="471.09" y="76.15" width="3.81" height="3.44" fill="#d7ff28"/>
<rect x="474.6" y="76.15" width="3.81" height="3.44" fill="#ffe700"/>
<rect x="478.11" y="76.15" width="3.81" height="3.44" fill="#ffa700"/>
<rect x="481.62" y="76.15" width="3.81" height="3.44" fill="#ff7800"/>
<rect x="485.13" y="76.15" width="7.32" height="3.44" fill="#ff5800"/>
<rect x="492.15" y="76.15" width="3.81" height="3.44" fill="#ff8700"/>
<rect x="495.66" y="76.15" width="3.81" height="3.44" fill="#ffd700"/>
<rect x="499.17" y="76.15" width="3.81" height="3.44" fill="#e7ff18"/>
<rect x="502.68" y="76.15" width="3.81" height="3.44" fill="#b7ff48"/>
<rect x="506.19" y="76.15" width="3.81" height="3.44" fill="#87ff78"/>
<rect x="404.4" y="73.01" width="14.34" height="3.44" fill="#58ffa7"/>
<rect x="421.95" y="73.01" width="3.81" height="3.44" fill="#38ffc7"/>
<rect x="425.46" y="73.01" width="3.81" height="3.44" fill="#28ffd7"/>
<rect x="428.97" y="73.01" width="3.81" height="3.44" fill="#08fff7"/>
<rect x="432.48" y="73.01" width="3.81" height="3.44" fill="#18ffe7"/>
<rect x="435.99" y="73.01" width="3.81" height="3.44" fill="#58ffa7"/>
<rect x="439.5" y="73.01" width="3.81" height="3.44" fill="#d7ff28"/>
<rect x="443.01" y="73.01" width="3.81" height="3.44" fill="#ff9700"/>
<rect x="446.52" y="73.01" width="7.32" height="3.44" fill="#ff2800"/>
<rect x="453.54" y="73.01" width="3.81" height="3.44" fill="#ff7800"/>
<rect x="457.05" y="73.01" width="3.81" height="3.44" fill="#ffe700"/>
<rect x="460.56" y="73.01" width="7.32" height="3.44" fill="#e7ff18"/>
<rect x="467.58" y="73.01" width="3.81" height="3.44" fill="#fff700"/>
<rect x="471.09" y="73.01" width="3.81" height="3.44" fill="#ffb700"/>
<rect x="474.6" y="73.01" width="3.81" height="3.44" fill="#ff6800"/>
<rect x="478.11" y="73.01" width="3.81" height="3.44" fill="#ff0800"/>
<rect x="481.62" y="73.01" width="3.81" height="3.44" fill="#c70000"/>
<rect x="485.13" y="73.01" width="3.81" height="3.44" fill="#a70000"/>
<rect x="488.64" y="73.01" width="3.81" height="3.44" fill="#d70000"/>
<rect x="492.15" y="73.01" width="3.81" height="3.44" fill="#ff3800"/>
<rect x="495.66" y="73.01" width="3.81" height="3.44" fill="#ffa700"/>
<rect x="499.17" y="73.01" width="3.81" height="3.44" fill="#f7ff08"/>
<rect x="502.68" y="73.01" width="3.81" height="3.44" fill="#b7ff48"/>
<rect x="506.19" y="73.01" width="3.81" height="3.44" fill="#87ff78"/>
<rect x="404.4" y="69.86" width="17.85" height="3.44" fill="#58ffa7"/>
<rect x="425.46" y="69.86" width="7.32" height="3.44" fill="#38ffc7"/>
<rect x="432.48" y="69.86" width="3.81" height="3.44" fill="#58ffa7"/>
<rect x="435.99" y="69.86" width="3.81" height="3.44" fill="#a7ff58"/>
<rect x="439.5" y="69.86" width="3.81" height="3.44" fill="#ffc700"/>
<rect x="443.01" y="69.86" width="3.81" height="3.44" fill="#f70000"/>
<rect x="446.52" y="69.86" width="7.32" height="3.44" fill="#870000"/>
<rect x="453.54" y="69.86" width="3.81" height="3.44" fill="#d70000"/>
<rect x="457.05" y="69.86" width="3.81" height="3.44" fill="#ff6800"/>
<rect x="460.56" y="69.86" width="7.32" height="3.44" fill="#ffc700"/>
<rect x="467.58" y="69.86" width="3.81" height="3.44" fill="#ffb700"/>
<rect x="471.09" y="69.86" width="3.81" height="3.44" fill="#ff7800"/>
<rect x="474.6" y="69.86" width="3.81" height="3.44" fill="#ff2800"/>
<rect x="478.11" y="69.86" width="3.81" height="3.44" fill="#e70000"/>
<rect x="481.62" y="69.86" width="7.32" height="3.44" fill="#c70000"/>
<rect x="488.64" y="69.86" width="3.81" height="3.44" fill="#ff0800"/>
<rect x="492.15" y="69.86" width="3.81" height="3.44" fill="#ff7800"/>
<rect x="495.66" y="69.86" width="3.81" height="3.44" fill="#ffd700"/>
<rect x="499.17" y="69.86" width="3.81" height="3.44" fill="#d7ff28"/>
<rect x="502.68" y="69.86" width="3.81" height="3.44" fill="#97ff68"/>
<rect x="506.19" y="69.86" width="3.81" height="3.44" fill="#78ff87"/>
<rect x="404.4" y="66.72" width="24.87" height="3.44" fill="#58ffa7"/>
<rect x="428.97" y="66.72" width="3.81" height="3.44" fill="#68ff97"/>
<rect x="432.48" y="66.72" width="3.81" height="3.44" fill="#87ff78"/>
<rect x="435.99" y="66.72" width="3.81" height="3.44" fill="#c7ff38"/>
<rect x="439.5" y="66.72" width="3.81" height="3.44" fill="#ffb700"/>
<rect x="443.01" y="66.72" width="3.81" height="3.44" fill="#ff0800"/>
<rect x="446.52" y="66.72" width="7.32" height="3.44" fill="#870000"/>
<rect x="453.54" y="66.72" width="3.81" height="3.44" fill="#d70000"/>
<rect x="457.05" y="66.72" width="3.81" height="3.44" fill="#ff5800"/>
<rect x="460.56" y="66.72" width="3.81" height="3.44" fill="#ff9700"/>
<rect x="464.07" y="66.72" width="3.81" height="3.44" fill="#ffb700"/>
<rect x="467.58" y="66.72" width="3.81" height="3.44" fill="#ffa700"/>
<rect x="471.09" y="66.72" width="3.81" height="3.44" fill="#ff9700"/>
<rect x="474.6" y="66.72" width="3.81" height="3.44" fill="#ff8700"/>
<rect x="478.11" y="66.72" width="7.32" height="3.44" fill="#ff7800"/>
<rect x="485.13" y="66.72" width="3.81" height="3.44" fill="#ff9700"/>
<rect x="488.64" y="66.72" width="3.81" height="3.44" fill="#ffc700"/>
<rect x="492.15" y="66.72" width="3.81" height="3.44" fill="#f7ff08"/>
<rect x="495.66" y="66.72" width="3.81" height="3.44" fill="#b7ff48"/>
<rect x="499.17" y="66.72" width="3.81" height="3.44" fill="#97ff68"/>
<rect x="502.68" y="66.72" width="3.81" height="3.44" fill="#78ff87"/>
<rect x="506.19" y="66.72" width="3.81" height="3.44" fill="#68ff97"/>
<rect x="404.4" y="63.58" width="17.85" height="3.44" fill="#68ff97"/>
<rect x="421.95" y="63.58" width="7.32" height="3.44" fill="#78ff87"/>
<rect x="428.97" y="63.58" width="3.81" height="3.44" fill="#87ff78"/>
<rect x="432.48" y="63.58" width="3.81" height="3.44" fill="#a7ff58"/>
<rect x="435.99" y="63.58" width="3.81" height="3.44" fill="#d7ff28"/>
<rect x="439.5" y="63.58" width="3.81" height="3.44" fill="#ffe700"/>
<rect x="443.01" y="63.58" width="3.81" height="3.44" fill="#ff9700"/>
<rect x="446.52" y="63.58" width="3.81" height="3.44" fill="#ff4800"/>
<rect x="450.03" y="63.58" width="3.81" height="3.44" fill="#ff3800"/>
<rect x="453.54" y="63.58" width="3.81" height="3.44" fill="#ff6800"/>
<rect x="457.05" y="63.58" width="3.81" height="3.44" fill="#ff9700"/>
<rect x="460.56" y="63.58" width="3.81" height="3.44" fill="#ffb700"/>
<rect x="464.07" y="63.58" width="3.81" height="3.44" fill="#ffd700"/>
<rect x="467.58" y="63.58" width="3.81" height="3.44" fill="#ffe700"/>
<rect x="471.09" y="63.58" width="3.81" height="3.44" fill="#fff700"/>
<rect x="474.6" y="63.58" width="3.81" height="3.44" fill="#e7ff18"/>
<rect x="478.11" y="63.58" width="3.81" height="3.44" fill="#d7ff28"/>
<rect x="481.62" y="63.58" width="3.81" height="3.44" fill="#b7ff48"/>
<rect x="485.13" y="63.58" width="3.81" height="3.44" fill="#97ff68"/>
<rect x="488.64" y="63.58" width="3.81" height="3.44" fill="#78ff87"/>
<rect x="492.15" y="63.58" width="3.81" height="3.44" fill="#68ff97"/>
<rect x="495.66" y="63.58" width="14.34" height="3.44" fill="#58ffa7"/>
<rect x="404.4" y="60.43" width="14.34" height="3.44" fill="#68ff97"/>
<rect x="418.44" y="60.43" width="3.81" height="3.44" fill="#78ff87"/>
<rect x="421.95" y="60.43" width="3.81" height="3.44" fill="#87ff78"/>
<rect x="425.46" y="60.43" width="3.81" height="3.44" fill="#97ff68"/>
<rect x="428.97" y="60.43" width="3.81" height="3.44" fill="#a7ff58"/>
<rect x="432.48" y="60.43" width="3.81" height="3.44" fill="#b7ff48"/>
<rect x="435.99" y="60.43" width="3.81" height="3.44" fill="#c7ff38"/>
<rect x="439.5" y="60.43" width="14.34" height="3.44" fill="#d7ff28"/>
<rect x="453.54" y="60.43" width="10.83" height="3.44" fill="#f7ff08"/>
<rect x="464.07" y="60.43" width="3.81" height="3.44" fill="#e7ff18"/>
<rect x="467.58" y="60.43" width="3.81" height="3.44" fill="#c7ff38"/>
<rect x="471.09" y="60.43" width="3.81" height="3.44" fill="#97ff68"/>
<rect x="474.6" y="60.43" width="3.81" height="3.44" fill="#68ff97"/>
<rect x="478.11" y="60.43" width="3.81" height="3.44" fill="#28ffd7"/>
<rect x="481.62" y="60.43" width="3.81" height="3.44" fill="#08fff7"/>
<rect x="485.13" y="60.43" width="7.32" height="3.44" fill="#00e7ff"/>
<rect x="492.15" y="60.43" width="3.81" height="3.44" fill="#00f7ff"/>
<rect x="495.66" y="60.43" width="3.81" height="3.44" fill="#18ffe7"/>
<rect x="499.17" y="60.43" width="3.81" height="3.44" fill="#38ffc7"/>
<rect x="506.19" y="60.43" width="3.81" height="3.44" fill="#58ffa7"/>
<rect x="404.4" y="57.29" width="7.32" height="3.44" fill="#68ff97"/>
<rect x="411.42" y="57.29" width="7.32" height="3.44" fill="#78ff87"/>
<rect x="418.44" y="57.29" width="3.81" height="3.44" fill="#87ff78"/>
<rect x="421.95" y="57.29" width="3.81" height="3.44" fill="#97ff68"/>
<rect x="425.46" y="57.29" width="7.32" height="3.44" fill="#a7ff58"/>
<rect x="432.48" y="57.29" width="3.81" height="3.44" fill="#b7ff48"/>
<rect x="435.99" y="57.29" width="3.81" height="3.44" fill="#a7ff58"/>
<rect x="439.5" y="57.29" width="3.81" height="3.44" fill="#78ff87"/>
<rect x="443.01" y="57.29" width="3.81" height="3.44" fill="#28ffd7"/>
<rect x="446.52" y="57.29" width="3.81" height="3.44" fill="#00e7ff"/>
<rect x="450.03" y="57.29" width="3.81" height="3.44" fill="#00f7ff"/>
<rect x="453.54" y="57.29" width="3.81" height="3.44" fill="#38ffc7"/>
<rect x="457.05" y="57.29" width="3.81" height="3.44" fill="#78ff87"/>
<rect x="460.56" y="57.29" width="7.32" height="3.44" fill="#97ff68"/>
<rect x="467.58" y="57.29" width="3.81" height="3.44" fill="#68ff97"/>
<rect x="471.09" y="57.29" width="3.81" height="3.44" fill="#38ffc7"/>
<rect x="474.6" y="57.29" width="3.81" height="3.44" fill="#00e7ff"/>
<rect x="478.11" y="57.29" width="3.81" height="3.44" fill="#00a7ff"/>
<rect x="481.62" y="57.29" width="3.81" height="3.44" fill="#0078ff"/>
<rect x="485.13" y="57.29" width="3.81" height="3.44" fill="#0058ff"/>
<rect x="488.64" y="57.29" width="3.81" height="3.44" fill="#0068ff"/>
<rect x="492.15" y="57.29" width="3.81" height="3.44" fill="#0097ff"/>
<rect x="495.66" y="57.29" width="3.81" height="3.44" fill="#00d7ff"/>
<rect x="499.17" y="57.29" width="3.81" height="3.44" fill="#08fff7"/>
<rect x="502.68" y="57.29" width="3.81" height="3.44" fill="#38ffc7"/>
<rect x="404.4" y="54.15" width="7.32" height="3.44" fill="#68ff97"/>
<rect x="411.42" y="54.15" width="7.32" height="3.44" fill="#78ff87"/>
<rect x="418.44" y="54.15" width="3.81" height="3.44" fill="#87ff78"/>
<rect x="421.95" y="54.15" width="7.32" height="3.44" fill="#97ff68"/>
<rect x="428.97" y="54.15" width="7.32" height="3.44" fill="#a7ff58"/>
<rect x="435.99" y="54.15" width="3.81" height="3.44" fill="#78ff87"/>
<rect x="439.5" y="54.15" width="3.81" height="3.44" fill="#08fff7"/>
<rect x="443.01" y="54.15" width="3.81" height="3.44" fill="#0078ff"/>
<rect x="446.52" y="54.15" width="7.32" height="3.44" fill="#0018ff"/>
<rect x="453.54" y="54.15" width="3.81" height="3.44" fill="#0097ff"/>
<rect x="457.05" y="54.15" width="3.81" height="3.44" fill="#08fff7"/>
<rect x="460.56" y="54.15" width="7.32" height="3.44" fill="#58ffa7"/>
<rect x="467.58" y="54.15" width="3.81" height="3.44" fill="#38ffc7"/>
<rect x="471.09" y="54.15" width="3.81" height="3.44" fill="#00f7ff"/>
<rect x="474.6" y="54.15" width="3.81" height="3.44" fill="#0097ff"/>
<rect x="478.11" y="54.15" width="3.81" height="3.44" fill="#0048ff"/>
<rect x="481.62" y="54.15" width="3.81" height="3.44" fill="#0008ff"/>
<rect x="485.13" y="54.15" width="3.81" height="3.44" fill="#0000e7"/>
<rect x="488.64" y="54.15" width="3.81" height="3.44" fill="#0008ff"/>
<rect x="492.15" y="54.15" width="3.81" height="3.44" fill="#0048ff"/>
<rect x="495.66" y="54.15" width="3.81" height="3.44" fill="#00a7ff"/>
<rect x="499.17" y="54.15" width="3.81" height="3.44" fill="#00e7ff"/>
<rect x="502.68" y="54.15" width="3.81" height="3.44" fill="#28ffd7"/>
<rect x="404.4" y="51" width="3.81" height="3.44" fill="#68ff97"/>
<rect x="407.91" y="51" width="10.83" height="3.44" fill="#78ff87"/>
<rect x="418.44" y="51" width="10.83" height="3.44" fill="#87ff78"/>
<rect x="428.97" y="51" width="3.81" height="3.44" fill="#97ff68"/>
<rect x="432.48" y="51" width="3.81" height="3.44" fill="#87ff78"/>
<rect x="439.5" y="51" width="3.81" height="3.44" fill="#00d7ff"/>
<rect x="443.01" y="51" width="3.81" height="3.44" fill="#0028ff"/>
<rect x="446.52" y="51" width="3.81" height="3.44" fill="#0000b7"/>
<rect x="450.03" y="51" width="3.81" height="3.44" fill="#0000c7"/>
<rect x="453.54" y="51" width="3.81" height="3.44" fill="#0048ff"/>
<rect x="457.05" y="51" width="3.81" height="3.44" fill="#00d7ff"/>
<rect x="460.56" y="51" width="3.81" height="3.44" fill="#28ffd7"/>
<rect x="464.07" y="51" width="3.81" height="3.44" fill="#38ffc7"/>
<rect x="467.58" y="51" width="3.81" height="3.44" fill="#18ffe7"/>
<rect x="471.09" y="51" width="3.81" height="3.44" fill="#00d7ff"/>
<rect x="474.6" y="51" width="3.81" height="3.44" fill="#0078ff"/>
<rect x="478.11" y="51" width="3.81" height="3.44" fill="#0028ff"/>
<rect x="481.62" y="51" width="3.81" height="3.44" fill="#0000e7"/>
<rect x="485.13" y="51" width="3.81" height="3.44" fill="#0000c7"/>
<rect x="488.64" y="51" width="3.81" height="3.44" fill="#0000e7"/>
<rect x="492.15" y="51" width="3.81" height="3.44" fill="#0038ff"/>
<rect x="495.66" y="51" width="3.81" height="3.44" fill="#0087ff"/>
<rect x="499.17" y="51" width="3.81" height="3.44" fill="#00e7ff"/>
<rect x="502.68" y="51" width="3.81" height="3.44" fill="#18ffe7"/>
<rect x="404.4" y="47.86" width="7.32" height="3.44" fill="#68ff97"/>
<rect x="411.42" y="47.86" width="21.36" height="3.44" fill="#78ff87"/>
<rect x="432.48" y="47.86" width="3.81" height="3.44" fill="#68ff97"/>
<rect x="439.5" y="47.86" width="3.81" height="3.44" fill="#00e7ff"/>
<rect x="443.01" y="47.86" width="3.81" height="3.44" fill="#0058ff"/>
<rect x="446.52" y="47.86" width="3.81" height="3.44" fill="#0000f7"/>
<rect x="450.03" y="47.86" width="3.81" height="3.44" fill="#0008ff"/>
<rect x="453.54" y="47.86" width="3.81" height="3.44" fill="#0078ff"/>
<rect x="457.05" y="47.86" width="3.81" height="3.44" fill="#00e7ff"/>
<rect x="460.56" y="47.86" width="3.81" height="3.44" fill="#28ffd7"/>
<rect x="464.07" y="47.86" width="3.81" height="3.44" fill="#38ffc7"/>
<rect x="467.58" y="47.86" width="3.81" height="3.44" fill="#18ffe7"/>
<rect x="471.09" y="47.86" width="3.81" height="3.44" fill="#00e7ff"/>
<rect x="474.6" y="47.86" width="3.81" height="3.44" fill="#0097ff"/>
<rect x="478.11" y="47.86" width="3.81" height="3.44" fill="#0048ff"/>
<rect x="481.62" y="47.86" width="3.81" height="3.44" fill="#0018ff"/>
<rect x="485.13" y="47.86" width="3.81" height="3.44" fill="#0000f7"/>
<rect x="488.64" y="47.86" width="3.81" height="3.44" fill="#0018ff"/>
<rect x="492.15" y="47.86" width="3.81" height="3.44" fill="#0058ff"/>
<rect x="495.66" y="47.86" width="3.81" height="3.44" fill="#00a7ff"/>
<rect x="499.17" y="47.86" width="3.81" height="3.44" fill="#00f7ff"/>
<rect x="502.68" y="47.86" width="3.81" height="3.44" fill="#28ffd7"/>
<rect x="404.4" y="44.72" width="31.89" height="3.44" fill="#68ff97"/>
<rect x="439.5" y="44.72" width="3.81" height="3.44" fill="#18ffe7"/>
<rect x="443.01" y="44.72" width="3.81" height="3.44" fill="#00c7ff"/>
<rect x="446.52" y="44.72" width="7.32" height="3.44" fill="#0097ff"/>
<rect x="453.54" y="44.72" width="3.81" height="3.44" fill="#00d7ff"/>
<rect x="457.05" y="44.72" width="3.81" height="3.44" fill="#18ffe7"/>
<rect x="467.58" y="44.72" width="3.81" height="3.44" fill="#28ffd7"/>
<rect x="471.09" y="44.72" width="3.81" height="3.44" fill="#08fff7"/>
<rect x="474.6" y="44.72" width="3.81" height="3.44" fill="#00d7ff"/>
<rect x="478.11" y="44.72" width="3.81" height="3.44" fill="#0097ff"/>
<rect x="481.62" y="44.72" width="3.81" height="3.44" fill="#0078ff"/>
<rect x="485.13" y="44.72" width="3.81" height="3.44" fill="#0068ff"/>
<rect x="488.64" y="44.72" width="3.81" height="3.44" fill="#0078ff"/>
<rect x="492.15" y="44.72" width="3.81" height="3.44" fill="#00a7ff"/>
<rect x="495.66" y="44.72" width="3.81" height="3.44" fill="#00e7ff"/>
<rect x="499.17" y="44.72" width="3.81" height="3.44" fill="#18ffe7"/>
<rect x="502.68" y="44.72" width="3.81" height="3.44" fill="#38ffc7"/>
<rect x="404.4" y="41.57" width="31.89" height="3.44" fill="#68ff97"/>
<rect x="435.99" y="41.57" width="3.81" height="3.44" fill="#58ffa7"/>
<rect x="443.01" y="41.57" width="3.81" height="3.44" fill="#28ffd7"/>
<rect x="446.52" y="41.57" width="7.32" height="3.44" fill="#18ffe7"/>
<rect x="453.54" y="41.57" width="3.81" height="3.44" fill="#28ffd7"/>
<rect x="460.56" y="41.57" width="7.32" height="3.44" fill="#58ffa7"/>
<rect x="471.09" y="41.57" width="3.81" height="3.44" fill="#38ffc7"/>
<rect x="474.6" y="41.57" width="3.81" height="3.44" fill="#18ffe7"/>
<rect x="478.11" y="41.57" width="3.81" height="3.44" fill="#00f7ff"/>
<rect x="481.62" y="41.57" width="7.32" height="3.44" fill="#00d7ff"/>
<rect x="488.64" y="41.57" width="3.81" height="3.44" fill="#00e7ff"/>
<rect x="492.15" y="41.57" width="3.81" height="3.44" fill="#00f7ff"/>
<rect x="495.66" y="41.57" width="3.81" height="3.44" fill="#18ffe7"/>
<rect x="499.17" y="41.57" width="3.81" height="3.44" fill="#38ffc7"/>
<rect x="506.19" y="41.57" width="3.81" height="3.44" fill="#58ffa7"/>
<rect x="404.4" y="38.43" width="31.89" height="3.44" fill="#68ff97"/>
<rect x="435.99" y="38.43" width="10.83" height="3.44" fill="#58ffa7"/>
<rect x="453.54" y="38.43" width="17.85" height="3.44" fill="#58ffa7"/>
<rect x="474.6" y="38.43" width="7.32" height="3.44" fill="#38ffc7"/>
<rect x="481.62" y="38.43" width="10.83" height="3.44" fill="#28ffd7"/>
<rect x="492.15" y="38.43" width="3.81" height="3.44" fill="#38ffc7"/>
<rect x="502.68" y="38.43" width="7.32" height="3.44" fill="#58ffa7"/>
<rect x="404.4" y="35.29" width="35.4" height="3.44" fill="#68ff97"/>
<rect x="439.5" y="35.29" width="42.42" height="3.44" fill="#58ffa7"/>
<rect x="492.15" y="35.29" width="17.85" height="3.44" fill="#58ffa7"/>
<rect x="404.4" y="32.14" width="66.99" height="3.44" fill="#68ff97"/>
<rect x="471.09" y="32.14" width="31.89" height="3.44" fill="#58ffa7"/>
<rect x="502.68" y="32.14" width="7.32" height="3.44" fill="#68ff97"/>
<rect x="404.4" y="29" width="105.6" height="3.44" fill="#68ff97"/>
</g>
<text x="420.19" y="128.19" font-size="6.65" text-anchor="middle" >500</text>
<text x="437.75" y="128.19" font-size="6.65" text-anchor="middle" >1000</text>
<text x="455.29" y="128.19" font-size="6.65" text-anchor="middle" >1500</text>
<text x="472.84" y="128.19" font-size="6.65" text-anchor="middle" >2000</text>
<text x="490.39" y="128.19" font-size="6.65" text-anchor="middle" >2500</text>
<text x="507.24" y="128.19" font-size="6.65" text-anchor="middle" >3000</text>
<text x="403.8" y="111.35" font-size="6.65" text-anchor="end" >500</text>
<text x="403.8" y="95.63" font-size="6.65" text-anchor="end" >1000</text>
<text x="403.8" y="79.92" font-size="6.65" text-anchor="end" >1500</text>
<text x="403.8" y="64.2" font-size="6.65" text-anchor="end" >2000</text>
<text x="403.8" y="48.48" font-size="6.65" text-anchor="end" >2500</text>
<text x="403.8" y="32.77" font-size="6.65" text-anchor="end" >3000</text>
<text x="458.55" y="134.7" font-size="6.65" text-anchor="middle" >x (m)</text>
<text x="388.1" y="74.65" font-size="6.65" text-anchor="middle" transform="rotate(-90 388.1 74.65)" >y (m)</text>
<text x="455.5" y="15.6" font-size="6.65" text-anchor="middle" textLength="72.5" lengthAdjust="spacingAndGlyphs" >Magnetic gradient anomaly</text>
<text x="457.1" y="21.7" font-size="6.65" text-anchor="middle" textLength="48.5" lengthAdjust="spacingAndGlyphs" >in the <tspan font-style="italic">y</tspan> <tspan font-size="5">−</tspan>direction</text>
<path d="M455.7 23.5V29" stroke="#2a2a2a" stroke-width="0.7"/>
<text x="397.2" y="23.3" font-size="8.6" text-anchor="middle" >(c)</text>
<rect x="520.4" y="28.5" width="7.7" height="93.5" fill="url(#cb56)"/>
<text x="529.4" y="46.28" font-size="6.65" text-anchor="start" >1</text>
<text x="529.4" y="64.83" font-size="6.65" text-anchor="start" >0.5</text>
<text x="529.4" y="83.38" font-size="6.65" text-anchor="start" >0</text>
<text x="529.4" y="101.93" font-size="6.65" text-anchor="start" >-0.5</text>
<text x="529.4" y="120.48" font-size="6.65" text-anchor="start" >-1</text>
<text x="545.9" y="75.25" font-size="6.65" text-anchor="middle" transform="rotate(-90 545.9 75.25)" >Magnetic gradient anomaly (nT/m)</text>
<rect x="44.8" y="174" width="104.3" height="93.9" fill="#00a7ff"/>
<g clip-path="url(#cp57)">
<rect x="65.66" y="249.12" width="17.68" height="3.43" fill="#00b7ff"/>
<rect x="58.71" y="245.99" width="31.59" height="3.43" fill="#00b7ff"/>
<rect x="55.23" y="242.86" width="38.54" height="3.43" fill="#00b7ff"/>
<rect x="55.23" y="239.73" width="38.54" height="3.43" fill="#00b7ff"/>
<rect x="51.75" y="236.6" width="45.5" height="3.43" fill="#00b7ff"/>
<rect x="51.75" y="233.47" width="45.5" height="3.43" fill="#00b7ff"/>
<rect x="138.67" y="233.47" width="10.73" height="3.43" fill="#0097ff"/>
<rect x="48.28" y="230.34" width="24.64" height="3.43" fill="#00b7ff"/>
<rect x="72.61" y="230.34" width="14.21" height="3.43" fill="#00c7ff"/>
<rect x="86.52" y="230.34" width="14.21" height="3.43" fill="#00b7ff"/>
<rect x="107.38" y="230.34" width="14.21" height="3.43" fill="#00b7ff"/>
<rect x="131.72" y="230.34" width="17.68" height="3.43" fill="#0097ff"/>
<rect x="48.28" y="227.21" width="21.16" height="3.43" fill="#00b7ff"/>
<rect x="69.14" y="227.21" width="10.73" height="3.43" fill="#00c7ff"/>
<rect x="79.57" y="227.21" width="7.25" height="3.43" fill="#00d7ff"/>
<rect x="86.52" y="227.21" width="3.78" height="3.43" fill="#00c7ff"/>
<rect x="90" y="227.21" width="17.68" height="3.43" fill="#00b7ff"/>
<rect x="107.38" y="227.21" width="3.78" height="3.43" fill="#00c7ff"/>
<rect x="110.86" y="227.21" width="7.25" height="3.43" fill="#00d7ff"/>
<rect x="117.81" y="227.21" width="3.78" height="3.43" fill="#00c7ff"/>
<rect x="121.29" y="227.21" width="3.78" height="3.43" fill="#00b7ff"/>
<rect x="131.72" y="227.21" width="17.68" height="3.43" fill="#0097ff"/>
<rect x="48.28" y="224.08" width="17.68" height="3.43" fill="#00b7ff"/>
<rect x="65.66" y="224.08" width="7.25" height="3.43" fill="#00c7ff"/>
<rect x="72.61" y="224.08" width="3.78" height="3.43" fill="#00d7ff"/>
<rect x="76.09" y="224.08" width="3.78" height="3.43" fill="#00f7ff"/>
<rect x="79.57" y="224.08" width="7.25" height="3.43" fill="#08fff7"/>
<rect x="86.52" y="224.08" width="3.78" height="3.43" fill="#00e7ff"/>
<rect x="90" y="224.08" width="3.78" height="3.43" fill="#00c7ff"/>
<rect x="93.47" y="224.08" width="10.73" height="3.43" fill="#00b7ff"/>
<rect x="103.9" y="224.08" width="3.78" height="3.43" fill="#00d7ff"/>
<rect x="107.38" y="224.08" width="3.78" height="3.43" fill="#00f7ff"/>
<rect x="110.86" y="224.08" width="7.25" height="3.43" fill="#18ffe7"/>
<rect x="117.81" y="224.08" width="3.78" height="3.43" fill="#08fff7"/>
<rect x="121.29" y="224.08" width="3.78" height="3.43" fill="#00e7ff"/>
<rect x="124.76" y="224.08" width="3.78" height="3.43" fill="#00c7ff"/>
<rect x="131.72" y="224.08" width="17.68" height="3.43" fill="#0097ff"/>
<rect x="48.28" y="220.95" width="17.68" height="3.43" fill="#00b7ff"/>
<rect x="65.66" y="220.95" width="3.78" height="3.43" fill="#00c7ff"/>
<rect x="69.14" y="220.95" width="3.78" height="3.43" fill="#00d7ff"/>
<rect x="72.61" y="220.95" width="3.78" height="3.43" fill="#00f7ff"/>
<rect x="76.09" y="220.95" width="3.78" height="3.43" fill="#48ffb7"/>
<rect x="79.57" y="220.95" width="3.78" height="3.43" fill="#78ff87"/>
<rect x="83.04" y="220.95" width="3.78" height="3.43" fill="#68ff97"/>
<rect x="86.52" y="220.95" width="3.78" height="3.43" fill="#18ffe7"/>
<rect x="90" y="220.95" width="3.78" height="3.43" fill="#00d7ff"/>
<rect x="93.47" y="220.95" width="7.25" height="3.43" fill="#00b7ff"/>
<rect x="100.43" y="220.95" width="3.78" height="3.43" fill="#00c7ff"/>
<rect x="103.9" y="220.95" width="3.78" height="3.43" fill="#00f7ff"/>
<rect x="107.38" y="220.95" width="3.78" height="3.43" fill="#48ffb7"/>
<rect x="110.86" y="220.95" width="3.78" height="3.43" fill="#78ff87"/>
<rect x="114.33" y="220.95" width="3.78" height="3.43" fill="#97ff68"/>
<rect x="117.81" y="220.95" width="3.78" height="3.43" fill="#68ff97"/>
<rect x="121.29" y="220.95" width="3.78" height="3.43" fill="#28ffd7"/>
<rect x="124.76" y="220.95" width="3.78" height="3.43" fill="#00d7ff"/>
<rect x="131.72" y="220.95" width="17.68" height="3.43" fill="#0087ff"/>
<rect x="48.28" y="217.82" width="17.68" height="3.43" fill="#00b7ff"/>
<rect x="65.66" y="217.82" width="3.78" height="3.43" fill="#00c7ff"/>
<rect x="69.14" y="217.82" width="3.78" height="3.43" fill="#00e7ff"/>
<rect x="72.61" y="217.82" width="3.78" height="3.43" fill="#48ffb7"/>
<rect x="76.09" y="217.82" width="3.78" height="3.43" fill="#c7ff38"/>
<rect x="79.57" y="217.82" width="3.78" height="3.43" fill="#ffd700"/>
<rect x="83.04" y="217.82" width="3.78" height="3.43" fill="#f7ff08"/>
<rect x="86.52" y="217.82" width="3.78" height="3.43" fill="#68ff97"/>
<rect x="90" y="217.82" width="3.78" height="3.43" fill="#00e7ff"/>
<rect x="100.43" y="217.82" width="3.78" height="3.43" fill="#00d7ff"/>
<rect x="103.9" y="217.82" width="3.78" height="3.43" fill="#28ffd7"/>
<rect x="107.38" y="217.82" width="3.78" height="3.43" fill="#a7ff58"/>
<rect x="110.86" y="217.82" width="3.78" height="3.43" fill="#fff700"/>
<rect x="114.33" y="217.82" width="3.78" height="3.43" fill="#ffd700"/>
<rect x="117.81" y="217.82" width="3.78" height="3.43" fill="#e7ff18"/>
<rect x="121.29" y="217.82" width="3.78" height="3.43" fill="#78ff87"/>
<rect x="124.76" y="217.82" width="3.78" height="3.43" fill="#00f7ff"/>
<rect x="131.72" y="217.82" width="3.78" height="3.43" fill="#0078ff"/>
<rect x="135.19" y="217.82" width="10.73" height="3.43" fill="#0068ff"/>
<rect x="145.62" y="217.82" width="3.78" height="3.43" fill="#0078ff"/>
<rect x="51.75" y="214.69" width="14.21" height="3.43" fill="#00b7ff"/>
<rect x="65.66" y="214.69" width="3.78" height="3.43" fill="#00c7ff"/>
<rect x="69.14" y="214.69" width="3.78" height="3.43" fill="#08fff7"/>
<rect x="72.61" y="214.69" width="3.78" height="3.43" fill="#a7ff58"/>
<rect x="76.09" y="214.69" width="3.78" height="3.43" fill="#ff7800"/>
<rect x="79.57" y="214.69" width="3.78" height="3.43" fill="#ff0800"/>
<rect x="83.04" y="214.69" width="3.78" height="3.43" fill="#ff7800"/>
<rect x="86.52" y="214.69" width="3.78" height="3.43" fill="#a7ff58"/>
<rect x="90" y="214.69" width="3.78" height="3.43" fill="#00e7ff"/>
<rect x="93.47" y="214.69" width="7.25" height="3.43" fill="#0087ff"/>
<rect x="100.43" y="214.69" width="3.78" height="3.43" fill="#00c7ff"/>
<rect x="103.9" y="214.69" width="3.78" height="3.43" fill="#48ffb7"/>
<rect x="107.38" y="214.69" width="3.78" height="3.43" fill="#e7ff18"/>
<rect x="110.86" y="214.69" width="3.78" height="3.43" fill="#ff8700"/>
<rect x="114.33" y="214.69" width="3.78" height="3.43" fill="#ff6800"/>
<rect x="117.81" y="214.69" width="3.78" height="3.43" fill="#ffb700"/>
<rect x="121.29" y="214.69" width="3.78" height="3.43" fill="#a7ff58"/>
<rect x="124.76" y="214.69" width="3.78" height="3.43" fill="#08fff7"/>
<rect x="128.24" y="214.69" width="3.78" height="3.43" fill="#0097ff"/>
<rect x="131.72" y="214.69" width="3.78" height="3.43" fill="#0058ff"/>
<rect x="135.19" y="214.69" width="3.78" height="3.43" fill="#0038ff"/>
<rect x="138.67" y="214.69" width="3.78" height="3.43" fill="#0048ff"/>
<rect x="142.15" y="214.69" width="3.78" height="3.43" fill="#0058ff"/>
<rect x="145.62" y="214.69" width="3.78" height="3.43" fill="#0068ff"/>
<rect x="51.75" y="211.56" width="14.21" height="3.43" fill="#00b7ff"/>
<rect x="65.66" y="211.56" width="3.78" height="3.43" fill="#00d7ff"/>
<rect x="69.14" y="211.56" width="3.78" height="3.43" fill="#28ffd7"/>
<rect x="72.61" y="211.56" width="3.78" height="3.43" fill="#fff700"/>
<rect x="76.09" y="211.56" width="3.78" height="3.43" fill="#f70000"/>
<rect x="79.57" y="211.56" width="3.78" height="3.43" fill="#870000"/>
<rect x="83.04" y="211.56" width="3.78" height="3.43" fill="#ff2800"/>
<rect x="86.52" y="211.56" width="3.78" height="3.43" fill="#a7ff58"/>
<rect x="90" y="211.56" width="3.78" height="3.43" fill="#00c7ff"/>
<rect x="93.47" y="211.56" width="7.25" height="3.43" fill="#0058ff"/>
<rect x="100.43" y="211.56" width="3.78" height="3.43" fill="#00b7ff"/>
<rect x="103.9" y="211.56" width="3.78" height="3.43" fill="#48ffb7"/>
<rect x="107.38" y="211.56" width="3.78" height="3.43" fill="#f7ff08"/>
<rect x="110.86" y="211.56" width="3.78" height="3.43" fill="#ff7800"/>
<rect x="114.33" y="211.56" width="3.78" height="3.43" fill="#ff5800"/>
<rect x="117.81" y="211.56" width="3.78" height="3.43" fill="#ffb700"/>
<rect x="121.29" y="211.56" width="3.78" height="3.43" fill="#97ff68"/>
<rect x="124.76" y="211.56" width="3.78" height="3.43" fill="#00f7ff"/>
<rect x="128.24" y="211.56" width="3.78" height="3.43" fill="#0078ff"/>
<rect x="131.72" y="211.56" width="3.78" height="3.43" fill="#0028ff"/>
<rect x="135.19" y="211.56" width="3.78" height="3.43" fill="#0008ff"/>
<rect x="138.67" y="211.56" width="3.78" height="3.43" fill="#0018ff"/>
<rect x="142.15" y="211.56" width="3.78" height="3.43" fill="#0038ff"/>
<rect x="145.62" y="211.56" width="3.78" height="3.43" fill="#0058ff"/>
<rect x="55.23" y="208.43" width="10.73" height="3.43" fill="#00b7ff"/>
<rect x="65.66" y="208.43" width="3.78" height="3.43" fill="#00d7ff"/>
<rect x="69.14" y="208.43" width="3.78" height="3.43" fill="#38ffc7"/>
<rect x="72.61" y="208.43" width="3.78" height="3.43" fill="#ffd700"/>
<rect x="76.09" y="208.43" width="3.78" height="3.43" fill="#d70000"/>
<rect x="79.57" y="208.43" width="3.78" height="3.43" fill="#870000"/>
<rect x="83.04" y="208.43" width="3.78" height="3.43" fill="#ff5800"/>
<rect x="86.52" y="208.43" width="3.78" height="3.43" fill="#68ff97"/>
<rect x="90" y="208.43" width="3.78" height="3.43" fill="#0078ff"/>
<rect x="93.47" y="208.43" width="3.78" height="3.43" fill="#0008ff"/>
<rect x="96.95" y="208.43" width="3.78" height="3.43" fill="#0018ff"/>
<rect x="100.43" y="208.43" width="3.78" height="3.43" fill="#0087ff"/>
<rect x="103.9" y="208.43" width="3.78" height="3.43" fill="#28ffd7"/>
<rect x="107.38" y="208.43" width="3.78" height="3.43" fill="#c7ff38"/>
<rect x="110.86" y="208.43" width="3.78" height="3.43" fill="#ffc700"/>
<rect x="114.33" y="208.43" width="3.78" height="3.43" fill="#ffb700"/>
<rect x="117.81" y="208.43" width="3.78" height="3.43" fill="#f7ff08"/>
<rect x="121.29" y="208.43" width="3.78" height="3.43" fill="#58ffa7"/>
<rect x="124.76" y="208.43" width="3.78" height="3.43" fill="#00c7ff"/>
<rect x="128.24" y="208.43" width="3.78" height="3.43" fill="#0048ff"/>
<rect x="131.72" y="208.43" width="3.78" height="3.43" fill="#0000f7"/>
<rect x="135.19" y="208.43" width="3.78" height="3.43" fill="#0000d7"/>
<rect x="138.67" y="208.43" width="3.78" height="3.43" fill="#0000e7"/>
<rect x="142.15" y="208.43" width="3.78" height="3.43" fill="#0018ff"/>
<rect x="145.62" y="208.43" width="3.78" height="3.43" fill="#0048ff"/>
<rect x="55.23" y="205.3" width="10.73" height="3.43" fill="#00b7ff"/>
<rect x="65.66" y="205.3" width="3.78" height="3.43" fill="#00d7ff"/>
<rect x="69.14" y="205.3" width="3.78" height="3.43" fill="#38ffc7"/>
<rect x="72.61" y="205.3" width="3.78" height="3.43" fill="#f7ff08"/>
<rect x="76.09" y="205.3" width="3.78" height="3.43" fill="#ff4800"/>
<rect x="79.57" y="205.3" width="3.78" height="3.43" fill="#ff2800"/>
<rect x="83.04" y="205.3" width="3.78" height="3.43" fill="#ffe700"/>
<rect x="86.52" y="205.3" width="3.78" height="3.43" fill="#00f7ff"/>
<rect x="90" y="205.3" width="3.78" height="3.43" fill="#0018ff"/>
<rect x="93.47" y="205.3" width="3.78" height="3.43" fill="#0000b7"/>
<rect x="96.95" y="205.3" width="3.78" height="3.43" fill="#0000d7"/>
<rect x="100.43" y="205.3" width="3.78" height="3.43" fill="#0058ff"/>
<rect x="103.9" y="205.3" width="3.78" height="3.43" fill="#00e7ff"/>
<rect x="107.38" y="205.3" width="3.78" height="3.43" fill="#68ff97"/>
<rect x="110.86" y="205.3" width="7.25" height="3.43" fill="#b7ff48"/>
<rect x="117.81" y="205.3" width="3.78" height="3.43" fill="#78ff87"/>
<rect x="121.29" y="205.3" width="3.78" height="3.43" fill="#08fff7"/>
<rect x="124.76" y="205.3" width="3.78" height="3.43" fill="#0087ff"/>
<rect x="128.24" y="205.3" width="3.78" height="3.43" fill="#0018ff"/>
<rect x="131.72" y="205.3" width="3.78" height="3.43" fill="#0000d7"/>
<rect x="135.19" y="205.3" width="3.78" height="3.43" fill="#0000b7"/>
<rect x="138.67" y="205.3" width="3.78" height="3.43" fill="#0000d7"/>
<rect x="142.15" y="205.3" width="3.78" height="3.43" fill="#0008ff"/>
<rect x="145.62" y="205.3" width="3.78" height="3.43" fill="#0048ff"/>
<rect x="58.71" y="202.17" width="7.25" height="3.43" fill="#00b7ff"/>
<rect x="65.66" y="202.17" width="3.78" height="3.43" fill="#00c7ff"/>
<rect x="69.14" y="202.17" width="3.78" height="3.43" fill="#08fff7"/>
<rect x="72.61" y="202.17" width="3.78" height="3.43" fill="#87ff78"/>
<rect x="76.09" y="202.17" width="7.25" height="3.43" fill="#fff700"/>
<rect x="83.04" y="202.17" width="3.78" height="3.43" fill="#68ff97"/>
<rect x="86.52" y="202.17" width="3.78" height="3.43" fill="#0087ff"/>
<rect x="90" y="202.17" width="3.78" height="3.43" fill="#0000d7"/>
<rect x="93.47" y="202.17" width="3.78" height="3.43" fill="#000087"/>
<rect x="96.95" y="202.17" width="3.78" height="3.43" fill="#0000b7"/>
<rect x="100.43" y="202.17" width="3.78" height="3.43" fill="#0048ff"/>
<rect x="103.9" y="202.17" width="3.78" height="3.43" fill="#00b7ff"/>
<rect x="107.38" y="202.17" width="3.78" height="3.43" fill="#08fff7"/>
<rect x="110.86" y="202.17" width="7.25" height="3.43" fill="#28ffd7"/>
<rect x="117.81" y="202.17" width="3.78" height="3.43" fill="#00f7ff"/>
<rect x="124.76" y="202.17" width="3.78" height="3.43" fill="#0048ff"/>
<rect x="128.24" y="202.17" width="3.78" height="3.43" fill="#0000f7"/>
<rect x="131.72" y="202.17" width="3.78" height="3.43" fill="#0000c7"/>
<rect x="135.19" y="202.17" width="3.78" height="3.43" fill="#0000b7"/>
<rect x="138.67" y="202.17" width="3.78" height="3.43" fill="#0000c7"/>
<rect x="142.15" y="202.17" width="3.78" height="3.43" fill="#0008ff"/>
<rect x="145.62" y="202.17" width="3.78" height="3.43" fill="#0048ff"/>
<rect x="62.18" y="199.04" width="7.25" height="3.43" fill="#00b7ff"/>
<rect x="69.14" y="199.04" width="3.78" height="3.43" fill="#00e7ff"/>
<rect x="72.61" y="199.04" width="3.78" height="3.43" fill="#28ffd7"/>
<rect x="76.09" y="199.04" width="3.78" height="3.43" fill="#68ff97"/>
<rect x="79.57" y="199.04" width="3.78" height="3.43" fill="#48ffb7"/>
<rect x="83.04" y="199.04" width="3.78" height="3.43" fill="#00e7ff"/>
<rect x="86.52" y="199.04" width="3.78" height="3.43" fill="#0048ff"/>
<rect x="90" y="199.04" width="3.78" height="3.43" fill="#0000a7"/>
<rect x="93.47" y="199.04" width="3.78" height="3.43" fill="#000087"/>
<rect x="96.95" y="199.04" width="3.78" height="3.43" fill="#0000c7"/>
<rect x="100.43" y="199.04" width="3.78" height="3.43" fill="#0038ff"/>
<rect x="103.9" y="199.04" width="3.78" height="3.43" fill="#0097ff"/>
<rect x="107.38" y="199.04" width="3.78" height="3.43" fill="#00c7ff"/>
<rect x="110.86" y="199.04" width="3.78" height="3.43" fill="#00d7ff"/>
<rect x="114.33" y="199.04" width="3.78" height="3.43" fill="#00c7ff"/>
<rect x="121.29" y="199.04" width="3.78" height="3.43" fill="#0078ff"/>
<rect x="124.76" y="199.04" width="3.78" height="3.43" fill="#0038ff"/>
<rect x="128.24" y="199.04" width="3.78" height="3.43" fill="#0000f7"/>
<rect x="131.72" y="199.04" width="7.25" height="3.43" fill="#0000c7"/>
<rect x="138.67" y="199.04" width="3.78" height="3.43" fill="#0000e7"/>
<rect x="142.15" y="199.04" width="3.78" height="3.43" fill="#0018ff"/>
<rect x="145.62" y="199.04" width="3.78" height="3.43" fill="#0048ff"/>
<rect x="65.66" y="195.91" width="3.78" height="3.43" fill="#00b7ff"/>
<rect x="69.14" y="195.91" width="3.78" height="3.43" fill="#00c7ff"/>
<rect x="72.61" y="195.91" width="3.78" height="3.43" fill="#00e7ff"/>
<rect x="76.09" y="195.91" width="3.78" height="3.43" fill="#00f7ff"/>
<rect x="79.57" y="195.91" width="3.78" height="3.43" fill="#00d7ff"/>
<rect x="83.04" y="195.91" width="3.78" height="3.43" fill="#0097ff"/>
<rect x="86.52" y="195.91" width="3.78" height="3.43" fill="#0028ff"/>
<rect x="90" y="195.91" width="3.78" height="3.43" fill="#0000b7"/>
<rect x="93.47" y="195.91" width="3.78" height="3.43" fill="#0000a7"/>
<rect x="96.95" y="195.91" width="3.78" height="3.43" fill="#0000e7"/>
<rect x="100.43" y="195.91" width="3.78" height="3.43" fill="#0048ff"/>
<rect x="103.9" y="195.91" width="3.78" height="3.43" fill="#0087ff"/>
<rect x="107.38" y="195.91" width="3.78" height="3.43" fill="#0097ff"/>
<rect x="114.33" y="195.91" width="3.78" height="3.43" fill="#0097ff"/>
<rect x="117.81" y="195.91" width="3.78" height="3.43" fill="#0087ff"/>
<rect x="121.29" y="195.91" width="3.78" height="3.43" fill="#0068ff"/>
<rect x="124.76" y="195.91" width="3.78" height="3.43" fill="#0038ff"/>
<rect x="128.24" y="195.91" width="3.78" height="3.43" fill="#0008ff"/>
<rect x="131.72" y="195.91" width="7.25" height="3.43" fill="#0000e7"/>
<rect x="138.67" y="195.91" width="3.78" height="3.43" fill="#0008ff"/>
<rect x="142.15" y="195.91" width="3.78" height="3.43" fill="#0038ff"/>
<rect x="145.62" y="195.91" width="3.78" height="3.43" fill="#0058ff"/>
<rect x="69.14" y="192.78" width="10.73" height="3.43" fill="#00b7ff"/>
<rect x="83.04" y="192.78" width="3.78" height="3.43" fill="#0078ff"/>
<rect x="86.52" y="192.78" width="3.78" height="3.43" fill="#0028ff"/>
<rect x="90" y="192.78" width="7.25" height="3.43" fill="#0000e7"/>
<rect x="96.95" y="192.78" width="3.78" height="3.43" fill="#0028ff"/>
<rect x="100.43" y="192.78" width="3.78" height="3.43" fill="#0068ff"/>
<rect x="103.9" y="192.78" width="3.78" height="3.43" fill="#0087ff"/>
<rect x="107.38" y="192.78" width="7.25" height="3.43" fill="#0097ff"/>
<rect x="114.33" y="192.78" width="3.78" height="3.43" fill="#0087ff"/>
<rect x="117.81" y="192.78" width="3.78" height="3.43" fill="#0078ff"/>
<rect x="121.29" y="192.78" width="3.78" height="3.43" fill="#0068ff"/>
<rect x="124.76" y="192.78" width="3.78" height="3.43" fill="#0048ff"/>
<rect x="128.24" y="192.78" width="3.78" height="3.43" fill="#0028ff"/>
<rect x="131.72" y="192.78" width="3.78" height="3.43" fill="#0008ff"/>
<rect x="135.19" y="192.78" width="3.78" height="3.43" fill="#0018ff"/>
<rect x="138.67" y="192.78" width="3.78" height="3.43" fill="#0028ff"/>
<rect x="142.15" y="192.78" width="3.78" height="3.43" fill="#0048ff"/>
<rect x="145.62" y="192.78" width="3.78" height="3.43" fill="#0068ff"/>
<rect x="79.57" y="189.65" width="3.78" height="3.43" fill="#0097ff"/>
<rect x="83.04" y="189.65" width="3.78" height="3.43" fill="#0078ff"/>
<rect x="86.52" y="189.65" width="3.78" height="3.43" fill="#0048ff"/>
<rect x="90" y="189.65" width="7.25" height="3.43" fill="#0028ff"/>
<rect x="96.95" y="189.65" width="3.78" height="3.43" fill="#0058ff"/>
<rect x="100.43" y="189.65" width="3.78" height="3.43" fill="#0078ff"/>
<rect x="103.9" y="189.65" width="14.21" height="3.43" fill="#0087ff"/>
<rect x="117.81" y="189.65" width="3.78" height="3.43" fill="#0078ff"/>
<rect x="121.29" y="189.65" width="3.78" height="3.43" fill="#0068ff"/>
<rect x="124.76" y="189.65" width="3.78" height="3.43" fill="#0058ff"/>
<rect x="128.24" y="189.65" width="3.78" height="3.43" fill="#0048ff"/>
<rect x="131.72" y="189.65" width="7.25" height="3.43" fill="#0038ff"/>
<rect x="138.67" y="189.65" width="3.78" height="3.43" fill="#0058ff"/>
<rect x="142.15" y="189.65" width="3.78" height="3.43" fill="#0068ff"/>
<rect x="145.62" y="189.65" width="3.78" height="3.43" fill="#0078ff"/>
<rect x="79.57" y="186.52" width="3.78" height="3.43" fill="#0097ff"/>
<rect x="83.04" y="186.52" width="3.78" height="3.43" fill="#0087ff"/>
<rect x="86.52" y="186.52" width="3.78" height="3.43" fill="#0068ff"/>
<rect x="90" y="186.52" width="7.25" height="3.43" fill="#0058ff"/>
<rect x="96.95" y="186.52" width="3.78" height="3.43" fill="#0078ff"/>
<rect x="100.43" y="186.52" width="21.16" height="3.43" fill="#0087ff"/>
<rect x="121.29" y="186.52" width="3.78" height="3.43" fill="#0078ff"/>
<rect x="124.76" y="186.52" width="7.25" height="3.43" fill="#0068ff"/>
<rect x="131.72" y="186.52" width="3.78" height="3.43" fill="#0058ff"/>
<rect x="135.19" y="186.52" width="7.25" height="3.43" fill="#0068ff"/>
<rect x="142.15" y="186.52" width="3.78" height="3.43" fill="#0078ff"/>
<rect x="145.62" y="186.52" width="3.78" height="3.43" fill="#0087ff"/>
<rect x="79.57" y="183.39" width="7.25" height="3.43" fill="#0097ff"/>
<rect x="86.52" y="183.39" width="3.78" height="3.43" fill="#0087ff"/>
<rect x="90" y="183.39" width="7.25" height="3.43" fill="#0078ff"/>
<rect x="96.95" y="183.39" width="3.78" height="3.43" fill="#0087ff"/>
<rect x="100.43" y="183.39" width="10.73" height="3.43" fill="#0097ff"/>
<rect x="110.86" y="183.39" width="14.21" height="3.43" fill="#0087ff"/>
<rect x="124.76" y="183.39" width="14.21" height="3.43" fill="#0078ff"/>
<rect x="138.67" y="183.39" width="7.25" height="3.43" fill="#0087ff"/>
<rect x="145.62" y="183.39" width="3.78" height="3.43" fill="#0097ff"/>
<rect x="79.57" y="180.26" width="10.73" height="3.43" fill="#0097ff"/>
<rect x="90" y="180.26" width="3.78" height="3.43" fill="#0087ff"/>
<rect x="93.47" y="180.26" width="24.64" height="3.43" fill="#0097ff"/>
<rect x="117.81" y="180.26" width="24.64" height="3.43" fill="#0087ff"/>
<rect x="142.15" y="180.26" width="7.25" height="3.43" fill="#0097ff"/>
<rect x="83.04" y="177.13" width="66.36" height="3.43" fill="#0097ff"/>
<rect x="83.04" y="174" width="66.36" height="3.43" fill="#0097ff"/>
</g>
<text x="60.45" y="272.49" font-size="6.65" text-anchor="middle" >500</text>
<text x="77.83" y="272.49" font-size="6.65" text-anchor="middle" >1000</text>
<text x="95.21" y="272.49" font-size="6.65" text-anchor="middle" >1500</text>
<text x="112.59" y="272.49" font-size="6.65" text-anchor="middle" >2000</text>
<text x="129.98" y="272.49" font-size="6.65" text-anchor="middle" >2500</text>
<text x="146.67" y="272.49" font-size="6.65" text-anchor="middle" >3000</text>
<text x="44.2" y="256.01" font-size="6.65" text-anchor="end" >500</text>
<text x="44.2" y="240.36" font-size="6.65" text-anchor="end" >1000</text>
<text x="44.2" y="224.71" font-size="6.65" text-anchor="end" >1500</text>
<text x="44.2" y="209.06" font-size="6.65" text-anchor="end" >2000</text>
<text x="44.2" y="193.41" font-size="6.65" text-anchor="end" >2500</text>
<text x="44.2" y="177.76" font-size="6.65" text-anchor="end" >3000</text>
<text x="98.45" y="278.4" font-size="6.65" text-anchor="middle" >x (m)</text>
<text x="29" y="219.45" font-size="6.65" text-anchor="middle" transform="rotate(-90 29 219.45)" >y (m)</text>
<text x="95.3" y="160.7" font-size="6.65" text-anchor="middle" textLength="72.5" lengthAdjust="spacingAndGlyphs" >Magnetic gradient anomaly</text>
<text x="96.9" y="167" font-size="6.65" text-anchor="middle" textLength="48.5" lengthAdjust="spacingAndGlyphs" >in the <tspan font-style="italic">z</tspan> <tspan font-size="5">−</tspan>direction</text>
<path d="M95.5 168.8V174" stroke="#2a2a2a" stroke-width="0.7"/>
<text x="38.6" y="169.9" font-size="8.6" text-anchor="middle" >(d)</text>
<rect x="160.3" y="174.6" width="8.1" height="92.4" fill="url(#cb58)"/>
<text x="169.7" y="177.71" font-size="6.65" text-anchor="start" >3.5</text>
<text x="169.7" y="186.91" font-size="6.65" text-anchor="start" >3</text>
<text x="169.7" y="196.1" font-size="6.65" text-anchor="start" >2.5</text>
<text x="169.7" y="205.29" font-size="6.65" text-anchor="start" >2</text>
<text x="169.7" y="214.48" font-size="6.65" text-anchor="start" >1.5</text>
<text x="169.7" y="223.67" font-size="6.65" text-anchor="start" >1</text>
<text x="169.7" y="232.87" font-size="6.65" text-anchor="start" >0.5</text>
<text x="169.7" y="242.06" font-size="6.65" text-anchor="start" >0</text>
<text x="169.7" y="251.25" font-size="6.65" text-anchor="start" >-0.5</text>
<text x="169.7" y="260.44" font-size="6.65" text-anchor="start" >-1</text>
<text x="185.8" y="220.8" font-size="6.65" text-anchor="middle" transform="rotate(-90 185.8 220.8)" >Magnetic gradient anomaly (nT/m)</text>
<g><g clip-path="url(#cp59)">
<rect x="227.9" y="169.8" width="2.7" height="96.3" fill="url(#g60)"/>
<rect x="229.4" y="169.8" width="2.7" height="96.3" fill="url(#g61)"/>
<rect x="230.91" y="169.8" width="2.7" height="96.3" fill="url(#g62)"/>
<rect x="232.41" y="169.8" width="2.7" height="96.3" fill="url(#g63)"/>
<rect x="233.91" y="169.8" width="2.7" height="96.3" fill="url(#g64)"/>
<rect x="235.41" y="169.8" width="2.7" height="96.3" fill="url(#g65)"/>
<rect x="236.92" y="169.8" width="2.7" height="96.3" fill="url(#g66)"/>
<rect x="238.42" y="169.8" width="2.7" height="96.3" fill="url(#g67)"/>
<rect x="239.92" y="169.8" width="2.7" height="96.3" fill="url(#g68)"/>
<rect x="241.43" y="169.8" width="2.7" height="96.3" fill="url(#g69)"/>
<rect x="242.93" y="169.8" width="2.7" height="96.3" fill="url(#g70)"/>
<rect x="244.43" y="169.8" width="2.7" height="96.3" fill="url(#g71)"/>
<rect x="245.93" y="169.8" width="2.7" height="96.3" fill="url(#g72)"/>
<rect x="247.44" y="169.8" width="2.7" height="96.3" fill="url(#g73)"/>
<rect x="248.94" y="169.8" width="2.7" height="96.3" fill="url(#g74)"/>
<rect x="250.44" y="169.8" width="2.7" height="96.3" fill="url(#g75)"/>
<rect x="251.94" y="169.8" width="2.7" height="96.3" fill="url(#g76)"/>
<rect x="253.45" y="169.8" width="2.7" height="96.3" fill="url(#g77)"/>
<rect x="254.95" y="169.8" width="2.7" height="96.3" fill="url(#g78)"/>
<rect x="256.45" y="169.8" width="2.7" height="96.3" fill="url(#g79)"/>
<rect x="257.96" y="169.8" width="2.7" height="96.3" fill="url(#g80)"/>
<rect x="259.46" y="169.8" width="2.7" height="96.3" fill="url(#g81)"/>
<rect x="260.96" y="169.8" width="2.7" height="96.3" fill="url(#g82)"/>
<rect x="262.46" y="169.8" width="2.7" height="96.3" fill="url(#g83)"/>
<rect x="263.97" y="169.8" width="2.7" height="96.3" fill="url(#g84)"/>
<rect x="265.47" y="169.8" width="2.7" height="96.3" fill="url(#g85)"/>
<rect x="266.97" y="169.8" width="2.7" height="96.3" fill="url(#g86)"/>
<rect x="268.48" y="169.8" width="2.7" height="96.3" fill="url(#g87)"/>
<rect x="269.98" y="169.8" width="2.7" height="96.3" fill="url(#g88)"/>
<rect x="271.48" y="169.8" width="2.7" height="96.3" fill="url(#g89)"/>
<rect x="272.98" y="169.8" width="2.7" height="96.3" fill="url(#g90)"/>
<rect x="274.49" y="169.8" width="2.7" height="96.3" fill="url(#g91)"/>
<rect x="275.99" y="169.8" width="2.7" height="96.3" fill="url(#g92)"/>
<rect x="277.49" y="169.8" width="2.7" height="96.3" fill="url(#g93)"/>
<rect x="278.99" y="169.8" width="2.7" height="96.3" fill="url(#g94)"/>
<rect x="280.5" y="169.8" width="2.7" height="96.3" fill="url(#g95)"/>
<rect x="282" y="169.8" width="2.7" height="96.3" fill="url(#g96)"/>
<rect x="283.5" y="169.8" width="2.7" height="96.3" fill="url(#g97)"/>
<rect x="285.01" y="169.8" width="2.7" height="96.3" fill="url(#g98)"/>
<rect x="286.51" y="169.8" width="2.7" height="96.3" fill="url(#g99)"/>
<rect x="288.01" y="169.8" width="2.7" height="96.3" fill="url(#g100)"/>
<rect x="289.51" y="169.8" width="2.7" height="96.3" fill="url(#g101)"/>
<rect x="291.02" y="169.8" width="2.7" height="96.3" fill="url(#g102)"/>
<rect x="292.52" y="169.8" width="2.7" height="96.3" fill="url(#g103)"/>
<rect x="294.02" y="169.8" width="2.7" height="96.3" fill="url(#g104)"/>
<rect x="295.53" y="169.8" width="2.7" height="96.3" fill="url(#g105)"/>
<rect x="297.03" y="169.8" width="2.7" height="96.3" fill="url(#g106)"/>
<rect x="298.53" y="169.8" width="2.7" height="96.3" fill="url(#g107)"/>
<rect x="300.03" y="169.8" width="2.7" height="96.3" fill="url(#g108)"/>
<rect x="301.54" y="169.8" width="2.7" height="96.3" fill="url(#g109)"/>
<rect x="303.04" y="169.8" width="2.7" height="96.3" fill="url(#g110)"/>
<rect x="304.54" y="169.8" width="2.7" height="96.3" fill="url(#g111)"/>
<rect x="306.04" y="169.8" width="2.7" height="96.3" fill="url(#g112)"/>
<rect x="307.55" y="169.8" width="2.7" height="96.3" fill="url(#g113)"/>
<rect x="309.05" y="169.8" width="2.7" height="96.3" fill="url(#g114)"/>
<rect x="310.55" y="169.8" width="2.7" height="96.3" fill="url(#g115)"/>
<rect x="312.06" y="169.8" width="2.7" height="96.3" fill="url(#g116)"/>
<rect x="313.56" y="169.8" width="2.7" height="96.3" fill="url(#g117)"/>
<rect x="315.06" y="169.8" width="2.7" height="96.3" fill="url(#g118)"/>
<rect x="316.56" y="169.8" width="2.7" height="96.3" fill="url(#g119)"/>
<rect x="318.07" y="169.8" width="2.7" height="96.3" fill="url(#g120)"/>
<rect x="319.57" y="169.8" width="2.7" height="96.3" fill="url(#g121)"/>
<rect x="321.07" y="169.8" width="2.7" height="96.3" fill="url(#g122)"/>
<rect x="322.58" y="169.8" width="2.7" height="96.3" fill="url(#g123)"/>
<rect x="324.08" y="169.8" width="2.7" height="96.3" fill="url(#g124)"/>
<rect x="325.58" y="169.8" width="2.7" height="96.3" fill="url(#g125)"/>
<rect x="327.08" y="169.8" width="2.7" height="96.3" fill="url(#g126)"/>
<rect x="328.59" y="169.8" width="2.7" height="96.3" fill="url(#g127)"/>
<rect x="330.09" y="169.8" width="2.7" height="96.3" fill="url(#g128)"/>
<rect x="331.59" y="169.8" width="2.7" height="96.3" fill="url(#g129)"/>
<rect x="333.09" y="169.8" width="2.7" height="96.3" fill="url(#g130)"/>
<rect x="334.6" y="169.8" width="2.7" height="96.3" fill="url(#g131)"/>
</g></g>
<text x="239.49" y="272.49" font-size="6.65" text-anchor="middle" >500</text>
<text x="258.81" y="272.49" font-size="6.65" text-anchor="middle" >1000</text>
<text x="278.14" y="272.49" font-size="6.65" text-anchor="middle" >1500</text>
<text x="297.46" y="272.49" font-size="6.65" text-anchor="middle" >2000</text>
<text x="316.78" y="272.49" font-size="6.65" text-anchor="middle" >2500</text>
<text x="335.8" y="272.49" font-size="6.65" text-anchor="middle" >3000</text>
<text x="227.3" y="182.69" font-size="6.65" text-anchor="end" >200</text>
<text x="227.3" y="204.09" font-size="6.65" text-anchor="end" >400</text>
<text x="227.3" y="225.49" font-size="6.65" text-anchor="end" >600</text>
<text x="227.3" y="246.89" font-size="6.65" text-anchor="end" >800</text>
<text x="227.3" y="268.69" font-size="6.65" text-anchor="end" >1000</text>
<text x="284" y="278.6" font-size="6.65" text-anchor="middle" >x (m)</text>
<text x="214.8" y="221.2" font-size="6.65" text-anchor="middle" transform="rotate(-90 214.8 221.2)" ><tspan font-style="italic">z</tspan> (m)</text>
<text x="280" y="156" font-size="6.65" text-anchor="middle" textLength="89.4" lengthAdjust="spacingAndGlyphs" >Magnetic anomaly (<tspan font-style="italic" font-weight="bold">d</tspan><tspan font-size="3" dy="1.1" stroke="none">ΔT</tspan><tspan dy="-1.1"></tspan>) inversion</text>
<text x="280" y="162.4" font-size="6.65" text-anchor="middle" textLength="103" lengthAdjust="spacingAndGlyphs" >by the regularization inversion method</text>
<path d="M280.5 165.3V169.8" stroke="#2a2a2a" stroke-width="0.7"/>
<text x="223.3" y="166.6" font-size="8.6" text-anchor="middle" >(e)</text>
<rect x="263.4" y="191.1" width="11.6" height="21.1" rx="1" fill="none" stroke="#1a1a1a" stroke-width="0.95" stroke-dasharray="1.9 1.25"/>
<rect x="295.3" y="202.5" width="19.3" height="43.3" rx="1" fill="none" stroke="#1a1a1a" stroke-width="0.95" stroke-dasharray="1.9 1.25"/>
<rect x="346.7" y="170.3" width="7.7" height="94.8" fill="url(#cb132)"/>
<text x="355.7" y="267.29" font-size="6.65" text-anchor="start" >0</text>
<text x="355.7" y="256.25" font-size="6.65" text-anchor="start" >0.005</text>
<text x="355.7" y="245.2" font-size="6.65" text-anchor="start" >0.010</text>
<text x="355.7" y="234.15" font-size="6.65" text-anchor="start" >0.015</text>
<text x="355.7" y="223.1" font-size="6.65" text-anchor="start" >0.020</text>
<text x="355.7" y="212.05" font-size="6.65" text-anchor="start" >0.025</text>
<text x="355.7" y="201" font-size="6.65" text-anchor="start" >0.030</text>
<text x="355.7" y="189.95" font-size="6.65" text-anchor="start" >0.035</text>
<text x="355.7" y="178.9" font-size="6.65" text-anchor="start" >0.040</text>
<text x="350.8" y="167.7" font-size="6.65" text-anchor="middle" >SI</text>
<g><g clip-path="url(#cp133)">
<rect x="400.2" y="169.8" width="2.71" height="96.3" fill="url(#g134)"/>
<rect x="401.71" y="169.8" width="2.71" height="96.3" fill="url(#g135)"/>
<rect x="403.22" y="169.8" width="2.71" height="96.3" fill="url(#g136)"/>
<rect x="404.72" y="169.8" width="2.71" height="96.3" fill="url(#g137)"/>
<rect x="406.23" y="169.8" width="2.71" height="96.3" fill="url(#g138)"/>
<rect x="407.74" y="169.8" width="2.71" height="96.3" fill="url(#g139)"/>
<rect x="409.25" y="169.8" width="2.71" height="96.3" fill="url(#g140)"/>
<rect x="410.76" y="169.8" width="2.71" height="96.3" fill="url(#g141)"/>
<rect x="412.27" y="169.8" width="2.71" height="96.3" fill="url(#g142)"/>
<rect x="413.77" y="169.8" width="2.71" height="96.3" fill="url(#g143)"/>
<rect x="415.28" y="169.8" width="2.71" height="96.3" fill="url(#g144)"/>
<rect x="416.79" y="169.8" width="2.71" height="96.3" fill="url(#g145)"/>
<rect x="418.3" y="169.8" width="2.71" height="96.3" fill="url(#g146)"/>
<rect x="419.81" y="169.8" width="2.71" height="96.3" fill="url(#g147)"/>
<rect x="421.32" y="169.8" width="2.71" height="96.3" fill="url(#g148)"/>
<rect x="422.82" y="169.8" width="2.71" height="96.3" fill="url(#g149)"/>
<rect x="424.33" y="169.8" width="2.71" height="96.3" fill="url(#g150)"/>
<rect x="425.84" y="169.8" width="2.71" height="96.3" fill="url(#g151)"/>
<rect x="427.35" y="169.8" width="2.71" height="96.3" fill="url(#g152)"/>
<rect x="428.86" y="169.8" width="2.71" height="96.3" fill="url(#g153)"/>
<rect x="430.37" y="169.8" width="2.71" height="96.3" fill="url(#g154)"/>
<rect x="431.88" y="169.8" width="2.71" height="96.3" fill="url(#g155)"/>
<rect x="433.38" y="169.8" width="2.71" height="96.3" fill="url(#g156)"/>
<rect x="434.89" y="169.8" width="2.71" height="96.3" fill="url(#g157)"/>
<rect x="436.4" y="169.8" width="2.71" height="96.3" fill="url(#g158)"/>
<rect x="437.91" y="169.8" width="2.71" height="96.3" fill="url(#g159)"/>
<rect x="439.42" y="169.8" width="2.71" height="96.3" fill="url(#g160)"/>
<rect x="440.93" y="169.8" width="2.71" height="96.3" fill="url(#g161)"/>
<rect x="442.43" y="169.8" width="2.71" height="96.3" fill="url(#g162)"/>
<rect x="443.94" y="169.8" width="2.71" height="96.3" fill="url(#g163)"/>
<rect x="445.45" y="169.8" width="2.71" height="96.3" fill="url(#g164)"/>
<rect x="446.96" y="169.8" width="2.71" height="96.3" fill="url(#g165)"/>
<rect x="448.47" y="169.8" width="2.71" height="96.3" fill="url(#g166)"/>
<rect x="449.98" y="169.8" width="2.71" height="96.3" fill="url(#g167)"/>
<rect x="451.48" y="169.8" width="2.71" height="96.3" fill="url(#g168)"/>
<rect x="452.99" y="169.8" width="2.71" height="96.3" fill="url(#g169)"/>
<rect x="454.5" y="169.8" width="2.71" height="96.3" fill="url(#g170)"/>
<rect x="456.01" y="169.8" width="2.71" height="96.3" fill="url(#g171)"/>
<rect x="457.52" y="169.8" width="2.71" height="96.3" fill="url(#g172)"/>
<rect x="459.02" y="169.8" width="2.71" height="96.3" fill="url(#g173)"/>
<rect x="460.53" y="169.8" width="2.71" height="96.3" fill="url(#g174)"/>
<rect x="462.04" y="169.8" width="2.71" height="96.3" fill="url(#g175)"/>
<rect x="463.55" y="169.8" width="2.71" height="96.3" fill="url(#g176)"/>
<rect x="465.06" y="169.8" width="2.71" height="96.3" fill="url(#g177)"/>
<rect x="466.57" y="169.8" width="2.71" height="96.3" fill="url(#g178)"/>
<rect x="468.07" y="169.8" width="2.71" height="96.3" fill="url(#g179)"/>
<rect x="469.58" y="169.8" width="2.71" height="96.3" fill="url(#g180)"/>
<rect x="471.09" y="169.8" width="2.71" height="96.3" fill="url(#g181)"/>
<rect x="472.6" y="169.8" width="2.71" height="96.3" fill="url(#g182)"/>
<rect x="474.11" y="169.8" width="2.71" height="96.3" fill="url(#g183)"/>
<rect x="475.62" y="169.8" width="2.71" height="96.3" fill="url(#g184)"/>
<rect x="477.12" y="169.8" width="2.71" height="96.3" fill="url(#g185)"/>
<rect x="478.63" y="169.8" width="2.71" height="96.3" fill="url(#g186)"/>
<rect x="480.14" y="169.8" width="2.71" height="96.3" fill="url(#g187)"/>
<rect x="481.65" y="169.8" width="2.71" height="96.3" fill="url(#g188)"/>
<rect x="483.16" y="169.8" width="2.71" height="96.3" fill="url(#g189)"/>
<rect x="484.67" y="169.8" width="2.71" height="96.3" fill="url(#g190)"/>
<rect x="486.18" y="169.8" width="2.71" height="96.3" fill="url(#g191)"/>
<rect x="487.68" y="169.8" width="2.71" height="96.3" fill="url(#g192)"/>
<rect x="489.19" y="169.8" width="2.71" height="96.3" fill="url(#g193)"/>
<rect x="490.7" y="169.8" width="2.71" height="96.3" fill="url(#g194)"/>
<rect x="492.21" y="169.8" width="2.71" height="96.3" fill="url(#g195)"/>
<rect x="493.72" y="169.8" width="2.71" height="96.3" fill="url(#g196)"/>
<rect x="495.23" y="169.8" width="2.71" height="96.3" fill="url(#g197)"/>
<rect x="496.73" y="169.8" width="2.71" height="96.3" fill="url(#g198)"/>
<rect x="498.24" y="169.8" width="2.71" height="96.3" fill="url(#g199)"/>
<rect x="499.75" y="169.8" width="2.71" height="96.3" fill="url(#g200)"/>
<rect x="501.26" y="169.8" width="2.71" height="96.3" fill="url(#g201)"/>
<rect x="502.77" y="169.8" width="2.71" height="96.3" fill="url(#g202)"/>
<rect x="504.28" y="169.8" width="2.71" height="96.3" fill="url(#g203)"/>
<rect x="505.78" y="169.8" width="2.71" height="96.3" fill="url(#g204)"/>
<rect x="507.29" y="169.8" width="2.71" height="96.3" fill="url(#g205)"/>
</g></g>
<text x="411.84" y="272.49" font-size="6.65" text-anchor="middle" >500</text>
<text x="431.23" y="272.49" font-size="6.65" text-anchor="middle" >1000</text>
<text x="450.62" y="272.49" font-size="6.65" text-anchor="middle" >1500</text>
<text x="470.01" y="272.49" font-size="6.65" text-anchor="middle" >2000</text>
<text x="489.41" y="272.49" font-size="6.65" text-anchor="middle" >2500</text>
<text x="508.5" y="272.49" font-size="6.65" text-anchor="middle" >3000</text>
<text x="399.6" y="182.69" font-size="6.65" text-anchor="end" >200</text>
<text x="399.6" y="204.09" font-size="6.65" text-anchor="end" >400</text>
<text x="399.6" y="225.49" font-size="6.65" text-anchor="end" >600</text>
<text x="399.6" y="246.89" font-size="6.65" text-anchor="end" >800</text>
<text x="399.6" y="268.69" font-size="6.65" text-anchor="end" >1000</text>
<text x="457" y="278.7" font-size="6.65" text-anchor="middle" >x (m)</text>
<text x="387.4" y="221" font-size="6.65" text-anchor="middle" transform="rotate(-90 387.4 221)" ><tspan font-style="italic">z</tspan> (m)</text>
<text x="452.6" y="155.2" font-size="6.65" text-anchor="middle" textLength="122.8" lengthAdjust="spacingAndGlyphs" >Combination matrix ([<tspan font-style="italic" font-weight="bold">d</tspan><tspan font-size="3" dy="1.1" stroke="none">ΔTx</tspan><tspan dy="-1.1">;</tspan><tspan font-style="italic" font-weight="bold">d</tspan><tspan font-size="3" dy="1.1" stroke="none">ΔTy</tspan><tspan dy="-1.1">;</tspan><tspan font-style="italic" font-weight="bold">d</tspan><tspan font-size="3" dy="1.1" stroke="none">ΔTz</tspan><tspan dy="-1.1"></tspan>]) inversion</text>
<text x="452.6" y="161.7" font-size="6.65" text-anchor="middle" textLength="118.7" lengthAdjust="spacingAndGlyphs" >by the data constraint joint inversion method</text>
<path d="M453 165.3V169.8" stroke="#2a2a2a" stroke-width="0.7"/>
<text x="393.6" y="169" font-size="8.6" text-anchor="middle" >(f)</text>
<rect x="435.5" y="190.6" width="12" height="21.6" rx="1" fill="none" stroke="#1a1a1a" stroke-width="0.95" stroke-dasharray="1.9 1.25"/>
<rect x="466.9" y="202.5" width="19.9" height="43.3" rx="1" fill="none" stroke="#1a1a1a" stroke-width="0.95" stroke-dasharray="1.9 1.25"/>
<rect x="519.9" y="170.9" width="7.3" height="93.9" fill="url(#cb206)"/>
<text x="528.5" y="266.99" font-size="6.65" text-anchor="start" >0</text>
<text x="528.5" y="245.88" font-size="6.65" text-anchor="start" >0.012</text>
<text x="528.5" y="224.77" font-size="6.65" text-anchor="start" >0.025</text>
<text x="528.5" y="203.66" font-size="6.65" text-anchor="start" >0.037</text>
<text x="528.5" y="182.55" font-size="6.65" text-anchor="start" >0.050</text>
<text x="523.5" y="169.3" font-size="6.65" text-anchor="middle" >SI</text>
<g><g clip-path="url(#cp207)">
<rect x="44.8" y="323.5" width="2.69" height="95.8" fill="url(#g208)"/>
<rect x="46.29" y="323.5" width="2.69" height="95.8" fill="url(#g209)"/>
<rect x="47.78" y="323.5" width="2.69" height="95.8" fill="url(#g210)"/>
<rect x="49.28" y="323.5" width="2.69" height="95.8" fill="url(#g211)"/>
<rect x="50.77" y="323.5" width="2.69" height="95.8" fill="url(#g212)"/>
<rect x="52.26" y="323.5" width="2.69" height="95.8" fill="url(#g213)"/>
<rect x="53.75" y="323.5" width="2.69" height="95.8" fill="url(#g214)"/>
<rect x="55.24" y="323.5" width="2.69" height="95.8" fill="url(#g215)"/>
<rect x="56.73" y="323.5" width="2.69" height="95.8" fill="url(#g216)"/>
<rect x="58.23" y="323.5" width="2.69" height="95.8" fill="url(#g217)"/>
<rect x="59.72" y="323.5" width="2.69" height="95.8" fill="url(#g218)"/>
<rect x="61.21" y="323.5" width="2.69" height="95.8" fill="url(#g219)"/>
<rect x="62.7" y="323.5" width="2.69" height="95.8" fill="url(#g220)"/>
<rect x="64.19" y="323.5" width="2.69" height="95.8" fill="url(#g221)"/>
<rect x="65.68" y="323.5" width="2.69" height="95.8" fill="url(#g222)"/>
<rect x="67.18" y="323.5" width="2.69" height="95.8" fill="url(#g223)"/>
<rect x="68.67" y="323.5" width="2.69" height="95.8" fill="url(#g224)"/>
<rect x="70.16" y="323.5" width="2.69" height="95.8" fill="url(#g225)"/>
<rect x="71.65" y="323.5" width="2.69" height="95.8" fill="url(#g226)"/>
<rect x="73.14" y="323.5" width="2.69" height="95.8" fill="url(#g227)"/>
<rect x="74.64" y="323.5" width="2.69" height="95.8" fill="url(#g228)"/>
<rect x="76.13" y="323.5" width="2.69" height="95.8" fill="url(#g229)"/>
<rect x="77.62" y="323.5" width="2.69" height="95.8" fill="url(#g230)"/>
<rect x="79.11" y="323.5" width="2.69" height="95.8" fill="url(#g231)"/>
<rect x="80.6" y="323.5" width="2.69" height="95.8" fill="url(#g232)"/>
<rect x="82.09" y="323.5" width="2.69" height="95.8" fill="url(#g233)"/>
<rect x="83.59" y="323.5" width="2.69" height="95.8" fill="url(#g234)"/>
<rect x="85.08" y="323.5" width="2.69" height="95.8" fill="url(#g235)"/>
<rect x="86.57" y="323.5" width="2.69" height="95.8" fill="url(#g236)"/>
<rect x="88.06" y="323.5" width="2.69" height="95.8" fill="url(#g237)"/>
<rect x="89.55" y="323.5" width="2.69" height="95.8" fill="url(#g238)"/>
<rect x="91.05" y="323.5" width="2.69" height="95.8" fill="url(#g239)"/>
<rect x="92.54" y="323.5" width="2.69" height="95.8" fill="url(#g240)"/>
<rect x="94.03" y="323.5" width="2.69" height="95.8" fill="url(#g241)"/>
<rect x="95.52" y="323.5" width="2.69" height="95.8" fill="url(#g242)"/>
<rect x="97.01" y="323.5" width="2.69" height="95.8" fill="url(#g243)"/>
<rect x="98.5" y="323.5" width="2.69" height="95.8" fill="url(#g244)"/>
<rect x="100" y="323.5" width="2.69" height="95.8" fill="url(#g245)"/>
<rect x="101.49" y="323.5" width="2.69" height="95.8" fill="url(#g246)"/>
<rect x="102.98" y="323.5" width="2.69" height="95.8" fill="url(#g247)"/>
<rect x="104.47" y="323.5" width="2.69" height="95.8" fill="url(#g248)"/>
<rect x="105.96" y="323.5" width="2.69" height="95.8" fill="url(#g249)"/>
<rect x="107.45" y="323.5" width="2.69" height="95.8" fill="url(#g250)"/>
<rect x="108.95" y="323.5" width="2.69" height="95.8" fill="url(#g251)"/>
<rect x="110.44" y="323.5" width="2.69" height="95.8" fill="url(#g252)"/>
<rect x="111.93" y="323.5" width="2.69" height="95.8" fill="url(#g253)"/>
<rect x="113.42" y="323.5" width="2.69" height="95.8" fill="url(#g254)"/>
<rect x="114.91" y="323.5" width="2.69" height="95.8" fill="url(#g255)"/>
<rect x="116.41" y="323.5" width="2.69" height="95.8" fill="url(#g256)"/>
<rect x="117.9" y="323.5" width="2.69" height="95.8" fill="url(#g257)"/>
<rect x="119.39" y="323.5" width="2.69" height="95.8" fill="url(#g258)"/>
<rect x="120.88" y="323.5" width="2.69" height="95.8" fill="url(#g259)"/>
<rect x="122.37" y="323.5" width="2.69" height="95.8" fill="url(#g260)"/>
<rect x="123.86" y="323.5" width="2.69" height="95.8" fill="url(#g261)"/>
<rect x="125.36" y="323.5" width="2.69" height="95.8" fill="url(#g262)"/>
<rect x="126.85" y="323.5" width="2.69" height="95.8" fill="url(#g263)"/>
<rect x="128.34" y="323.5" width="2.69" height="95.8" fill="url(#g264)"/>
<rect x="129.83" y="323.5" width="2.69" height="95.8" fill="url(#g265)"/>
<rect x="131.32" y="323.5" width="2.69" height="95.8" fill="url(#g266)"/>
<rect x="132.82" y="323.5" width="2.69" height="95.8" fill="url(#g267)"/>
<rect x="134.31" y="323.5" width="2.69" height="95.8" fill="url(#g268)"/>
<rect x="135.8" y="323.5" width="2.69" height="95.8" fill="url(#g269)"/>
<rect x="137.29" y="323.5" width="2.69" height="95.8" fill="url(#g270)"/>
<rect x="138.78" y="323.5" width="2.69" height="95.8" fill="url(#g271)"/>
<rect x="140.27" y="323.5" width="2.69" height="95.8" fill="url(#g272)"/>
<rect x="141.77" y="323.5" width="2.69" height="95.8" fill="url(#g273)"/>
<rect x="143.26" y="323.5" width="2.69" height="95.8" fill="url(#g274)"/>
<rect x="144.75" y="323.5" width="2.69" height="95.8" fill="url(#g275)"/>
<rect x="146.24" y="323.5" width="2.69" height="95.8" fill="url(#g276)"/>
<rect x="147.73" y="323.5" width="2.69" height="95.8" fill="url(#g277)"/>
<rect x="149.22" y="323.5" width="2.69" height="95.8" fill="url(#g278)"/>
<rect x="150.72" y="323.5" width="2.69" height="95.8" fill="url(#g279)"/>
<rect x="152.21" y="323.5" width="2.69" height="95.8" fill="url(#g280)"/>
</g></g>
<text x="56.47" y="425.79" font-size="6.65" text-anchor="middle" >500</text>
<text x="75.91" y="425.79" font-size="6.65" text-anchor="middle" >1000</text>
<text x="95.36" y="425.79" font-size="6.65" text-anchor="middle" >1500</text>
<text x="114.81" y="425.79" font-size="6.65" text-anchor="middle" >2000</text>
<text x="134.25" y="425.79" font-size="6.65" text-anchor="middle" >2500</text>
<text x="153.4" y="425.79" font-size="6.65" text-anchor="middle" >3000</text>
<text x="44.2" y="336.34" font-size="6.65" text-anchor="end" >200</text>
<text x="44.2" y="357.63" font-size="6.65" text-anchor="end" >400</text>
<text x="44.2" y="378.92" font-size="6.65" text-anchor="end" >600</text>
<text x="44.2" y="400.21" font-size="6.65" text-anchor="end" >800</text>
<text x="44.2" y="421.89" font-size="6.65" text-anchor="end" >1000</text>
<text x="100.9" y="432.2" font-size="6.65" text-anchor="middle" >x (m)</text>
<text x="32.1" y="374.3" font-size="6.65" text-anchor="middle" transform="rotate(-90 32.1 374.3)" ><tspan font-style="italic">z</tspan> (m)</text>
<text x="97" y="309.3" font-size="6.65" text-anchor="middle" textLength="133.7" lengthAdjust="spacingAndGlyphs" >Combination matrix  ([<tspan font-style="italic" font-weight="bold">d</tspan><tspan font-size="3" dy="1.1" stroke="none">ΔT</tspan><tspan dy="-1.1">;</tspan><tspan font-style="italic" font-weight="bold">d</tspan><tspan font-size="3" dy="1.1" stroke="none">ΔTx</tspan><tspan dy="-1.1">;</tspan><tspan font-style="italic" font-weight="bold">d</tspan><tspan font-size="3" dy="1.1" stroke="none">ΔTy</tspan><tspan dy="-1.1">;</tspan><tspan font-style="italic" font-weight="bold">d</tspan><tspan font-size="3" dy="1.1" stroke="none">ΔTz</tspan><tspan dy="-1.1"></tspan>]) inversion</text>
<text x="97" y="315.7" font-size="6.65" text-anchor="middle" textLength="118.2" lengthAdjust="spacingAndGlyphs" >by the data constraint joint inversion method</text>
<path d="M97.75 319V323.5" stroke="#2a2a2a" stroke-width="0.7"/>
<text x="36.2" y="322.7" font-size="8.6" text-anchor="middle" >(g)</text>
<rect x="79.7" y="344.2" width="12" height="22.1" rx="1" fill="none" stroke="#1a1a1a" stroke-width="0.95" stroke-dasharray="1.9 1.25"/>
<rect x="111.9" y="356.2" width="19.4" height="42.9" rx="1" fill="none" stroke="#1a1a1a" stroke-width="0.95" stroke-dasharray="1.9 1.25"/>
<rect x="164.7" y="323.1" width="7.5" height="95.3" fill="url(#cb281)"/>
<text x="173.5" y="420.59" font-size="6.65" text-anchor="start" >0</text>
<text x="173.5" y="401.19" font-size="6.65" text-anchor="start" >0.012</text>
<text x="173.5" y="381.79" font-size="6.65" text-anchor="start" >0.025</text>
<text x="173.5" y="362.39" font-size="6.65" text-anchor="start" >0.037</text>
<text x="173.5" y="342.99" font-size="6.65" text-anchor="start" >0.050</text>
<text x="168.6" y="320.8" font-size="6.65" text-anchor="middle" >SI</text>
<g><g clip-path="url(#cp282)">
<rect x="227.6" y="323.1" width="2.71" height="96.2" fill="url(#g283)"/>
<rect x="229.11" y="323.1" width="2.71" height="96.2" fill="url(#g284)"/>
<rect x="230.61" y="323.1" width="2.71" height="96.2" fill="url(#g285)"/>
<rect x="232.12" y="323.1" width="2.71" height="96.2" fill="url(#g286)"/>
<rect x="233.63" y="323.1" width="2.71" height="96.2" fill="url(#g287)"/>
<rect x="235.13" y="323.1" width="2.71" height="96.2" fill="url(#g288)"/>
<rect x="236.64" y="323.1" width="2.71" height="96.2" fill="url(#g289)"/>
<rect x="238.15" y="323.1" width="2.71" height="96.2" fill="url(#g290)"/>
<rect x="239.66" y="323.1" width="2.71" height="96.2" fill="url(#g291)"/>
<rect x="241.16" y="323.1" width="2.71" height="96.2" fill="url(#g292)"/>
<rect x="242.67" y="323.1" width="2.71" height="96.2" fill="url(#g293)"/>
<rect x="244.18" y="323.1" width="2.71" height="96.2" fill="url(#g294)"/>
<rect x="245.68" y="323.1" width="2.71" height="96.2" fill="url(#g295)"/>
<rect x="247.19" y="323.1" width="2.71" height="96.2" fill="url(#g296)"/>
<rect x="248.7" y="323.1" width="2.71" height="96.2" fill="url(#g297)"/>
<rect x="250.2" y="323.1" width="2.71" height="96.2" fill="url(#g298)"/>
<rect x="251.71" y="323.1" width="2.71" height="96.2" fill="url(#g299)"/>
<rect x="253.22" y="323.1" width="2.71" height="96.2" fill="url(#g300)"/>
<rect x="254.72" y="323.1" width="2.71" height="96.2" fill="url(#g301)"/>
<rect x="256.23" y="323.1" width="2.71" height="96.2" fill="url(#g302)"/>
<rect x="257.74" y="323.1" width="2.71" height="96.2" fill="url(#g303)"/>
<rect x="259.25" y="323.1" width="2.71" height="96.2" fill="url(#g304)"/>
<rect x="260.75" y="323.1" width="2.71" height="96.2" fill="url(#g305)"/>
<rect x="262.26" y="323.1" width="2.71" height="96.2" fill="url(#g306)"/>
<rect x="263.77" y="323.1" width="2.71" height="96.2" fill="url(#g307)"/>
<rect x="265.27" y="323.1" width="2.71" height="96.2" fill="url(#g308)"/>
<rect x="266.78" y="323.1" width="2.71" height="96.2" fill="url(#g309)"/>
<rect x="268.29" y="323.1" width="2.71" height="96.2" fill="url(#g310)"/>
<rect x="269.79" y="323.1" width="2.71" height="96.2" fill="url(#g311)"/>
<rect x="271.3" y="323.1" width="2.71" height="96.2" fill="url(#g312)"/>
<rect x="272.81" y="323.1" width="2.71" height="96.2" fill="url(#g313)"/>
<rect x="274.32" y="323.1" width="2.71" height="96.2" fill="url(#g314)"/>
<rect x="275.82" y="323.1" width="2.71" height="96.2" fill="url(#g315)"/>
<rect x="277.33" y="323.1" width="2.71" height="96.2" fill="url(#g316)"/>
<rect x="278.84" y="323.1" width="2.71" height="96.2" fill="url(#g317)"/>
<rect x="280.34" y="323.1" width="2.71" height="96.2" fill="url(#g318)"/>
<rect x="281.85" y="323.1" width="2.71" height="96.2" fill="url(#g319)"/>
<rect x="283.36" y="323.1" width="2.71" height="96.2" fill="url(#g320)"/>
<rect x="284.86" y="323.1" width="2.71" height="96.2" fill="url(#g321)"/>
<rect x="286.37" y="323.1" width="2.71" height="96.2" fill="url(#g322)"/>
<rect x="287.88" y="323.1" width="2.71" height="96.2" fill="url(#g323)"/>
<rect x="289.38" y="323.1" width="2.71" height="96.2" fill="url(#g324)"/>
<rect x="290.89" y="323.1" width="2.71" height="96.2" fill="url(#g325)"/>
<rect x="292.4" y="323.1" width="2.71" height="96.2" fill="url(#g326)"/>
<rect x="293.91" y="323.1" width="2.71" height="96.2" fill="url(#g327)"/>
<rect x="295.41" y="323.1" width="2.71" height="96.2" fill="url(#g328)"/>
<rect x="296.92" y="323.1" width="2.71" height="96.2" fill="url(#g329)"/>
<rect x="298.43" y="323.1" width="2.71" height="96.2" fill="url(#g330)"/>
<rect x="299.93" y="323.1" width="2.71" height="96.2" fill="url(#g331)"/>
<rect x="301.44" y="323.1" width="2.71" height="96.2" fill="url(#g332)"/>
<rect x="302.95" y="323.1" width="2.71" height="96.2" fill="url(#g333)"/>
<rect x="304.45" y="323.1" width="2.71" height="96.2" fill="url(#g334)"/>
<rect x="305.96" y="323.1" width="2.71" height="96.2" fill="url(#g335)"/>
<rect x="307.47" y="323.1" width="2.71" height="96.2" fill="url(#g336)"/>
<rect x="308.98" y="323.1" width="2.71" height="96.2" fill="url(#g337)"/>
<rect x="310.48" y="323.1" width="2.71" height="96.2" fill="url(#g338)"/>
<rect x="311.99" y="323.1" width="2.71" height="96.2" fill="url(#g339)"/>
<rect x="313.5" y="323.1" width="2.71" height="96.2" fill="url(#g340)"/>
<rect x="315" y="323.1" width="2.71" height="96.2" fill="url(#g341)"/>
<rect x="316.51" y="323.1" width="2.71" height="96.2" fill="url(#g342)"/>
<rect x="318.02" y="323.1" width="2.71" height="96.2" fill="url(#g343)"/>
<rect x="319.52" y="323.1" width="2.71" height="96.2" fill="url(#g344)"/>
<rect x="321.03" y="323.1" width="2.71" height="96.2" fill="url(#g345)"/>
<rect x="322.54" y="323.1" width="2.71" height="96.2" fill="url(#g346)"/>
<rect x="324.04" y="323.1" width="2.71" height="96.2" fill="url(#g347)"/>
<rect x="325.55" y="323.1" width="2.71" height="96.2" fill="url(#g348)"/>
<rect x="327.06" y="323.1" width="2.71" height="96.2" fill="url(#g349)"/>
<rect x="328.57" y="323.1" width="2.71" height="96.2" fill="url(#g350)"/>
<rect x="330.07" y="323.1" width="2.71" height="96.2" fill="url(#g351)"/>
<rect x="331.58" y="323.1" width="2.71" height="96.2" fill="url(#g352)"/>
<rect x="333.09" y="323.1" width="2.71" height="96.2" fill="url(#g353)"/>
<rect x="334.59" y="323.1" width="2.71" height="96.2" fill="url(#g354)"/>
</g></g>
<text x="239.22" y="425.19" font-size="6.65" text-anchor="middle" >500</text>
<text x="258.6" y="425.19" font-size="6.65" text-anchor="middle" >1000</text>
<text x="277.98" y="425.19" font-size="6.65" text-anchor="middle" >1500</text>
<text x="297.35" y="425.19" font-size="6.65" text-anchor="middle" >2000</text>
<text x="316.73" y="425.19" font-size="6.65" text-anchor="middle" >2500</text>
<text x="335.8" y="425.19" font-size="6.65" text-anchor="middle" >3000</text>
<text x="227" y="335.98" font-size="6.65" text-anchor="end" >200</text>
<text x="227" y="357.36" font-size="6.65" text-anchor="end" >400</text>
<text x="227" y="378.74" font-size="6.65" text-anchor="end" >600</text>
<text x="227" y="400.12" font-size="6.65" text-anchor="end" >800</text>
<text x="227" y="421.89" font-size="6.65" text-anchor="end" >1000</text>
<text x="282" y="431.6" font-size="6.65" text-anchor="middle" >x (m)</text>
<text x="213.9" y="374" font-size="6.65" text-anchor="middle" transform="rotate(-90 213.9 374)" ><tspan font-style="italic">z</tspan> (m)</text>
<text x="280" y="308" font-size="6.65" text-anchor="middle" textLength="89.8" lengthAdjust="spacingAndGlyphs" >Magnetic anomaly (<tspan font-style="italic" font-weight="bold">d</tspan><tspan font-size="3" dy="1.1" stroke="none">ΔT</tspan><tspan dy="-1.1"></tspan>) inversion</text>
<text x="280" y="314.8" font-size="6.65" text-anchor="middle" textLength="79.1" lengthAdjust="spacingAndGlyphs" >by the cross<tspan font-size="5">−</tspan>gradient method</text>
<path d="M280.35 318.6V323.1" stroke="#2a2a2a" stroke-width="0.7"/>
<text x="220.8" y="319.7" font-size="8.6" text-anchor="middle" >(h)</text>
<rect x="262.9" y="343.9" width="12.1" height="21.5" rx="1" fill="none" stroke="#1a1a1a" stroke-width="0.95" stroke-dasharray="1.9 1.25"/>
<rect x="294.5" y="355.8" width="19.5" height="43.3" rx="1" fill="none" stroke="#1a1a1a" stroke-width="0.95" stroke-dasharray="1.9 1.25"/>
<rect x="346.5" y="323.5" width="7.6" height="94" fill="url(#cb355)"/>
<text x="355.4" y="419.69" font-size="6.65" text-anchor="start" >0</text>
<text x="355.4" y="409.25" font-size="6.65" text-anchor="start" >0.005</text>
<text x="355.4" y="398.81" font-size="6.65" text-anchor="start" >0.010</text>
<text x="355.4" y="388.36" font-size="6.65" text-anchor="start" >0.015</text>
<text x="355.4" y="377.92" font-size="6.65" text-anchor="start" >0.020</text>
<text x="355.4" y="367.47" font-size="6.65" text-anchor="start" >0.025</text>
<text x="355.4" y="357.03" font-size="6.65" text-anchor="start" >0.030</text>
<text x="355.4" y="346.58" font-size="6.65" text-anchor="start" >0.035</text>
<text x="355.4" y="336.14" font-size="6.65" text-anchor="start" >0.040</text>
<text x="355.4" y="325.69" font-size="6.65" text-anchor="start" >0.045</text>
<text x="350.2" y="320.8" font-size="6.65" text-anchor="middle" >SI</text>
<g><g clip-path="url(#cp356)">
<rect x="399.9" y="323.1" width="2.69" height="96.2" fill="url(#g357)"/>
<rect x="401.39" y="323.1" width="2.69" height="96.2" fill="url(#g358)"/>
<rect x="402.88" y="323.1" width="2.69" height="96.2" fill="url(#g359)"/>
<rect x="404.38" y="323.1" width="2.69" height="96.2" fill="url(#g360)"/>
<rect x="405.87" y="323.1" width="2.69" height="96.2" fill="url(#g361)"/>
<rect x="407.36" y="323.1" width="2.69" height="96.2" fill="url(#g362)"/>
<rect x="408.85" y="323.1" width="2.69" height="96.2" fill="url(#g363)"/>
<rect x="410.34" y="323.1" width="2.69" height="96.2" fill="url(#g364)"/>
<rect x="411.83" y="323.1" width="2.69" height="96.2" fill="url(#g365)"/>
<rect x="413.33" y="323.1" width="2.69" height="96.2" fill="url(#g366)"/>
<rect x="414.82" y="323.1" width="2.69" height="96.2" fill="url(#g367)"/>
<rect x="416.31" y="323.1" width="2.69" height="96.2" fill="url(#g368)"/>
<rect x="417.8" y="323.1" width="2.69" height="96.2" fill="url(#g369)"/>
<rect x="419.29" y="323.1" width="2.69" height="96.2" fill="url(#g370)"/>
<rect x="420.78" y="323.1" width="2.69" height="96.2" fill="url(#g371)"/>
<rect x="422.28" y="323.1" width="2.69" height="96.2" fill="url(#g372)"/>
<rect x="423.77" y="323.1" width="2.69" height="96.2" fill="url(#g373)"/>
<rect x="425.26" y="323.1" width="2.69" height="96.2" fill="url(#g374)"/>
<rect x="426.75" y="323.1" width="2.69" height="96.2" fill="url(#g375)"/>
<rect x="428.24" y="323.1" width="2.69" height="96.2" fill="url(#g376)"/>
<rect x="429.74" y="323.1" width="2.69" height="96.2" fill="url(#g377)"/>
<rect x="431.23" y="323.1" width="2.69" height="96.2" fill="url(#g378)"/>
<rect x="432.72" y="323.1" width="2.69" height="96.2" fill="url(#g379)"/>
<rect x="434.21" y="323.1" width="2.69" height="96.2" fill="url(#g380)"/>
<rect x="435.7" y="323.1" width="2.69" height="96.2" fill="url(#g381)"/>
<rect x="437.19" y="323.1" width="2.69" height="96.2" fill="url(#g382)"/>
<rect x="438.69" y="323.1" width="2.69" height="96.2" fill="url(#g383)"/>
<rect x="440.18" y="323.1" width="2.69" height="96.2" fill="url(#g384)"/>
<rect x="441.67" y="323.1" width="2.69" height="96.2" fill="url(#g385)"/>
<rect x="443.16" y="323.1" width="2.69" height="96.2" fill="url(#g386)"/>
<rect x="444.65" y="323.1" width="2.69" height="96.2" fill="url(#g387)"/>
<rect x="446.15" y="323.1" width="2.69" height="96.2" fill="url(#g388)"/>
<rect x="447.64" y="323.1" width="2.69" height="96.2" fill="url(#g389)"/>
<rect x="449.13" y="323.1" width="2.69" height="96.2" fill="url(#g390)"/>
<rect x="450.62" y="323.1" width="2.69" height="96.2" fill="url(#g391)"/>
<rect x="452.11" y="323.1" width="2.69" height="96.2" fill="url(#g392)"/>
<rect x="453.6" y="323.1" width="2.69" height="96.2" fill="url(#g393)"/>
<rect x="455.1" y="323.1" width="2.69" height="96.2" fill="url(#g394)"/>
<rect x="456.59" y="323.1" width="2.69" height="96.2" fill="url(#g395)"/>
<rect x="458.08" y="323.1" width="2.69" height="96.2" fill="url(#g396)"/>
<rect x="459.57" y="323.1" width="2.69" height="96.2" fill="url(#g397)"/>
<rect x="461.06" y="323.1" width="2.69" height="96.2" fill="url(#g398)"/>
<rect x="462.55" y="323.1" width="2.69" height="96.2" fill="url(#g399)"/>
<rect x="464.05" y="323.1" width="2.69" height="96.2" fill="url(#g400)"/>
<rect x="465.54" y="323.1" width="2.69" height="96.2" fill="url(#g401)"/>
<rect x="467.03" y="323.1" width="2.69" height="96.2" fill="url(#g402)"/>
<rect x="468.52" y="323.1" width="2.69" height="96.2" fill="url(#g403)"/>
<rect x="470.01" y="323.1" width="2.69" height="96.2" fill="url(#g404)"/>
<rect x="471.51" y="323.1" width="2.69" height="96.2" fill="url(#g405)"/>
<rect x="473" y="323.1" width="2.69" height="96.2" fill="url(#g406)"/>
<rect x="474.49" y="323.1" width="2.69" height="96.2" fill="url(#g407)"/>
<rect x="475.98" y="323.1" width="2.69" height="96.2" fill="url(#g408)"/>
<rect x="477.47" y="323.1" width="2.69" height="96.2" fill="url(#g409)"/>
<rect x="478.96" y="323.1" width="2.69" height="96.2" fill="url(#g410)"/>
<rect x="480.46" y="323.1" width="2.69" height="96.2" fill="url(#g411)"/>
<rect x="481.95" y="323.1" width="2.69" height="96.2" fill="url(#g412)"/>
<rect x="483.44" y="323.1" width="2.69" height="96.2" fill="url(#g413)"/>
<rect x="484.93" y="323.1" width="2.69" height="96.2" fill="url(#g414)"/>
<rect x="486.42" y="323.1" width="2.69" height="96.2" fill="url(#g415)"/>
<rect x="487.92" y="323.1" width="2.69" height="96.2" fill="url(#g416)"/>
<rect x="489.41" y="323.1" width="2.69" height="96.2" fill="url(#g417)"/>
<rect x="490.9" y="323.1" width="2.69" height="96.2" fill="url(#g418)"/>
<rect x="492.39" y="323.1" width="2.69" height="96.2" fill="url(#g419)"/>
<rect x="493.88" y="323.1" width="2.69" height="96.2" fill="url(#g420)"/>
<rect x="495.37" y="323.1" width="2.69" height="96.2" fill="url(#g421)"/>
<rect x="496.87" y="323.1" width="2.69" height="96.2" fill="url(#g422)"/>
<rect x="498.36" y="323.1" width="2.69" height="96.2" fill="url(#g423)"/>
<rect x="499.85" y="323.1" width="2.69" height="96.2" fill="url(#g424)"/>
<rect x="501.34" y="323.1" width="2.69" height="96.2" fill="url(#g425)"/>
<rect x="502.83" y="323.1" width="2.69" height="96.2" fill="url(#g426)"/>
<rect x="504.32" y="323.1" width="2.69" height="96.2" fill="url(#g427)"/>
<rect x="505.82" y="323.1" width="2.69" height="96.2" fill="url(#g428)"/>
<rect x="507.31" y="323.1" width="2.69" height="96.2" fill="url(#g429)"/>
</g></g>
<text x="411.57" y="425.19" font-size="6.65" text-anchor="middle" >500</text>
<text x="431.01" y="425.19" font-size="6.65" text-anchor="middle" >1000</text>
<text x="450.46" y="425.19" font-size="6.65" text-anchor="middle" >1500</text>
<text x="469.91" y="425.19" font-size="6.65" text-anchor="middle" >2000</text>
<text x="489.35" y="425.19" font-size="6.65" text-anchor="middle" >2500</text>
<text x="508.5" y="425.19" font-size="6.65" text-anchor="middle" >3000</text>
<text x="399.3" y="335.98" font-size="6.65" text-anchor="end" >200</text>
<text x="399.3" y="357.36" font-size="6.65" text-anchor="end" >400</text>
<text x="399.3" y="378.74" font-size="6.65" text-anchor="end" >600</text>
<text x="399.3" y="400.12" font-size="6.65" text-anchor="end" >800</text>
<text x="399.3" y="421.89" font-size="6.65" text-anchor="end" >1000</text>
<text x="456.8" y="431.6" font-size="6.65" text-anchor="middle" >x (m)</text>
<text x="385.7" y="374" font-size="6.65" text-anchor="middle" transform="rotate(-90 385.7 374)" ><tspan font-style="italic">z</tspan> (m)</text>
<text x="456.2" y="308" font-size="6.65" text-anchor="middle" textLength="122.4" lengthAdjust="spacingAndGlyphs" >Combination matrix ([<tspan font-style="italic" font-weight="bold">d</tspan><tspan font-size="3" dy="1.1" stroke="none">ΔTx</tspan><tspan dy="-1.1">;</tspan><tspan font-style="italic" font-weight="bold">d</tspan><tspan font-size="3" dy="1.1" stroke="none">ΔTy</tspan><tspan dy="-1.1">;</tspan><tspan font-style="italic" font-weight="bold">d</tspan><tspan font-size="3" dy="1.1" stroke="none">ΔTz</tspan><tspan dy="-1.1"></tspan>]) inversion</text>
<text x="456.2" y="314.8" font-size="6.65" text-anchor="middle" textLength="78.7" lengthAdjust="spacingAndGlyphs" >by the cross<tspan font-size="5">−</tspan>gradient method</text>
<path d="M452.85 318.6V323.1" stroke="#2a2a2a" stroke-width="0.7"/>
<text x="395" y="321.2" font-size="8.6" text-anchor="middle" >(i)</text>
<rect x="435.1" y="343.9" width="11.4" height="21.8" rx="1" fill="none" stroke="#1a1a1a" stroke-width="0.95" stroke-dasharray="1.9 1.25"/>
<rect x="466.3" y="355.8" width="20.5" height="43.3" rx="1" fill="none" stroke="#1a1a1a" stroke-width="0.95" stroke-dasharray="1.9 1.25"/>
<rect x="519.9" y="322.7" width="7.9" height="95.7" fill="url(#cb430)"/>
<text x="529.1" y="420.59" font-size="6.65" text-anchor="start" >0</text>
<text x="529.1" y="404.49" font-size="6.65" text-anchor="start" >0.012</text>
<text x="529.1" y="388.39" font-size="6.65" text-anchor="start" >0.025</text>
<text x="529.1" y="372.29" font-size="6.65" text-anchor="start" >0.037</text>
<text x="529.1" y="356.19" font-size="6.65" text-anchor="start" >0.050</text>
<text x="529.1" y="340.09" font-size="6.65" text-anchor="start" >0.062</text>
<text x="523.5" y="320.3" font-size="6.65" text-anchor="middle" >SI</text>
</svg>
</body></html>
